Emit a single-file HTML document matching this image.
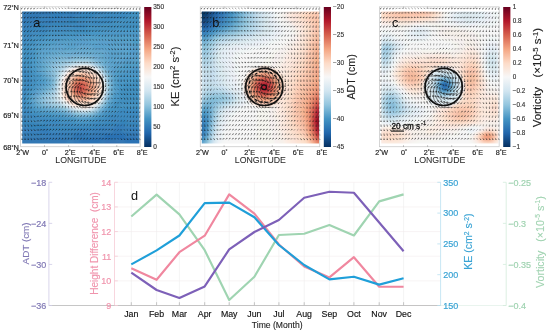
<!DOCTYPE html>
<html><head><meta charset="utf-8"><title>Figure</title>
<style>
html,body{margin:0;padding:0;background:#fff;width:550px;height:333px;overflow:hidden}
svg{display:block;will-change:transform}
text{font-family:"Liberation Sans",sans-serif}
</style></head><body>
<svg width="550" height="333" viewBox="0 0 550 333"><defs><filter id="bl" x="-5%" y="-5%" width="110%" height="110%"><feGaussianBlur stdDeviation="1.0"/></filter><clipPath id="dc"><rect x="1.8" y="4.9" width="117.2" height="132.1"/></clipPath><g id="arr"><path d="M2.4 1.1l-1.6 1.3l0.8 -0.2m-0.8 0.2l0.3 -0.8M5.5 1.1l-1.6 1.4l0.8 -0.2m-0.8 0.2l0.3 -0.8M8.6 1.1l-1.6 1.3l0.8 -0.2m-0.8 0.2l0.3 -0.8M11.7 1.2l-1.6 1.2l0.8 -0.1m-0.8 0.1l0.4 -0.8M14.9 1.3l-1.7 1.0l0.8 -0.0m-0.8 0.0l0.4 -0.7M18.0 1.5l-1.9 0.7M21.2 1.7l-2.0 0.2M24.3 2.0l-1.9 -0.4M27.3 2.2l-1.8 -0.9M30.3 2.4l-1.6 -1.2M33.4 2.4l-1.5 -1.3M36.4 2.5l-1.5 -1.3M39.6 2.4l-1.6 -1.3M42.7 2.3l-1.7 -1.1M45.9 2.2l-1.8 -0.8M49.1 2.0l-2.0 -0.4M52.2 1.7l-2.0 0.1M55.3 1.5l-1.9 0.5l0.8 0.2m-0.8 -0.2l0.6 -0.6M58.3 1.4l-1.9 0.8l0.8 0.1m-0.8 -0.1l0.5 -0.7M61.4 1.3l-1.8 1.0l0.8 -0.0m-0.8 0.0l0.5 -0.7M64.5 1.3l-1.8 1.1l0.8 -0.0m-0.8 0.0l0.4 -0.7M67.6 1.2l-1.7 1.1l0.9 -0.1m-0.9 0.1l0.4 -0.7M70.7 1.2l-1.8 1.1l0.9 -0.1m-0.9 0.1l0.4 -0.7M73.8 1.3l-1.8 1.0l0.9 -0.0m-0.9 0.0l0.4 -0.7M76.9 1.3l-1.9 0.9l0.9 0.0m-0.9 -0.0l0.5 -0.7M80.1 1.4l-1.9 0.8l0.9 0.1m-0.9 -0.1l0.5 -0.7M83.2 1.5l-2.0 0.6l0.8 0.2m-0.8 -0.2l0.6 -0.6M86.3 1.6l-2.1 0.5l0.8 0.2m-0.8 -0.2l0.6 -0.6M89.4 1.6l-2.1 0.3l0.8 0.3m-0.8 -0.3l0.7 -0.5M92.5 1.7l-2.1 0.3l0.8 0.3m-0.8 -0.3l0.7 -0.5M95.6 1.6l-2.1 0.4l0.8 0.3m-0.8 -0.3l0.7 -0.5M98.7 1.5l-2.0 0.6l0.8 0.2m-0.8 -0.2l0.6 -0.6M101.7 1.3l-1.9 1.0l0.9 0.0m-0.9 -0.0l0.5 -0.7M104.7 1.1l-1.6 1.4l0.8 -0.2m-0.8 0.2l0.3 -0.8M107.7 1.0l-1.3 1.7l0.8 -0.3m-0.8 0.3l0.1 -0.9M110.6 0.9l-1.1 1.9l0.7 -0.5m-0.7 0.5l0.0 -0.9M113.7 0.8l-0.9 2.0l0.7 -0.5m-0.7 0.5l-0.1 -0.9M116.7 0.8l-0.8 2.1l0.7 -0.6m-0.7 0.6l-0.1 -0.9M119.7 0.7l-0.7 2.1l0.6 -0.6m-0.6 0.6l-0.2 -0.9M2.5 5.7l-1.8 1.2l0.9 -0.1m-0.9 0.1l0.4 -0.8M5.6 5.7l-1.8 1.2l0.9 -0.1m-0.9 0.1l0.4 -0.8M8.7 5.7l-1.8 1.2l0.9 -0.1m-0.9 0.1l0.4 -0.8M11.8 5.8l-1.8 1.1l0.9 -0.0m-0.9 0.0l0.4 -0.7M14.9 5.8l-1.9 0.9l0.9 0.0m-0.9 -0.0l0.5 -0.7M18.1 5.9l-2.0 0.7l0.8 0.1m-0.8 -0.1l0.6 -0.6M21.2 6.1l-2.0 0.5l0.8 0.2m-0.8 -0.2l0.6 -0.6M24.3 6.2l-2.1 0.2l0.8 0.3m-0.8 -0.3l0.7 -0.5M27.4 6.3l-2.1 -0.1l0.7 0.4m-0.7 -0.4l0.8 -0.4M30.5 6.4l-2.1 -0.3l0.7 0.5m-0.7 -0.5l0.8 -0.3M33.6 6.5l-2.0 -0.4l0.7 0.6m-0.7 -0.6l0.8 -0.3M36.7 6.5l-2.0 -0.5l0.6 0.6m-0.6 -0.6l0.8 -0.2M39.8 6.6l-2.0 -0.5l0.6 0.6m-0.6 -0.6l0.8 -0.2M42.9 6.5l-2.1 -0.5l0.6 0.6m-0.6 -0.6l0.8 -0.2M46.0 6.5l-2.1 -0.4l0.7 0.5m-0.7 -0.5l0.8 -0.3M49.2 6.4l-2.1 -0.2l0.7 0.5m-0.7 -0.5l0.8 -0.3M52.3 6.3l-2.1 -0.0l0.8 0.4m-0.8 -0.4l0.8 -0.4M55.4 6.2l-2.1 0.2l0.8 0.4m-0.8 -0.4l0.7 -0.5M58.5 6.1l-2.1 0.3l0.8 0.3m-0.8 -0.3l0.7 -0.5M61.6 6.1l-2.1 0.5l0.8 0.2m-0.8 -0.2l0.6 -0.6M64.7 6.0l-2.1 0.6l0.9 0.2m-0.9 -0.2l0.6 -0.6M67.7 5.9l-2.1 0.7l0.9 0.2m-0.9 -0.2l0.6 -0.6M70.8 5.9l-2.1 0.8l0.9 0.1m-0.9 -0.1l0.6 -0.7M73.9 5.9l-2.1 0.8l0.9 0.1m-0.9 -0.1l0.6 -0.7M77.1 5.9l-2.1 0.7l0.9 0.1m-0.9 -0.1l0.6 -0.7M80.2 6.0l-2.1 0.7l0.9 0.2m-0.9 -0.2l0.6 -0.6M83.3 6.0l-2.2 0.6l0.9 0.2m-0.9 -0.2l0.6 -0.6M86.4 6.0l-2.2 0.5l0.8 0.2m-0.8 -0.2l0.7 -0.6M89.5 6.1l-2.2 0.5l0.8 0.3m-0.8 -0.3l0.7 -0.6M92.6 6.1l-2.2 0.4l0.8 0.3m-0.8 -0.3l0.7 -0.6M95.7 6.1l-2.2 0.5l0.8 0.2m-0.8 -0.2l0.7 -0.6M98.7 6.0l-2.1 0.6l0.9 0.2m-0.9 -0.2l0.6 -0.6M101.8 5.8l-2.0 0.9l0.9 0.0m-0.9 -0.0l0.5 -0.7M104.8 5.6l-1.7 1.3l0.9 -0.1m-0.9 0.1l0.4 -0.8M107.7 5.5l-1.5 1.6l0.8 -0.3m-0.8 0.3l0.2 -0.8M110.7 5.4l-1.2 1.8l0.8 -0.4m-0.8 0.4l0.1 -0.9M113.7 5.3l-1.0 2.0l0.7 -0.5m-0.7 0.5l-0.0 -0.9M116.7 5.3l-0.9 2.1l0.7 -0.6m-0.7 0.6l-0.1 -0.9M119.8 5.2l-0.7 2.1l0.6 -0.6m-0.6 0.6l-0.2 -0.9M2.6 10.3l-1.9 1.1l0.9 -0.0m-0.9 0.0l0.5 -0.7M5.6 10.2l-1.9 1.2l0.9 -0.0m-0.9 0.0l0.4 -0.8M8.8 10.2l-1.9 1.1l0.9 -0.0m-0.9 0.0l0.4 -0.8M11.9 10.3l-1.9 1.0l0.9 0.0m-0.9 -0.0l0.5 -0.7M15.0 10.3l-2.0 0.9l0.9 0.1m-0.9 -0.1l0.5 -0.7M18.1 10.4l-2.1 0.8l0.9 0.1m-0.9 -0.1l0.6 -0.7M21.3 10.5l-2.1 0.6l0.8 0.2m-0.8 -0.2l0.6 -0.6M24.4 10.6l-2.1 0.4l0.8 0.3m-0.8 -0.3l0.7 -0.5M27.5 10.7l-2.2 0.2l0.8 0.3m-0.8 -0.3l0.7 -0.5M30.6 10.8l-2.2 0.0l0.8 0.4m-0.8 -0.4l0.8 -0.4M33.7 10.9l-2.2 -0.1l0.7 0.5m-0.7 -0.5l0.8 -0.4M36.8 10.9l-2.2 -0.2l0.7 0.5m-0.7 -0.5l0.8 -0.3M39.9 10.9l-2.2 -0.3l0.7 0.5m-0.7 -0.5l0.8 -0.3M43.0 10.9l-2.2 -0.3l0.7 0.5m-0.7 -0.5l0.8 -0.3M46.1 10.9l-2.2 -0.2l0.7 0.5m-0.7 -0.5l0.8 -0.3M49.2 10.9l-2.2 -0.2l0.7 0.5m-0.7 -0.5l0.8 -0.4M52.3 10.8l-2.3 -0.1l0.8 0.4m-0.8 -0.4l0.8 -0.4M55.4 10.8l-2.3 0.1l0.8 0.4m-0.8 -0.4l0.8 -0.4M58.5 10.7l-2.3 0.2l0.8 0.4m-0.8 -0.4l0.7 -0.5M61.6 10.6l-2.3 0.3l0.8 0.3m-0.8 -0.3l0.7 -0.5M64.7 10.6l-2.3 0.4l0.8 0.3m-0.8 -0.3l0.7 -0.6M67.8 10.5l-2.3 0.5l0.9 0.2m-0.9 -0.2l0.7 -0.6M70.9 10.5l-2.2 0.6l0.9 0.2m-0.9 -0.2l0.6 -0.6M74.0 10.5l-2.2 0.6l0.9 0.2m-0.9 -0.2l0.6 -0.6M77.1 10.5l-2.2 0.7l0.9 0.2m-0.9 -0.2l0.6 -0.6M80.2 10.5l-2.2 0.7l0.9 0.2m-0.9 -0.2l0.6 -0.6M83.3 10.5l-2.2 0.6l0.9 0.2m-0.9 -0.2l0.6 -0.6M86.4 10.5l-2.2 0.6l0.9 0.2m-0.9 -0.2l0.7 -0.6M89.5 10.5l-2.2 0.5l0.9 0.2m-0.9 -0.2l0.7 -0.6M92.6 10.5l-2.2 0.5l0.9 0.2m-0.9 -0.2l0.7 -0.6M95.7 10.5l-2.2 0.6l0.9 0.2m-0.9 -0.2l0.6 -0.6M98.8 10.4l-2.1 0.7l0.9 0.1m-0.9 -0.1l0.6 -0.7M101.8 10.3l-2.0 1.0l0.9 0.0m-0.9 -0.0l0.5 -0.7M104.8 10.1l-1.8 1.3l0.9 -0.1m-0.9 0.1l0.4 -0.8M107.7 10.0l-1.5 1.6l0.8 -0.3m-0.8 0.3l0.2 -0.8M110.7 9.9l-1.2 1.8l0.8 -0.4m-0.8 0.4l0.1 -0.9M113.7 9.8l-1.0 2.0l0.7 -0.5m-0.7 0.5l-0.0 -0.9M116.7 9.8l-0.8 2.1l0.7 -0.6m-0.7 0.6l-0.1 -0.9M119.7 9.7l-0.7 2.1l0.6 -0.6m-0.6 0.6l-0.2 -0.9M2.6 14.7l-1.9 1.2l0.9 -0.0m-0.9 0.0l0.4 -0.8M5.6 14.7l-1.9 1.2l0.9 -0.1m-0.9 0.1l0.4 -0.8M8.8 14.7l-1.9 1.2l0.9 -0.1m-0.9 0.1l0.4 -0.8M11.9 14.7l-2.0 1.1l0.9 -0.0m-0.9 0.0l0.5 -0.8M15.0 14.8l-2.0 1.0l0.9 0.0m-0.9 -0.0l0.5 -0.7M18.1 14.9l-2.1 0.8l0.9 0.1m-0.9 -0.1l0.6 -0.7M21.3 15.0l-2.1 0.7l0.9 0.2m-0.9 -0.2l0.6 -0.6M24.4 15.1l-2.2 0.5l0.8 0.2m-0.8 -0.2l0.7 -0.6M27.5 15.1l-2.2 0.3l0.8 0.3m-0.8 -0.3l0.7 -0.5M30.6 15.2l-2.2 0.2l0.8 0.4m-0.8 -0.4l0.7 -0.5M33.7 15.3l-2.3 0.0l0.8 0.4m-0.8 -0.4l0.8 -0.4M36.8 15.3l-2.3 -0.1l0.8 0.5m-0.8 -0.5l0.8 -0.4M39.9 15.4l-2.3 -0.2l0.7 0.5m-0.7 -0.5l0.8 -0.4M43.0 15.4l-2.3 -0.2l0.7 0.5m-0.7 -0.5l0.8 -0.4M46.1 15.4l-2.3 -0.2l0.7 0.5m-0.7 -0.5l0.8 -0.4M49.2 15.4l-2.3 -0.2l0.7 0.5m-0.7 -0.5l0.8 -0.4M52.4 15.4l-2.3 -0.1l0.8 0.5m-0.8 -0.5l0.8 -0.4M55.5 15.3l-2.3 -0.0l0.8 0.4m-0.8 -0.4l0.8 -0.4M58.6 15.3l-2.3 0.1l0.8 0.4m-0.8 -0.4l0.8 -0.5M61.7 15.2l-2.3 0.2l0.8 0.4m-0.8 -0.4l0.8 -0.5M64.8 15.1l-2.3 0.3l0.8 0.3m-0.8 -0.3l0.7 -0.5M67.9 15.1l-2.3 0.4l0.9 0.3m-0.9 -0.3l0.7 -0.6M70.9 15.0l-2.3 0.5l0.9 0.2m-0.9 -0.2l0.7 -0.6M74.0 15.0l-2.3 0.6l0.9 0.2m-0.9 -0.2l0.7 -0.6M77.1 15.0l-2.3 0.6l0.9 0.2m-0.9 -0.2l0.6 -0.6M80.2 15.0l-2.2 0.7l0.9 0.2m-0.9 -0.2l0.6 -0.6M83.3 15.0l-2.2 0.7l0.9 0.2m-0.9 -0.2l0.6 -0.6M86.4 15.0l-2.2 0.7l0.9 0.2m-0.9 -0.2l0.6 -0.6M89.5 15.0l-2.2 0.7l0.9 0.2m-0.9 -0.2l0.6 -0.6M92.6 15.0l-2.2 0.7l0.9 0.2m-0.9 -0.2l0.6 -0.6M95.7 14.9l-2.1 0.7l0.9 0.1m-0.9 -0.1l0.6 -0.7M98.7 14.8l-2.0 0.9l0.9 0.1m-0.9 -0.1l0.5 -0.7M101.7 14.7l-1.9 1.2l0.9 -0.1m-0.9 0.1l0.4 -0.8M104.7 14.6l-1.6 1.5l0.8 -0.2m-0.8 0.2l0.3 -0.8M107.6 14.4l-1.3 1.8l0.8 -0.4m-0.8 0.4l0.1 -0.9M110.6 14.3l-1.0 2.0l0.7 -0.5m-0.7 0.5l-0.0 -0.9M113.6 14.3l-0.8 2.1l0.7 -0.6m-0.7 0.6l-0.1 -0.9M116.6 14.2l-0.6 2.1l0.6 -0.6m-0.6 0.6l-0.2 -0.9M119.6 14.2l-0.5 2.2l0.6 -0.7m-0.6 0.7l-0.2 -0.8M2.5 19.1l-1.8 1.4l0.9 -0.1m-0.9 0.1l0.3 -0.8M5.6 19.1l-1.7 1.5l0.9 -0.2m-0.9 0.2l0.3 -0.8M8.7 19.1l-1.8 1.4l0.9 -0.2m-0.9 0.2l0.3 -0.8M11.8 19.1l-1.8 1.3l0.9 -0.1m-0.9 0.1l0.4 -0.8M15.0 19.2l-1.9 1.1l0.9 -0.0m-0.9 0.0l0.5 -0.8M18.1 19.3l-2.0 0.9l0.9 0.1m-0.9 -0.1l0.5 -0.7M21.2 19.4l-2.1 0.8l0.9 0.1m-0.9 -0.1l0.6 -0.7M24.4 19.5l-2.1 0.6l0.9 0.2m-0.9 -0.2l0.6 -0.6M27.5 19.6l-2.2 0.4l0.8 0.3m-0.8 -0.3l0.7 -0.6M30.6 19.7l-2.2 0.3l0.8 0.3m-0.8 -0.3l0.7 -0.5M33.7 19.7l-2.2 0.1l0.8 0.4m-0.8 -0.4l0.7 -0.5M36.8 19.8l-2.2 -0.0l0.8 0.4m-0.8 -0.4l0.8 -0.4M39.9 19.9l-2.2 -0.1l0.7 0.5m-0.7 -0.5l0.8 -0.4M43.0 19.9l-2.2 -0.2l0.7 0.5m-0.7 -0.5l0.8 -0.3M46.1 19.9l-2.2 -0.3l0.7 0.5m-0.7 -0.5l0.8 -0.3M49.2 19.9l-2.3 -0.3l0.7 0.5m-0.7 -0.5l0.8 -0.3M52.3 19.9l-2.3 -0.2l0.7 0.5m-0.7 -0.5l0.8 -0.3M55.4 19.9l-2.3 -0.2l0.7 0.5m-0.7 -0.5l0.8 -0.4M58.5 19.8l-2.3 -0.1l0.8 0.5m-0.8 -0.5l0.8 -0.4M61.6 19.8l-2.3 0.0l0.8 0.4m-0.8 -0.4l0.8 -0.4M64.7 19.7l-2.3 0.2l0.8 0.4m-0.8 -0.4l0.7 -0.5M67.8 19.6l-2.3 0.3l0.8 0.3m-0.8 -0.3l0.7 -0.5M70.9 19.6l-2.2 0.4l0.8 0.3m-0.8 -0.3l0.7 -0.6M74.0 19.5l-2.2 0.6l0.9 0.2m-0.9 -0.2l0.6 -0.6M77.1 19.5l-2.2 0.7l0.9 0.2m-0.9 -0.2l0.6 -0.6M80.2 19.4l-2.1 0.7l0.9 0.2m-0.9 -0.2l0.6 -0.7M83.3 19.4l-2.1 0.8l0.9 0.1m-0.9 -0.1l0.6 -0.7M86.3 19.4l-2.1 0.8l0.9 0.1m-0.9 -0.1l0.6 -0.7M89.4 19.4l-2.1 0.8l0.9 0.1m-0.9 -0.1l0.6 -0.7M92.5 19.4l-2.0 0.9l0.9 0.1m-0.9 -0.1l0.5 -0.7M95.6 19.3l-1.9 1.0l0.9 0.0m-0.9 -0.0l0.5 -0.7M98.6 19.2l-1.8 1.2l0.9 -0.1m-0.9 0.1l0.4 -0.8M101.6 19.0l-1.5 1.5l0.8 -0.2m-0.8 0.2l0.2 -0.8M104.5 18.9l-1.2 1.8l0.8 -0.4m-0.8 0.4l0.1 -0.9M107.4 18.8l-0.8 2.0l0.7 -0.5m-0.7 0.5l-0.1 -0.9M110.4 18.8l-0.6 2.1l0.6 -0.6m-0.6 0.6l-0.2 -0.8M113.4 18.7l-0.4 2.1l0.5 -0.7m-0.5 0.7l-0.3 -0.8M116.4 18.7l-0.3 2.2l0.5 -0.7m-0.5 0.7l-0.3 -0.8M119.5 18.7l-0.2 2.2l0.5 -0.7m-0.5 0.7l-0.4 -0.8M2.3 23.5l-1.5 1.7l0.8 -0.3m-0.8 0.3l0.2 -0.9M5.4 23.4l-1.5 1.7l0.8 -0.3m-0.8 0.3l0.2 -0.9M8.6 23.5l-1.5 1.7l0.8 -0.3m-0.8 0.3l0.2 -0.9M11.7 23.5l-1.6 1.5l0.8 -0.2m-0.8 0.2l0.3 -0.8M14.9 23.6l-1.7 1.4l0.9 -0.1m-0.9 0.1l0.3 -0.8M18.0 23.7l-1.8 1.1l0.9 -0.0m-0.9 0.0l0.4 -0.8M21.2 23.8l-1.9 0.9l0.9 0.0m-0.9 -0.0l0.5 -0.7M24.3 23.9l-2.0 0.8l0.9 0.1m-0.9 -0.1l0.6 -0.7M27.4 24.0l-2.1 0.6l0.8 0.2m-0.8 -0.2l0.6 -0.6M30.6 24.1l-2.1 0.4l0.8 0.3m-0.8 -0.3l0.7 -0.6M33.7 24.2l-2.1 0.2l0.8 0.3m-0.8 -0.3l0.7 -0.5M36.8 24.3l-2.2 0.0l0.8 0.4m-0.8 -0.4l0.8 -0.4M39.9 24.4l-2.2 -0.1l0.7 0.5m-0.7 -0.5l0.8 -0.4M43.0 24.4l-2.2 -0.3l0.7 0.5m-0.7 -0.5l0.8 -0.3M46.1 24.5l-2.1 -0.4l0.7 0.5m-0.7 -0.5l0.8 -0.3M49.2 24.5l-2.1 -0.4l0.7 0.6m-0.7 -0.6l0.8 -0.3M52.3 24.5l-2.1 -0.4l0.7 0.6m-0.7 -0.6l0.8 -0.3M55.4 24.5l-2.1 -0.4l0.7 0.6m-0.7 -0.6l0.8 -0.3M58.5 24.5l-2.1 -0.3l0.7 0.5m-0.7 -0.5l0.8 -0.3M61.6 24.4l-2.1 -0.2l0.7 0.5m-0.7 -0.5l0.8 -0.3M64.7 24.3l-2.2 -0.0l0.8 0.4m-0.8 -0.4l0.8 -0.4M67.8 24.2l-2.1 0.2l0.8 0.4m-0.8 -0.4l0.7 -0.5M70.9 24.1l-2.1 0.4l0.8 0.3m-0.8 -0.3l0.7 -0.5M73.9 24.0l-2.1 0.6l0.8 0.2m-0.8 -0.2l0.6 -0.6M77.0 23.9l-2.0 0.8l0.9 0.1m-0.9 -0.1l0.6 -0.7M80.1 23.8l-1.9 0.9l0.9 0.0m-0.9 -0.0l0.5 -0.7M83.1 23.8l-1.8 1.0l0.9 -0.0m-0.9 0.0l0.5 -0.7M86.2 23.7l-1.8 1.1l0.9 -0.1m-0.9 0.1l0.4 -0.8M89.2 23.7l-1.7 1.2l0.8 -0.1m-0.8 0.1l0.4 -0.8M92.3 23.6l-1.6 1.4l0.8 -0.2m-0.8 0.2l0.3 -0.8M95.3 23.5l-1.4 1.5l0.8 -0.3m-0.8 0.3l0.2 -0.8M98.3 23.4l-1.1 1.8l0.8 -0.4m-0.8 0.4l0.1 -0.9M101.2 23.3l-0.8 1.9l0.7 -0.5m-0.7 0.5l-0.1 -0.9M104.1 23.3l-0.5 2.1l0.6 -0.6m-0.6 0.6l-0.2 -0.8M107.1 23.2l-0.2 2.1l0.5 -0.7m-0.5 0.7l-0.3 -0.8M110.1 23.2l-0.0 2.2l0.4 -0.8m-0.4 0.8l-0.4 -0.8M113.2 23.2l0.1 2.2l0.4 -0.8m-0.4 0.8l-0.4 -0.8M116.2 23.2l0.1 2.2l0.4 -0.8m-0.4 0.8l-0.5 -0.7M119.3 23.2l0.1 2.2l0.4 -0.8m-0.4 0.8l-0.5 -0.7M2.2 27.9l-1.3 1.8l0.8 -0.4m-0.8 0.4l0.1 -0.9M5.3 27.9l-1.2 1.9l0.8 -0.4m-0.8 0.4l0.1 -0.9M8.4 27.9l-1.3 1.9l0.8 -0.4m-0.8 0.4l0.1 -0.9M11.6 27.9l-1.4 1.7l0.8 -0.3m-0.8 0.3l0.1 -0.9M14.7 28.0l-1.5 1.5l0.8 -0.3m-0.8 0.3l0.2 -0.8M17.9 28.1l-1.6 1.3l0.8 -0.2m-0.8 0.2l0.3 -0.8M21.1 28.2l-1.8 1.2l0.9 -0.1m-0.9 0.1l0.4 -0.8M24.2 28.3l-1.8 1.0l0.9 0.0m-0.9 -0.0l0.5 -0.7M27.4 28.4l-1.9 0.8l0.9 0.1m-0.9 -0.1l0.5 -0.7M30.5 28.5l-2.0 0.6l0.8 0.2m-0.8 -0.2l0.6 -0.6M33.6 28.6l-2.0 0.4l0.8 0.3m-0.8 -0.3l0.7 -0.5M36.7 28.7l-2.1 0.2l0.8 0.4m-0.8 -0.4l0.7 -0.5M39.8 28.9l-2.1 -0.1l0.7 0.4m-0.7 -0.4l0.8 -0.4M42.9 29.0l-2.0 -0.3l0.7 0.5m-0.7 -0.5l0.8 -0.3M46.0 29.1l-2.0 -0.6l0.6 0.6m-0.6 -0.6l0.8 -0.2M49.1 29.2l-2.0 -0.7l0.6 0.6m-0.6 -0.6l0.8 -0.1M52.2 29.2l-1.9 -0.8l0.5 0.7m-0.5 -0.7l0.8 -0.1M55.2 29.2l-1.9 -0.8l0.5 0.7m-0.5 -0.7l0.8 -0.1M58.3 29.2l-1.9 -0.8l0.5 0.7m-0.5 -0.7l0.8 -0.1M61.5 29.2l-1.9 -0.7l0.5 0.6m-0.5 -0.6l0.8 -0.1M64.6 29.1l-2.0 -0.6l0.6 0.6m-0.6 -0.6l0.8 -0.2M67.7 28.9l-2.0 -0.3l0.7 0.5m-0.7 -0.5l0.8 -0.3M70.8 28.7l-2.0 0.1l0.8 0.3m-0.8 -0.3l0.7 -0.5M73.8 28.5l-1.9 0.6M76.8 28.3l-1.7 1.1M79.8 28.1l-1.4 1.4l0.8 -0.2m-0.8 0.2l0.2 -0.8M82.8 28.0l-1.1 1.7l0.7 -0.4m-0.7 0.4l0.1 -0.8M85.7 27.9l-0.9 1.8l0.7 -0.5m-0.7 0.5l-0.0 -0.8M88.7 27.8l-0.7 1.9l0.6 -0.6m-0.6 0.6l-0.1 -0.8M91.7 27.8l-0.5 2.0l0.6 -0.6m-0.6 0.6l-0.2 -0.8M94.7 27.8l-0.2 2.0l0.5 -0.7m-0.5 0.7l-0.3 -0.8M97.7 27.8l-0.1 2.1l0.4 -0.7m-0.4 0.7l-0.4 -0.8M100.8 27.8l0.1 2.1l0.4 -0.8m-0.4 0.8l-0.4 -0.7M103.8 27.7l0.2 2.1l0.3 -0.8m-0.3 0.8l-0.5 -0.7M106.9 27.7l0.3 2.1l0.3 -0.8m-0.3 0.8l-0.5 -0.7M109.9 27.7l0.3 2.1l0.3 -0.8m-0.3 0.8l-0.5 -0.7M113.0 27.7l0.3 2.2l0.3 -0.8m-0.3 0.8l-0.5 -0.7M116.1 27.7l0.3 2.2l0.3 -0.8m-0.3 0.8l-0.5 -0.7M119.3 27.7l0.3 2.2l0.3 -0.8m-0.3 0.8l-0.5 -0.7M2.2 32.4l-1.2 1.9l0.8 -0.4m-0.8 0.4l0.0 -0.9M5.3 32.3l-1.1 2.0l0.8 -0.5m-0.8 0.5l0.0 -0.9M8.4 32.3l-1.2 1.9l0.8 -0.4m-0.8 0.4l0.0 -0.9M11.5 32.4l-1.2 1.8l0.8 -0.4m-0.8 0.4l0.1 -0.9M14.7 32.5l-1.3 1.7l0.8 -0.3m-0.8 0.3l0.2 -0.8M17.8 32.6l-1.5 1.5l0.8 -0.2m-0.8 0.2l0.2 -0.8M21.0 32.6l-1.6 1.3l0.8 -0.2m-0.8 0.2l0.3 -0.8M24.1 32.7l-1.6 1.2l0.8 -0.1m-0.8 0.1l0.4 -0.8M27.3 32.7l-1.7 1.1l0.8 -0.1m-0.8 0.1l0.4 -0.7M30.4 32.8l-1.8 1.0l0.8 -0.0m-0.8 0.0l0.5 -0.7M33.5 32.9l-1.9 0.8l0.8 0.1m-0.8 -0.1l0.5 -0.7M36.7 33.1l-2.0 0.5l0.8 0.2m-0.8 -0.2l0.6 -0.6M39.8 33.3l-2.0 0.1l0.8 0.4m-0.8 -0.4l0.7 -0.4M42.9 33.5l-2.0 -0.4M45.9 33.7l-1.8 -0.8M48.9 33.9l-1.6 -1.2M51.9 34.0l-1.4 -1.4M54.9 34.1l-1.2 -1.6M57.9 34.1l-1.1 -1.7M61.0 34.2l-0.9 -1.8M64.0 34.2l-0.8 -1.8M67.0 34.2l-0.7 -1.8M70.0 34.2l-0.4 -1.9M72.0 32.9l1.7 0.8M75.6 32.4l0.9 1.7M78.7 32.4l0.8 1.8M81.8 32.4l0.7 1.8M84.9 32.4l0.7 1.9M88.1 32.4l0.7 1.9l0.1 -0.8m-0.1 0.8l-0.6 -0.6M91.2 32.3l0.7 1.9l0.1 -0.8m-0.1 0.8l-0.6 -0.6M94.3 32.3l0.6 2.0l0.2 -0.8m-0.2 0.8l-0.6 -0.6M97.4 32.3l0.6 2.0l0.2 -0.8m-0.2 0.8l-0.6 -0.6M100.6 32.3l0.5 2.1l0.2 -0.8m-0.2 0.8l-0.6 -0.6M103.7 32.3l0.4 2.1l0.2 -0.8m-0.2 0.8l-0.6 -0.7M106.8 32.2l0.4 2.1l0.3 -0.8m-0.3 0.8l-0.6 -0.7M109.9 32.2l0.4 2.2l0.3 -0.8m-0.3 0.8l-0.5 -0.7M113.0 32.2l0.3 2.2l0.3 -0.8m-0.3 0.8l-0.5 -0.7M116.2 32.2l0.3 2.2l0.3 -0.8m-0.3 0.8l-0.5 -0.7M119.3 32.2l0.2 2.2l0.3 -0.8m-0.3 0.8l-0.5 -0.7M2.2 36.9l-1.2 1.9l0.8 -0.4m-0.8 0.4l0.1 -0.9M5.3 36.8l-1.1 1.9l0.8 -0.5m-0.8 0.5l0.0 -0.9M8.4 36.8l-1.1 1.9l0.8 -0.4m-0.8 0.4l0.0 -0.9M11.5 36.9l-1.2 1.8l0.8 -0.4m-0.8 0.4l0.1 -0.9M14.6 37.0l-1.3 1.7l0.8 -0.4m-0.8 0.4l0.1 -0.8M17.8 37.0l-1.4 1.6l0.8 -0.3m-0.8 0.3l0.2 -0.8M20.9 37.1l-1.4 1.5l0.8 -0.3m-0.8 0.3l0.2 -0.8M24.0 37.1l-1.4 1.5l0.8 -0.3m-0.8 0.3l0.2 -0.8M27.1 37.1l-1.4 1.5l0.8 -0.3m-0.8 0.3l0.2 -0.8M30.2 37.1l-1.4 1.5l0.8 -0.3m-0.8 0.3l0.2 -0.8M33.3 37.1l-1.4 1.4M36.5 37.2l-1.5 1.2M39.7 37.4l-1.7 0.9M42.9 37.8l-1.9 0.0M45.7 38.5l-1.4 -1.3M48.4 38.7l-0.5 -1.9M51.2 38.8l-0.0 -2.0M54.2 38.8l0.3 -2.0M57.2 38.8l0.5 -1.9M60.2 38.7l0.7 -1.9M63.1 38.7l0.9 -1.7M66.1 38.6l1.2 -1.6M69.0 38.4l1.5 -1.2M72.0 38.1l1.8 -0.7M75.0 37.8l2.0 0.0M78.2 37.4l1.8 0.7M81.4 37.2l1.6 1.2M84.6 37.1l1.4 1.5M87.8 37.0l1.2 1.6l-0.1 -0.8m0.1 0.8l-0.8 -0.4M91.0 36.9l1.0 1.8l0.0 -0.8m-0.0 0.8l-0.7 -0.5M94.2 36.8l0.8 1.9l0.1 -0.8m-0.1 0.8l-0.7 -0.5M97.4 36.8l0.6 2.0l0.2 -0.8m-0.2 0.8l-0.6 -0.6M100.6 36.8l0.5 2.1l0.2 -0.8m-0.2 0.8l-0.6 -0.6M103.7 36.7l0.4 2.1l0.3 -0.8m-0.3 0.8l-0.5 -0.7M106.9 36.7l0.3 2.2l0.3 -0.8m-0.3 0.8l-0.5 -0.7M110.0 36.7l0.2 2.2l0.3 -0.8m-0.3 0.8l-0.5 -0.7M113.1 36.7l0.1 2.2l0.4 -0.8m-0.4 0.8l-0.5 -0.7M116.3 36.7l0.1 2.2l0.4 -0.8m-0.4 0.8l-0.4 -0.8M119.4 36.7l-0.0 2.2l0.4 -0.8m-0.4 0.8l-0.4 -0.8M2.2 41.4l-1.2 1.8l0.8 -0.4m-0.8 0.4l0.1 -0.9M5.3 41.3l-1.1 1.9l0.8 -0.4m-0.8 0.4l0.0 -0.9M8.4 41.3l-1.1 1.9l0.8 -0.5m-0.8 0.5l0.0 -0.9M11.5 41.4l-1.1 1.8l0.8 -0.4m-0.8 0.4l0.0 -0.9M14.6 41.4l-1.2 1.7l0.8 -0.4m-0.8 0.4l0.1 -0.9M17.7 41.5l-1.2 1.6l0.8 -0.4m-0.8 0.4l0.1 -0.8M20.8 41.5l-1.2 1.6l0.8 -0.4m-0.8 0.4l0.1 -0.8M23.8 41.4l-1.0 1.7M26.8 41.4l-0.8 1.8M29.8 41.4l-0.6 1.9M32.8 41.3l-0.4 1.9M35.8 41.3l-0.2 1.9M38.7 41.3l0.2 1.9M41.3 41.5l1.2 1.5M44.0 42.4l1.9 -0.2M47.3 42.8l1.6 -1.1M50.5 43.0l1.4 -1.4M53.6 43.0l1.3 -1.5M56.8 43.1l1.3 -1.5M59.8 43.1l1.3 -1.5l-0.8 0.3m0.8 -0.3l-0.2 0.8M62.9 43.0l1.4 -1.5l-0.8 0.3m0.8 -0.3l-0.2 0.8M66.0 43.0l1.5 -1.4l-0.8 0.2m0.8 -0.2l-0.3 0.8M69.0 42.9l1.6 -1.2M72.0 42.8l1.8 -0.9M75.0 42.6l1.9 -0.5M78.1 42.3l2.0 0.1M81.3 41.9l1.8 0.7M84.5 41.7l1.5 1.3M87.8 41.5l1.2 1.6l-0.1 -0.8m0.1 0.8l-0.8 -0.4M91.1 41.4l0.9 1.8l0.1 -0.8m-0.1 0.8l-0.7 -0.5M94.3 41.3l0.6 2.0l0.2 -0.8m-0.2 0.8l-0.6 -0.6M97.5 41.3l0.4 2.1l0.3 -0.8m-0.3 0.8l-0.5 -0.7M100.7 41.2l0.2 2.1l0.3 -0.8m-0.3 0.8l-0.5 -0.7M103.8 41.2l0.1 2.2l0.4 -0.8m-0.4 0.8l-0.5 -0.7M107.0 41.2l0.0 2.2l0.4 -0.8m-0.4 0.8l-0.4 -0.8M110.1 41.2l-0.0 2.2l0.4 -0.8m-0.4 0.8l-0.4 -0.8M113.3 41.2l-0.1 2.2l0.5 -0.7m-0.5 0.7l-0.4 -0.8M116.4 41.2l-0.2 2.2l0.5 -0.7m-0.5 0.7l-0.4 -0.8M119.5 41.2l-0.3 2.2l0.5 -0.7m-0.5 0.7l-0.3 -0.8M2.2 45.9l-1.2 1.9l0.8 -0.4m-0.8 0.4l0.1 -0.9M5.2 45.8l-1.1 1.9l0.7 -0.5m-0.7 0.5l0.0 -0.9M8.3 45.8l-1.0 1.9l0.7 -0.5m-0.7 0.5l-0.0 -0.9M11.4 45.9l-1.0 1.9l0.7 -0.5m-0.7 0.5l-0.0 -0.9M14.5 45.9l-1.0 1.8l0.7 -0.5m-0.7 0.5l0.0 -0.8M17.5 45.9l-0.9 1.8l0.7 -0.5m-0.7 0.5l-0.0 -0.8M20.5 45.9l-0.6 1.9M23.4 45.8l-0.2 2.0M26.4 45.8l0.1 2.0M29.3 45.8l0.4 1.9M32.3 45.9l0.6 1.9M35.3 45.9l0.9 1.8M38.2 46.0l1.2 1.5M41.1 46.2l1.6 1.2M44.1 46.5l1.9 0.5M47.1 46.9l2.0 -0.1M50.3 47.1l1.9 -0.6M53.4 47.3l1.8 -0.9l-0.8 -0.0m0.8 0.0l-0.5 0.7M56.6 47.3l1.7 -1.1l-0.8 0.1m0.8 -0.1l-0.4 0.7M59.7 47.4l1.7 -1.2l-0.8 0.1m0.8 -0.1l-0.4 0.8M62.8 47.4l1.6 -1.2l-0.8 0.1m0.8 -0.1l-0.4 0.8M65.9 47.4l1.6 -1.2l-0.8 0.1m0.8 -0.1l-0.4 0.8M69.0 47.4l1.7 -1.1l-0.8 0.1m0.8 -0.1l-0.4 0.8M72.1 47.3l1.7 -1.1M75.1 47.2l1.8 -0.9M78.1 47.0l1.9 -0.5M81.2 46.6l1.9 0.3M84.6 46.1l1.5 1.3M88.0 45.9l0.8 1.8M91.3 45.8l0.4 2.0l0.3 -0.8m-0.3 0.8l-0.5 -0.6M94.5 45.8l0.1 2.0l0.4 -0.8m-0.4 0.8l-0.5 -0.7M97.7 45.8l-0.0 2.1l0.4 -0.7m-0.4 0.7l-0.4 -0.8M100.9 45.7l-0.1 2.1l0.5 -0.7m-0.5 0.7l-0.4 -0.8M104.0 45.7l-0.2 2.2l0.5 -0.7m-0.5 0.7l-0.4 -0.8M107.1 45.7l-0.2 2.2l0.5 -0.7m-0.5 0.7l-0.3 -0.8M110.2 45.7l-0.3 2.2l0.5 -0.7m-0.5 0.7l-0.3 -0.8M113.4 45.7l-0.3 2.2l0.5 -0.7m-0.5 0.7l-0.3 -0.8M116.5 45.7l-0.4 2.2l0.6 -0.7m-0.6 0.7l-0.3 -0.8M119.6 45.7l-0.4 2.2l0.6 -0.7m-0.6 0.7l-0.3 -0.8M2.1 50.3l-1.0 1.9l0.7 -0.5m-0.7 0.5l-0.0 -0.9M5.2 50.3l-0.9 2.0l0.7 -0.5m-0.7 0.5l-0.1 -0.9M8.2 50.3l-0.9 2.0l0.7 -0.5m-0.7 0.5l-0.1 -0.9M11.3 50.3l-0.8 2.0l0.7 -0.6m-0.7 0.6l-0.1 -0.8M14.3 50.3l-0.6 1.9l0.6 -0.6m-0.6 0.6l-0.2 -0.8M17.2 50.3l-0.1 2.0M19.9 50.4l0.5 1.9M22.8 50.4l0.9 1.7M25.9 50.5l1.0 1.7M28.9 50.5l1.1 1.7M32.0 50.5l1.2 1.6M35.0 50.5l1.3 1.5l-0.2 -0.8m0.2 0.8l-0.8 -0.3M38.1 50.6l1.5 1.4l-0.3 -0.8m0.3 0.8l-0.8 -0.2M41.1 50.7l1.7 1.1M44.1 51.0l1.9 0.7M47.1 51.2l2.0 0.2l-0.7 -0.5m0.7 0.5l-0.8 0.3M50.2 51.4l2.0 -0.3l-0.8 -0.3m0.8 0.3l-0.7 0.5M53.3 51.5l2.0 -0.5l-0.8 -0.2m0.8 0.2l-0.6 0.6M56.4 51.6l2.0 -0.6l-0.8 -0.2m0.8 0.2l-0.6 0.6M59.5 51.6l2.0 -0.6l-0.8 -0.2m0.8 0.2l-0.6 0.6M62.6 51.6l2.0 -0.5l-0.8 -0.2m0.8 0.2l-0.6 0.6M65.7 51.5l2.0 -0.5l-0.8 -0.2m0.8 0.2l-0.6 0.6M68.8 51.5l2.0 -0.4l-0.8 -0.2m0.8 0.2l-0.6 0.6M71.9 51.5l2.0 -0.4l-0.8 -0.2m0.8 0.2l-0.6 0.6M75.0 51.5l1.9 -0.5M78.2 51.6l1.9 -0.5M81.2 51.3l1.9 -0.0M85.0 50.4l0.6 1.8M88.6 50.3l-0.3 1.9M91.7 50.3l-0.5 1.9M94.8 50.3l-0.5 2.0l0.6 -0.6m-0.6 0.6l-0.2 -0.8M97.9 50.3l-0.5 2.0l0.6 -0.6m-0.6 0.6l-0.2 -0.8M101.0 50.3l-0.4 2.1l0.6 -0.7m-0.6 0.7l-0.2 -0.8M104.1 50.2l-0.4 2.2l0.6 -0.7m-0.6 0.7l-0.3 -0.8M107.2 50.2l-0.4 2.2l0.6 -0.7m-0.6 0.7l-0.3 -0.8M110.3 50.2l-0.4 2.2l0.6 -0.7m-0.6 0.7l-0.3 -0.8M113.4 50.2l-0.5 2.2l0.6 -0.7m-0.6 0.7l-0.3 -0.8M116.5 50.2l-0.5 2.2l0.6 -0.7m-0.6 0.7l-0.2 -0.8M119.7 50.2l-0.5 2.2l0.6 -0.7m-0.6 0.7l-0.2 -0.9M2.0 54.8l-0.8 2.0l0.7 -0.6m-0.7 0.6l-0.1 -0.9M5.0 54.8l-0.7 2.1l0.6 -0.6m-0.6 0.6l-0.2 -0.9M8.1 54.8l-0.6 2.1l0.6 -0.6m-0.6 0.6l-0.2 -0.8M11.1 54.8l-0.4 2.0l0.5 -0.7m-0.5 0.7l-0.3 -0.8M14.0 54.8l0.1 2.0M16.6 55.0l1.0 1.7M19.4 55.2l1.6 1.1M22.5 55.3l1.7 1.1M25.6 55.2l1.6 1.2M28.8 55.1l1.5 1.3M31.9 55.1l1.4 1.4l-0.3 -0.8m0.3 0.8l-0.8 -0.2M35.0 55.1l1.5 1.4l-0.3 -0.8m0.3 0.8l-0.8 -0.2M38.0 55.2l1.6 1.3l-0.3 -0.8m0.3 0.8l-0.8 -0.1M41.0 55.3l1.8 0.9l-0.5 -0.7m0.5 0.7l-0.8 0.0M44.0 55.6l2.0 0.4l-0.7 -0.5m0.7 0.5l-0.8 0.3M47.1 55.9l2.1 -0.1l-0.8 -0.4m0.8 0.4l-0.7 0.4M50.1 56.0l2.1 -0.4l-0.8 -0.3m0.8 0.3l-0.7 0.5M53.2 56.0l2.2 -0.4l-0.8 -0.3m0.8 0.3l-0.7 0.6M56.2 56.0l2.3 -0.3l-0.8 -0.3m0.8 0.3l-0.7 0.5M59.3 55.9l2.4 -0.1l-0.8 -0.4m0.8 0.4l-0.8 0.5M62.4 55.8l2.4 0.1l-0.8 -0.5m0.8 0.5l-0.8 0.4M65.5 55.7l2.3 0.3l-0.7 -0.5m0.7 0.5l-0.8 0.3M68.7 55.6l2.2 0.5l-0.7 -0.6m0.7 0.6l-0.9 0.2M71.9 55.5l2.1 0.7l-0.6 -0.6m0.6 0.6l-0.9 0.2M75.0 55.4l1.9 0.8l-0.5 -0.7m0.5 0.7l-0.9 0.1M78.2 55.3l1.8 0.9l-0.5 -0.7m0.5 0.7l-0.8 0.0M81.5 55.1l1.4 1.4M85.7 54.9l-0.8 1.8M89.1 55.1l-1.3 1.4M92.1 55.0l-1.2 1.6M95.1 54.9l-1.0 1.8l0.7 -0.5m-0.7 0.5l0.0 -0.8M98.1 54.8l-0.8 1.9l0.7 -0.5m-0.7 0.5l-0.1 -0.8M101.1 54.8l-0.7 2.0l0.6 -0.6m-0.6 0.6l-0.2 -0.8M104.2 54.7l-0.6 2.1l0.6 -0.6m-0.6 0.6l-0.2 -0.8M107.3 54.7l-0.5 2.2l0.6 -0.7m-0.6 0.7l-0.2 -0.9M110.3 54.7l-0.5 2.2l0.6 -0.7m-0.6 0.7l-0.2 -0.9M113.4 54.7l-0.5 2.2l0.6 -0.7m-0.6 0.7l-0.3 -0.9M116.5 54.7l-0.5 2.2l0.6 -0.7m-0.6 0.7l-0.3 -0.8M119.6 54.7l-0.5 2.2l0.6 -0.7m-0.6 0.7l-0.3 -0.8M1.8 59.2l-0.5 2.1l0.6 -0.7m-0.6 0.7l-0.2 -0.8M4.9 59.2l-0.4 2.1l0.6 -0.7m-0.6 0.7l-0.3 -0.8M7.9 59.2l-0.3 2.1l0.5 -0.7m-0.5 0.7l-0.3 -0.8M10.9 59.3l0.0 2.1l0.4 -0.7m-0.4 0.7l-0.4 -0.7M13.6 59.4l0.8 1.8M16.2 59.8l1.7 0.9M19.2 60.1l1.9 0.4M22.3 60.1l1.9 0.5M25.5 59.9l1.8 0.8M28.7 59.8l1.7 1.1M31.8 59.7l1.6 1.3l-0.3 -0.8m0.3 0.8l-0.8 -0.1M34.9 59.7l1.6 1.3l-0.3 -0.8m0.3 0.8l-0.8 -0.1M37.9 59.8l1.8 1.0l-0.5 -0.7m0.5 0.7l-0.8 0.0M40.9 60.2l2.0 0.3l-0.7 -0.5m0.7 0.5l-0.8 0.3M44.0 60.5l2.1 -0.4l-0.8 -0.3m0.8 0.3l-0.7 0.5M47.0 60.6l2.2 -0.7l-0.9 -0.2m0.9 0.2l-0.6 0.6M49.9 60.7l2.5 -0.8l-0.9 -0.2m0.9 0.2l-0.7 0.7M75.0 59.5l1.9 1.5l-0.4 -0.8m0.4 0.8l-0.9 -0.2M78.3 59.5l1.5 1.6l-0.2 -0.9m0.2 0.9l-0.8 -0.3M81.7 59.4l1.1 1.8l-0.0 -0.9m0.0 0.9l-0.7 -0.4M85.2 59.3l0.1 2.0M89.0 59.5l-1.2 1.6M92.2 59.6l-1.4 1.4M95.2 59.5l-1.2 1.6l0.8 -0.3m-0.8 0.3l0.1 -0.8M98.2 59.4l-1.0 1.8l0.7 -0.5m-0.7 0.5l-0.0 -0.9M101.2 59.3l-0.7 2.0l0.6 -0.6m-0.6 0.6l-0.1 -0.9M104.2 59.2l-0.6 2.1l0.6 -0.6m-0.6 0.6l-0.2 -0.8M107.2 59.2l-0.5 2.2l0.6 -0.7m-0.6 0.7l-0.2 -0.8M110.3 59.2l-0.4 2.2l0.6 -0.7m-0.6 0.7l-0.3 -0.8M113.4 59.2l-0.4 2.3l0.5 -0.7m-0.5 0.7l-0.3 -0.8M116.5 59.2l-0.3 2.3l0.5 -0.7m-0.5 0.7l-0.3 -0.8M119.5 59.2l-0.3 2.3l0.5 -0.7m-0.5 0.7l-0.3 -0.8M1.7 63.7l-0.2 2.2l0.5 -0.7m-0.5 0.7l-0.3 -0.8M4.8 63.7l-0.2 2.2l0.5 -0.7m-0.5 0.7l-0.3 -0.8M7.8 63.7l-0.1 2.1l0.4 -0.7m-0.4 0.7l-0.4 -0.8M10.8 63.8l0.2 2.0l0.3 -0.8m-0.3 0.8l-0.5 -0.7M13.4 64.0l1.1 1.6M16.1 64.6l1.9 0.4M19.2 64.9l2.0 -0.2M22.3 64.8l2.0 -0.0M25.4 64.6l1.9 0.4M28.6 64.4l1.8 0.9M31.8 64.3l1.6 1.1M34.8 64.4l1.8 0.9M37.8 64.8l2.0 -0.0l-0.7 -0.4m0.7 0.4l-0.7 0.4M40.9 65.2l2.0 -0.8l-0.9 -0.1m0.9 0.1l-0.5 0.7M44.0 65.4l2.0 -1.1l-0.9 0.0m0.9 -0.0l-0.5 0.8M81.7 63.7l1.0 2.1l0.1 -0.9m-0.1 0.9l-0.7 -0.5M85.1 63.7l0.5 2.1l0.2 -0.8m-0.2 0.8l-0.6 -0.7M88.6 63.8l-0.4 2.0l0.5 -0.6m-0.5 0.6l-0.3 -0.8M92.1 64.0l-1.2 1.6l0.8 -0.3m-0.8 0.3l0.1 -0.8M95.2 64.0l-1.2 1.6l0.8 -0.3m-0.8 0.3l0.1 -0.8M98.2 63.9l-0.9 1.8l0.7 -0.5m-0.7 0.5l-0.0 -0.8M101.1 63.8l-0.7 2.0l0.6 -0.6m-0.6 0.6l-0.2 -0.8M104.1 63.7l-0.5 2.1l0.6 -0.7m-0.6 0.7l-0.2 -0.8M107.2 63.7l-0.3 2.2l0.5 -0.7m-0.5 0.7l-0.3 -0.8M110.2 63.7l-0.3 2.3l0.5 -0.7m-0.5 0.7l-0.3 -0.8M113.3 63.7l-0.2 2.3l0.5 -0.7m-0.5 0.7l-0.4 -0.8M116.4 63.7l-0.1 2.3l0.5 -0.8m-0.5 0.8l-0.4 -0.8M119.4 63.7l-0.1 2.3l0.5 -0.8m-0.5 0.8l-0.4 -0.8M1.7 68.2l-0.1 2.2l0.5 -0.7m-0.5 0.7l-0.4 -0.8M4.8 68.2l-0.1 2.2l0.5 -0.7m-0.5 0.7l-0.4 -0.8M7.8 68.2l-0.1 2.1l0.4 -0.7m-0.4 0.7l-0.4 -0.8M10.8 68.3l0.2 2.0l0.3 -0.8m-0.3 0.8l-0.5 -0.7M13.4 68.5l1.1 1.6M16.1 69.4l1.9 -0.1M19.3 69.7l1.8 -0.8M22.4 69.7l1.8 -0.8M25.4 69.5l1.9 -0.4M28.6 69.1l1.9 0.4M31.7 69.0l1.8 0.6M34.7 69.5l1.9 -0.5M38.0 70.0l1.6 -1.3l-0.8 0.2m0.8 -0.2l-0.3 0.8M41.1 70.1l1.6 -1.6l-0.8 0.3m0.8 -0.3l-0.2 0.9M85.1 68.1l0.4 2.3l0.3 -0.9m-0.3 0.9l-0.6 -0.7M88.4 68.2l-0.0 2.1l0.4 -0.8m-0.4 0.8l-0.4 -0.8M91.8 68.3l-0.6 1.9l0.6 -0.6m-0.6 0.6l-0.2 -0.8M95.1 68.4l-0.9 1.8l0.7 -0.5m-0.7 0.5l-0.0 -0.8M98.0 68.3l-0.7 1.9l0.6 -0.6m-0.6 0.6l-0.1 -0.8M101.0 68.3l-0.4 2.0l0.5 -0.7m-0.5 0.7l-0.3 -0.8M104.0 68.2l-0.2 2.1l0.5 -0.7m-0.5 0.7l-0.3 -0.8M107.1 68.2l-0.1 2.2l0.5 -0.7m-0.5 0.7l-0.4 -0.8M110.1 68.2l-0.0 2.3l0.4 -0.8m-0.4 0.8l-0.4 -0.8M113.2 68.2l0.0 2.3l0.4 -0.8m-0.4 0.8l-0.4 -0.8M116.3 68.1l0.1 2.3l0.4 -0.8m-0.4 0.8l-0.5 -0.8M119.3 68.1l0.1 2.3l0.4 -0.8m-0.4 0.8l-0.5 -0.8M1.7 72.7l-0.2 2.2l0.5 -0.7m-0.5 0.7l-0.4 -0.8M4.8 72.7l-0.2 2.2l0.5 -0.7m-0.5 0.7l-0.3 -0.8M7.9 72.7l-0.2 2.1l0.5 -0.7m-0.5 0.7l-0.3 -0.8M10.9 72.8l-0.1 2.0l0.4 -0.7m-0.4 0.7l-0.4 -0.8M13.8 72.9l0.5 1.9M16.3 74.3l1.6 -1.1M19.7 74.7l0.9 -1.7M22.9 74.7l0.7 -1.8M26.1 74.7l0.5 -1.9M29.4 74.8l0.2 -1.9M32.5 74.8l0.3 -1.9M35.4 74.7l0.7 -1.9M38.4 74.8l0.9 -2.0l-0.7 0.5m0.7 -0.5l0.1 0.9M41.4 74.9l1.1 -2.1l-0.7 0.5m0.7 -0.5l0.0 0.9M88.4 72.7l-0.1 2.3l0.4 -0.8m-0.4 0.8l-0.4 -0.8M91.6 72.8l-0.3 2.1l0.5 -0.7m-0.5 0.7l-0.3 -0.8M94.8 72.8l-0.3 2.0M97.8 72.8l-0.1 2.0l0.5 -0.7m-0.5 0.7l-0.3 -0.8M100.8 72.8l0.0 2.1l0.4 -0.8m-0.4 0.8l-0.4 -0.7M103.8 72.7l0.1 2.1l0.4 -0.8m-0.4 0.8l-0.5 -0.7M106.9 72.7l0.2 2.2l0.4 -0.8m-0.4 0.8l-0.5 -0.7M110.0 72.7l0.2 2.2l0.3 -0.8m-0.3 0.8l-0.5 -0.7M113.1 72.7l0.2 2.3l0.3 -0.8m-0.3 0.8l-0.5 -0.7M116.2 72.7l0.3 2.3l0.3 -0.8m-0.3 0.8l-0.5 -0.7M119.2 72.7l0.3 2.3l0.3 -0.8m-0.3 0.8l-0.5 -0.7M1.8 77.2l-0.3 2.2l0.5 -0.7m-0.5 0.7l-0.3 -0.8M4.9 77.2l-0.4 2.2l0.6 -0.7m-0.6 0.7l-0.3 -0.8M8.0 77.3l-0.5 2.1l0.6 -0.7m-0.6 0.7l-0.2 -0.8M11.2 77.3l-0.5 2.0l0.6 -0.6m-0.6 0.6l-0.2 -0.8M14.4 77.4l-0.9 1.7M17.7 79.1l-1.1 -1.6M20.5 79.2l-0.5 -1.9M23.6 79.2l-0.6 -1.9M26.9 79.2l-0.9 -1.7M30.1 79.1l-1.1 -1.6M33.1 79.2l-0.9 -1.8M35.8 79.3l-0.2 -2.0l-0.3 0.8m0.3 -0.8l0.5 0.7M38.7 79.4l0.3 -2.2l-0.5 0.7m0.5 -0.7l0.3 0.8M62.5 78.0l2.1 0.7l-0.6 -0.6m0.6 0.6l-0.9 0.2M66.6 76.9l0.1 2.7l0.4 -0.9m-0.4 0.9l-0.5 -0.8M88.5 77.1l-0.3 2.3l0.5 -0.7m-0.5 0.7l-0.3 -0.8M91.6 77.3l-0.1 2.1l0.5 -0.7m-0.5 0.7l-0.4 -0.8M94.5 77.3l0.3 2.0M97.4 77.4l0.6 1.9M100.5 77.3l0.6 2.0l0.2 -0.8m-0.2 0.8l-0.6 -0.6M103.7 77.3l0.5 2.1l0.2 -0.8m-0.2 0.8l-0.6 -0.6M106.8 77.2l0.4 2.1l0.3 -0.8m-0.3 0.8l-0.6 -0.7M109.9 77.2l0.4 2.2l0.3 -0.8m-0.3 0.8l-0.6 -0.7M113.0 77.2l0.4 2.2l0.3 -0.8m-0.3 0.8l-0.6 -0.7M116.1 77.2l0.4 2.3l0.3 -0.8m-0.3 0.8l-0.6 -0.7M119.2 77.2l0.4 2.3l0.3 -0.9m-0.3 0.9l-0.6 -0.7M1.9 81.7l-0.5 2.2l0.6 -0.7m-0.6 0.7l-0.2 -0.8M5.0 81.7l-0.6 2.1l0.6 -0.6m-0.6 0.6l-0.2 -0.9M8.2 81.8l-0.7 2.0l0.6 -0.6m-0.6 0.6l-0.1 -0.9M11.4 81.9l-0.9 1.9l0.7 -0.5m-0.7 0.5l-0.0 -0.9M14.8 82.2l-1.5 1.3M18.0 83.2l-1.8 -0.9M20.8 83.6l-1.2 -1.6M23.8 83.6l-1.1 -1.7M27.0 83.6l-1.2 -1.6M30.1 83.6l-1.3 -1.5M33.1 83.6l-1.1 -1.7l0.1 0.8m-0.1 -0.8l0.7 0.4M36.0 83.8l-0.6 -2.0l-0.2 0.8m0.2 -0.8l0.6 0.6M38.9 83.9l-0.2 -2.2l-0.4 0.8m0.4 -0.8l0.5 0.7M64.5 83.6l-1.8 -1.6l0.3 0.8m-0.3 -0.8l0.9 0.2M88.7 81.7l-0.5 2.2l0.6 -0.7m-0.6 0.7l-0.2 -0.9M91.5 81.8l-0.1 2.1l0.4 -0.7m-0.4 0.7l-0.4 -0.8M94.1 81.9l1.0 1.7M97.0 82.1l1.4 1.5M100.3 81.9l1.1 1.7l-0.0 -0.8m0.0 0.8l-0.7 -0.4M103.5 81.8l0.8 1.9l0.1 -0.9m-0.1 0.9l-0.7 -0.5M106.7 81.8l0.6 2.1l0.2 -0.9m-0.2 0.9l-0.6 -0.6M109.8 81.7l0.6 2.2l0.2 -0.9m-0.2 0.9l-0.6 -0.6M112.9 81.7l0.5 2.2l0.2 -0.9m-0.2 0.9l-0.6 -0.7M116.1 81.7l0.5 2.3l0.3 -0.9m-0.3 0.9l-0.6 -0.7M119.2 81.7l0.4 2.3l0.3 -0.9m-0.3 0.9l-0.6 -0.7M2.0 86.2l-0.7 2.1l0.6 -0.6m-0.6 0.6l-0.2 -0.9M5.1 86.2l-0.8 2.1l0.7 -0.6m-0.7 0.6l-0.1 -0.9M8.3 86.3l-0.9 2.0l0.7 -0.5m-0.7 0.5l-0.1 -0.9M11.5 86.4l-1.1 1.8l0.8 -0.4m-0.8 0.4l0.1 -0.9M14.8 86.8l-1.7 1.1l0.8 -0.1m-0.8 0.1l0.4 -0.7M18.0 87.6l-1.9 -0.7M20.9 88.0l-1.3 -1.5M23.9 88.1l-1.1 -1.7l0.1 0.8m-0.1 -0.8l0.8 0.4M27.0 88.1l-1.1 -1.7l0.1 0.8m-0.1 -0.8l0.7 0.4M30.0 88.1l-1.1 -1.7l0.1 0.8m-0.1 -0.8l0.7 0.4M33.1 88.2l-1.0 -1.8l0.0 0.8m-0.0 -0.8l0.7 0.5M36.0 88.3l-0.7 -2.0l-0.1 0.8m0.1 -0.8l0.6 0.6M39.0 88.4l-0.5 -2.2l-0.2 0.8m0.2 -0.8l0.6 0.7M42.2 88.7l-0.5 -2.7l-0.3 0.9m0.3 -0.9l0.6 0.8M85.9 86.0l-1.3 2.6l0.8 -0.6m-0.8 0.6l-0.0 -1.0M88.7 86.3l-0.7 2.1l0.6 -0.6m-0.6 0.6l-0.2 -0.9M91.3 86.3l0.3 2.0l0.3 -0.8m-0.3 0.8l-0.5 -0.7M93.7 86.9l1.8 0.8M96.8 86.9l1.8 0.8M100.1 86.6l1.4 1.4l-0.2 -0.8m0.2 0.8l-0.8 -0.2M103.4 86.4l1.0 1.8l0.0 -0.9m-0.0 0.9l-0.7 -0.5M106.6 86.3l0.7 2.0l0.1 -0.9m-0.1 0.9l-0.6 -0.6M109.8 86.2l0.6 2.1l0.2 -0.9m-0.2 0.9l-0.6 -0.6M113.0 86.2l0.5 2.2l0.2 -0.8m-0.2 0.8l-0.6 -0.7M116.1 86.2l0.4 2.2l0.3 -0.8m-0.3 0.8l-0.6 -0.7M119.2 86.2l0.3 2.3l0.3 -0.8m-0.3 0.8l-0.5 -0.7M2.0 90.7l-0.8 2.1l0.7 -0.6m-0.7 0.6l-0.1 -0.9M5.1 90.7l-0.9 2.1l0.7 -0.6m-0.7 0.6l-0.1 -0.9M8.3 90.8l-1.0 2.0l0.7 -0.5m-0.7 0.5l-0.0 -0.9M11.5 90.9l-1.2 1.7l0.8 -0.4m-0.8 0.4l0.1 -0.9M14.8 91.2l-1.7 1.1l0.8 -0.1m-0.8 0.1l0.4 -0.7M18.0 92.1l-1.9 -0.6M20.8 92.6l-1.2 -1.6M23.7 92.7l-0.9 -1.8l-0.0 0.8m0.0 -0.8l0.7 0.5M26.8 92.7l-0.7 -1.9l-0.1 0.8m0.1 -0.8l0.6 0.5M29.8 92.8l-0.6 -1.9l-0.2 0.8m0.2 -0.8l0.6 0.6M32.9 92.8l-0.5 -2.0l-0.2 0.8m0.2 -0.8l0.6 0.6M35.9 92.8l-0.4 -2.0l-0.2 0.8m0.2 -0.8l0.6 0.6M39.0 92.9l-0.4 -2.1l-0.2 0.8m0.2 -0.8l0.6 0.7M42.2 92.9l-0.6 -2.3l-0.2 0.9m0.2 -0.9l0.6 0.7M85.9 90.9l-1.3 1.9l0.8 -0.4m-0.8 0.4l0.1 -0.9M88.7 90.8l-0.6 1.9l0.6 -0.6m-0.6 0.6l-0.2 -0.8M90.6 91.4l1.8 0.8M93.6 91.9l2.0 -0.3M96.7 91.7l2.0 0.2M100.0 91.2l1.6 1.2l-0.4 -0.8m0.4 0.8l-0.8 -0.1M103.4 90.9l1.1 1.8l-0.0 -0.8m0.0 0.8l-0.7 -0.4M106.6 90.8l0.7 2.0l0.1 -0.8m-0.1 0.8l-0.6 -0.6M109.9 90.7l0.5 2.1l0.2 -0.8m-0.2 0.8l-0.6 -0.6M113.0 90.7l0.4 2.2l0.3 -0.8m-0.3 0.8l-0.5 -0.7M116.2 90.7l0.3 2.2l0.3 -0.8m-0.3 0.8l-0.5 -0.7M119.3 90.7l0.2 2.3l0.4 -0.8m-0.4 0.8l-0.5 -0.7M2.0 95.2l-0.9 2.1l0.7 -0.6m-0.7 0.6l-0.1 -0.9M5.1 95.2l-0.9 2.1l0.7 -0.6m-0.7 0.6l-0.1 -0.9M8.3 95.3l-0.9 2.0l0.7 -0.5m-0.7 0.5l-0.1 -0.9M11.4 95.4l-1.1 1.8l0.7 -0.4m-0.7 0.4l0.0 -0.9M14.8 95.6l-1.5 1.3M18.0 96.7l-1.8 -0.9M20.5 97.2l-0.7 -1.9M23.4 97.3l-0.3 -2.0l-0.3 0.8m0.3 -0.8l0.5 0.7M26.4 97.3l-0.0 -2.0l-0.4 0.7m0.4 -0.7l0.4 0.7M29.4 97.3l0.2 -2.0l-0.5 0.7m0.5 -0.7l0.3 0.8M32.5 97.3l0.3 -2.0l-0.5 0.7m0.5 -0.7l0.3 0.8M35.5 97.3l0.3 -2.0l-0.5 0.7m0.5 -0.7l0.3 0.8M38.7 97.3l0.2 -2.1l-0.5 0.7m0.5 -0.7l0.4 0.8M42.0 97.4l-0.2 -2.2l-0.3 0.8m0.3 -0.8l0.5 0.7M45.3 97.4l-0.6 -2.3l-0.2 0.9m0.2 -0.9l0.6 0.6M80.3 95.5l-2.3 1.6l1.0 -0.1m-1.0 0.1l0.4 -0.9M83.0 95.6l-1.7 1.5l0.9 -0.2m-0.9 0.2l0.3 -0.8M85.9 95.5l-1.2 1.6l0.8 -0.4m-0.8 0.4l0.1 -0.8M87.5 96.1l1.9 0.5M90.6 96.8l1.8 -0.9M93.7 96.8l1.8 -0.9l-0.8 -0.0m0.8 0.0l-0.5 0.7M96.7 96.5l1.9 -0.4M99.9 95.9l1.8 0.8M103.4 95.4l1.0 1.7l-0.0 -0.8m0.0 0.8l-0.7 -0.4M106.7 95.3l0.5 2.0l0.2 -0.8m-0.2 0.8l-0.6 -0.6M110.0 95.2l0.3 2.1l0.3 -0.8m-0.3 0.8l-0.5 -0.7M113.1 95.2l0.1 2.2l0.4 -0.8m-0.4 0.8l-0.5 -0.7M116.3 95.2l0.0 2.2l0.4 -0.8m-0.4 0.8l-0.4 -0.8M119.4 95.2l-0.0 2.3l0.4 -0.8m-0.4 0.8l-0.4 -0.8M2.0 99.7l-0.8 2.1l0.7 -0.6m-0.7 0.6l-0.1 -0.9M5.1 99.7l-0.8 2.2l0.7 -0.6m-0.7 0.6l-0.1 -0.9M8.2 99.8l-0.8 2.1l0.7 -0.6m-0.7 0.6l-0.1 -0.9M11.3 99.8l-0.8 1.9l0.7 -0.5m-0.7 0.5l-0.1 -0.9M14.5 99.9l-0.9 1.7M17.3 101.7l-0.3 -1.9M20.0 101.8l0.5 -1.9M23.0 101.8l0.6 -1.9l-0.6 0.6m0.6 -0.6l0.2 0.8M26.0 101.8l0.7 -1.9l-0.7 0.5m0.7 -0.5l0.1 0.8M29.1 101.7l0.9 -1.9l-0.7 0.5m0.7 -0.5l0.1 0.9M32.1 101.7l1.0 -1.8l-0.7 0.5m0.7 -0.5l0.0 0.9M35.2 101.7l1.0 -1.8l-0.7 0.4m0.7 -0.4l-0.0 0.9M38.3 101.7l1.0 -1.8l-0.7 0.5m0.7 -0.5l-0.0 0.9M41.5 101.8l0.8 -2.0l-0.7 0.5m0.7 -0.5l0.1 0.9M44.8 101.9l0.3 -2.1l-0.5 0.7m0.5 -0.7l0.3 0.8M48.3 101.9l-0.3 -2.2l-0.3 0.8m0.3 -0.8l0.5 0.7M51.7 101.9l-0.9 -2.2l-0.1 0.9m0.1 -0.9l0.7 0.6M55.1 101.9l-1.6 -2.1l0.1 0.9m-0.1 -0.9l0.9 0.4M74.1 100.6l-2.4 0.5l0.9 0.3m-0.9 -0.3l0.7 -0.6M77.1 100.4l-2.1 0.7l0.9 0.1m-0.9 -0.1l0.6 -0.7M80.0 100.3l-1.9 0.9l0.9 0.0m-0.9 -0.0l0.5 -0.7M83.0 100.2l-1.6 1.1M84.5 101.3l1.7 -1.0M87.6 101.4l1.6 -1.2l-0.8 0.1m0.8 -0.1l-0.3 0.8M90.7 101.5l1.5 -1.3l-0.8 0.2m0.8 -0.2l-0.3 0.8M93.8 101.4l1.6 -1.3l-0.8 0.2m0.8 -0.2l-0.3 0.8M96.8 101.3l1.7 -1.0M99.8 100.6l1.9 0.4M103.5 99.9l0.8 1.8M106.9 99.8l0.2 2.0l0.3 -0.8m-0.3 0.8l-0.5 -0.7M110.1 99.8l-0.0 2.1l0.4 -0.7m-0.4 0.7l-0.4 -0.8M113.3 99.7l-0.1 2.1l0.5 -0.7m-0.5 0.7l-0.4 -0.8M116.4 99.7l-0.2 2.2l0.5 -0.7m-0.5 0.7l-0.3 -0.8M119.5 99.7l-0.3 2.2l0.5 -0.7m-0.5 0.7l-0.3 -0.8M1.9 104.2l-0.6 2.2l0.6 -0.6m-0.6 0.6l-0.2 -0.9M5.0 104.2l-0.6 2.2l0.6 -0.6m-0.6 0.6l-0.2 -0.9M8.0 104.2l-0.5 2.2l0.6 -0.7m-0.6 0.7l-0.2 -0.8M11.0 104.3l-0.3 2.1l0.5 -0.7m-0.5 0.7l-0.3 -0.8M13.8 104.3l0.5 1.9M16.2 105.7l1.8 -0.8M19.5 106.1l1.4 -1.5l-0.8 0.3m0.8 -0.3l-0.2 0.8M22.7 106.1l1.3 -1.6l-0.8 0.3m0.8 -0.3l-0.1 0.8M25.8 106.1l1.3 -1.7l-0.8 0.4m0.8 -0.4l-0.1 0.8M28.9 106.1l1.3 -1.7l-0.8 0.3m0.8 -0.3l-0.1 0.9M31.9 106.1l1.3 -1.7l-0.8 0.3m0.8 -0.3l-0.2 0.9M35.0 106.1l1.4 -1.7l-0.8 0.3m0.8 -0.3l-0.2 0.9M38.1 106.1l1.4 -1.6l-0.8 0.3m0.8 -0.3l-0.2 0.8M41.2 106.1l1.4 -1.6l-0.8 0.3m0.8 -0.3l-0.2 0.8M44.3 106.2l1.3 -1.7l-0.8 0.3m0.8 -0.3l-0.1 0.9M47.6 106.2l1.1 -1.9l-0.7 0.4m0.7 -0.4l-0.0 0.9M50.9 106.3l0.7 -2.1l-0.6 0.6m0.6 -0.6l0.2 0.9M54.3 106.4l0.1 -2.2l-0.4 0.7m0.4 -0.7l0.4 0.8M57.7 106.3l-0.6 -2.1l-0.2 0.8m0.2 -0.8l0.6 0.6M61.1 106.2l-1.2 -1.8l0.1 0.9m-0.1 -0.9l0.8 0.4M64.4 106.0l-1.6 -1.4l0.3 0.8m-0.3 -0.8l0.8 0.2M67.6 105.8l-1.8 -1.0l0.5 0.7m-0.5 -0.7l0.9 0.0M70.8 105.6l-1.9 -0.7l0.6 0.6m-0.6 -0.6l0.8 -0.1M73.9 105.6l-1.9 -0.5M76.7 106.0l-1.4 -1.3M78.4 105.9l1.5 -1.3M81.4 105.9l1.6 -1.2l-0.8 0.1m0.8 -0.1l-0.4 0.8M84.5 105.9l1.6 -1.3l-0.8 0.2m0.8 -0.2l-0.3 0.8M87.7 106.0l1.5 -1.4l-0.8 0.2m0.8 -0.2l-0.3 0.8M90.8 106.1l1.4 -1.5l-0.8 0.3m0.8 -0.3l-0.2 0.8M94.0 106.1l1.3 -1.6l-0.8 0.3m0.8 -0.3l-0.2 0.8M97.0 106.0l1.3 -1.5M99.9 105.6l1.8 -0.6M103.8 104.3l0.3 1.9M107.1 104.3l-0.2 2.0l0.5 -0.7m-0.5 0.7l-0.3 -0.8M110.3 104.3l-0.4 2.0l0.5 -0.7m-0.5 0.7l-0.3 -0.8M113.4 104.3l-0.4 2.1l0.6 -0.7m-0.6 0.7l-0.3 -0.8M116.5 104.2l-0.4 2.1l0.6 -0.7m-0.6 0.7l-0.3 -0.8M119.6 104.2l-0.4 2.1l0.6 -0.7m-0.6 0.7l-0.3 -0.8M1.8 108.7l-0.4 2.2l0.5 -0.7m-0.5 0.7l-0.3 -0.8M4.8 108.7l-0.3 2.2l0.5 -0.7m-0.5 0.7l-0.3 -0.8M7.8 108.7l-0.1 2.2l0.4 -0.7m-0.4 0.7l-0.4 -0.8M10.7 108.8l0.3 2.1l0.3 -0.8m-0.3 0.8l-0.5 -0.7M13.3 109.1l1.4 1.4l-0.3 -0.8m0.3 0.8l-0.8 -0.2M16.1 110.0l2.0 -0.4l-0.8 -0.2m0.8 0.2l-0.6 0.5M19.3 110.4l1.7 -1.1l-0.8 0.1m0.8 -0.1l-0.4 0.7M22.5 110.5l1.6 -1.4l-0.8 0.2m0.8 -0.2l-0.3 0.8M25.6 110.5l1.6 -1.5l-0.8 0.2m0.8 -0.2l-0.3 0.8M28.7 110.6l1.5 -1.5l-0.8 0.2m0.8 -0.2l-0.2 0.8M31.8 110.6l1.5 -1.6l-0.8 0.3m0.8 -0.3l-0.2 0.8M34.9 110.6l1.5 -1.6l-0.8 0.3m0.8 -0.3l-0.2 0.8M38.0 110.6l1.6 -1.6l-0.8 0.3m0.8 -0.3l-0.2 0.8M41.1 110.6l1.6 -1.6l-0.8 0.2m0.8 -0.2l-0.3 0.8M44.2 110.6l1.6 -1.6l-0.8 0.2m0.8 -0.2l-0.3 0.8M47.3 110.6l1.6 -1.6l-0.8 0.2m0.8 -0.2l-0.3 0.8M50.4 110.6l1.6 -1.6l-0.8 0.2m0.8 -0.2l-0.2 0.8M53.6 110.6l1.5 -1.6l-0.8 0.3m0.8 -0.3l-0.2 0.8M56.7 110.6l1.4 -1.6l-0.8 0.3m0.8 -0.3l-0.2 0.8M59.8 110.6l1.3 -1.6l-0.8 0.3m0.8 -0.3l-0.2 0.8M62.9 110.6l1.3 -1.6l-0.8 0.3m0.8 -0.3l-0.2 0.8M66.0 110.6l1.4 -1.5l-0.8 0.3m0.8 -0.3l-0.2 0.8M69.0 110.5l1.6 -1.3l-0.8 0.2m0.8 -0.2l-0.3 0.8M72.1 110.4l1.7 -1.2l-0.8 0.1m0.8 -0.1l-0.4 0.8M75.1 110.4l1.7 -1.1l-0.8 0.1m0.8 -0.1l-0.4 0.7M78.2 110.4l1.7 -1.1l-0.8 0.1m0.8 -0.1l-0.4 0.8M81.4 110.4l1.6 -1.2l-0.8 0.1m0.8 -0.1l-0.3 0.8M84.5 110.5l1.5 -1.4l-0.8 0.2m0.8 -0.2l-0.3 0.8M87.7 110.6l1.4 -1.5l-0.8 0.3m0.8 -0.3l-0.2 0.8M90.9 110.6l1.2 -1.6l-0.8 0.4m0.8 -0.4l-0.1 0.8M94.1 110.7l1.0 -1.7l-0.7 0.4m0.7 -0.4l-0.0 0.8M97.2 110.7l0.9 -1.8M100.4 110.7l0.9 -1.7M104.2 108.9l-0.6 1.8M107.3 108.9l-0.6 1.9M110.4 108.8l-0.6 2.0l0.6 -0.6m-0.6 0.6l-0.2 -0.8M113.5 108.8l-0.6 2.0l0.6 -0.6m-0.6 0.6l-0.2 -0.8M116.6 108.8l-0.5 2.1l0.6 -0.6m-0.6 0.6l-0.2 -0.8M119.6 108.7l-0.5 2.1l0.6 -0.6m-0.6 0.6l-0.2 -0.8M1.6 113.2l-0.0 2.2l0.4 -0.8m-0.4 0.8l-0.4 -0.8M4.7 113.2l0.0 2.2l0.4 -0.8m-0.4 0.8l-0.4 -0.8M7.7 113.2l0.3 2.2l0.3 -0.8m-0.3 0.8l-0.5 -0.7M10.5 113.3l0.8 1.9l0.1 -0.9m-0.1 0.9l-0.7 -0.5M13.1 113.8l1.7 1.1l-0.4 -0.7m0.4 0.7l-0.8 -0.0M16.1 114.4l2.0 -0.2l-0.8 -0.3m0.8 0.3l-0.7 0.5M19.2 114.7l1.9 -0.9l-0.9 -0.1m0.9 0.1l-0.5 0.7M22.4 114.9l1.8 -1.2l-0.9 0.1m0.9 -0.1l-0.4 0.8M25.5 115.0l1.7 -1.3l-0.9 0.1m0.9 -0.1l-0.3 0.8M28.7 115.0l1.7 -1.5l-0.9 0.2m0.9 -0.2l-0.3 0.8M31.8 115.1l1.6 -1.5l-0.9 0.2m0.9 -0.2l-0.3 0.8M34.9 115.1l1.6 -1.6l-0.8 0.2m0.8 -0.2l-0.3 0.8M38.0 115.1l1.6 -1.6l-0.8 0.3m0.8 -0.3l-0.2 0.9M41.1 115.1l1.6 -1.6l-0.8 0.3m0.8 -0.3l-0.2 0.9M44.2 115.1l1.6 -1.6l-0.8 0.3m0.8 -0.3l-0.2 0.9M47.3 115.1l1.6 -1.6l-0.9 0.2m0.9 -0.2l-0.3 0.8M50.4 115.1l1.6 -1.6l-0.9 0.2m0.9 -0.2l-0.3 0.8M53.5 115.1l1.6 -1.5l-0.9 0.2m0.9 -0.2l-0.3 0.8M56.6 115.0l1.6 -1.5l-0.9 0.2m0.9 -0.2l-0.3 0.8M59.7 115.0l1.7 -1.4l-0.9 0.2m0.9 -0.2l-0.3 0.8M62.8 115.0l1.7 -1.3l-0.9 0.1m0.9 -0.1l-0.3 0.8M65.8 114.9l1.7 -1.3l-0.9 0.1m0.9 -0.1l-0.4 0.8M68.9 114.9l1.7 -1.2l-0.9 0.1m0.9 -0.1l-0.4 0.8M72.0 114.9l1.7 -1.2l-0.9 0.1m0.9 -0.1l-0.4 0.8M75.1 114.9l1.7 -1.2l-0.9 0.1m0.9 -0.1l-0.4 0.8M78.3 114.9l1.7 -1.2l-0.8 0.1m0.8 -0.1l-0.4 0.8M81.4 115.0l1.6 -1.3l-0.8 0.2m0.8 -0.2l-0.3 0.8M84.6 115.0l1.4 -1.5l-0.8 0.3m0.8 -0.3l-0.2 0.8M87.8 115.1l1.3 -1.6l-0.8 0.3m0.8 -0.3l-0.1 0.8M91.0 115.2l1.1 -1.7l-0.7 0.4m0.7 -0.4l-0.1 0.8M94.1 115.2l0.9 -1.8l-0.7 0.5m0.7 -0.5l0.0 0.8M97.3 115.2l0.7 -1.8M100.6 115.2l0.4 -1.9M104.4 113.5l-1.0 1.6M107.4 113.4l-0.7 1.8M110.4 113.3l-0.6 1.9l0.6 -0.6m-0.6 0.6l-0.2 -0.8M113.5 113.3l-0.6 2.0l0.6 -0.6m-0.6 0.6l-0.2 -0.8M116.5 113.3l-0.5 2.0l0.6 -0.6m-0.6 0.6l-0.2 -0.8M119.6 113.3l-0.4 2.1l0.5 -0.7m-0.5 0.7l-0.3 -0.8M1.5 117.7l0.2 2.2l0.3 -0.8m-0.3 0.8l-0.5 -0.7M4.6 117.7l0.3 2.2l0.3 -0.8m-0.3 0.8l-0.5 -0.7M7.5 117.7l0.5 2.1l0.2 -0.8m-0.2 0.8l-0.6 -0.6M10.4 117.9l1.1 1.8l-0.0 -0.9m0.0 0.9l-0.7 -0.4M13.1 118.3l1.8 1.0l-0.5 -0.7m0.5 0.7l-0.9 0.0M16.1 118.8l2.1 -0.1l-0.8 -0.4m0.8 0.4l-0.7 0.4M19.2 119.2l2.0 -0.7l-0.9 -0.1m0.9 0.1l-0.6 0.6M22.4 119.3l1.9 -1.0l-0.9 0.0m0.9 -0.0l-0.5 0.7M25.5 119.4l1.8 -1.2l-0.9 0.1m0.9 -0.1l-0.4 0.8M28.6 119.5l1.7 -1.4l-0.9 0.2m0.9 -0.2l-0.3 0.8M31.8 119.6l1.6 -1.5l-0.9 0.2m0.9 -0.2l-0.3 0.8M34.9 119.6l1.6 -1.6l-0.8 0.2m0.8 -0.2l-0.2 0.8M38.0 119.6l1.5 -1.7l-0.8 0.3m0.8 -0.3l-0.2 0.9M41.1 119.6l1.5 -1.7l-0.8 0.3m0.8 -0.3l-0.2 0.9M44.3 119.7l1.5 -1.7l-0.8 0.3m0.8 -0.3l-0.2 0.9M47.4 119.7l1.5 -1.7l-0.8 0.3m0.8 -0.3l-0.2 0.9M50.5 119.6l1.5 -1.7l-0.8 0.3m0.8 -0.3l-0.2 0.9M53.6 119.6l1.5 -1.7l-0.8 0.3m0.8 -0.3l-0.2 0.9M56.6 119.6l1.5 -1.6l-0.8 0.3m0.8 -0.3l-0.2 0.9M59.7 119.6l1.5 -1.6l-0.8 0.3m0.8 -0.3l-0.2 0.8M62.8 119.6l1.6 -1.5l-0.8 0.2m0.8 -0.2l-0.3 0.8M65.9 119.5l1.6 -1.5l-0.8 0.2m0.8 -0.2l-0.3 0.8M69.0 119.5l1.6 -1.4l-0.8 0.2m0.8 -0.2l-0.3 0.8M72.1 119.5l1.6 -1.4l-0.8 0.2m0.8 -0.2l-0.3 0.8M75.2 119.5l1.6 -1.3l-0.8 0.2m0.8 -0.2l-0.3 0.8M78.3 119.5l1.6 -1.4l-0.8 0.2m0.8 -0.2l-0.3 0.8M81.5 119.5l1.5 -1.4l-0.8 0.2m0.8 -0.2l-0.3 0.8M84.6 119.6l1.4 -1.5l-0.8 0.3m0.8 -0.3l-0.2 0.8M87.8 119.6l1.3 -1.6l-0.8 0.3m0.8 -0.3l-0.1 0.8M90.9 119.6l1.1 -1.7l-0.7 0.4m0.7 -0.4l-0.1 0.8M94.1 119.7l1.0 -1.7l-0.7 0.4m0.7 -0.4l-0.0 0.8M97.2 119.7l0.9 -1.7M100.3 119.6l1.0 -1.6M104.0 117.8l-0.2 1.9M107.2 117.8l-0.4 1.9M110.3 117.8l-0.3 2.0l0.5 -0.7m-0.5 0.7l-0.3 -0.8M113.3 117.8l-0.3 2.0l0.5 -0.7m-0.5 0.7l-0.3 -0.8M116.4 117.8l-0.2 2.1l0.5 -0.7m-0.5 0.7l-0.3 -0.8M119.5 117.7l-0.1 2.1l0.5 -0.7m-0.5 0.7l-0.4 -0.8M1.4 122.2l0.4 2.2l0.3 -0.8m-0.3 0.8l-0.5 -0.7M4.5 122.2l0.4 2.2l0.3 -0.8m-0.3 0.8l-0.6 -0.7M7.5 122.2l0.6 2.1l0.2 -0.9m-0.2 0.9l-0.6 -0.6M10.3 122.4l1.1 1.8l-0.0 -0.9m0.0 0.9l-0.7 -0.4M13.1 122.8l1.8 1.1l-0.4 -0.7m0.4 0.7l-0.9 -0.0M16.1 123.3l2.1 0.1l-0.7 -0.4m0.7 0.4l-0.8 0.4M19.2 123.6l2.0 -0.6l-0.8 -0.2m0.8 0.2l-0.6 0.6M22.3 123.8l1.9 -0.9l-0.9 -0.0m0.9 0.0l-0.5 0.7M25.5 123.9l1.8 -1.2l-0.9 0.1m0.9 -0.1l-0.4 0.8M28.7 124.0l1.7 -1.4l-0.9 0.2m0.9 -0.2l-0.3 0.8M31.8 124.1l1.6 -1.5l-0.8 0.2m0.8 -0.2l-0.3 0.8M34.9 124.1l1.5 -1.6l-0.8 0.3m0.8 -0.3l-0.2 0.8M38.1 124.2l1.4 -1.7l-0.8 0.3m0.8 -0.3l-0.2 0.9M41.2 124.2l1.4 -1.8l-0.8 0.4m0.8 -0.4l-0.1 0.9M44.3 124.2l1.3 -1.8l-0.8 0.4m0.8 -0.4l-0.1 0.9M47.5 124.2l1.3 -1.8l-0.8 0.4m0.8 -0.4l-0.1 0.9M50.6 124.2l1.3 -1.8l-0.8 0.4m0.8 -0.4l-0.1 0.9M53.7 124.2l1.3 -1.8l-0.8 0.4m0.8 -0.4l-0.1 0.9M56.8 124.2l1.3 -1.8l-0.8 0.4m0.8 -0.4l-0.1 0.9M59.9 124.2l1.3 -1.8l-0.8 0.4m0.8 -0.4l-0.1 0.9M62.9 124.2l1.3 -1.7l-0.8 0.3m0.8 -0.3l-0.1 0.9M66.0 124.1l1.4 -1.7l-0.8 0.3m0.8 -0.3l-0.2 0.8M69.1 124.1l1.4 -1.6l-0.8 0.3m0.8 -0.3l-0.2 0.8M72.2 124.1l1.4 -1.5l-0.8 0.3m0.8 -0.3l-0.2 0.8M75.3 124.0l1.5 -1.5l-0.8 0.2m0.8 -0.2l-0.2 0.8M78.4 124.0l1.5 -1.4l-0.8 0.2m0.8 -0.2l-0.2 0.8M81.5 124.0l1.5 -1.4l-0.8 0.2m0.8 -0.2l-0.2 0.8M84.6 124.0l1.4 -1.4l-0.8 0.2m0.8 -0.2l-0.2 0.8M87.7 124.0l1.4 -1.5l-0.8 0.3m0.8 -0.3l-0.2 0.8M90.8 124.0l1.3 -1.5l-0.8 0.3m0.8 -0.3l-0.2 0.8M93.9 124.0l1.3 -1.5M96.9 123.9l1.5 -1.3M99.8 123.3l1.9 -0.0M103.5 122.4l0.9 1.7M106.8 122.3l0.3 2.0M110.0 122.3l0.2 2.0l0.3 -0.8m-0.3 0.8l-0.5 -0.7M113.1 122.3l0.2 2.0l0.3 -0.8m-0.3 0.8l-0.5 -0.7M116.2 122.3l0.2 2.1l0.3 -0.8m-0.3 0.8l-0.5 -0.7M119.3 122.3l0.3 2.1l0.3 -0.8m-0.3 0.8l-0.5 -0.7M1.4 126.7l0.4 2.2l0.3 -0.8m-0.3 0.8l-0.5 -0.7M4.5 126.7l0.4 2.2l0.3 -0.8m-0.3 0.8l-0.5 -0.7M7.5 126.7l0.5 2.1l0.2 -0.8m-0.2 0.8l-0.6 -0.6M10.4 126.8l0.9 1.9l0.0 -0.9m-0.0 0.9l-0.7 -0.5M13.2 127.1l1.6 1.3l-0.3 -0.8m0.3 0.8l-0.8 -0.2M16.1 127.6l2.0 0.4l-0.7 -0.5m0.7 0.5l-0.8 0.3M19.2 128.0l2.0 -0.4l-0.8 -0.3m0.8 0.3l-0.7 0.5M22.3 128.2l1.9 -0.8l-0.8 -0.1m0.8 0.1l-0.5 0.7M25.5 128.4l1.8 -1.1l-0.9 0.1m0.9 -0.1l-0.4 0.7M28.7 128.5l1.6 -1.3l-0.8 0.2m0.8 -0.2l-0.3 0.8M31.9 128.6l1.5 -1.5l-0.8 0.3m0.8 -0.3l-0.2 0.8M35.0 128.6l1.4 -1.7l-0.8 0.3m0.8 -0.3l-0.2 0.9M38.2 128.7l1.2 -1.8l-0.8 0.4m0.8 -0.4l-0.1 0.9M41.3 128.7l1.2 -1.9l-0.8 0.4m0.8 -0.4l-0.0 0.9M44.5 128.8l1.1 -1.9l-0.7 0.5m0.7 -0.5l-0.0 0.9M47.6 128.8l1.0 -1.9l-0.7 0.5m0.7 -0.5l0.0 0.9M50.7 128.8l1.0 -2.0l-0.7 0.5m0.7 -0.5l0.0 0.9M53.8 128.8l1.0 -2.0l-0.7 0.5m0.7 -0.5l0.0 0.9M56.9 128.8l1.0 -1.9l-0.7 0.5m0.7 -0.5l0.0 0.9M60.0 128.8l1.0 -1.9l-0.7 0.5m0.7 -0.5l0.0 0.9M63.1 128.7l1.1 -1.9l-0.7 0.5m0.7 -0.5l-0.0 0.9M66.1 128.7l1.1 -1.8l-0.7 0.4m0.7 -0.4l-0.0 0.9M69.2 128.7l1.2 -1.7l-0.8 0.4m0.8 -0.4l-0.1 0.9M72.3 128.6l1.3 -1.6l-0.8 0.3m0.8 -0.3l-0.1 0.8M75.3 128.6l1.4 -1.5l-0.8 0.3m0.8 -0.3l-0.2 0.8M78.4 128.5l1.5 -1.4l-0.8 0.2m0.8 -0.2l-0.3 0.8M81.4 128.5l1.5 -1.3l-0.8 0.2m0.8 -0.2l-0.3 0.8M84.5 128.4l1.6 -1.2l-0.8 0.1m0.8 -0.1l-0.3 0.8M87.6 128.4l1.6 -1.1l-0.8 0.1m0.8 -0.1l-0.4 0.8M90.6 128.3l1.7 -1.0M93.7 128.2l1.8 -0.8M96.7 127.9l2.0 -0.1M99.9 127.3l1.7 0.9M103.3 127.0l1.2 1.6M106.6 126.9l0.8 1.9l0.1 -0.8m-0.1 0.8l-0.7 -0.5M109.8 126.8l0.7 1.9l0.1 -0.8m-0.1 0.8l-0.6 -0.6M112.9 126.8l0.6 2.0l0.2 -0.8m-0.2 0.8l-0.6 -0.6M116.0 126.8l0.6 2.0l0.2 -0.8m-0.2 0.8l-0.6 -0.6M119.1 126.8l0.6 2.0l0.2 -0.8m-0.2 0.8l-0.6 -0.6M1.5 131.2l0.2 2.2l0.3 -0.8m-0.3 0.8l-0.5 -0.7M4.6 131.2l0.1 2.2l0.4 -0.8m-0.4 0.8l-0.5 -0.7M7.7 131.2l0.2 2.2l0.3 -0.8m-0.3 0.8l-0.5 -0.7M10.6 131.3l0.5 2.0l0.2 -0.8m-0.2 0.8l-0.6 -0.6M13.4 131.4l1.1 1.7l-0.1 -0.8m0.1 0.8l-0.7 -0.4M16.2 131.8l1.8 0.9l-0.5 -0.7m0.5 0.7l-0.8 0.0M19.2 132.3l2.0 0.0l-0.7 -0.4m0.7 0.4l-0.7 0.4M22.3 132.6l1.9 -0.6l-0.8 -0.2m0.8 0.2l-0.6 0.6M25.5 132.8l1.7 -1.1l-0.8 0.0m0.8 -0.0l-0.4 0.7M28.7 133.0l1.5 -1.4l-0.8 0.2m0.8 -0.2l-0.3 0.8M32.0 133.1l1.3 -1.6l-0.8 0.3m0.8 -0.3l-0.2 0.8M35.1 133.2l1.1 -1.8l-0.7 0.4m0.7 -0.4l-0.1 0.9M38.3 133.2l1.0 -1.9l-0.7 0.5m0.7 -0.5l0.0 0.9M41.5 133.3l0.9 -1.9l-0.7 0.5m0.7 -0.5l0.1 0.9M44.6 133.3l0.8 -2.0l-0.7 0.6m0.7 -0.6l0.1 0.9M47.7 133.3l0.7 -2.0l-0.7 0.6m0.7 -0.6l0.1 0.9M50.8 133.3l0.7 -2.0l-0.6 0.6m0.6 -0.6l0.1 0.9M53.9 133.3l0.7 -2.0l-0.6 0.6m0.6 -0.6l0.1 0.9M57.0 133.3l0.7 -2.0l-0.6 0.6m0.6 -0.6l0.1 0.9M60.1 133.3l0.8 -2.0l-0.7 0.6m0.7 -0.6l0.1 0.9M63.2 133.3l0.8 -1.9l-0.7 0.5m0.7 -0.5l0.1 0.9M66.2 133.2l0.9 -1.9l-0.7 0.5m0.7 -0.5l0.0 0.9M69.3 133.2l1.1 -1.8l-0.7 0.4m0.7 -0.4l-0.0 0.9M72.3 133.1l1.2 -1.7l-0.8 0.4m0.8 -0.4l-0.1 0.8M75.3 133.0l1.4 -1.5l-0.8 0.3m0.8 -0.3l-0.2 0.8M78.3 132.9l1.6 -1.3l-0.8 0.2m0.8 -0.2l-0.3 0.8M81.3 132.8l1.7 -1.0l-0.8 0.0m0.8 -0.0l-0.4 0.7M84.4 132.7l1.8 -0.8l-0.8 -0.1m0.8 0.1l-0.5 0.7M87.4 132.6l1.9 -0.6l-0.8 -0.2m0.8 0.2l-0.6 0.6M90.5 132.4l2.0 -0.3M93.6 132.2l2.0 0.1M96.8 131.9l1.9 0.7M100.0 131.7l1.5 1.3l-0.3 -0.8m0.3 0.8l-0.8 -0.2M103.3 131.5l1.2 1.6l-0.1 -0.8m0.1 0.8l-0.8 -0.4M106.5 131.4l1.0 1.8l0.0 -0.9m-0.0 0.9l-0.7 -0.5M109.7 131.4l0.9 1.9l0.1 -0.9m-0.1 0.9l-0.7 -0.5M112.8 131.3l0.8 1.9l0.1 -0.9m-0.1 0.9l-0.7 -0.5M115.9 131.3l0.8 1.9l0.1 -0.9m-0.1 0.9l-0.7 -0.5M119.0 131.3l0.8 2.0l0.1 -0.9m-0.1 0.9l-0.7 -0.5" fill="none" stroke="#111" stroke-width="0.55" stroke-opacity="0.7" stroke-linecap="butt" stroke-linejoin="round"/><path d="M52.6 60.7l3.3 -0.8l-1.0 -0.3m1.0 0.3l-0.8 0.7M55.4 60.6l4.0 -0.6l-1.1 -0.4m1.1 0.4l-1.0 0.7M58.3 60.4l4.4 -0.1l-1.1 -0.6m1.1 0.6l-1.1 0.6M61.4 60.1l4.4 0.5l-1.0 -0.7m1.0 0.7l-1.2 0.5M64.6 59.8l4.1 1.1l-0.9 -0.8m0.9 0.8l-1.2 0.3M68.0 59.6l3.6 1.5l-0.7 -0.9m0.7 0.9l-1.2 0.1M71.5 59.5l2.8 1.7l-0.5 -0.9m0.5 0.9l-1.1 -0.0M46.7 65.6l2.7 -1.5l-1.0 0.0m1.0 -0.0l-0.5 0.9M49.3 65.7l3.8 -1.9l-1.2 -0.1m1.2 0.1l-0.7 1.0M51.9 65.7l4.7 -1.7l-1.3 -0.2m1.3 0.2l-0.9 1.0M54.4 64.4l6.1 0.8l-1.2 -0.9m1.2 0.9l-1.4 0.6M57.6 63.9l5.9 1.8l-1.1 -1.1m1.1 1.1l-1.5 0.3M60.9 63.4l5.4 2.8l-0.8 -1.3m0.8 1.3l-1.5 0.0M64.4 62.9l4.6 3.8l-0.6 -1.4m0.6 1.4l-1.5 -0.3M67.9 62.5l3.7 4.5l-0.3 -1.5m0.3 1.5l-1.4 -0.6M71.0 63.3l3.7 3.1l-0.5 -1.2m0.5 1.2l-1.3 -0.2M74.6 63.2l2.8 3.2l-0.3 -1.2m0.3 1.2l-1.1 -0.4M78.2 63.4l1.8 2.7l-0.1 -1.1m0.1 1.1l-0.9 -0.5M43.9 70.4l2.1 -2.2l-1.0 0.3m1.0 -0.3l-0.3 1.0M46.5 70.8l3.2 -2.9l-1.2 0.3m1.2 -0.3l-0.4 1.2M49.2 70.8l4.0 -3.1l-1.3 0.2m1.3 -0.2l-0.6 1.2M51.3 69.8l6.0 -1.0l-1.4 -0.5m1.4 0.5l-1.2 0.9M54.4 69.3l6.0 0.0l-1.3 -0.7m1.3 0.7l-1.3 0.7M57.6 68.6l5.9 1.4l-1.1 -1.0m1.1 1.0l-1.5 0.4M61.0 67.9l5.3 2.8l-0.8 -1.3m0.8 1.3l-1.5 0.0M64.6 67.2l4.2 4.2l-0.4 -1.4m0.4 1.4l-1.5 -0.4M68.3 66.8l3.0 5.1l-0.1 -1.5m0.1 1.5l-1.3 -0.8M72.0 66.5l1.9 5.6l0.3 -1.5m-0.3 1.5l-1.1 -1.0M75.5 66.4l0.9 5.8l0.5 -1.4m-0.5 1.4l-0.9 -1.2M78.2 67.2l1.8 4.2l0.1 -1.3m-0.1 1.3l-1.0 -0.8M81.7 67.6l1.0 3.4l0.2 -1.1m-0.2 1.1l-0.8 -0.8M44.0 75.5l1.9 -3.4l-1.0 0.6m1.0 -0.6l-0.0 1.2M46.8 75.9l2.6 -4.1l-1.2 0.6m1.2 -0.6l-0.1 1.3M48.7 75.3l5.0 -3.0l-1.5 0.1m1.5 -0.1l-0.7 1.3M51.6 75.0l5.3 -2.5l-1.5 -0.1m1.5 0.1l-0.9 1.2M54.5 74.5l5.7 -1.5l-1.5 -0.4m1.5 0.4l-1.1 1.0M57.5 73.7l5.9 0.2l-1.3 -0.8m1.3 0.8l-1.3 0.7M61.1 72.5l5.0 2.5l-0.8 -1.2m0.8 1.2l-1.4 0.0M64.9 71.4l3.5 4.8l-0.2 -1.5m0.2 1.5l-1.4 -0.6M69.0 70.9l1.7 5.8l0.3 -1.5m-0.3 1.5l-1.1 -1.1M72.7 70.8l0.3 6.0l0.7 -1.4m-0.7 1.4l-0.8 -1.3M76.3 70.8l-0.5 6.0l0.8 -1.3m-0.8 1.3l-0.6 -1.4M79.6 70.9l-1.1 5.9l1.0 -1.2m-1.0 1.2l-0.5 -1.4M82.0 71.6l0.5 4.5l0.5 -1.2m-0.5 1.2l-0.7 -1.0M85.2 72.2l0.1 3.1l0.5 -0.9m-0.5 0.9l-0.5 -0.9M41.6 79.7l0.6 -2.9l-0.6 0.8m0.6 -0.8l0.3 1.0M44.5 80.4l1.1 -4.2l-0.8 0.9m0.8 -0.9l0.3 1.2M46.3 80.6l3.5 -4.6l-1.4 0.6m1.4 -0.6l-0.2 1.5M49.4 80.5l3.7 -4.5l-1.4 0.6m1.4 -0.6l-0.3 1.5M52.4 80.5l3.9 -4.3l-1.4 0.5m1.4 -0.5l-0.3 1.4M55.3 80.3l4.3 -4.0l-1.4 0.4m1.4 -0.4l-0.5 1.4M59.0 79.2l2.9 -1.8l-1.1 0.0m1.1 -0.0l-0.5 0.9M70.4 75.8l-1.3 5.1l0.9 -1.0m-0.9 1.0l-0.4 -1.3M74.0 75.4l-2.2 5.8l1.2 -1.0m-1.2 1.0l-0.2 -1.5M77.2 75.5l-2.5 5.6l1.2 -0.9m-1.2 0.9l-0.1 -1.5M80.4 75.6l-2.6 5.4l1.2 -0.9m-1.2 0.9l-0.1 -1.5M82.5 75.9l-0.5 4.8l0.8 -1.1m-0.8 1.1l-0.5 -1.2M85.5 76.5l-0.4 3.6l0.6 -0.9m-0.6 0.9l-0.4 -1.0M41.9 84.3l-0.0 -3.1l-0.5 0.9m0.5 -0.9l0.5 0.9M45.0 85.1l0.0 -4.5l-0.6 1.1m0.6 -1.1l0.6 1.1M47.1 85.6l2.1 -5.6l-1.1 1.0m1.1 -1.0l0.2 1.5M50.3 85.6l1.9 -5.6l-1.1 1.0m1.1 -1.0l0.3 1.5M53.5 85.7l1.6 -5.7l-1.0 1.1m1.0 -1.1l0.3 1.5M56.9 85.7l1.0 -5.9l-0.9 1.2m0.9 -1.2l0.5 1.4M60.7 84.7l-0.4 -3.8l-0.5 1.1m0.5 -1.1l0.6 1.0M68.3 82.4l-3.1 0.8l1.0 0.3m-1.0 -0.3l0.8 -0.7M72.1 81.3l-4.5 3.1l1.4 -0.1m-1.4 0.1l0.7 -1.3M75.2 80.7l-4.6 4.1l1.5 -0.4m-1.5 0.4l0.5 -1.5M78.1 80.6l-4.2 4.4l1.5 -0.5m-1.5 0.5l0.4 -1.5M81.1 80.6l-4.0 4.5l1.4 -0.5m-1.4 0.5l0.3 -1.5M83.0 80.5l-1.6 4.6l1.0 -0.9m-1.0 0.9l-0.2 -1.3M85.8 81.1l-1.0 3.4l0.8 -0.8m-0.8 0.8l-0.2 -1.1M45.4 89.4l-0.8 -4.1l-0.4 1.2m0.4 -1.2l0.8 0.9M48.7 89.8l-1.3 -5.0l-0.4 1.3m0.4 -1.3l0.9 1.0M51.1 90.3l0.2 -6.1l-0.8 1.3m0.8 -1.3l0.7 1.4M54.6 90.3l-0.5 -6.0l-0.6 1.4m0.6 -1.4l0.8 1.3M58.2 90.2l-1.6 -5.9l-0.4 1.5m0.4 -1.5l1.1 1.1M62.1 89.9l-3.2 -5.2l0.1 1.5m-0.1 -1.5l1.3 0.8M66.1 89.1l-5.0 -3.6l0.7 1.4m-0.7 -1.4l1.5 0.2M69.7 87.9l-6.0 -1.2l1.2 1.0m-1.2 -1.0l1.5 -0.5M72.8 86.9l-6.1 0.8l1.4 0.6m-1.4 -0.6l1.2 -0.9M75.7 86.3l-5.7 2.1l1.5 0.2m-1.5 -0.2l1.0 -1.1M78.6 85.9l-5.3 2.8l1.5 0.0m-1.5 -0.0l0.8 -1.3M81.5 85.7l-4.9 3.2l1.5 -0.1m-1.5 0.1l0.7 -1.3M83.3 85.4l-2.2 3.7l1.1 -0.6m-1.1 0.6l0.0 -1.2M45.5 93.4l-1.0 -3.2l-0.2 1.0m0.2 -1.0l0.8 0.7M49.0 93.9l-1.7 -4.2l-0.1 1.3m0.1 -1.3l1.0 0.8M52.5 94.1l-2.5 -4.6l0.0 1.4m-0.0 -1.4l1.2 0.7M55.2 94.7l-1.7 -5.9l-0.3 1.5m0.3 -1.5l1.1 1.1M58.7 94.5l-2.7 -5.4l-0.1 1.5m0.1 -1.5l1.3 0.9M62.4 94.1l-3.8 -4.6l0.3 1.5m-0.3 -1.5l1.4 0.6M66.0 93.5l-4.8 -3.4l0.7 1.4m-0.7 -1.4l1.5 0.2M69.5 92.8l-5.5 -2.0l1.0 1.1m-1.0 -1.1l1.5 -0.2M72.7 92.1l-5.8 -0.6l1.2 0.8m-1.2 -0.8l1.4 -0.6M75.8 91.5l-5.8 0.6l1.4 0.6m-1.4 -0.6l1.2 -0.8M78.8 91.1l-5.5 1.4l1.4 0.4m-1.4 -0.4l1.1 -1.0M80.7 90.3l-3.2 3.0l1.2 -0.3m-1.2 0.3l0.4 -1.2M83.2 90.6l-2.1 2.4l1.0 -0.4m-1.0 0.4l0.2 -1.0M48.7 97.7l-1.3 -2.8l-0.1 1.0m0.1 -1.0l0.8 0.6M52.3 98.0l-2.2 -3.4l0.1 1.2m-0.1 -1.2l1.0 0.6M55.8 98.0l-3.1 -3.5l0.3 1.3m-0.3 -1.3l1.2 0.4M59.3 97.8l-3.8 -3.1l0.5 1.2m-0.5 -1.2l1.3 0.2M62.4 98.5l-3.9 -4.4l0.3 1.5m-0.3 -1.5l1.4 0.5M65.9 98.0l-4.6 -3.4l0.6 1.3m-0.6 -1.3l1.5 0.2M69.3 97.5l-5.1 -2.4l0.9 1.2m-0.9 -1.2l1.5 -0.1M72.5 97.0l-5.4 -1.3l1.1 1.0m-1.1 -1.0l1.4 -0.4M75.0 95.6l-4.2 1.4l1.2 0.2m-1.2 -0.2l0.9 -0.9M77.7 95.4l-3.4 1.7l1.1 0.0m-1.1 -0.0l0.7 -0.9M58.6 101.8l-2.3 -2.1l0.3 1.0m-0.3 -1.0l1.0 0.2M61.9 101.6l-2.9 -1.7l0.6 0.9m-0.6 -0.9l1.1 0.0M65.2 101.4l-3.2 -1.1l0.7 0.8m-0.7 -0.8l1.1 -0.2M68.3 101.0l-3.3 -0.5l0.8 0.6m-0.8 -0.6l1.0 -0.4M71.3 100.7l-3.0 0.1l0.9 0.5m-0.9 -0.5l0.9 -0.5" fill="none" stroke="#111" stroke-width="0.65" stroke-opacity="0.8" stroke-linecap="butt" stroke-linejoin="round"/></g><linearGradient id="cb" x1="0" y1="1" x2="0" y2="0"><stop offset="0" stop-color="#053061"/><stop offset="0.1" stop-color="#2166ac"/><stop offset="0.2" stop-color="#4393c3"/><stop offset="0.3" stop-color="#92c5de"/><stop offset="0.4" stop-color="#d1e5f0"/><stop offset="0.5" stop-color="#f7f7f7"/><stop offset="0.6" stop-color="#fddbc7"/><stop offset="0.7" stop-color="#f4a582"/><stop offset="0.8" stop-color="#d6604d"/><stop offset="0.9" stop-color="#b2182b"/><stop offset="1" stop-color="#67001f"/></linearGradient></defs><g transform="translate(20.4,6.6)"><rect x="0" y="0" width="120" height="140.4" fill="#fff"/><g clip-path="url(#dc)"><g filter="url(#bl)"><path fill="#3078b4" d="M-0.7 2.4h2.8v2.8h-2.8zM1.8 2.4h2.8v2.8h-2.8zM4.3 2.4h2.8v2.8h-2.8zM6.8 2.4h2.8v2.8h-2.8zM9.3 2.4h2.8v2.8h-2.8zM11.8 2.4h2.8v2.8h-2.8zM14.3 2.4h2.8v2.8h-2.8zM16.8 2.4h2.8v2.8h-2.8zM19.3 2.4h2.8v2.8h-2.8zM21.8 2.4h2.8v2.8h-2.8zM24.3 2.4h2.8v2.8h-2.8zM26.8 2.4h2.8v2.8h-2.8zM29.3 2.4h2.8v2.8h-2.8zM31.8 2.4h2.8v2.8h-2.8zM-0.7 4.9h2.8v2.8h-2.8zM1.8 4.9h2.8v2.8h-2.8zM4.3 4.9h2.8v2.8h-2.8zM6.8 4.9h2.8v2.8h-2.8zM9.3 4.9h2.8v2.8h-2.8zM11.8 4.9h2.8v2.8h-2.8zM14.3 4.9h2.8v2.8h-2.8zM16.8 4.9h2.8v2.8h-2.8zM19.3 4.9h2.8v2.8h-2.8zM21.8 4.9h2.8v2.8h-2.8zM24.3 4.9h2.8v2.8h-2.8zM26.8 4.9h2.8v2.8h-2.8zM29.3 4.9h2.8v2.8h-2.8zM31.8 4.9h2.8v2.8h-2.8zM-0.7 7.4h2.8v2.8h-2.8zM1.8 7.4h2.8v2.8h-2.8zM4.3 7.4h2.8v2.8h-2.8zM6.8 7.4h2.8v2.8h-2.8zM9.3 7.4h2.8v2.8h-2.8zM11.8 7.4h2.8v2.8h-2.8zM14.3 7.4h2.8v2.8h-2.8zM16.8 7.4h2.8v2.8h-2.8zM19.3 7.4h2.8v2.8h-2.8zM21.8 7.4h2.8v2.8h-2.8zM24.3 7.4h2.8v2.8h-2.8zM26.8 7.4h2.8v2.8h-2.8zM-0.7 9.9h2.8v2.8h-2.8zM1.8 9.9h2.8v2.8h-2.8zM4.3 9.9h2.8v2.8h-2.8zM6.8 9.9h2.8v2.8h-2.8zM9.3 9.9h2.8v2.8h-2.8zM11.8 9.9h2.8v2.8h-2.8zM14.3 9.9h2.8v2.8h-2.8zM16.8 9.9h2.8v2.8h-2.8zM-0.7 12.4h2.8v2.8h-2.8zM1.8 12.4h2.8v2.8h-2.8zM4.3 12.4h2.8v2.8h-2.8zM6.8 12.4h2.8v2.8h-2.8zM9.3 12.4h2.8v2.8h-2.8zM11.8 12.4h2.8v2.8h-2.8zM-0.7 14.9h2.8v2.8h-2.8zM1.8 14.9h2.8v2.8h-2.8zM4.3 14.9h2.8v2.8h-2.8zM91.8 122.4h2.8v2.8h-2.8zM94.3 122.4h2.8v2.8h-2.8zM96.8 122.4h2.8v2.8h-2.8zM99.3 122.4h2.8v2.8h-2.8zM71.8 124.9h2.8v2.8h-2.8zM74.3 124.9h2.8v2.8h-2.8zM76.8 124.9h2.8v2.8h-2.8zM79.3 124.9h2.8v2.8h-2.8zM81.8 124.9h2.8v2.8h-2.8zM84.3 124.9h2.8v2.8h-2.8zM86.8 124.9h2.8v2.8h-2.8zM89.3 124.9h2.8v2.8h-2.8zM91.8 124.9h2.8v2.8h-2.8zM94.3 124.9h2.8v2.8h-2.8zM96.8 124.9h2.8v2.8h-2.8zM99.3 124.9h2.8v2.8h-2.8zM101.8 124.9h2.8v2.8h-2.8zM104.3 124.9h2.8v2.8h-2.8zM106.8 124.9h2.8v2.8h-2.8zM109.3 124.9h2.8v2.8h-2.8zM111.8 124.9h2.8v2.8h-2.8zM114.3 124.9h2.8v2.8h-2.8zM116.8 124.9h2.8v2.8h-2.8zM51.8 127.4h2.8v2.8h-2.8zM54.3 127.4h2.8v2.8h-2.8zM56.8 127.4h2.8v2.8h-2.8zM59.3 127.4h2.8v2.8h-2.8zM61.8 127.4h2.8v2.8h-2.8zM64.3 127.4h2.8v2.8h-2.8zM66.8 127.4h2.8v2.8h-2.8zM69.3 127.4h2.8v2.8h-2.8zM71.8 127.4h2.8v2.8h-2.8zM74.3 127.4h2.8v2.8h-2.8zM76.8 127.4h2.8v2.8h-2.8zM109.3 127.4h2.8v2.8h-2.8zM111.8 127.4h2.8v2.8h-2.8zM114.3 127.4h2.8v2.8h-2.8zM116.8 127.4h2.8v2.8h-2.8zM119.3 127.4h2.8v2.8h-2.8zM-0.7 129.9h2.8v2.8h-2.8zM1.8 129.9h2.8v2.8h-2.8zM4.3 129.9h2.8v2.8h-2.8zM6.8 129.9h2.8v2.8h-2.8zM9.3 129.9h2.8v2.8h-2.8zM11.8 129.9h2.8v2.8h-2.8zM14.3 129.9h2.8v2.8h-2.8zM16.8 129.9h2.8v2.8h-2.8zM19.3 129.9h2.8v2.8h-2.8zM21.8 129.9h2.8v2.8h-2.8zM24.3 129.9h2.8v2.8h-2.8zM26.8 129.9h2.8v2.8h-2.8zM29.3 129.9h2.8v2.8h-2.8zM31.8 129.9h2.8v2.8h-2.8zM34.3 129.9h2.8v2.8h-2.8zM36.8 129.9h2.8v2.8h-2.8zM39.3 129.9h2.8v2.8h-2.8zM41.8 129.9h2.8v2.8h-2.8zM44.3 129.9h2.8v2.8h-2.8zM46.8 129.9h2.8v2.8h-2.8zM49.3 129.9h2.8v2.8h-2.8zM51.8 129.9h2.8v2.8h-2.8zM54.3 129.9h2.8v2.8h-2.8zM56.8 129.9h2.8v2.8h-2.8zM59.3 129.9h2.8v2.8h-2.8zM61.8 129.9h2.8v2.8h-2.8zM119.3 129.9h2.8v2.8h-2.8zM-0.7 132.4h2.8v2.8h-2.8zM1.8 132.4h2.8v2.8h-2.8zM4.3 132.4h2.8v2.8h-2.8zM6.8 132.4h2.8v2.8h-2.8zM9.3 132.4h2.8v2.8h-2.8zM11.8 132.4h2.8v2.8h-2.8zM14.3 132.4h2.8v2.8h-2.8zM16.8 132.4h2.8v2.8h-2.8zM19.3 132.4h2.8v2.8h-2.8zM21.8 132.4h2.8v2.8h-2.8zM24.3 132.4h2.8v2.8h-2.8zM26.8 132.4h2.8v2.8h-2.8zM29.3 132.4h2.8v2.8h-2.8zM31.8 132.4h2.8v2.8h-2.8zM34.3 132.4h2.8v2.8h-2.8zM36.8 132.4h2.8v2.8h-2.8zM39.3 132.4h2.8v2.8h-2.8zM41.8 132.4h2.8v2.8h-2.8zM44.3 132.4h2.8v2.8h-2.8zM46.8 132.4h2.8v2.8h-2.8zM49.3 132.4h2.8v2.8h-2.8zM51.8 132.4h2.8v2.8h-2.8zM-0.7 134.9h2.8v2.8h-2.8zM1.8 134.9h2.8v2.8h-2.8zM4.3 134.9h2.8v2.8h-2.8zM6.8 134.9h2.8v2.8h-2.8zM9.3 134.9h2.8v2.8h-2.8zM11.8 134.9h2.8v2.8h-2.8zM14.3 134.9h2.8v2.8h-2.8zM16.8 134.9h2.8v2.8h-2.8zM19.3 134.9h2.8v2.8h-2.8zM21.8 134.9h2.8v2.8h-2.8zM24.3 134.9h2.8v2.8h-2.8zM26.8 134.9h2.8v2.8h-2.8zM29.3 134.9h2.8v2.8h-2.8zM31.8 134.9h2.8v2.8h-2.8zM34.3 134.9h2.8v2.8h-2.8zM36.8 134.9h2.8v2.8h-2.8zM39.3 134.9h2.8v2.8h-2.8zM41.8 134.9h2.8v2.8h-2.8zM44.3 134.9h2.8v2.8h-2.8zM-0.7 137.4h2.8v2.8h-2.8zM1.8 137.4h2.8v2.8h-2.8zM4.3 137.4h2.8v2.8h-2.8zM6.8 137.4h2.8v2.8h-2.8zM9.3 137.4h2.8v2.8h-2.8zM11.8 137.4h2.8v2.8h-2.8zM14.3 137.4h2.8v2.8h-2.8zM16.8 137.4h2.8v2.8h-2.8zM19.3 137.4h2.8v2.8h-2.8zM21.8 137.4h2.8v2.8h-2.8zM24.3 137.4h2.8v2.8h-2.8zM26.8 137.4h2.8v2.8h-2.8zM29.3 137.4h2.8v2.8h-2.8zM31.8 137.4h2.8v2.8h-2.8zM34.3 137.4h2.8v2.8h-2.8zM36.8 137.4h2.8v2.8h-2.8zM39.3 137.4h2.8v2.8h-2.8zM41.8 137.4h2.8v2.8h-2.8zM44.3 137.4h2.8v2.8h-2.8z"/><path fill="#307eb4" d="M34.3 2.4h2.8v2.8h-2.8zM34.3 4.9h2.8v2.8h-2.8zM29.3 7.4h2.8v2.8h-2.8zM19.3 9.9h2.8v2.8h-2.8zM6.8 14.9h2.8v2.8h-2.8zM86.8 122.4h2.8v2.8h-2.8zM89.3 122.4h2.8v2.8h-2.8zM101.8 122.4h2.8v2.8h-2.8zM104.3 122.4h2.8v2.8h-2.8zM69.3 124.9h2.8v2.8h-2.8zM119.3 124.9h2.8v2.8h-2.8zM4.3 127.4h2.8v2.8h-2.8zM6.8 127.4h2.8v2.8h-2.8zM9.3 127.4h2.8v2.8h-2.8zM11.8 127.4h2.8v2.8h-2.8zM14.3 127.4h2.8v2.8h-2.8zM16.8 127.4h2.8v2.8h-2.8zM19.3 127.4h2.8v2.8h-2.8zM44.3 127.4h2.8v2.8h-2.8zM46.8 127.4h2.8v2.8h-2.8zM49.3 127.4h2.8v2.8h-2.8z"/><path fill="#307eba" d="M36.8 2.4h2.8v2.8h-2.8zM39.3 2.4h2.8v2.8h-2.8zM41.8 2.4h2.8v2.8h-2.8zM44.3 2.4h2.8v2.8h-2.8zM46.8 2.4h2.8v2.8h-2.8zM36.8 4.9h2.8v2.8h-2.8zM39.3 4.9h2.8v2.8h-2.8zM41.8 4.9h2.8v2.8h-2.8zM44.3 4.9h2.8v2.8h-2.8zM46.8 4.9h2.8v2.8h-2.8zM31.8 7.4h2.8v2.8h-2.8zM34.3 7.4h2.8v2.8h-2.8zM36.8 7.4h2.8v2.8h-2.8zM39.3 7.4h2.8v2.8h-2.8zM41.8 7.4h2.8v2.8h-2.8zM44.3 7.4h2.8v2.8h-2.8zM21.8 9.9h2.8v2.8h-2.8zM24.3 9.9h2.8v2.8h-2.8zM26.8 9.9h2.8v2.8h-2.8zM29.3 9.9h2.8v2.8h-2.8zM31.8 9.9h2.8v2.8h-2.8zM34.3 9.9h2.8v2.8h-2.8zM36.8 9.9h2.8v2.8h-2.8zM14.3 12.4h2.8v2.8h-2.8zM16.8 12.4h2.8v2.8h-2.8zM19.3 12.4h2.8v2.8h-2.8zM21.8 12.4h2.8v2.8h-2.8zM24.3 12.4h2.8v2.8h-2.8zM9.3 14.9h2.8v2.8h-2.8zM11.8 14.9h2.8v2.8h-2.8zM-0.7 17.4h2.8v2.8h-2.8zM1.8 17.4h2.8v2.8h-2.8zM4.3 17.4h2.8v2.8h-2.8zM6.8 17.4h2.8v2.8h-2.8zM74.3 122.4h2.8v2.8h-2.8zM76.8 122.4h2.8v2.8h-2.8zM79.3 122.4h2.8v2.8h-2.8zM81.8 122.4h2.8v2.8h-2.8zM84.3 122.4h2.8v2.8h-2.8zM106.8 122.4h2.8v2.8h-2.8zM109.3 122.4h2.8v2.8h-2.8zM111.8 122.4h2.8v2.8h-2.8zM114.3 122.4h2.8v2.8h-2.8zM116.8 122.4h2.8v2.8h-2.8zM-0.7 124.9h2.8v2.8h-2.8zM1.8 124.9h2.8v2.8h-2.8zM4.3 124.9h2.8v2.8h-2.8zM6.8 124.9h2.8v2.8h-2.8zM9.3 124.9h2.8v2.8h-2.8zM11.8 124.9h2.8v2.8h-2.8zM14.3 124.9h2.8v2.8h-2.8zM16.8 124.9h2.8v2.8h-2.8zM54.3 124.9h2.8v2.8h-2.8zM56.8 124.9h2.8v2.8h-2.8zM59.3 124.9h2.8v2.8h-2.8zM61.8 124.9h2.8v2.8h-2.8zM64.3 124.9h2.8v2.8h-2.8zM66.8 124.9h2.8v2.8h-2.8zM-0.7 127.4h2.8v2.8h-2.8zM1.8 127.4h2.8v2.8h-2.8zM21.8 127.4h2.8v2.8h-2.8zM24.3 127.4h2.8v2.8h-2.8zM26.8 127.4h2.8v2.8h-2.8zM29.3 127.4h2.8v2.8h-2.8zM31.8 127.4h2.8v2.8h-2.8zM34.3 127.4h2.8v2.8h-2.8zM36.8 127.4h2.8v2.8h-2.8zM39.3 127.4h2.8v2.8h-2.8zM41.8 127.4h2.8v2.8h-2.8z"/><path fill="#367eba" d="M49.3 2.4h2.8v2.8h-2.8zM51.8 2.4h2.8v2.8h-2.8zM54.3 2.4h2.8v2.8h-2.8zM56.8 2.4h2.8v2.8h-2.8zM59.3 2.4h2.8v2.8h-2.8zM49.3 4.9h2.8v2.8h-2.8zM51.8 4.9h2.8v2.8h-2.8zM54.3 4.9h2.8v2.8h-2.8zM56.8 4.9h2.8v2.8h-2.8zM59.3 4.9h2.8v2.8h-2.8zM46.8 7.4h2.8v2.8h-2.8zM49.3 7.4h2.8v2.8h-2.8zM51.8 7.4h2.8v2.8h-2.8zM54.3 7.4h2.8v2.8h-2.8zM56.8 7.4h2.8v2.8h-2.8zM39.3 9.9h2.8v2.8h-2.8zM41.8 9.9h2.8v2.8h-2.8zM44.3 9.9h2.8v2.8h-2.8zM46.8 9.9h2.8v2.8h-2.8zM49.3 9.9h2.8v2.8h-2.8zM51.8 9.9h2.8v2.8h-2.8zM26.8 12.4h2.8v2.8h-2.8zM29.3 12.4h2.8v2.8h-2.8zM31.8 12.4h2.8v2.8h-2.8zM34.3 12.4h2.8v2.8h-2.8zM36.8 12.4h2.8v2.8h-2.8zM39.3 12.4h2.8v2.8h-2.8zM41.8 12.4h2.8v2.8h-2.8zM44.3 12.4h2.8v2.8h-2.8zM14.3 14.9h2.8v2.8h-2.8zM16.8 14.9h2.8v2.8h-2.8zM19.3 14.9h2.8v2.8h-2.8zM21.8 14.9h2.8v2.8h-2.8zM24.3 14.9h2.8v2.8h-2.8zM26.8 14.9h2.8v2.8h-2.8zM29.3 14.9h2.8v2.8h-2.8zM9.3 17.4h2.8v2.8h-2.8zM11.8 17.4h2.8v2.8h-2.8zM14.3 17.4h2.8v2.8h-2.8zM-0.7 19.9h2.8v2.8h-2.8zM1.8 19.9h2.8v2.8h-2.8zM4.3 19.9h2.8v2.8h-2.8zM6.8 19.9h2.8v2.8h-2.8zM-0.7 22.4h2.8v2.8h-2.8zM1.8 22.4h2.8v2.8h-2.8zM94.3 117.4h2.8v2.8h-2.8zM96.8 117.4h2.8v2.8h-2.8zM99.3 117.4h2.8v2.8h-2.8zM101.8 117.4h2.8v2.8h-2.8zM1.8 119.9h2.8v2.8h-2.8zM4.3 119.9h2.8v2.8h-2.8zM76.8 119.9h2.8v2.8h-2.8zM79.3 119.9h2.8v2.8h-2.8zM81.8 119.9h2.8v2.8h-2.8zM84.3 119.9h2.8v2.8h-2.8zM86.8 119.9h2.8v2.8h-2.8zM89.3 119.9h2.8v2.8h-2.8zM91.8 119.9h2.8v2.8h-2.8zM94.3 119.9h2.8v2.8h-2.8zM96.8 119.9h2.8v2.8h-2.8zM99.3 119.9h2.8v2.8h-2.8zM101.8 119.9h2.8v2.8h-2.8zM104.3 119.9h2.8v2.8h-2.8zM106.8 119.9h2.8v2.8h-2.8zM109.3 119.9h2.8v2.8h-2.8zM111.8 119.9h2.8v2.8h-2.8zM114.3 119.9h2.8v2.8h-2.8zM116.8 119.9h2.8v2.8h-2.8zM119.3 119.9h2.8v2.8h-2.8zM-0.7 122.4h2.8v2.8h-2.8zM1.8 122.4h2.8v2.8h-2.8zM4.3 122.4h2.8v2.8h-2.8zM6.8 122.4h2.8v2.8h-2.8zM9.3 122.4h2.8v2.8h-2.8zM11.8 122.4h2.8v2.8h-2.8zM14.3 122.4h2.8v2.8h-2.8zM16.8 122.4h2.8v2.8h-2.8zM19.3 122.4h2.8v2.8h-2.8zM21.8 122.4h2.8v2.8h-2.8zM24.3 122.4h2.8v2.8h-2.8zM26.8 122.4h2.8v2.8h-2.8zM56.8 122.4h2.8v2.8h-2.8zM59.3 122.4h2.8v2.8h-2.8zM61.8 122.4h2.8v2.8h-2.8zM64.3 122.4h2.8v2.8h-2.8zM66.8 122.4h2.8v2.8h-2.8zM69.3 122.4h2.8v2.8h-2.8zM71.8 122.4h2.8v2.8h-2.8zM119.3 122.4h2.8v2.8h-2.8zM19.3 124.9h2.8v2.8h-2.8zM21.8 124.9h2.8v2.8h-2.8zM24.3 124.9h2.8v2.8h-2.8zM26.8 124.9h2.8v2.8h-2.8zM29.3 124.9h2.8v2.8h-2.8zM31.8 124.9h2.8v2.8h-2.8zM34.3 124.9h2.8v2.8h-2.8zM36.8 124.9h2.8v2.8h-2.8zM39.3 124.9h2.8v2.8h-2.8zM41.8 124.9h2.8v2.8h-2.8zM44.3 124.9h2.8v2.8h-2.8zM46.8 124.9h2.8v2.8h-2.8zM49.3 124.9h2.8v2.8h-2.8zM51.8 124.9h2.8v2.8h-2.8z"/><path fill="#3684ba" d="M61.8 2.4h2.8v2.8h-2.8zM64.3 2.4h2.8v2.8h-2.8zM66.8 2.4h2.8v2.8h-2.8zM69.3 2.4h2.8v2.8h-2.8zM71.8 2.4h2.8v2.8h-2.8zM74.3 2.4h2.8v2.8h-2.8zM76.8 2.4h2.8v2.8h-2.8zM61.8 4.9h2.8v2.8h-2.8zM64.3 4.9h2.8v2.8h-2.8zM66.8 4.9h2.8v2.8h-2.8zM69.3 4.9h2.8v2.8h-2.8zM71.8 4.9h2.8v2.8h-2.8zM74.3 4.9h2.8v2.8h-2.8zM76.8 4.9h2.8v2.8h-2.8zM59.3 7.4h2.8v2.8h-2.8zM61.8 7.4h2.8v2.8h-2.8zM64.3 7.4h2.8v2.8h-2.8zM66.8 7.4h2.8v2.8h-2.8zM69.3 7.4h2.8v2.8h-2.8zM71.8 7.4h2.8v2.8h-2.8zM74.3 7.4h2.8v2.8h-2.8zM54.3 9.9h2.8v2.8h-2.8zM56.8 9.9h2.8v2.8h-2.8zM59.3 9.9h2.8v2.8h-2.8zM61.8 9.9h2.8v2.8h-2.8zM64.3 9.9h2.8v2.8h-2.8zM66.8 9.9h2.8v2.8h-2.8zM69.3 9.9h2.8v2.8h-2.8zM46.8 12.4h2.8v2.8h-2.8zM49.3 12.4h2.8v2.8h-2.8zM51.8 12.4h2.8v2.8h-2.8zM54.3 12.4h2.8v2.8h-2.8zM56.8 12.4h2.8v2.8h-2.8zM59.3 12.4h2.8v2.8h-2.8zM61.8 12.4h2.8v2.8h-2.8zM64.3 12.4h2.8v2.8h-2.8zM31.8 14.9h2.8v2.8h-2.8zM34.3 14.9h2.8v2.8h-2.8zM36.8 14.9h2.8v2.8h-2.8zM39.3 14.9h2.8v2.8h-2.8zM41.8 14.9h2.8v2.8h-2.8zM44.3 14.9h2.8v2.8h-2.8zM46.8 14.9h2.8v2.8h-2.8zM49.3 14.9h2.8v2.8h-2.8zM51.8 14.9h2.8v2.8h-2.8zM54.3 14.9h2.8v2.8h-2.8zM16.8 17.4h2.8v2.8h-2.8zM19.3 17.4h2.8v2.8h-2.8zM21.8 17.4h2.8v2.8h-2.8zM24.3 17.4h2.8v2.8h-2.8zM26.8 17.4h2.8v2.8h-2.8zM29.3 17.4h2.8v2.8h-2.8zM31.8 17.4h2.8v2.8h-2.8zM34.3 17.4h2.8v2.8h-2.8zM36.8 17.4h2.8v2.8h-2.8zM39.3 17.4h2.8v2.8h-2.8zM41.8 17.4h2.8v2.8h-2.8zM9.3 19.9h2.8v2.8h-2.8zM11.8 19.9h2.8v2.8h-2.8zM14.3 19.9h2.8v2.8h-2.8zM16.8 19.9h2.8v2.8h-2.8zM19.3 19.9h2.8v2.8h-2.8zM21.8 19.9h2.8v2.8h-2.8zM4.3 22.4h2.8v2.8h-2.8zM6.8 22.4h2.8v2.8h-2.8zM9.3 22.4h2.8v2.8h-2.8zM11.8 22.4h2.8v2.8h-2.8zM-0.7 24.9h2.8v2.8h-2.8zM1.8 24.9h2.8v2.8h-2.8zM4.3 24.9h2.8v2.8h-2.8zM6.8 24.9h2.8v2.8h-2.8zM-0.7 27.4h2.8v2.8h-2.8zM1.8 27.4h2.8v2.8h-2.8zM-0.7 112.4h2.8v2.8h-2.8zM1.8 112.4h2.8v2.8h-2.8zM4.3 112.4h2.8v2.8h-2.8zM99.3 112.4h2.8v2.8h-2.8zM101.8 112.4h2.8v2.8h-2.8zM104.3 112.4h2.8v2.8h-2.8zM-0.7 114.9h2.8v2.8h-2.8zM1.8 114.9h2.8v2.8h-2.8zM4.3 114.9h2.8v2.8h-2.8zM6.8 114.9h2.8v2.8h-2.8zM9.3 114.9h2.8v2.8h-2.8zM11.8 114.9h2.8v2.8h-2.8zM84.3 114.9h2.8v2.8h-2.8zM86.8 114.9h2.8v2.8h-2.8zM89.3 114.9h2.8v2.8h-2.8zM91.8 114.9h2.8v2.8h-2.8zM94.3 114.9h2.8v2.8h-2.8zM96.8 114.9h2.8v2.8h-2.8zM99.3 114.9h2.8v2.8h-2.8zM101.8 114.9h2.8v2.8h-2.8zM104.3 114.9h2.8v2.8h-2.8zM106.8 114.9h2.8v2.8h-2.8zM109.3 114.9h2.8v2.8h-2.8zM111.8 114.9h2.8v2.8h-2.8zM114.3 114.9h2.8v2.8h-2.8zM116.8 114.9h2.8v2.8h-2.8zM119.3 114.9h2.8v2.8h-2.8zM-0.7 117.4h2.8v2.8h-2.8zM1.8 117.4h2.8v2.8h-2.8zM4.3 117.4h2.8v2.8h-2.8zM6.8 117.4h2.8v2.8h-2.8zM9.3 117.4h2.8v2.8h-2.8zM11.8 117.4h2.8v2.8h-2.8zM14.3 117.4h2.8v2.8h-2.8zM16.8 117.4h2.8v2.8h-2.8zM19.3 117.4h2.8v2.8h-2.8zM21.8 117.4h2.8v2.8h-2.8zM24.3 117.4h2.8v2.8h-2.8zM74.3 117.4h2.8v2.8h-2.8zM76.8 117.4h2.8v2.8h-2.8zM79.3 117.4h2.8v2.8h-2.8zM81.8 117.4h2.8v2.8h-2.8zM84.3 117.4h2.8v2.8h-2.8zM86.8 117.4h2.8v2.8h-2.8zM89.3 117.4h2.8v2.8h-2.8zM91.8 117.4h2.8v2.8h-2.8zM104.3 117.4h2.8v2.8h-2.8zM106.8 117.4h2.8v2.8h-2.8zM109.3 117.4h2.8v2.8h-2.8zM111.8 117.4h2.8v2.8h-2.8zM114.3 117.4h2.8v2.8h-2.8zM116.8 117.4h2.8v2.8h-2.8zM119.3 117.4h2.8v2.8h-2.8zM-0.7 119.9h2.8v2.8h-2.8zM6.8 119.9h2.8v2.8h-2.8zM9.3 119.9h2.8v2.8h-2.8zM11.8 119.9h2.8v2.8h-2.8zM14.3 119.9h2.8v2.8h-2.8zM16.8 119.9h2.8v2.8h-2.8zM19.3 119.9h2.8v2.8h-2.8zM21.8 119.9h2.8v2.8h-2.8zM24.3 119.9h2.8v2.8h-2.8zM26.8 119.9h2.8v2.8h-2.8zM29.3 119.9h2.8v2.8h-2.8zM31.8 119.9h2.8v2.8h-2.8zM34.3 119.9h2.8v2.8h-2.8zM36.8 119.9h2.8v2.8h-2.8zM39.3 119.9h2.8v2.8h-2.8zM41.8 119.9h2.8v2.8h-2.8zM44.3 119.9h2.8v2.8h-2.8zM46.8 119.9h2.8v2.8h-2.8zM49.3 119.9h2.8v2.8h-2.8zM51.8 119.9h2.8v2.8h-2.8zM54.3 119.9h2.8v2.8h-2.8zM56.8 119.9h2.8v2.8h-2.8zM59.3 119.9h2.8v2.8h-2.8zM61.8 119.9h2.8v2.8h-2.8zM64.3 119.9h2.8v2.8h-2.8zM66.8 119.9h2.8v2.8h-2.8zM69.3 119.9h2.8v2.8h-2.8zM71.8 119.9h2.8v2.8h-2.8zM74.3 119.9h2.8v2.8h-2.8zM29.3 122.4h2.8v2.8h-2.8zM31.8 122.4h2.8v2.8h-2.8zM34.3 122.4h2.8v2.8h-2.8zM36.8 122.4h2.8v2.8h-2.8zM39.3 122.4h2.8v2.8h-2.8zM41.8 122.4h2.8v2.8h-2.8zM44.3 122.4h2.8v2.8h-2.8zM46.8 122.4h2.8v2.8h-2.8zM49.3 122.4h2.8v2.8h-2.8zM51.8 122.4h2.8v2.8h-2.8zM54.3 122.4h2.8v2.8h-2.8z"/><path fill="#3c84ba" d="M79.3 2.4h2.8v2.8h-2.8zM81.8 2.4h2.8v2.8h-2.8zM79.3 4.9h2.8v2.8h-2.8zM81.8 4.9h2.8v2.8h-2.8zM76.8 7.4h2.8v2.8h-2.8zM79.3 7.4h2.8v2.8h-2.8zM71.8 9.9h2.8v2.8h-2.8zM74.3 9.9h2.8v2.8h-2.8zM66.8 12.4h2.8v2.8h-2.8zM69.3 12.4h2.8v2.8h-2.8zM56.8 14.9h2.8v2.8h-2.8zM59.3 14.9h2.8v2.8h-2.8zM61.8 14.9h2.8v2.8h-2.8zM44.3 17.4h2.8v2.8h-2.8zM46.8 17.4h2.8v2.8h-2.8zM49.3 17.4h2.8v2.8h-2.8zM24.3 19.9h2.8v2.8h-2.8zM26.8 19.9h2.8v2.8h-2.8zM29.3 19.9h2.8v2.8h-2.8zM14.3 22.4h2.8v2.8h-2.8zM9.3 24.9h2.8v2.8h-2.8zM4.3 27.4h2.8v2.8h-2.8zM-0.7 69.9h2.8v2.8h-2.8zM-0.7 72.4h2.8v2.8h-2.8zM-0.7 74.9h2.8v2.8h-2.8zM-0.7 77.4h2.8v2.8h-2.8zM-0.7 79.9h2.8v2.8h-2.8zM-0.7 107.4h2.8v2.8h-2.8zM1.8 107.4h2.8v2.8h-2.8zM-0.7 109.9h2.8v2.8h-2.8zM1.8 109.9h2.8v2.8h-2.8zM4.3 109.9h2.8v2.8h-2.8zM6.8 112.4h2.8v2.8h-2.8zM9.3 112.4h2.8v2.8h-2.8zM89.3 112.4h2.8v2.8h-2.8zM91.8 112.4h2.8v2.8h-2.8zM94.3 112.4h2.8v2.8h-2.8zM96.8 112.4h2.8v2.8h-2.8zM106.8 112.4h2.8v2.8h-2.8zM109.3 112.4h2.8v2.8h-2.8zM111.8 112.4h2.8v2.8h-2.8zM114.3 112.4h2.8v2.8h-2.8zM116.8 112.4h2.8v2.8h-2.8zM119.3 112.4h2.8v2.8h-2.8zM14.3 114.9h2.8v2.8h-2.8zM16.8 114.9h2.8v2.8h-2.8zM81.8 114.9h2.8v2.8h-2.8zM26.8 117.4h2.8v2.8h-2.8zM29.3 117.4h2.8v2.8h-2.8zM31.8 117.4h2.8v2.8h-2.8zM34.3 117.4h2.8v2.8h-2.8zM36.8 117.4h2.8v2.8h-2.8zM71.8 117.4h2.8v2.8h-2.8z"/><path fill="#3c8ac0" d="M84.3 2.4h2.8v2.8h-2.8zM86.8 2.4h2.8v2.8h-2.8zM89.3 2.4h2.8v2.8h-2.8zM91.8 2.4h2.8v2.8h-2.8zM94.3 2.4h2.8v2.8h-2.8zM96.8 2.4h2.8v2.8h-2.8zM99.3 2.4h2.8v2.8h-2.8zM101.8 2.4h2.8v2.8h-2.8zM104.3 2.4h2.8v2.8h-2.8zM106.8 2.4h2.8v2.8h-2.8zM109.3 2.4h2.8v2.8h-2.8zM111.8 2.4h2.8v2.8h-2.8zM84.3 4.9h2.8v2.8h-2.8zM86.8 4.9h2.8v2.8h-2.8zM89.3 4.9h2.8v2.8h-2.8zM91.8 4.9h2.8v2.8h-2.8zM94.3 4.9h2.8v2.8h-2.8zM96.8 4.9h2.8v2.8h-2.8zM99.3 4.9h2.8v2.8h-2.8zM101.8 4.9h2.8v2.8h-2.8zM104.3 4.9h2.8v2.8h-2.8zM106.8 4.9h2.8v2.8h-2.8zM109.3 4.9h2.8v2.8h-2.8zM81.8 7.4h2.8v2.8h-2.8zM84.3 7.4h2.8v2.8h-2.8zM86.8 7.4h2.8v2.8h-2.8zM89.3 7.4h2.8v2.8h-2.8zM91.8 7.4h2.8v2.8h-2.8zM94.3 7.4h2.8v2.8h-2.8zM96.8 7.4h2.8v2.8h-2.8zM99.3 7.4h2.8v2.8h-2.8zM101.8 7.4h2.8v2.8h-2.8zM104.3 7.4h2.8v2.8h-2.8zM106.8 7.4h2.8v2.8h-2.8zM79.3 9.9h2.8v2.8h-2.8zM81.8 9.9h2.8v2.8h-2.8zM84.3 9.9h2.8v2.8h-2.8zM86.8 9.9h2.8v2.8h-2.8zM89.3 9.9h2.8v2.8h-2.8zM91.8 9.9h2.8v2.8h-2.8zM94.3 9.9h2.8v2.8h-2.8zM96.8 9.9h2.8v2.8h-2.8zM99.3 9.9h2.8v2.8h-2.8zM101.8 9.9h2.8v2.8h-2.8zM104.3 9.9h2.8v2.8h-2.8zM71.8 12.4h2.8v2.8h-2.8zM74.3 12.4h2.8v2.8h-2.8zM76.8 12.4h2.8v2.8h-2.8zM79.3 12.4h2.8v2.8h-2.8zM81.8 12.4h2.8v2.8h-2.8zM84.3 12.4h2.8v2.8h-2.8zM86.8 12.4h2.8v2.8h-2.8zM89.3 12.4h2.8v2.8h-2.8zM91.8 12.4h2.8v2.8h-2.8zM94.3 12.4h2.8v2.8h-2.8zM96.8 12.4h2.8v2.8h-2.8zM64.3 14.9h2.8v2.8h-2.8zM66.8 14.9h2.8v2.8h-2.8zM69.3 14.9h2.8v2.8h-2.8zM71.8 14.9h2.8v2.8h-2.8zM74.3 14.9h2.8v2.8h-2.8zM76.8 14.9h2.8v2.8h-2.8zM79.3 14.9h2.8v2.8h-2.8zM81.8 14.9h2.8v2.8h-2.8zM84.3 14.9h2.8v2.8h-2.8zM86.8 14.9h2.8v2.8h-2.8zM89.3 14.9h2.8v2.8h-2.8zM51.8 17.4h2.8v2.8h-2.8zM54.3 17.4h2.8v2.8h-2.8zM56.8 17.4h2.8v2.8h-2.8zM59.3 17.4h2.8v2.8h-2.8zM61.8 17.4h2.8v2.8h-2.8zM64.3 17.4h2.8v2.8h-2.8zM66.8 17.4h2.8v2.8h-2.8zM69.3 17.4h2.8v2.8h-2.8zM71.8 17.4h2.8v2.8h-2.8zM74.3 17.4h2.8v2.8h-2.8zM76.8 17.4h2.8v2.8h-2.8zM79.3 17.4h2.8v2.8h-2.8zM34.3 19.9h2.8v2.8h-2.8zM36.8 19.9h2.8v2.8h-2.8zM39.3 19.9h2.8v2.8h-2.8zM41.8 19.9h2.8v2.8h-2.8zM44.3 19.9h2.8v2.8h-2.8zM46.8 19.9h2.8v2.8h-2.8zM49.3 19.9h2.8v2.8h-2.8zM51.8 19.9h2.8v2.8h-2.8zM54.3 19.9h2.8v2.8h-2.8zM56.8 19.9h2.8v2.8h-2.8zM59.3 19.9h2.8v2.8h-2.8zM61.8 19.9h2.8v2.8h-2.8zM64.3 19.9h2.8v2.8h-2.8zM16.8 22.4h2.8v2.8h-2.8zM19.3 22.4h2.8v2.8h-2.8zM21.8 22.4h2.8v2.8h-2.8zM24.3 22.4h2.8v2.8h-2.8zM26.8 22.4h2.8v2.8h-2.8zM29.3 22.4h2.8v2.8h-2.8zM31.8 22.4h2.8v2.8h-2.8zM34.3 22.4h2.8v2.8h-2.8zM36.8 22.4h2.8v2.8h-2.8zM39.3 22.4h2.8v2.8h-2.8zM41.8 22.4h2.8v2.8h-2.8zM44.3 22.4h2.8v2.8h-2.8zM46.8 22.4h2.8v2.8h-2.8zM11.8 24.9h2.8v2.8h-2.8zM14.3 24.9h2.8v2.8h-2.8zM16.8 24.9h2.8v2.8h-2.8zM19.3 24.9h2.8v2.8h-2.8zM21.8 24.9h2.8v2.8h-2.8zM24.3 24.9h2.8v2.8h-2.8zM6.8 27.4h2.8v2.8h-2.8zM9.3 27.4h2.8v2.8h-2.8zM11.8 27.4h2.8v2.8h-2.8zM14.3 27.4h2.8v2.8h-2.8zM1.8 29.9h2.8v2.8h-2.8zM4.3 29.9h2.8v2.8h-2.8zM6.8 29.9h2.8v2.8h-2.8zM9.3 29.9h2.8v2.8h-2.8zM-0.7 32.4h2.8v2.8h-2.8zM1.8 32.4h2.8v2.8h-2.8zM4.3 32.4h2.8v2.8h-2.8zM6.8 32.4h2.8v2.8h-2.8zM-0.7 34.9h2.8v2.8h-2.8zM1.8 34.9h2.8v2.8h-2.8zM4.3 34.9h2.8v2.8h-2.8zM-0.7 37.4h2.8v2.8h-2.8zM1.8 37.4h2.8v2.8h-2.8zM-0.7 39.9h2.8v2.8h-2.8zM-0.7 49.9h2.8v2.8h-2.8zM-0.7 52.4h2.8v2.8h-2.8zM-0.7 54.9h2.8v2.8h-2.8zM1.8 54.9h2.8v2.8h-2.8zM-0.7 57.4h2.8v2.8h-2.8zM1.8 57.4h2.8v2.8h-2.8zM-0.7 59.9h2.8v2.8h-2.8zM1.8 59.9h2.8v2.8h-2.8zM4.3 59.9h2.8v2.8h-2.8zM-0.7 62.4h2.8v2.8h-2.8zM1.8 62.4h2.8v2.8h-2.8zM4.3 62.4h2.8v2.8h-2.8zM-0.7 64.9h2.8v2.8h-2.8zM1.8 64.9h2.8v2.8h-2.8zM4.3 64.9h2.8v2.8h-2.8zM6.8 64.9h2.8v2.8h-2.8zM-0.7 67.4h2.8v2.8h-2.8zM1.8 67.4h2.8v2.8h-2.8zM4.3 67.4h2.8v2.8h-2.8zM6.8 67.4h2.8v2.8h-2.8zM1.8 69.9h2.8v2.8h-2.8zM4.3 69.9h2.8v2.8h-2.8zM6.8 69.9h2.8v2.8h-2.8zM4.3 72.4h2.8v2.8h-2.8zM6.8 72.4h2.8v2.8h-2.8zM9.3 72.4h2.8v2.8h-2.8zM4.3 74.9h2.8v2.8h-2.8zM6.8 74.9h2.8v2.8h-2.8zM9.3 74.9h2.8v2.8h-2.8zM4.3 77.4h2.8v2.8h-2.8zM6.8 77.4h2.8v2.8h-2.8zM1.8 79.9h2.8v2.8h-2.8zM4.3 79.9h2.8v2.8h-2.8zM6.8 79.9h2.8v2.8h-2.8zM-0.7 82.4h2.8v2.8h-2.8zM1.8 82.4h2.8v2.8h-2.8zM4.3 82.4h2.8v2.8h-2.8zM-0.7 84.9h2.8v2.8h-2.8zM1.8 84.9h2.8v2.8h-2.8zM4.3 84.9h2.8v2.8h-2.8zM-0.7 87.4h2.8v2.8h-2.8zM1.8 87.4h2.8v2.8h-2.8zM-0.7 89.9h2.8v2.8h-2.8zM1.8 89.9h2.8v2.8h-2.8zM-0.7 92.4h2.8v2.8h-2.8zM1.8 92.4h2.8v2.8h-2.8zM-0.7 94.9h2.8v2.8h-2.8zM1.8 94.9h2.8v2.8h-2.8zM-0.7 97.4h2.8v2.8h-2.8zM1.8 97.4h2.8v2.8h-2.8zM-0.7 99.9h2.8v2.8h-2.8zM1.8 99.9h2.8v2.8h-2.8zM4.3 99.9h2.8v2.8h-2.8zM-0.7 102.4h2.8v2.8h-2.8zM1.8 102.4h2.8v2.8h-2.8zM4.3 102.4h2.8v2.8h-2.8zM6.8 102.4h2.8v2.8h-2.8zM96.8 102.4h2.8v2.8h-2.8zM99.3 102.4h2.8v2.8h-2.8zM101.8 102.4h2.8v2.8h-2.8zM104.3 102.4h2.8v2.8h-2.8zM106.8 102.4h2.8v2.8h-2.8zM109.3 102.4h2.8v2.8h-2.8zM111.8 102.4h2.8v2.8h-2.8zM114.3 102.4h2.8v2.8h-2.8zM116.8 102.4h2.8v2.8h-2.8zM119.3 102.4h2.8v2.8h-2.8zM-0.7 104.9h2.8v2.8h-2.8zM1.8 104.9h2.8v2.8h-2.8zM4.3 104.9h2.8v2.8h-2.8zM6.8 104.9h2.8v2.8h-2.8zM9.3 104.9h2.8v2.8h-2.8zM91.8 104.9h2.8v2.8h-2.8zM94.3 104.9h2.8v2.8h-2.8zM96.8 104.9h2.8v2.8h-2.8zM99.3 104.9h2.8v2.8h-2.8zM101.8 104.9h2.8v2.8h-2.8zM104.3 104.9h2.8v2.8h-2.8zM106.8 104.9h2.8v2.8h-2.8zM109.3 104.9h2.8v2.8h-2.8zM111.8 104.9h2.8v2.8h-2.8zM114.3 104.9h2.8v2.8h-2.8zM116.8 104.9h2.8v2.8h-2.8zM119.3 104.9h2.8v2.8h-2.8zM4.3 107.4h2.8v2.8h-2.8zM6.8 107.4h2.8v2.8h-2.8zM9.3 107.4h2.8v2.8h-2.8zM11.8 107.4h2.8v2.8h-2.8zM14.3 107.4h2.8v2.8h-2.8zM86.8 107.4h2.8v2.8h-2.8zM89.3 107.4h2.8v2.8h-2.8zM91.8 107.4h2.8v2.8h-2.8zM94.3 107.4h2.8v2.8h-2.8zM96.8 107.4h2.8v2.8h-2.8zM99.3 107.4h2.8v2.8h-2.8zM101.8 107.4h2.8v2.8h-2.8zM104.3 107.4h2.8v2.8h-2.8zM106.8 107.4h2.8v2.8h-2.8zM109.3 107.4h2.8v2.8h-2.8zM111.8 107.4h2.8v2.8h-2.8zM114.3 107.4h2.8v2.8h-2.8zM116.8 107.4h2.8v2.8h-2.8zM119.3 107.4h2.8v2.8h-2.8zM9.3 109.9h2.8v2.8h-2.8zM11.8 109.9h2.8v2.8h-2.8zM14.3 109.9h2.8v2.8h-2.8zM16.8 109.9h2.8v2.8h-2.8zM19.3 109.9h2.8v2.8h-2.8zM21.8 109.9h2.8v2.8h-2.8zM24.3 109.9h2.8v2.8h-2.8zM84.3 109.9h2.8v2.8h-2.8zM86.8 109.9h2.8v2.8h-2.8zM89.3 109.9h2.8v2.8h-2.8zM91.8 109.9h2.8v2.8h-2.8zM94.3 109.9h2.8v2.8h-2.8zM96.8 109.9h2.8v2.8h-2.8zM99.3 109.9h2.8v2.8h-2.8zM101.8 109.9h2.8v2.8h-2.8zM104.3 109.9h2.8v2.8h-2.8zM106.8 109.9h2.8v2.8h-2.8zM109.3 109.9h2.8v2.8h-2.8zM111.8 109.9h2.8v2.8h-2.8zM114.3 109.9h2.8v2.8h-2.8zM116.8 109.9h2.8v2.8h-2.8zM119.3 109.9h2.8v2.8h-2.8zM14.3 112.4h2.8v2.8h-2.8zM16.8 112.4h2.8v2.8h-2.8zM19.3 112.4h2.8v2.8h-2.8zM21.8 112.4h2.8v2.8h-2.8zM24.3 112.4h2.8v2.8h-2.8zM26.8 112.4h2.8v2.8h-2.8zM29.3 112.4h2.8v2.8h-2.8zM31.8 112.4h2.8v2.8h-2.8zM34.3 112.4h2.8v2.8h-2.8zM36.8 112.4h2.8v2.8h-2.8zM76.8 112.4h2.8v2.8h-2.8zM79.3 112.4h2.8v2.8h-2.8zM81.8 112.4h2.8v2.8h-2.8zM84.3 112.4h2.8v2.8h-2.8zM86.8 112.4h2.8v2.8h-2.8zM21.8 114.9h2.8v2.8h-2.8zM24.3 114.9h2.8v2.8h-2.8zM26.8 114.9h2.8v2.8h-2.8zM29.3 114.9h2.8v2.8h-2.8zM31.8 114.9h2.8v2.8h-2.8zM34.3 114.9h2.8v2.8h-2.8zM36.8 114.9h2.8v2.8h-2.8zM39.3 114.9h2.8v2.8h-2.8zM41.8 114.9h2.8v2.8h-2.8zM44.3 114.9h2.8v2.8h-2.8zM46.8 114.9h2.8v2.8h-2.8zM49.3 114.9h2.8v2.8h-2.8zM69.3 114.9h2.8v2.8h-2.8zM71.8 114.9h2.8v2.8h-2.8zM74.3 114.9h2.8v2.8h-2.8zM76.8 114.9h2.8v2.8h-2.8zM41.8 117.4h2.8v2.8h-2.8zM44.3 117.4h2.8v2.8h-2.8zM46.8 117.4h2.8v2.8h-2.8zM49.3 117.4h2.8v2.8h-2.8zM51.8 117.4h2.8v2.8h-2.8zM54.3 117.4h2.8v2.8h-2.8zM56.8 117.4h2.8v2.8h-2.8zM59.3 117.4h2.8v2.8h-2.8zM61.8 117.4h2.8v2.8h-2.8zM64.3 117.4h2.8v2.8h-2.8zM66.8 117.4h2.8v2.8h-2.8z"/><path fill="#3c90c0" d="M114.3 2.4h2.8v2.8h-2.8zM116.8 2.4h2.8v2.8h-2.8zM111.8 4.9h2.8v2.8h-2.8zM114.3 4.9h2.8v2.8h-2.8zM116.8 4.9h2.8v2.8h-2.8zM109.3 7.4h2.8v2.8h-2.8zM111.8 7.4h2.8v2.8h-2.8zM106.8 9.9h2.8v2.8h-2.8zM109.3 9.9h2.8v2.8h-2.8zM99.3 12.4h2.8v2.8h-2.8zM101.8 12.4h2.8v2.8h-2.8zM91.8 14.9h2.8v2.8h-2.8zM94.3 14.9h2.8v2.8h-2.8zM81.8 17.4h2.8v2.8h-2.8zM84.3 17.4h2.8v2.8h-2.8zM66.8 19.9h2.8v2.8h-2.8zM69.3 19.9h2.8v2.8h-2.8zM49.3 22.4h2.8v2.8h-2.8zM51.8 22.4h2.8v2.8h-2.8zM26.8 24.9h2.8v2.8h-2.8zM-0.7 42.4h2.8v2.8h-2.8zM-0.7 44.9h2.8v2.8h-2.8zM-0.7 47.4h2.8v2.8h-2.8zM1.8 52.4h2.8v2.8h-2.8zM4.3 57.4h2.8v2.8h-2.8zM9.3 69.9h2.8v2.8h-2.8zM9.3 77.4h2.8v2.8h-2.8zM6.8 82.4h2.8v2.8h-2.8zM4.3 97.4h2.8v2.8h-2.8zM99.3 99.9h2.8v2.8h-2.8zM101.8 99.9h2.8v2.8h-2.8zM104.3 99.9h2.8v2.8h-2.8zM106.8 99.9h2.8v2.8h-2.8zM109.3 99.9h2.8v2.8h-2.8zM111.8 99.9h2.8v2.8h-2.8zM114.3 99.9h2.8v2.8h-2.8zM116.8 99.9h2.8v2.8h-2.8zM119.3 99.9h2.8v2.8h-2.8zM94.3 102.4h2.8v2.8h-2.8zM11.8 104.9h2.8v2.8h-2.8zM16.8 107.4h2.8v2.8h-2.8zM26.8 109.9h2.8v2.8h-2.8zM81.8 109.9h2.8v2.8h-2.8zM39.3 112.4h2.8v2.8h-2.8zM51.8 114.9h2.8v2.8h-2.8zM54.3 114.9h2.8v2.8h-2.8zM66.8 114.9h2.8v2.8h-2.8z"/><path fill="#4290c0" d="M119.3 2.4h2.8v2.8h-2.8zM119.3 4.9h2.8v2.8h-2.8zM114.3 7.4h2.8v2.8h-2.8zM116.8 7.4h2.8v2.8h-2.8zM119.3 7.4h2.8v2.8h-2.8zM111.8 9.9h2.8v2.8h-2.8zM114.3 9.9h2.8v2.8h-2.8zM116.8 9.9h2.8v2.8h-2.8zM119.3 9.9h2.8v2.8h-2.8zM104.3 12.4h2.8v2.8h-2.8zM106.8 12.4h2.8v2.8h-2.8zM109.3 12.4h2.8v2.8h-2.8zM111.8 12.4h2.8v2.8h-2.8zM114.3 12.4h2.8v2.8h-2.8zM116.8 12.4h2.8v2.8h-2.8zM119.3 12.4h2.8v2.8h-2.8zM96.8 14.9h2.8v2.8h-2.8zM99.3 14.9h2.8v2.8h-2.8zM101.8 14.9h2.8v2.8h-2.8zM104.3 14.9h2.8v2.8h-2.8zM106.8 14.9h2.8v2.8h-2.8zM109.3 14.9h2.8v2.8h-2.8zM111.8 14.9h2.8v2.8h-2.8zM114.3 14.9h2.8v2.8h-2.8zM116.8 14.9h2.8v2.8h-2.8zM119.3 14.9h2.8v2.8h-2.8zM86.8 17.4h2.8v2.8h-2.8zM89.3 17.4h2.8v2.8h-2.8zM91.8 17.4h2.8v2.8h-2.8zM94.3 17.4h2.8v2.8h-2.8zM96.8 17.4h2.8v2.8h-2.8zM99.3 17.4h2.8v2.8h-2.8zM101.8 17.4h2.8v2.8h-2.8zM104.3 17.4h2.8v2.8h-2.8zM106.8 17.4h2.8v2.8h-2.8zM109.3 17.4h2.8v2.8h-2.8zM111.8 17.4h2.8v2.8h-2.8zM114.3 17.4h2.8v2.8h-2.8zM116.8 17.4h2.8v2.8h-2.8zM119.3 17.4h2.8v2.8h-2.8zM71.8 19.9h2.8v2.8h-2.8zM74.3 19.9h2.8v2.8h-2.8zM76.8 19.9h2.8v2.8h-2.8zM79.3 19.9h2.8v2.8h-2.8zM81.8 19.9h2.8v2.8h-2.8zM84.3 19.9h2.8v2.8h-2.8zM86.8 19.9h2.8v2.8h-2.8zM89.3 19.9h2.8v2.8h-2.8zM91.8 19.9h2.8v2.8h-2.8zM94.3 19.9h2.8v2.8h-2.8zM96.8 19.9h2.8v2.8h-2.8zM99.3 19.9h2.8v2.8h-2.8zM101.8 19.9h2.8v2.8h-2.8zM104.3 19.9h2.8v2.8h-2.8zM106.8 19.9h2.8v2.8h-2.8zM109.3 19.9h2.8v2.8h-2.8zM111.8 19.9h2.8v2.8h-2.8zM114.3 19.9h2.8v2.8h-2.8zM116.8 19.9h2.8v2.8h-2.8zM119.3 19.9h2.8v2.8h-2.8zM54.3 22.4h2.8v2.8h-2.8zM56.8 22.4h2.8v2.8h-2.8zM59.3 22.4h2.8v2.8h-2.8zM61.8 22.4h2.8v2.8h-2.8zM64.3 22.4h2.8v2.8h-2.8zM66.8 22.4h2.8v2.8h-2.8zM69.3 22.4h2.8v2.8h-2.8zM71.8 22.4h2.8v2.8h-2.8zM74.3 22.4h2.8v2.8h-2.8zM76.8 22.4h2.8v2.8h-2.8zM79.3 22.4h2.8v2.8h-2.8zM81.8 22.4h2.8v2.8h-2.8zM84.3 22.4h2.8v2.8h-2.8zM86.8 22.4h2.8v2.8h-2.8zM89.3 22.4h2.8v2.8h-2.8zM91.8 22.4h2.8v2.8h-2.8zM94.3 22.4h2.8v2.8h-2.8zM29.3 24.9h2.8v2.8h-2.8zM31.8 24.9h2.8v2.8h-2.8zM34.3 24.9h2.8v2.8h-2.8zM36.8 24.9h2.8v2.8h-2.8zM39.3 24.9h2.8v2.8h-2.8zM41.8 24.9h2.8v2.8h-2.8zM44.3 24.9h2.8v2.8h-2.8zM46.8 24.9h2.8v2.8h-2.8zM49.3 24.9h2.8v2.8h-2.8zM51.8 24.9h2.8v2.8h-2.8zM54.3 24.9h2.8v2.8h-2.8zM56.8 24.9h2.8v2.8h-2.8zM59.3 24.9h2.8v2.8h-2.8zM61.8 24.9h2.8v2.8h-2.8zM64.3 24.9h2.8v2.8h-2.8zM66.8 24.9h2.8v2.8h-2.8zM16.8 27.4h2.8v2.8h-2.8zM19.3 27.4h2.8v2.8h-2.8zM21.8 27.4h2.8v2.8h-2.8zM24.3 27.4h2.8v2.8h-2.8zM26.8 27.4h2.8v2.8h-2.8zM29.3 27.4h2.8v2.8h-2.8zM31.8 27.4h2.8v2.8h-2.8zM34.3 27.4h2.8v2.8h-2.8zM36.8 27.4h2.8v2.8h-2.8zM39.3 27.4h2.8v2.8h-2.8zM41.8 27.4h2.8v2.8h-2.8zM11.8 29.9h2.8v2.8h-2.8zM14.3 29.9h2.8v2.8h-2.8zM16.8 29.9h2.8v2.8h-2.8zM19.3 29.9h2.8v2.8h-2.8zM21.8 29.9h2.8v2.8h-2.8zM9.3 32.4h2.8v2.8h-2.8zM11.8 32.4h2.8v2.8h-2.8zM14.3 32.4h2.8v2.8h-2.8zM6.8 34.9h2.8v2.8h-2.8zM9.3 34.9h2.8v2.8h-2.8zM11.8 34.9h2.8v2.8h-2.8zM4.3 37.4h2.8v2.8h-2.8zM6.8 37.4h2.8v2.8h-2.8zM9.3 37.4h2.8v2.8h-2.8zM1.8 39.9h2.8v2.8h-2.8zM4.3 39.9h2.8v2.8h-2.8zM6.8 39.9h2.8v2.8h-2.8zM1.8 42.4h2.8v2.8h-2.8zM4.3 42.4h2.8v2.8h-2.8zM6.8 42.4h2.8v2.8h-2.8zM1.8 44.9h2.8v2.8h-2.8zM4.3 44.9h2.8v2.8h-2.8zM6.8 44.9h2.8v2.8h-2.8zM1.8 47.4h2.8v2.8h-2.8zM4.3 47.4h2.8v2.8h-2.8zM6.8 47.4h2.8v2.8h-2.8zM1.8 49.9h2.8v2.8h-2.8zM4.3 49.9h2.8v2.8h-2.8zM6.8 49.9h2.8v2.8h-2.8zM4.3 52.4h2.8v2.8h-2.8zM6.8 52.4h2.8v2.8h-2.8zM4.3 54.9h2.8v2.8h-2.8zM6.8 54.9h2.8v2.8h-2.8zM6.8 57.4h2.8v2.8h-2.8zM9.3 57.4h2.8v2.8h-2.8zM6.8 59.9h2.8v2.8h-2.8zM9.3 59.9h2.8v2.8h-2.8zM6.8 62.4h2.8v2.8h-2.8zM9.3 62.4h2.8v2.8h-2.8zM9.3 64.9h2.8v2.8h-2.8zM11.8 64.9h2.8v2.8h-2.8zM9.3 67.4h2.8v2.8h-2.8zM11.8 67.4h2.8v2.8h-2.8zM11.8 69.9h2.8v2.8h-2.8zM14.3 69.9h2.8v2.8h-2.8zM11.8 72.4h2.8v2.8h-2.8zM14.3 72.4h2.8v2.8h-2.8zM114.3 72.4h2.8v2.8h-2.8zM116.8 72.4h2.8v2.8h-2.8zM119.3 72.4h2.8v2.8h-2.8zM11.8 74.9h2.8v2.8h-2.8zM14.3 74.9h2.8v2.8h-2.8zM104.3 74.9h2.8v2.8h-2.8zM106.8 74.9h2.8v2.8h-2.8zM109.3 74.9h2.8v2.8h-2.8zM111.8 74.9h2.8v2.8h-2.8zM114.3 74.9h2.8v2.8h-2.8zM116.8 74.9h2.8v2.8h-2.8zM119.3 74.9h2.8v2.8h-2.8zM11.8 77.4h2.8v2.8h-2.8zM14.3 77.4h2.8v2.8h-2.8zM101.8 77.4h2.8v2.8h-2.8zM104.3 77.4h2.8v2.8h-2.8zM106.8 77.4h2.8v2.8h-2.8zM109.3 77.4h2.8v2.8h-2.8zM111.8 77.4h2.8v2.8h-2.8zM114.3 77.4h2.8v2.8h-2.8zM116.8 77.4h2.8v2.8h-2.8zM119.3 77.4h2.8v2.8h-2.8zM9.3 79.9h2.8v2.8h-2.8zM11.8 79.9h2.8v2.8h-2.8zM101.8 79.9h2.8v2.8h-2.8zM104.3 79.9h2.8v2.8h-2.8zM106.8 79.9h2.8v2.8h-2.8zM109.3 79.9h2.8v2.8h-2.8zM111.8 79.9h2.8v2.8h-2.8zM114.3 79.9h2.8v2.8h-2.8zM116.8 79.9h2.8v2.8h-2.8zM119.3 79.9h2.8v2.8h-2.8zM9.3 82.4h2.8v2.8h-2.8zM99.3 82.4h2.8v2.8h-2.8zM101.8 82.4h2.8v2.8h-2.8zM104.3 82.4h2.8v2.8h-2.8zM106.8 82.4h2.8v2.8h-2.8zM109.3 82.4h2.8v2.8h-2.8zM111.8 82.4h2.8v2.8h-2.8zM114.3 82.4h2.8v2.8h-2.8zM116.8 82.4h2.8v2.8h-2.8zM119.3 82.4h2.8v2.8h-2.8zM6.8 84.9h2.8v2.8h-2.8zM99.3 84.9h2.8v2.8h-2.8zM101.8 84.9h2.8v2.8h-2.8zM104.3 84.9h2.8v2.8h-2.8zM106.8 84.9h2.8v2.8h-2.8zM109.3 84.9h2.8v2.8h-2.8zM111.8 84.9h2.8v2.8h-2.8zM114.3 84.9h2.8v2.8h-2.8zM116.8 84.9h2.8v2.8h-2.8zM119.3 84.9h2.8v2.8h-2.8zM4.3 87.4h2.8v2.8h-2.8zM6.8 87.4h2.8v2.8h-2.8zM99.3 87.4h2.8v2.8h-2.8zM101.8 87.4h2.8v2.8h-2.8zM104.3 87.4h2.8v2.8h-2.8zM106.8 87.4h2.8v2.8h-2.8zM109.3 87.4h2.8v2.8h-2.8zM111.8 87.4h2.8v2.8h-2.8zM114.3 87.4h2.8v2.8h-2.8zM116.8 87.4h2.8v2.8h-2.8zM119.3 87.4h2.8v2.8h-2.8zM4.3 89.9h2.8v2.8h-2.8zM96.8 89.9h2.8v2.8h-2.8zM99.3 89.9h2.8v2.8h-2.8zM101.8 89.9h2.8v2.8h-2.8zM104.3 89.9h2.8v2.8h-2.8zM106.8 89.9h2.8v2.8h-2.8zM109.3 89.9h2.8v2.8h-2.8zM111.8 89.9h2.8v2.8h-2.8zM114.3 89.9h2.8v2.8h-2.8zM116.8 89.9h2.8v2.8h-2.8zM119.3 89.9h2.8v2.8h-2.8zM4.3 92.4h2.8v2.8h-2.8zM96.8 92.4h2.8v2.8h-2.8zM99.3 92.4h2.8v2.8h-2.8zM101.8 92.4h2.8v2.8h-2.8zM104.3 92.4h2.8v2.8h-2.8zM106.8 92.4h2.8v2.8h-2.8zM109.3 92.4h2.8v2.8h-2.8zM111.8 92.4h2.8v2.8h-2.8zM114.3 92.4h2.8v2.8h-2.8zM116.8 92.4h2.8v2.8h-2.8zM119.3 92.4h2.8v2.8h-2.8zM4.3 94.9h2.8v2.8h-2.8zM6.8 94.9h2.8v2.8h-2.8zM94.3 94.9h2.8v2.8h-2.8zM96.8 94.9h2.8v2.8h-2.8zM99.3 94.9h2.8v2.8h-2.8zM101.8 94.9h2.8v2.8h-2.8zM104.3 94.9h2.8v2.8h-2.8zM106.8 94.9h2.8v2.8h-2.8zM109.3 94.9h2.8v2.8h-2.8zM111.8 94.9h2.8v2.8h-2.8zM114.3 94.9h2.8v2.8h-2.8zM116.8 94.9h2.8v2.8h-2.8zM119.3 94.9h2.8v2.8h-2.8zM6.8 97.4h2.8v2.8h-2.8zM91.8 97.4h2.8v2.8h-2.8zM94.3 97.4h2.8v2.8h-2.8zM96.8 97.4h2.8v2.8h-2.8zM99.3 97.4h2.8v2.8h-2.8zM101.8 97.4h2.8v2.8h-2.8zM104.3 97.4h2.8v2.8h-2.8zM106.8 97.4h2.8v2.8h-2.8zM109.3 97.4h2.8v2.8h-2.8zM111.8 97.4h2.8v2.8h-2.8zM114.3 97.4h2.8v2.8h-2.8zM116.8 97.4h2.8v2.8h-2.8zM119.3 97.4h2.8v2.8h-2.8zM6.8 99.9h2.8v2.8h-2.8zM9.3 99.9h2.8v2.8h-2.8zM91.8 99.9h2.8v2.8h-2.8zM94.3 99.9h2.8v2.8h-2.8zM96.8 99.9h2.8v2.8h-2.8zM9.3 102.4h2.8v2.8h-2.8zM11.8 102.4h2.8v2.8h-2.8zM89.3 102.4h2.8v2.8h-2.8zM91.8 102.4h2.8v2.8h-2.8zM14.3 104.9h2.8v2.8h-2.8zM16.8 104.9h2.8v2.8h-2.8zM19.3 104.9h2.8v2.8h-2.8zM84.3 104.9h2.8v2.8h-2.8zM86.8 104.9h2.8v2.8h-2.8zM89.3 104.9h2.8v2.8h-2.8zM19.3 107.4h2.8v2.8h-2.8zM21.8 107.4h2.8v2.8h-2.8zM24.3 107.4h2.8v2.8h-2.8zM26.8 107.4h2.8v2.8h-2.8zM29.3 107.4h2.8v2.8h-2.8zM81.8 107.4h2.8v2.8h-2.8zM84.3 107.4h2.8v2.8h-2.8zM29.3 109.9h2.8v2.8h-2.8zM31.8 109.9h2.8v2.8h-2.8zM34.3 109.9h2.8v2.8h-2.8zM36.8 109.9h2.8v2.8h-2.8zM39.3 109.9h2.8v2.8h-2.8zM41.8 109.9h2.8v2.8h-2.8zM76.8 109.9h2.8v2.8h-2.8zM79.3 109.9h2.8v2.8h-2.8zM41.8 112.4h2.8v2.8h-2.8zM44.3 112.4h2.8v2.8h-2.8zM46.8 112.4h2.8v2.8h-2.8zM49.3 112.4h2.8v2.8h-2.8zM51.8 112.4h2.8v2.8h-2.8zM69.3 112.4h2.8v2.8h-2.8zM71.8 112.4h2.8v2.8h-2.8zM74.3 112.4h2.8v2.8h-2.8zM56.8 114.9h2.8v2.8h-2.8zM59.3 114.9h2.8v2.8h-2.8zM61.8 114.9h2.8v2.8h-2.8zM64.3 114.9h2.8v2.8h-2.8z"/><path fill="#3c8aba" d="M76.8 9.9h2.8v2.8h-2.8zM31.8 19.9h2.8v2.8h-2.8zM-0.7 29.9h2.8v2.8h-2.8zM1.8 72.4h2.8v2.8h-2.8zM1.8 74.9h2.8v2.8h-2.8zM1.8 77.4h2.8v2.8h-2.8zM6.8 109.9h2.8v2.8h-2.8zM11.8 112.4h2.8v2.8h-2.8zM19.3 114.9h2.8v2.8h-2.8zM79.3 114.9h2.8v2.8h-2.8zM39.3 117.4h2.8v2.8h-2.8zM69.3 117.4h2.8v2.8h-2.8z"/><path fill="#4296c6" d="M96.8 22.4h2.8v2.8h-2.8zM99.3 22.4h2.8v2.8h-2.8zM101.8 22.4h2.8v2.8h-2.8zM104.3 22.4h2.8v2.8h-2.8zM106.8 22.4h2.8v2.8h-2.8zM109.3 22.4h2.8v2.8h-2.8zM111.8 22.4h2.8v2.8h-2.8zM114.3 22.4h2.8v2.8h-2.8zM116.8 22.4h2.8v2.8h-2.8zM119.3 22.4h2.8v2.8h-2.8zM69.3 24.9h2.8v2.8h-2.8zM71.8 24.9h2.8v2.8h-2.8zM74.3 24.9h2.8v2.8h-2.8zM76.8 24.9h2.8v2.8h-2.8zM79.3 24.9h2.8v2.8h-2.8zM44.3 27.4h2.8v2.8h-2.8zM46.8 27.4h2.8v2.8h-2.8zM49.3 27.4h2.8v2.8h-2.8zM51.8 27.4h2.8v2.8h-2.8zM24.3 29.9h2.8v2.8h-2.8zM26.8 29.9h2.8v2.8h-2.8zM16.8 32.4h2.8v2.8h-2.8zM9.3 39.9h2.8v2.8h-2.8zM9.3 52.4h2.8v2.8h-2.8zM9.3 54.9h2.8v2.8h-2.8zM11.8 62.4h2.8v2.8h-2.8zM109.3 69.9h2.8v2.8h-2.8zM111.8 69.9h2.8v2.8h-2.8zM114.3 69.9h2.8v2.8h-2.8zM116.8 69.9h2.8v2.8h-2.8zM119.3 69.9h2.8v2.8h-2.8zM104.3 72.4h2.8v2.8h-2.8zM106.8 72.4h2.8v2.8h-2.8zM109.3 72.4h2.8v2.8h-2.8zM111.8 72.4h2.8v2.8h-2.8zM16.8 74.9h2.8v2.8h-2.8zM101.8 74.9h2.8v2.8h-2.8zM99.3 77.4h2.8v2.8h-2.8zM99.3 79.9h2.8v2.8h-2.8zM9.3 84.9h2.8v2.8h-2.8zM96.8 84.9h2.8v2.8h-2.8zM96.8 87.4h2.8v2.8h-2.8zM6.8 89.9h2.8v2.8h-2.8zM6.8 92.4h2.8v2.8h-2.8zM94.3 92.4h2.8v2.8h-2.8zM89.3 99.9h2.8v2.8h-2.8zM14.3 102.4h2.8v2.8h-2.8zM86.8 102.4h2.8v2.8h-2.8zM31.8 107.4h2.8v2.8h-2.8zM54.3 112.4h2.8v2.8h-2.8z"/><path fill="#4896c6" d="M81.8 24.9h2.8v2.8h-2.8zM84.3 24.9h2.8v2.8h-2.8zM86.8 24.9h2.8v2.8h-2.8zM89.3 24.9h2.8v2.8h-2.8zM91.8 24.9h2.8v2.8h-2.8zM94.3 24.9h2.8v2.8h-2.8zM96.8 24.9h2.8v2.8h-2.8zM99.3 24.9h2.8v2.8h-2.8zM101.8 24.9h2.8v2.8h-2.8zM104.3 24.9h2.8v2.8h-2.8zM106.8 24.9h2.8v2.8h-2.8zM109.3 24.9h2.8v2.8h-2.8zM111.8 24.9h2.8v2.8h-2.8zM114.3 24.9h2.8v2.8h-2.8zM116.8 24.9h2.8v2.8h-2.8zM119.3 24.9h2.8v2.8h-2.8zM54.3 27.4h2.8v2.8h-2.8zM56.8 27.4h2.8v2.8h-2.8zM59.3 27.4h2.8v2.8h-2.8zM61.8 27.4h2.8v2.8h-2.8zM64.3 27.4h2.8v2.8h-2.8zM66.8 27.4h2.8v2.8h-2.8zM69.3 27.4h2.8v2.8h-2.8zM71.8 27.4h2.8v2.8h-2.8zM74.3 27.4h2.8v2.8h-2.8zM76.8 27.4h2.8v2.8h-2.8zM79.3 27.4h2.8v2.8h-2.8zM81.8 27.4h2.8v2.8h-2.8zM84.3 27.4h2.8v2.8h-2.8zM86.8 27.4h2.8v2.8h-2.8zM89.3 27.4h2.8v2.8h-2.8zM91.8 27.4h2.8v2.8h-2.8zM94.3 27.4h2.8v2.8h-2.8zM96.8 27.4h2.8v2.8h-2.8zM99.3 27.4h2.8v2.8h-2.8zM101.8 27.4h2.8v2.8h-2.8zM104.3 27.4h2.8v2.8h-2.8zM106.8 27.4h2.8v2.8h-2.8zM109.3 27.4h2.8v2.8h-2.8zM111.8 27.4h2.8v2.8h-2.8zM114.3 27.4h2.8v2.8h-2.8zM116.8 27.4h2.8v2.8h-2.8zM119.3 27.4h2.8v2.8h-2.8zM29.3 29.9h2.8v2.8h-2.8zM31.8 29.9h2.8v2.8h-2.8zM34.3 29.9h2.8v2.8h-2.8zM36.8 29.9h2.8v2.8h-2.8zM39.3 29.9h2.8v2.8h-2.8zM41.8 29.9h2.8v2.8h-2.8zM44.3 29.9h2.8v2.8h-2.8zM46.8 29.9h2.8v2.8h-2.8zM49.3 29.9h2.8v2.8h-2.8zM51.8 29.9h2.8v2.8h-2.8zM54.3 29.9h2.8v2.8h-2.8zM19.3 32.4h2.8v2.8h-2.8zM21.8 32.4h2.8v2.8h-2.8zM24.3 32.4h2.8v2.8h-2.8zM26.8 32.4h2.8v2.8h-2.8zM29.3 32.4h2.8v2.8h-2.8zM14.3 34.9h2.8v2.8h-2.8zM16.8 34.9h2.8v2.8h-2.8zM19.3 34.9h2.8v2.8h-2.8zM11.8 37.4h2.8v2.8h-2.8zM14.3 37.4h2.8v2.8h-2.8zM11.8 39.9h2.8v2.8h-2.8zM14.3 39.9h2.8v2.8h-2.8zM9.3 42.4h2.8v2.8h-2.8zM11.8 42.4h2.8v2.8h-2.8zM9.3 44.9h2.8v2.8h-2.8zM11.8 44.9h2.8v2.8h-2.8zM9.3 47.4h2.8v2.8h-2.8zM11.8 47.4h2.8v2.8h-2.8zM9.3 49.9h2.8v2.8h-2.8zM11.8 49.9h2.8v2.8h-2.8zM11.8 52.4h2.8v2.8h-2.8zM11.8 54.9h2.8v2.8h-2.8zM11.8 57.4h2.8v2.8h-2.8zM11.8 59.9h2.8v2.8h-2.8zM119.3 59.9h2.8v2.8h-2.8zM14.3 62.4h2.8v2.8h-2.8zM109.3 62.4h2.8v2.8h-2.8zM111.8 62.4h2.8v2.8h-2.8zM114.3 62.4h2.8v2.8h-2.8zM116.8 62.4h2.8v2.8h-2.8zM119.3 62.4h2.8v2.8h-2.8zM14.3 64.9h2.8v2.8h-2.8zM101.8 64.9h2.8v2.8h-2.8zM104.3 64.9h2.8v2.8h-2.8zM106.8 64.9h2.8v2.8h-2.8zM109.3 64.9h2.8v2.8h-2.8zM111.8 64.9h2.8v2.8h-2.8zM114.3 64.9h2.8v2.8h-2.8zM116.8 64.9h2.8v2.8h-2.8zM119.3 64.9h2.8v2.8h-2.8zM14.3 67.4h2.8v2.8h-2.8zM16.8 67.4h2.8v2.8h-2.8zM99.3 67.4h2.8v2.8h-2.8zM101.8 67.4h2.8v2.8h-2.8zM104.3 67.4h2.8v2.8h-2.8zM106.8 67.4h2.8v2.8h-2.8zM109.3 67.4h2.8v2.8h-2.8zM111.8 67.4h2.8v2.8h-2.8zM114.3 67.4h2.8v2.8h-2.8zM116.8 67.4h2.8v2.8h-2.8zM119.3 67.4h2.8v2.8h-2.8zM16.8 69.9h2.8v2.8h-2.8zM96.8 69.9h2.8v2.8h-2.8zM99.3 69.9h2.8v2.8h-2.8zM101.8 69.9h2.8v2.8h-2.8zM104.3 69.9h2.8v2.8h-2.8zM106.8 69.9h2.8v2.8h-2.8zM16.8 72.4h2.8v2.8h-2.8zM19.3 72.4h2.8v2.8h-2.8zM96.8 72.4h2.8v2.8h-2.8zM99.3 72.4h2.8v2.8h-2.8zM101.8 72.4h2.8v2.8h-2.8zM19.3 74.9h2.8v2.8h-2.8zM96.8 74.9h2.8v2.8h-2.8zM99.3 74.9h2.8v2.8h-2.8zM16.8 77.4h2.8v2.8h-2.8zM96.8 77.4h2.8v2.8h-2.8zM14.3 79.9h2.8v2.8h-2.8zM96.8 79.9h2.8v2.8h-2.8zM11.8 82.4h2.8v2.8h-2.8zM96.8 82.4h2.8v2.8h-2.8zM94.3 84.9h2.8v2.8h-2.8zM9.3 87.4h2.8v2.8h-2.8zM94.3 87.4h2.8v2.8h-2.8zM94.3 89.9h2.8v2.8h-2.8zM91.8 92.4h2.8v2.8h-2.8zM91.8 94.9h2.8v2.8h-2.8zM9.3 97.4h2.8v2.8h-2.8zM89.3 97.4h2.8v2.8h-2.8zM11.8 99.9h2.8v2.8h-2.8zM86.8 99.9h2.8v2.8h-2.8zM16.8 102.4h2.8v2.8h-2.8zM21.8 104.9h2.8v2.8h-2.8zM24.3 104.9h2.8v2.8h-2.8zM26.8 104.9h2.8v2.8h-2.8zM81.8 104.9h2.8v2.8h-2.8zM34.3 107.4h2.8v2.8h-2.8zM36.8 107.4h2.8v2.8h-2.8zM39.3 107.4h2.8v2.8h-2.8zM79.3 107.4h2.8v2.8h-2.8zM44.3 109.9h2.8v2.8h-2.8zM46.8 109.9h2.8v2.8h-2.8zM74.3 109.9h2.8v2.8h-2.8zM56.8 112.4h2.8v2.8h-2.8zM59.3 112.4h2.8v2.8h-2.8zM61.8 112.4h2.8v2.8h-2.8zM64.3 112.4h2.8v2.8h-2.8zM66.8 112.4h2.8v2.8h-2.8z"/><path fill="#4e96c6" d="M56.8 29.9h2.8v2.8h-2.8zM59.3 29.9h2.8v2.8h-2.8zM61.8 29.9h2.8v2.8h-2.8zM111.8 29.9h2.8v2.8h-2.8zM114.3 29.9h2.8v2.8h-2.8zM116.8 29.9h2.8v2.8h-2.8zM119.3 29.9h2.8v2.8h-2.8zM31.8 32.4h2.8v2.8h-2.8zM34.3 32.4h2.8v2.8h-2.8zM36.8 32.4h2.8v2.8h-2.8zM21.8 34.9h2.8v2.8h-2.8zM16.8 37.4h2.8v2.8h-2.8zM111.8 59.9h2.8v2.8h-2.8zM114.3 59.9h2.8v2.8h-2.8zM116.8 59.9h2.8v2.8h-2.8zM101.8 62.4h2.8v2.8h-2.8zM104.3 62.4h2.8v2.8h-2.8zM106.8 62.4h2.8v2.8h-2.8zM99.3 64.9h2.8v2.8h-2.8zM96.8 67.4h2.8v2.8h-2.8zM19.3 77.4h2.8v2.8h-2.8zM16.8 79.9h2.8v2.8h-2.8zM94.3 82.4h2.8v2.8h-2.8zM11.8 84.9h2.8v2.8h-2.8zM9.3 94.9h2.8v2.8h-2.8zM84.3 102.4h2.8v2.8h-2.8z"/><path fill="#4e9cc6" d="M64.3 29.9h2.8v2.8h-2.8zM66.8 29.9h2.8v2.8h-2.8zM69.3 29.9h2.8v2.8h-2.8zM71.8 29.9h2.8v2.8h-2.8zM74.3 29.9h2.8v2.8h-2.8zM76.8 29.9h2.8v2.8h-2.8zM79.3 29.9h2.8v2.8h-2.8zM81.8 29.9h2.8v2.8h-2.8zM84.3 29.9h2.8v2.8h-2.8zM86.8 29.9h2.8v2.8h-2.8zM89.3 29.9h2.8v2.8h-2.8zM91.8 29.9h2.8v2.8h-2.8zM94.3 29.9h2.8v2.8h-2.8zM96.8 29.9h2.8v2.8h-2.8zM99.3 29.9h2.8v2.8h-2.8zM101.8 29.9h2.8v2.8h-2.8zM104.3 29.9h2.8v2.8h-2.8zM106.8 29.9h2.8v2.8h-2.8zM109.3 29.9h2.8v2.8h-2.8zM39.3 32.4h2.8v2.8h-2.8zM41.8 32.4h2.8v2.8h-2.8zM44.3 32.4h2.8v2.8h-2.8zM46.8 32.4h2.8v2.8h-2.8zM49.3 32.4h2.8v2.8h-2.8zM51.8 32.4h2.8v2.8h-2.8zM54.3 32.4h2.8v2.8h-2.8zM56.8 32.4h2.8v2.8h-2.8zM59.3 32.4h2.8v2.8h-2.8zM96.8 32.4h2.8v2.8h-2.8zM99.3 32.4h2.8v2.8h-2.8zM101.8 32.4h2.8v2.8h-2.8zM104.3 32.4h2.8v2.8h-2.8zM106.8 32.4h2.8v2.8h-2.8zM109.3 32.4h2.8v2.8h-2.8zM111.8 32.4h2.8v2.8h-2.8zM114.3 32.4h2.8v2.8h-2.8zM116.8 32.4h2.8v2.8h-2.8zM119.3 32.4h2.8v2.8h-2.8zM24.3 34.9h2.8v2.8h-2.8zM26.8 34.9h2.8v2.8h-2.8zM29.3 34.9h2.8v2.8h-2.8zM31.8 34.9h2.8v2.8h-2.8zM34.3 34.9h2.8v2.8h-2.8zM111.8 34.9h2.8v2.8h-2.8zM114.3 34.9h2.8v2.8h-2.8zM116.8 34.9h2.8v2.8h-2.8zM119.3 34.9h2.8v2.8h-2.8zM19.3 37.4h2.8v2.8h-2.8zM21.8 37.4h2.8v2.8h-2.8zM24.3 37.4h2.8v2.8h-2.8zM119.3 37.4h2.8v2.8h-2.8zM16.8 39.9h2.8v2.8h-2.8zM19.3 39.9h2.8v2.8h-2.8zM14.3 42.4h2.8v2.8h-2.8zM16.8 42.4h2.8v2.8h-2.8zM14.3 44.9h2.8v2.8h-2.8zM14.3 47.4h2.8v2.8h-2.8zM14.3 49.9h2.8v2.8h-2.8zM14.3 52.4h2.8v2.8h-2.8zM116.8 52.4h2.8v2.8h-2.8zM119.3 52.4h2.8v2.8h-2.8zM14.3 54.9h2.8v2.8h-2.8zM111.8 54.9h2.8v2.8h-2.8zM114.3 54.9h2.8v2.8h-2.8zM116.8 54.9h2.8v2.8h-2.8zM119.3 54.9h2.8v2.8h-2.8zM14.3 57.4h2.8v2.8h-2.8zM101.8 57.4h2.8v2.8h-2.8zM104.3 57.4h2.8v2.8h-2.8zM106.8 57.4h2.8v2.8h-2.8zM109.3 57.4h2.8v2.8h-2.8zM111.8 57.4h2.8v2.8h-2.8zM114.3 57.4h2.8v2.8h-2.8zM116.8 57.4h2.8v2.8h-2.8zM119.3 57.4h2.8v2.8h-2.8zM14.3 59.9h2.8v2.8h-2.8zM96.8 59.9h2.8v2.8h-2.8zM99.3 59.9h2.8v2.8h-2.8zM101.8 59.9h2.8v2.8h-2.8zM104.3 59.9h2.8v2.8h-2.8zM106.8 59.9h2.8v2.8h-2.8zM109.3 59.9h2.8v2.8h-2.8zM96.8 62.4h2.8v2.8h-2.8zM99.3 62.4h2.8v2.8h-2.8zM16.8 64.9h2.8v2.8h-2.8zM94.3 64.9h2.8v2.8h-2.8zM96.8 64.9h2.8v2.8h-2.8zM19.3 67.4h2.8v2.8h-2.8zM94.3 67.4h2.8v2.8h-2.8zM19.3 69.9h2.8v2.8h-2.8zM94.3 69.9h2.8v2.8h-2.8zM21.8 72.4h2.8v2.8h-2.8zM94.3 72.4h2.8v2.8h-2.8zM21.8 74.9h2.8v2.8h-2.8zM94.3 74.9h2.8v2.8h-2.8zM94.3 77.4h2.8v2.8h-2.8zM94.3 79.9h2.8v2.8h-2.8zM14.3 82.4h2.8v2.8h-2.8zM91.8 87.4h2.8v2.8h-2.8zM9.3 89.9h2.8v2.8h-2.8zM91.8 89.9h2.8v2.8h-2.8zM9.3 92.4h2.8v2.8h-2.8zM89.3 94.9h2.8v2.8h-2.8zM11.8 97.4h2.8v2.8h-2.8zM14.3 99.9h2.8v2.8h-2.8zM19.3 102.4h2.8v2.8h-2.8zM29.3 104.9h2.8v2.8h-2.8zM31.8 104.9h2.8v2.8h-2.8zM41.8 107.4h2.8v2.8h-2.8zM76.8 107.4h2.8v2.8h-2.8zM49.3 109.9h2.8v2.8h-2.8zM51.8 109.9h2.8v2.8h-2.8zM71.8 109.9h2.8v2.8h-2.8z"/><path fill="#549cc6" d="M61.8 32.4h2.8v2.8h-2.8zM64.3 32.4h2.8v2.8h-2.8zM66.8 32.4h2.8v2.8h-2.8zM69.3 32.4h2.8v2.8h-2.8zM71.8 32.4h2.8v2.8h-2.8zM74.3 32.4h2.8v2.8h-2.8zM76.8 32.4h2.8v2.8h-2.8zM79.3 32.4h2.8v2.8h-2.8zM81.8 32.4h2.8v2.8h-2.8zM84.3 32.4h2.8v2.8h-2.8zM86.8 32.4h2.8v2.8h-2.8zM89.3 32.4h2.8v2.8h-2.8zM91.8 32.4h2.8v2.8h-2.8zM94.3 32.4h2.8v2.8h-2.8zM36.8 34.9h2.8v2.8h-2.8zM39.3 34.9h2.8v2.8h-2.8zM41.8 34.9h2.8v2.8h-2.8zM44.3 34.9h2.8v2.8h-2.8zM46.8 34.9h2.8v2.8h-2.8zM49.3 34.9h2.8v2.8h-2.8zM51.8 34.9h2.8v2.8h-2.8zM91.8 34.9h2.8v2.8h-2.8zM94.3 34.9h2.8v2.8h-2.8zM96.8 34.9h2.8v2.8h-2.8zM99.3 34.9h2.8v2.8h-2.8zM101.8 34.9h2.8v2.8h-2.8zM104.3 34.9h2.8v2.8h-2.8zM106.8 34.9h2.8v2.8h-2.8zM109.3 34.9h2.8v2.8h-2.8zM26.8 37.4h2.8v2.8h-2.8zM29.3 37.4h2.8v2.8h-2.8zM31.8 37.4h2.8v2.8h-2.8zM34.3 37.4h2.8v2.8h-2.8zM106.8 37.4h2.8v2.8h-2.8zM109.3 37.4h2.8v2.8h-2.8zM111.8 37.4h2.8v2.8h-2.8zM114.3 37.4h2.8v2.8h-2.8zM116.8 37.4h2.8v2.8h-2.8zM21.8 39.9h2.8v2.8h-2.8zM24.3 39.9h2.8v2.8h-2.8zM111.8 39.9h2.8v2.8h-2.8zM114.3 39.9h2.8v2.8h-2.8zM116.8 39.9h2.8v2.8h-2.8zM119.3 39.9h2.8v2.8h-2.8zM19.3 42.4h2.8v2.8h-2.8zM114.3 42.4h2.8v2.8h-2.8zM116.8 42.4h2.8v2.8h-2.8zM119.3 42.4h2.8v2.8h-2.8zM16.8 44.9h2.8v2.8h-2.8zM19.3 44.9h2.8v2.8h-2.8zM114.3 44.9h2.8v2.8h-2.8zM116.8 44.9h2.8v2.8h-2.8zM119.3 44.9h2.8v2.8h-2.8zM16.8 47.4h2.8v2.8h-2.8zM114.3 47.4h2.8v2.8h-2.8zM116.8 47.4h2.8v2.8h-2.8zM119.3 47.4h2.8v2.8h-2.8zM16.8 49.9h2.8v2.8h-2.8zM109.3 49.9h2.8v2.8h-2.8zM111.8 49.9h2.8v2.8h-2.8zM114.3 49.9h2.8v2.8h-2.8zM116.8 49.9h2.8v2.8h-2.8zM119.3 49.9h2.8v2.8h-2.8zM16.8 52.4h2.8v2.8h-2.8zM104.3 52.4h2.8v2.8h-2.8zM106.8 52.4h2.8v2.8h-2.8zM109.3 52.4h2.8v2.8h-2.8zM111.8 52.4h2.8v2.8h-2.8zM114.3 52.4h2.8v2.8h-2.8zM16.8 54.9h2.8v2.8h-2.8zM99.3 54.9h2.8v2.8h-2.8zM101.8 54.9h2.8v2.8h-2.8zM104.3 54.9h2.8v2.8h-2.8zM106.8 54.9h2.8v2.8h-2.8zM109.3 54.9h2.8v2.8h-2.8zM16.8 57.4h2.8v2.8h-2.8zM94.3 57.4h2.8v2.8h-2.8zM96.8 57.4h2.8v2.8h-2.8zM99.3 57.4h2.8v2.8h-2.8zM16.8 59.9h2.8v2.8h-2.8zM94.3 59.9h2.8v2.8h-2.8zM16.8 62.4h2.8v2.8h-2.8zM94.3 62.4h2.8v2.8h-2.8zM21.8 69.9h2.8v2.8h-2.8zM21.8 77.4h2.8v2.8h-2.8zM19.3 79.9h2.8v2.8h-2.8zM16.8 82.4h2.8v2.8h-2.8zM91.8 84.9h2.8v2.8h-2.8zM11.8 87.4h2.8v2.8h-2.8zM89.3 92.4h2.8v2.8h-2.8zM86.8 97.4h2.8v2.8h-2.8zM16.8 99.9h2.8v2.8h-2.8zM21.8 102.4h2.8v2.8h-2.8zM34.3 104.9h2.8v2.8h-2.8zM44.3 107.4h2.8v2.8h-2.8zM54.3 109.9h2.8v2.8h-2.8zM69.3 109.9h2.8v2.8h-2.8z"/><path fill="#549ccc" d="M54.3 34.9h2.8v2.8h-2.8zM56.8 34.9h2.8v2.8h-2.8zM59.3 34.9h2.8v2.8h-2.8zM61.8 34.9h2.8v2.8h-2.8zM64.3 34.9h2.8v2.8h-2.8zM66.8 34.9h2.8v2.8h-2.8zM76.8 34.9h2.8v2.8h-2.8zM79.3 34.9h2.8v2.8h-2.8zM81.8 34.9h2.8v2.8h-2.8zM84.3 34.9h2.8v2.8h-2.8zM86.8 34.9h2.8v2.8h-2.8zM89.3 34.9h2.8v2.8h-2.8zM36.8 37.4h2.8v2.8h-2.8zM39.3 37.4h2.8v2.8h-2.8zM99.3 37.4h2.8v2.8h-2.8zM101.8 37.4h2.8v2.8h-2.8zM104.3 37.4h2.8v2.8h-2.8zM26.8 39.9h2.8v2.8h-2.8zM106.8 39.9h2.8v2.8h-2.8zM109.3 39.9h2.8v2.8h-2.8zM21.8 42.4h2.8v2.8h-2.8zM109.3 42.4h2.8v2.8h-2.8zM111.8 42.4h2.8v2.8h-2.8zM109.3 44.9h2.8v2.8h-2.8zM111.8 44.9h2.8v2.8h-2.8zM109.3 47.4h2.8v2.8h-2.8zM111.8 47.4h2.8v2.8h-2.8zM104.3 49.9h2.8v2.8h-2.8zM106.8 49.9h2.8v2.8h-2.8zM99.3 52.4h2.8v2.8h-2.8zM101.8 52.4h2.8v2.8h-2.8zM94.3 54.9h2.8v2.8h-2.8zM96.8 54.9h2.8v2.8h-2.8zM91.8 59.9h2.8v2.8h-2.8zM91.8 62.4h2.8v2.8h-2.8zM19.3 64.9h2.8v2.8h-2.8zM91.8 64.9h2.8v2.8h-2.8zM91.8 67.4h2.8v2.8h-2.8zM24.3 74.9h2.8v2.8h-2.8zM14.3 84.9h2.8v2.8h-2.8zM11.8 94.9h2.8v2.8h-2.8zM79.3 104.9h2.8v2.8h-2.8z"/><path fill="#54a2cc" d="M69.3 34.9h2.8v2.8h-2.8zM71.8 34.9h2.8v2.8h-2.8zM74.3 34.9h2.8v2.8h-2.8zM41.8 37.4h2.8v2.8h-2.8zM94.3 37.4h2.8v2.8h-2.8zM96.8 37.4h2.8v2.8h-2.8zM29.3 39.9h2.8v2.8h-2.8zM101.8 39.9h2.8v2.8h-2.8zM104.3 39.9h2.8v2.8h-2.8zM24.3 42.4h2.8v2.8h-2.8zM104.3 42.4h2.8v2.8h-2.8zM106.8 42.4h2.8v2.8h-2.8zM106.8 44.9h2.8v2.8h-2.8zM19.3 47.4h2.8v2.8h-2.8zM104.3 47.4h2.8v2.8h-2.8zM106.8 47.4h2.8v2.8h-2.8zM101.8 49.9h2.8v2.8h-2.8zM96.8 52.4h2.8v2.8h-2.8zM91.8 57.4h2.8v2.8h-2.8zM91.8 69.9h2.8v2.8h-2.8zM24.3 72.4h2.8v2.8h-2.8zM91.8 82.4h2.8v2.8h-2.8zM84.3 99.9h2.8v2.8h-2.8zM24.3 102.4h2.8v2.8h-2.8zM36.8 104.9h2.8v2.8h-2.8z"/><path fill="#5aa2cc" d="M44.3 37.4h2.8v2.8h-2.8zM46.8 37.4h2.8v2.8h-2.8zM49.3 37.4h2.8v2.8h-2.8zM51.8 37.4h2.8v2.8h-2.8zM54.3 37.4h2.8v2.8h-2.8zM56.8 37.4h2.8v2.8h-2.8zM59.3 37.4h2.8v2.8h-2.8zM61.8 37.4h2.8v2.8h-2.8zM64.3 37.4h2.8v2.8h-2.8zM66.8 37.4h2.8v2.8h-2.8zM69.3 37.4h2.8v2.8h-2.8zM71.8 37.4h2.8v2.8h-2.8zM74.3 37.4h2.8v2.8h-2.8zM76.8 37.4h2.8v2.8h-2.8zM79.3 37.4h2.8v2.8h-2.8zM81.8 37.4h2.8v2.8h-2.8zM84.3 37.4h2.8v2.8h-2.8zM86.8 37.4h2.8v2.8h-2.8zM89.3 37.4h2.8v2.8h-2.8zM91.8 37.4h2.8v2.8h-2.8zM31.8 39.9h2.8v2.8h-2.8zM34.3 39.9h2.8v2.8h-2.8zM36.8 39.9h2.8v2.8h-2.8zM39.3 39.9h2.8v2.8h-2.8zM41.8 39.9h2.8v2.8h-2.8zM44.3 39.9h2.8v2.8h-2.8zM46.8 39.9h2.8v2.8h-2.8zM49.3 39.9h2.8v2.8h-2.8zM51.8 39.9h2.8v2.8h-2.8zM54.3 39.9h2.8v2.8h-2.8zM71.8 39.9h2.8v2.8h-2.8zM74.3 39.9h2.8v2.8h-2.8zM76.8 39.9h2.8v2.8h-2.8zM79.3 39.9h2.8v2.8h-2.8zM81.8 39.9h2.8v2.8h-2.8zM84.3 39.9h2.8v2.8h-2.8zM86.8 39.9h2.8v2.8h-2.8zM89.3 39.9h2.8v2.8h-2.8zM91.8 39.9h2.8v2.8h-2.8zM94.3 39.9h2.8v2.8h-2.8zM96.8 39.9h2.8v2.8h-2.8zM99.3 39.9h2.8v2.8h-2.8zM26.8 42.4h2.8v2.8h-2.8zM29.3 42.4h2.8v2.8h-2.8zM31.8 42.4h2.8v2.8h-2.8zM34.3 42.4h2.8v2.8h-2.8zM81.8 42.4h2.8v2.8h-2.8zM84.3 42.4h2.8v2.8h-2.8zM86.8 42.4h2.8v2.8h-2.8zM89.3 42.4h2.8v2.8h-2.8zM91.8 42.4h2.8v2.8h-2.8zM94.3 42.4h2.8v2.8h-2.8zM96.8 42.4h2.8v2.8h-2.8zM99.3 42.4h2.8v2.8h-2.8zM101.8 42.4h2.8v2.8h-2.8zM21.8 44.9h2.8v2.8h-2.8zM24.3 44.9h2.8v2.8h-2.8zM26.8 44.9h2.8v2.8h-2.8zM86.8 44.9h2.8v2.8h-2.8zM89.3 44.9h2.8v2.8h-2.8zM91.8 44.9h2.8v2.8h-2.8zM94.3 44.9h2.8v2.8h-2.8zM96.8 44.9h2.8v2.8h-2.8zM99.3 44.9h2.8v2.8h-2.8zM101.8 44.9h2.8v2.8h-2.8zM104.3 44.9h2.8v2.8h-2.8zM21.8 47.4h2.8v2.8h-2.8zM24.3 47.4h2.8v2.8h-2.8zM86.8 47.4h2.8v2.8h-2.8zM89.3 47.4h2.8v2.8h-2.8zM91.8 47.4h2.8v2.8h-2.8zM94.3 47.4h2.8v2.8h-2.8zM96.8 47.4h2.8v2.8h-2.8zM99.3 47.4h2.8v2.8h-2.8zM101.8 47.4h2.8v2.8h-2.8zM19.3 49.9h2.8v2.8h-2.8zM21.8 49.9h2.8v2.8h-2.8zM86.8 49.9h2.8v2.8h-2.8zM89.3 49.9h2.8v2.8h-2.8zM91.8 49.9h2.8v2.8h-2.8zM94.3 49.9h2.8v2.8h-2.8zM96.8 49.9h2.8v2.8h-2.8zM99.3 49.9h2.8v2.8h-2.8zM19.3 52.4h2.8v2.8h-2.8zM86.8 52.4h2.8v2.8h-2.8zM89.3 52.4h2.8v2.8h-2.8zM91.8 52.4h2.8v2.8h-2.8zM94.3 52.4h2.8v2.8h-2.8zM19.3 54.9h2.8v2.8h-2.8zM89.3 54.9h2.8v2.8h-2.8zM91.8 54.9h2.8v2.8h-2.8zM19.3 57.4h2.8v2.8h-2.8zM89.3 57.4h2.8v2.8h-2.8zM19.3 59.9h2.8v2.8h-2.8zM89.3 59.9h2.8v2.8h-2.8zM19.3 62.4h2.8v2.8h-2.8zM89.3 62.4h2.8v2.8h-2.8zM21.8 64.9h2.8v2.8h-2.8zM21.8 67.4h2.8v2.8h-2.8zM24.3 69.9h2.8v2.8h-2.8zM91.8 72.4h2.8v2.8h-2.8zM91.8 74.9h2.8v2.8h-2.8zM24.3 77.4h2.8v2.8h-2.8zM91.8 77.4h2.8v2.8h-2.8zM21.8 79.9h2.8v2.8h-2.8zM91.8 79.9h2.8v2.8h-2.8zM19.3 82.4h2.8v2.8h-2.8zM11.8 89.9h2.8v2.8h-2.8zM89.3 89.9h2.8v2.8h-2.8zM11.8 92.4h2.8v2.8h-2.8zM86.8 94.9h2.8v2.8h-2.8zM14.3 97.4h2.8v2.8h-2.8zM19.3 99.9h2.8v2.8h-2.8zM26.8 102.4h2.8v2.8h-2.8zM81.8 102.4h2.8v2.8h-2.8zM39.3 104.9h2.8v2.8h-2.8zM46.8 107.4h2.8v2.8h-2.8zM74.3 107.4h2.8v2.8h-2.8zM56.8 109.9h2.8v2.8h-2.8zM59.3 109.9h2.8v2.8h-2.8zM61.8 109.9h2.8v2.8h-2.8zM64.3 109.9h2.8v2.8h-2.8zM66.8 109.9h2.8v2.8h-2.8z"/><path fill="#60a2cc" d="M56.8 39.9h2.8v2.8h-2.8zM59.3 39.9h2.8v2.8h-2.8zM61.8 39.9h2.8v2.8h-2.8zM64.3 39.9h2.8v2.8h-2.8zM66.8 39.9h2.8v2.8h-2.8zM69.3 39.9h2.8v2.8h-2.8zM36.8 42.4h2.8v2.8h-2.8zM39.3 42.4h2.8v2.8h-2.8zM41.8 42.4h2.8v2.8h-2.8zM74.3 42.4h2.8v2.8h-2.8zM76.8 42.4h2.8v2.8h-2.8zM79.3 42.4h2.8v2.8h-2.8zM29.3 44.9h2.8v2.8h-2.8zM81.8 44.9h2.8v2.8h-2.8zM84.3 44.9h2.8v2.8h-2.8zM84.3 47.4h2.8v2.8h-2.8zM84.3 49.9h2.8v2.8h-2.8zM21.8 52.4h2.8v2.8h-2.8zM86.8 54.9h2.8v2.8h-2.8zM86.8 57.4h2.8v2.8h-2.8zM89.3 64.9h2.8v2.8h-2.8zM26.8 74.9h2.8v2.8h-2.8zM16.8 84.9h2.8v2.8h-2.8zM14.3 87.4h2.8v2.8h-2.8zM29.3 102.4h2.8v2.8h-2.8zM49.3 107.4h2.8v2.8h-2.8z"/><path fill="#60a8cc" d="M44.3 42.4h2.8v2.8h-2.8zM46.8 42.4h2.8v2.8h-2.8zM49.3 42.4h2.8v2.8h-2.8zM51.8 42.4h2.8v2.8h-2.8zM54.3 42.4h2.8v2.8h-2.8zM56.8 42.4h2.8v2.8h-2.8zM59.3 42.4h2.8v2.8h-2.8zM61.8 42.4h2.8v2.8h-2.8zM64.3 42.4h2.8v2.8h-2.8zM66.8 42.4h2.8v2.8h-2.8zM69.3 42.4h2.8v2.8h-2.8zM71.8 42.4h2.8v2.8h-2.8zM31.8 44.9h2.8v2.8h-2.8zM34.3 44.9h2.8v2.8h-2.8zM36.8 44.9h2.8v2.8h-2.8zM74.3 44.9h2.8v2.8h-2.8zM76.8 44.9h2.8v2.8h-2.8zM79.3 44.9h2.8v2.8h-2.8zM26.8 47.4h2.8v2.8h-2.8zM29.3 47.4h2.8v2.8h-2.8zM79.3 47.4h2.8v2.8h-2.8zM81.8 47.4h2.8v2.8h-2.8zM24.3 49.9h2.8v2.8h-2.8zM81.8 49.9h2.8v2.8h-2.8zM84.3 52.4h2.8v2.8h-2.8zM21.8 54.9h2.8v2.8h-2.8zM84.3 54.9h2.8v2.8h-2.8zM21.8 57.4h2.8v2.8h-2.8zM21.8 59.9h2.8v2.8h-2.8zM86.8 59.9h2.8v2.8h-2.8zM21.8 62.4h2.8v2.8h-2.8zM24.3 67.4h2.8v2.8h-2.8zM89.3 67.4h2.8v2.8h-2.8zM26.8 72.4h2.8v2.8h-2.8zM26.8 77.4h2.8v2.8h-2.8zM24.3 79.9h2.8v2.8h-2.8zM89.3 87.4h2.8v2.8h-2.8zM14.3 94.9h2.8v2.8h-2.8zM16.8 97.4h2.8v2.8h-2.8zM21.8 99.9h2.8v2.8h-2.8zM31.8 102.4h2.8v2.8h-2.8zM41.8 104.9h2.8v2.8h-2.8zM76.8 104.9h2.8v2.8h-2.8zM71.8 107.4h2.8v2.8h-2.8z"/><path fill="#66a8cc" d="M39.3 44.9h2.8v2.8h-2.8zM41.8 44.9h2.8v2.8h-2.8zM44.3 44.9h2.8v2.8h-2.8zM66.8 44.9h2.8v2.8h-2.8zM69.3 44.9h2.8v2.8h-2.8zM71.8 44.9h2.8v2.8h-2.8zM31.8 47.4h2.8v2.8h-2.8zM76.8 47.4h2.8v2.8h-2.8zM26.8 49.9h2.8v2.8h-2.8zM79.3 49.9h2.8v2.8h-2.8zM24.3 52.4h2.8v2.8h-2.8zM81.8 52.4h2.8v2.8h-2.8zM24.3 64.9h2.8v2.8h-2.8zM26.8 69.9h2.8v2.8h-2.8zM89.3 69.9h2.8v2.8h-2.8zM21.8 82.4h2.8v2.8h-2.8zM89.3 84.9h2.8v2.8h-2.8zM14.3 89.9h2.8v2.8h-2.8zM14.3 92.4h2.8v2.8h-2.8zM84.3 97.4h2.8v2.8h-2.8z"/><path fill="#66a8d2" d="M46.8 44.9h2.8v2.8h-2.8zM49.3 44.9h2.8v2.8h-2.8zM51.8 44.9h2.8v2.8h-2.8zM54.3 44.9h2.8v2.8h-2.8zM56.8 44.9h2.8v2.8h-2.8zM59.3 44.9h2.8v2.8h-2.8zM61.8 44.9h2.8v2.8h-2.8zM64.3 44.9h2.8v2.8h-2.8zM34.3 47.4h2.8v2.8h-2.8zM71.8 47.4h2.8v2.8h-2.8zM74.3 47.4h2.8v2.8h-2.8zM29.3 49.9h2.8v2.8h-2.8zM76.8 49.9h2.8v2.8h-2.8zM24.3 54.9h2.8v2.8h-2.8zM84.3 57.4h2.8v2.8h-2.8zM86.8 62.4h2.8v2.8h-2.8zM89.3 72.4h2.8v2.8h-2.8zM19.3 84.9h2.8v2.8h-2.8zM16.8 87.4h2.8v2.8h-2.8zM86.8 92.4h2.8v2.8h-2.8zM24.3 99.9h2.8v2.8h-2.8zM81.8 99.9h2.8v2.8h-2.8zM34.3 102.4h2.8v2.8h-2.8zM79.3 102.4h2.8v2.8h-2.8zM44.3 104.9h2.8v2.8h-2.8zM51.8 107.4h2.8v2.8h-2.8z"/><path fill="#6caed2" d="M36.8 47.4h2.8v2.8h-2.8zM39.3 47.4h2.8v2.8h-2.8zM41.8 47.4h2.8v2.8h-2.8zM44.3 47.4h2.8v2.8h-2.8zM46.8 47.4h2.8v2.8h-2.8zM49.3 47.4h2.8v2.8h-2.8zM64.3 47.4h2.8v2.8h-2.8zM66.8 47.4h2.8v2.8h-2.8zM69.3 47.4h2.8v2.8h-2.8zM31.8 49.9h2.8v2.8h-2.8zM74.3 49.9h2.8v2.8h-2.8zM26.8 52.4h2.8v2.8h-2.8zM79.3 52.4h2.8v2.8h-2.8zM26.8 54.9h2.8v2.8h-2.8zM24.3 57.4h2.8v2.8h-2.8zM24.3 59.9h2.8v2.8h-2.8zM84.3 59.9h2.8v2.8h-2.8zM24.3 62.4h2.8v2.8h-2.8zM86.8 64.9h2.8v2.8h-2.8zM26.8 67.4h2.8v2.8h-2.8zM29.3 72.4h2.8v2.8h-2.8zM29.3 74.9h2.8v2.8h-2.8zM89.3 74.9h2.8v2.8h-2.8zM29.3 77.4h2.8v2.8h-2.8zM89.3 77.4h2.8v2.8h-2.8zM26.8 79.9h2.8v2.8h-2.8zM89.3 79.9h2.8v2.8h-2.8zM24.3 82.4h2.8v2.8h-2.8zM89.3 82.4h2.8v2.8h-2.8zM16.8 94.9h2.8v2.8h-2.8zM19.3 97.4h2.8v2.8h-2.8zM26.8 99.9h2.8v2.8h-2.8zM36.8 102.4h2.8v2.8h-2.8zM54.3 107.4h2.8v2.8h-2.8zM69.3 107.4h2.8v2.8h-2.8z"/><path fill="#72aed2" d="M51.8 47.4h2.8v2.8h-2.8zM54.3 47.4h2.8v2.8h-2.8zM56.8 47.4h2.8v2.8h-2.8zM59.3 47.4h2.8v2.8h-2.8zM61.8 47.4h2.8v2.8h-2.8zM34.3 49.9h2.8v2.8h-2.8zM71.8 49.9h2.8v2.8h-2.8zM29.3 52.4h2.8v2.8h-2.8zM76.8 52.4h2.8v2.8h-2.8zM79.3 54.9h2.8v2.8h-2.8zM81.8 57.4h2.8v2.8h-2.8zM26.8 64.9h2.8v2.8h-2.8zM29.3 69.9h2.8v2.8h-2.8zM21.8 84.9h2.8v2.8h-2.8zM16.8 89.9h2.8v2.8h-2.8zM86.8 89.9h2.8v2.8h-2.8zM16.8 92.4h2.8v2.8h-2.8zM39.3 102.4h2.8v2.8h-2.8zM46.8 104.9h2.8v2.8h-2.8zM74.3 104.9h2.8v2.8h-2.8z"/><path fill="#72b4d2" d="M36.8 49.9h2.8v2.8h-2.8zM31.8 52.4h2.8v2.8h-2.8zM26.8 57.4h2.8v2.8h-2.8zM26.8 59.9h2.8v2.8h-2.8zM26.8 62.4h2.8v2.8h-2.8zM86.8 67.4h2.8v2.8h-2.8zM19.3 87.4h2.8v2.8h-2.8zM84.3 94.9h2.8v2.8h-2.8zM21.8 97.4h2.8v2.8h-2.8zM29.3 99.9h2.8v2.8h-2.8zM56.8 107.4h2.8v2.8h-2.8zM66.8 107.4h2.8v2.8h-2.8z"/><path fill="#78b4d2" d="M39.3 49.9h2.8v2.8h-2.8zM41.8 49.9h2.8v2.8h-2.8zM69.3 49.9h2.8v2.8h-2.8zM29.3 54.9h2.8v2.8h-2.8zM84.3 62.4h2.8v2.8h-2.8zM29.3 67.4h2.8v2.8h-2.8zM29.3 79.9h2.8v2.8h-2.8zM26.8 82.4h2.8v2.8h-2.8zM19.3 94.9h2.8v2.8h-2.8zM59.3 107.4h2.8v2.8h-2.8z"/><path fill="#78b4d8" d="M44.3 49.9h2.8v2.8h-2.8zM46.8 49.9h2.8v2.8h-2.8zM66.8 49.9h2.8v2.8h-2.8zM34.3 52.4h2.8v2.8h-2.8zM74.3 52.4h2.8v2.8h-2.8zM31.8 99.9h2.8v2.8h-2.8zM41.8 102.4h2.8v2.8h-2.8zM61.8 107.4h2.8v2.8h-2.8zM64.3 107.4h2.8v2.8h-2.8z"/><path fill="#7eb4d8" d="M49.3 49.9h2.8v2.8h-2.8zM29.3 57.4h2.8v2.8h-2.8zM29.3 64.9h2.8v2.8h-2.8zM86.8 87.4h2.8v2.8h-2.8zM49.3 104.9h2.8v2.8h-2.8z"/><path fill="#7ebad8" d="M51.8 49.9h2.8v2.8h-2.8zM54.3 49.9h2.8v2.8h-2.8zM56.8 49.9h2.8v2.8h-2.8zM59.3 49.9h2.8v2.8h-2.8zM61.8 49.9h2.8v2.8h-2.8zM64.3 49.9h2.8v2.8h-2.8zM36.8 52.4h2.8v2.8h-2.8zM71.8 52.4h2.8v2.8h-2.8zM31.8 54.9h2.8v2.8h-2.8zM76.8 54.9h2.8v2.8h-2.8zM79.3 57.4h2.8v2.8h-2.8zM29.3 59.9h2.8v2.8h-2.8zM81.8 59.9h2.8v2.8h-2.8zM29.3 62.4h2.8v2.8h-2.8zM86.8 69.9h2.8v2.8h-2.8zM31.8 72.4h2.8v2.8h-2.8zM31.8 74.9h2.8v2.8h-2.8zM24.3 84.9h2.8v2.8h-2.8zM21.8 87.4h2.8v2.8h-2.8zM19.3 89.9h2.8v2.8h-2.8zM19.3 92.4h2.8v2.8h-2.8zM24.3 97.4h2.8v2.8h-2.8zM81.8 97.4h2.8v2.8h-2.8zM34.3 99.9h2.8v2.8h-2.8zM79.3 99.9h2.8v2.8h-2.8zM76.8 102.4h2.8v2.8h-2.8z"/><path fill="#84bad8" d="M39.3 52.4h2.8v2.8h-2.8zM41.8 52.4h2.8v2.8h-2.8zM34.3 54.9h2.8v2.8h-2.8zM31.8 57.4h2.8v2.8h-2.8zM84.3 64.9h2.8v2.8h-2.8zM31.8 67.4h2.8v2.8h-2.8zM31.8 69.9h2.8v2.8h-2.8zM31.8 77.4h2.8v2.8h-2.8zM29.3 82.4h2.8v2.8h-2.8zM86.8 84.9h2.8v2.8h-2.8zM84.3 92.4h2.8v2.8h-2.8zM21.8 94.9h2.8v2.8h-2.8zM26.8 97.4h2.8v2.8h-2.8zM71.8 104.9h2.8v2.8h-2.8z"/><path fill="#8ac0d8" d="M44.3 52.4h2.8v2.8h-2.8zM69.3 52.4h2.8v2.8h-2.8zM31.8 64.9h2.8v2.8h-2.8zM26.8 84.9h2.8v2.8h-2.8zM36.8 99.9h2.8v2.8h-2.8zM51.8 104.9h2.8v2.8h-2.8z"/><path fill="#8ac0de" d="M46.8 52.4h2.8v2.8h-2.8zM36.8 54.9h2.8v2.8h-2.8zM74.3 54.9h2.8v2.8h-2.8zM31.8 59.9h2.8v2.8h-2.8zM31.8 62.4h2.8v2.8h-2.8zM86.8 74.9h2.8v2.8h-2.8zM31.8 79.9h2.8v2.8h-2.8zM86.8 82.4h2.8v2.8h-2.8zM24.3 87.4h2.8v2.8h-2.8zM21.8 89.9h2.8v2.8h-2.8zM21.8 92.4h2.8v2.8h-2.8z"/><path fill="#90c0de" d="M49.3 52.4h2.8v2.8h-2.8zM34.3 57.4h2.8v2.8h-2.8zM24.3 94.9h2.8v2.8h-2.8zM29.3 97.4h2.8v2.8h-2.8z"/><path fill="#90c6de" d="M51.8 52.4h2.8v2.8h-2.8zM54.3 52.4h2.8v2.8h-2.8zM66.8 52.4h2.8v2.8h-2.8zM39.3 54.9h2.8v2.8h-2.8zM76.8 57.4h2.8v2.8h-2.8zM81.8 62.4h2.8v2.8h-2.8zM86.8 77.4h2.8v2.8h-2.8zM86.8 79.9h2.8v2.8h-2.8zM39.3 99.9h2.8v2.8h-2.8zM54.3 104.9h2.8v2.8h-2.8zM69.3 104.9h2.8v2.8h-2.8z"/><path fill="#96c6de" d="M56.8 52.4h2.8v2.8h-2.8zM59.3 52.4h2.8v2.8h-2.8zM61.8 52.4h2.8v2.8h-2.8zM64.3 52.4h2.8v2.8h-2.8zM41.8 54.9h2.8v2.8h-2.8zM71.8 54.9h2.8v2.8h-2.8zM36.8 57.4h2.8v2.8h-2.8zM34.3 59.9h2.8v2.8h-2.8zM79.3 59.9h2.8v2.8h-2.8zM34.3 62.4h2.8v2.8h-2.8zM34.3 64.9h2.8v2.8h-2.8zM34.3 67.4h2.8v2.8h-2.8zM84.3 67.4h2.8v2.8h-2.8zM34.3 69.9h2.8v2.8h-2.8zM34.3 72.4h2.8v2.8h-2.8zM31.8 82.4h2.8v2.8h-2.8zM29.3 84.9h2.8v2.8h-2.8zM26.8 87.4h2.8v2.8h-2.8zM24.3 89.9h2.8v2.8h-2.8zM84.3 89.9h2.8v2.8h-2.8zM24.3 92.4h2.8v2.8h-2.8zM26.8 94.9h2.8v2.8h-2.8zM81.8 94.9h2.8v2.8h-2.8zM31.8 97.4h2.8v2.8h-2.8zM46.8 102.4h2.8v2.8h-2.8zM74.3 102.4h2.8v2.8h-2.8z"/><path fill="#9cc6de" d="M44.3 54.9h2.8v2.8h-2.8z"/><path fill="#9ccce4" d="M46.8 54.9h2.8v2.8h-2.8zM39.3 57.4h2.8v2.8h-2.8zM36.8 59.9h2.8v2.8h-2.8zM79.3 97.4h2.8v2.8h-2.8zM76.8 99.9h2.8v2.8h-2.8z"/><path fill="#a2cce4" d="M49.3 54.9h2.8v2.8h-2.8zM69.3 54.9h2.8v2.8h-2.8zM41.8 57.4h2.8v2.8h-2.8zM36.8 62.4h2.8v2.8h-2.8zM81.8 64.9h2.8v2.8h-2.8zM84.3 69.9h2.8v2.8h-2.8zM34.3 77.4h2.8v2.8h-2.8zM31.8 84.9h2.8v2.8h-2.8zM29.3 87.4h2.8v2.8h-2.8zM26.8 89.9h2.8v2.8h-2.8zM26.8 92.4h2.8v2.8h-2.8zM29.3 94.9h2.8v2.8h-2.8zM36.8 97.4h2.8v2.8h-2.8zM49.3 102.4h2.8v2.8h-2.8zM59.3 104.9h2.8v2.8h-2.8zM61.8 104.9h2.8v2.8h-2.8zM64.3 104.9h2.8v2.8h-2.8z"/><path fill="#a8d2e4" d="M51.8 54.9h2.8v2.8h-2.8zM39.3 59.9h2.8v2.8h-2.8zM36.8 64.9h2.8v2.8h-2.8zM34.3 79.9h2.8v2.8h-2.8zM29.3 89.9h2.8v2.8h-2.8zM29.3 92.4h2.8v2.8h-2.8zM31.8 94.9h2.8v2.8h-2.8zM44.3 99.9h2.8v2.8h-2.8zM71.8 102.4h2.8v2.8h-2.8z"/><path fill="#aed2e4" d="M54.3 54.9h2.8v2.8h-2.8zM66.8 54.9h2.8v2.8h-2.8zM44.3 57.4h2.8v2.8h-2.8zM76.8 59.9h2.8v2.8h-2.8zM79.3 62.4h2.8v2.8h-2.8zM36.8 67.4h2.8v2.8h-2.8zM84.3 72.4h2.8v2.8h-2.8zM34.3 82.4h2.8v2.8h-2.8zM31.8 87.4h2.8v2.8h-2.8zM81.8 92.4h2.8v2.8h-2.8zM39.3 97.4h2.8v2.8h-2.8zM51.8 102.4h2.8v2.8h-2.8z"/><path fill="#b4d2e4" d="M56.8 54.9h2.8v2.8h-2.8zM34.3 94.9h2.8v2.8h-2.8z"/><path fill="#b4d8ea" d="M59.3 54.9h2.8v2.8h-2.8zM61.8 54.9h2.8v2.8h-2.8zM64.3 54.9h2.8v2.8h-2.8zM46.8 57.4h2.8v2.8h-2.8zM41.8 59.9h2.8v2.8h-2.8zM39.3 62.4h2.8v2.8h-2.8zM36.8 69.9h2.8v2.8h-2.8zM84.3 84.9h2.8v2.8h-2.8zM31.8 89.9h2.8v2.8h-2.8zM31.8 92.4h2.8v2.8h-2.8z"/><path fill="#66aed2" d="M81.8 54.9h2.8v2.8h-2.8z"/><path fill="#c0deea" d="M49.3 57.4h2.8v2.8h-2.8zM39.3 64.9h2.8v2.8h-2.8zM36.8 74.9h2.8v2.8h-2.8zM84.3 77.4h2.8v2.8h-2.8zM84.3 79.9h2.8v2.8h-2.8zM34.3 92.4h2.8v2.8h-2.8zM79.3 94.9h2.8v2.8h-2.8zM41.8 97.4h2.8v2.8h-2.8zM54.3 102.4h2.8v2.8h-2.8zM69.3 102.4h2.8v2.8h-2.8z"/><path fill="#cce4f0" d="M51.8 57.4h2.8v2.8h-2.8zM69.3 57.4h2.8v2.8h-2.8zM74.3 59.9h2.8v2.8h-2.8zM79.3 64.9h2.8v2.8h-2.8zM39.3 67.4h2.8v2.8h-2.8zM36.8 79.9h2.8v2.8h-2.8zM39.3 94.9h2.8v2.8h-2.8zM56.8 102.4h2.8v2.8h-2.8z"/><path fill="#d2e4f0" d="M54.3 57.4h2.8v2.8h-2.8zM46.8 59.9h2.8v2.8h-2.8zM76.8 62.4h2.8v2.8h-2.8zM81.8 69.9h2.8v2.8h-2.8zM36.8 82.4h2.8v2.8h-2.8zM36.8 92.4h2.8v2.8h-2.8zM44.3 97.4h2.8v2.8h-2.8zM49.3 99.9h2.8v2.8h-2.8zM59.3 102.4h2.8v2.8h-2.8zM66.8 102.4h2.8v2.8h-2.8z"/><path fill="#d8eaf0" d="M56.8 57.4h2.8v2.8h-2.8zM66.8 57.4h2.8v2.8h-2.8zM44.3 62.4h2.8v2.8h-2.8zM41.8 64.9h2.8v2.8h-2.8zM39.3 69.9h2.8v2.8h-2.8zM36.8 84.9h2.8v2.8h-2.8zM36.8 87.4h2.8v2.8h-2.8zM81.8 87.4h2.8v2.8h-2.8zM36.8 89.9h2.8v2.8h-2.8zM71.8 99.9h2.8v2.8h-2.8zM61.8 102.4h2.8v2.8h-2.8zM64.3 102.4h2.8v2.8h-2.8z"/><path fill="#deeaf0" d="M59.3 57.4h2.8v2.8h-2.8zM61.8 57.4h2.8v2.8h-2.8zM64.3 57.4h2.8v2.8h-2.8zM49.3 59.9h2.8v2.8h-2.8zM39.3 72.4h2.8v2.8h-2.8zM39.3 92.4h2.8v2.8h-2.8zM79.3 92.4h2.8v2.8h-2.8zM41.8 94.9h2.8v2.8h-2.8zM51.8 99.9h2.8v2.8h-2.8z"/><path fill="#bad8ea" d="M71.8 57.4h2.8v2.8h-2.8zM81.8 67.4h2.8v2.8h-2.8zM36.8 72.4h2.8v2.8h-2.8zM84.3 74.9h2.8v2.8h-2.8zM84.3 82.4h2.8v2.8h-2.8zM34.3 84.9h2.8v2.8h-2.8zM36.8 94.9h2.8v2.8h-2.8zM46.8 99.9h2.8v2.8h-2.8z"/><path fill="#a8cce4" d="M74.3 57.4h2.8v2.8h-2.8zM84.3 87.4h2.8v2.8h-2.8z"/><path fill="#c6deea" d="M44.3 59.9h2.8v2.8h-2.8zM36.8 77.4h2.8v2.8h-2.8zM34.3 87.4h2.8v2.8h-2.8zM34.3 89.9h2.8v2.8h-2.8zM76.8 97.4h2.8v2.8h-2.8z"/><path fill="#eaf0f6" d="M51.8 59.9h2.8v2.8h-2.8zM46.8 62.4h2.8v2.8h-2.8zM79.3 67.4h2.8v2.8h-2.8zM39.3 77.4h2.8v2.8h-2.8zM81.8 84.9h2.8v2.8h-2.8zM39.3 89.9h2.8v2.8h-2.8zM76.8 94.9h2.8v2.8h-2.8z"/><path fill="#f6f6f6" d="M54.3 59.9h2.8v2.8h-2.8zM69.3 59.9h2.8v2.8h-2.8zM41.8 69.9h2.8v2.8h-2.8zM81.8 77.4h2.8v2.8h-2.8zM81.8 79.9h2.8v2.8h-2.8zM39.3 84.9h2.8v2.8h-2.8zM79.3 89.9h2.8v2.8h-2.8zM49.3 97.4h2.8v2.8h-2.8z"/><path fill="#fcf0e4" d="M56.8 59.9h2.8v2.8h-2.8zM41.8 89.9h2.8v2.8h-2.8zM76.8 92.4h2.8v2.8h-2.8zM74.3 94.9h2.8v2.8h-2.8zM69.3 97.4h2.8v2.8h-2.8z"/><path fill="#fceade" d="M59.3 59.9h2.8v2.8h-2.8zM46.8 64.9h2.8v2.8h-2.8zM44.3 92.4h2.8v2.8h-2.8zM51.8 97.4h2.8v2.8h-2.8zM56.8 97.4h2.8v2.8h-2.8zM59.3 97.4h2.8v2.8h-2.8z"/><path fill="#fce4d8" d="M61.8 59.9h2.8v2.8h-2.8zM64.3 59.9h2.8v2.8h-2.8zM69.3 62.4h2.8v2.8h-2.8zM74.3 64.9h2.8v2.8h-2.8zM76.8 67.4h2.8v2.8h-2.8zM44.3 72.4h2.8v2.8h-2.8zM79.3 72.4h2.8v2.8h-2.8zM41.8 74.9h2.8v2.8h-2.8zM44.3 74.9h2.8v2.8h-2.8zM41.8 77.4h2.8v2.8h-2.8zM44.3 77.4h2.8v2.8h-2.8zM41.8 79.9h2.8v2.8h-2.8zM44.3 79.9h2.8v2.8h-2.8zM79.3 87.4h2.8v2.8h-2.8zM76.8 89.9h2.8v2.8h-2.8zM71.8 94.9h2.8v2.8h-2.8zM54.3 97.4h2.8v2.8h-2.8z"/><path fill="#fceae4" d="M66.8 59.9h2.8v2.8h-2.8zM44.3 67.4h2.8v2.8h-2.8zM41.8 72.4h2.8v2.8h-2.8zM46.8 94.9h2.8v2.8h-2.8zM66.8 97.4h2.8v2.8h-2.8zM61.8 99.9h2.8v2.8h-2.8zM64.3 99.9h2.8v2.8h-2.8z"/><path fill="#e4f0f6" d="M71.8 59.9h2.8v2.8h-2.8zM41.8 67.4h2.8v2.8h-2.8zM81.8 72.4h2.8v2.8h-2.8zM39.3 74.9h2.8v2.8h-2.8zM46.8 97.4h2.8v2.8h-2.8zM74.3 97.4h2.8v2.8h-2.8z"/><path fill="#c6def0" d="M41.8 62.4h2.8v2.8h-2.8zM81.8 89.9h2.8v2.8h-2.8z"/><path fill="#f6f0ea" d="M49.3 62.4h2.8v2.8h-2.8zM79.3 69.9h2.8v2.8h-2.8zM71.8 97.4h2.8v2.8h-2.8zM59.3 99.9h2.8v2.8h-2.8z"/><path fill="#fcded2" d="M51.8 62.4h2.8v2.8h-2.8zM59.3 62.4h2.8v2.8h-2.8zM61.8 62.4h2.8v2.8h-2.8zM64.3 62.4h2.8v2.8h-2.8zM51.8 64.9h2.8v2.8h-2.8zM74.3 67.4h2.8v2.8h-2.8zM44.3 69.9h2.8v2.8h-2.8zM79.3 79.9h2.8v2.8h-2.8zM41.8 82.4h2.8v2.8h-2.8zM76.8 87.4h2.8v2.8h-2.8zM51.8 94.9h2.8v2.8h-2.8zM69.3 94.9h2.8v2.8h-2.8z"/><path fill="#fcdecc" d="M54.3 62.4h2.8v2.8h-2.8zM49.3 64.9h2.8v2.8h-2.8zM54.3 64.9h2.8v2.8h-2.8zM69.3 64.9h2.8v2.8h-2.8zM46.8 67.4h2.8v2.8h-2.8zM49.3 67.4h2.8v2.8h-2.8zM76.8 72.4h2.8v2.8h-2.8zM41.8 84.9h2.8v2.8h-2.8zM44.3 84.9h2.8v2.8h-2.8zM76.8 84.9h2.8v2.8h-2.8zM74.3 89.9h2.8v2.8h-2.8zM71.8 92.4h2.8v2.8h-2.8zM49.3 94.9h2.8v2.8h-2.8zM54.3 94.9h2.8v2.8h-2.8zM66.8 94.9h2.8v2.8h-2.8z"/><path fill="#fce4d2" d="M56.8 62.4h2.8v2.8h-2.8zM66.8 62.4h2.8v2.8h-2.8zM71.8 64.9h2.8v2.8h-2.8zM46.8 69.9h2.8v2.8h-2.8zM76.8 69.9h2.8v2.8h-2.8zM79.3 74.9h2.8v2.8h-2.8zM79.3 77.4h2.8v2.8h-2.8zM44.3 82.4h2.8v2.8h-2.8zM79.3 82.4h2.8v2.8h-2.8zM79.3 84.9h2.8v2.8h-2.8zM41.8 87.4h2.8v2.8h-2.8zM74.3 92.4h2.8v2.8h-2.8zM61.8 97.4h2.8v2.8h-2.8zM64.3 97.4h2.8v2.8h-2.8z"/><path fill="#fce4de" d="M71.8 62.4h2.8v2.8h-2.8z"/><path fill="#f0f6f6" d="M74.3 62.4h2.8v2.8h-2.8zM76.8 64.9h2.8v2.8h-2.8zM81.8 74.9h2.8v2.8h-2.8zM39.3 79.9h2.8v2.8h-2.8zM39.3 82.4h2.8v2.8h-2.8zM81.8 82.4h2.8v2.8h-2.8zM39.3 87.4h2.8v2.8h-2.8zM41.8 92.4h2.8v2.8h-2.8zM44.3 94.9h2.8v2.8h-2.8z"/><path fill="#f0f0f6" d="M44.3 64.9h2.8v2.8h-2.8zM54.3 99.9h2.8v2.8h-2.8zM69.3 99.9h2.8v2.8h-2.8z"/><path fill="#fcd8c0" d="M56.8 64.9h2.8v2.8h-2.8zM51.8 67.4h2.8v2.8h-2.8zM76.8 77.4h2.8v2.8h-2.8zM76.8 79.9h2.8v2.8h-2.8zM74.3 87.4h2.8v2.8h-2.8zM49.3 89.9h2.8v2.8h-2.8zM69.3 92.4h2.8v2.8h-2.8z"/><path fill="#fcd2ba" d="M59.3 64.9h2.8v2.8h-2.8zM61.8 64.9h2.8v2.8h-2.8zM69.3 67.4h2.8v2.8h-2.8zM74.3 72.4h2.8v2.8h-2.8zM46.8 74.9h2.8v2.8h-2.8zM46.8 84.9h2.8v2.8h-2.8zM54.3 92.4h2.8v2.8h-2.8z"/><path fill="#fcd2c0" d="M64.3 64.9h2.8v2.8h-2.8zM49.3 69.9h2.8v2.8h-2.8zM44.3 87.4h2.8v2.8h-2.8zM46.8 89.9h2.8v2.8h-2.8zM71.8 89.9h2.8v2.8h-2.8zM46.8 92.4h2.8v2.8h-2.8z"/><path fill="#fcd8c6" d="M66.8 64.9h2.8v2.8h-2.8zM71.8 67.4h2.8v2.8h-2.8zM46.8 72.4h2.8v2.8h-2.8zM76.8 74.9h2.8v2.8h-2.8zM76.8 82.4h2.8v2.8h-2.8zM46.8 87.4h2.8v2.8h-2.8zM51.8 92.4h2.8v2.8h-2.8zM59.3 94.9h2.8v2.8h-2.8zM61.8 94.9h2.8v2.8h-2.8z"/><path fill="#fcccb4" d="M54.3 67.4h2.8v2.8h-2.8zM71.8 69.9h2.8v2.8h-2.8zM46.8 77.4h2.8v2.8h-2.8zM46.8 82.4h2.8v2.8h-2.8zM74.3 84.9h2.8v2.8h-2.8zM66.8 92.4h2.8v2.8h-2.8z"/><path fill="#f6c0a2" d="M56.8 67.4h2.8v2.8h-2.8zM71.8 72.4h2.8v2.8h-2.8z"/><path fill="#f6ba9c" d="M59.3 67.4h2.8v2.8h-2.8zM61.8 67.4h2.8v2.8h-2.8zM49.3 74.9h2.8v2.8h-2.8zM49.3 84.9h2.8v2.8h-2.8zM71.8 84.9h2.8v2.8h-2.8zM54.3 89.9h2.8v2.8h-2.8z"/><path fill="#f6baa2" d="M64.3 67.4h2.8v2.8h-2.8zM69.3 69.9h2.8v2.8h-2.8z"/><path fill="#fcc6a8" d="M66.8 67.4h2.8v2.8h-2.8zM74.3 82.4h2.8v2.8h-2.8zM71.8 87.4h2.8v2.8h-2.8zM69.3 89.9h2.8v2.8h-2.8z"/><path fill="#f6c0a8" d="M51.8 69.9h2.8v2.8h-2.8zM74.3 77.4h2.8v2.8h-2.8zM74.3 79.9h2.8v2.8h-2.8zM59.3 92.4h2.8v2.8h-2.8zM61.8 92.4h2.8v2.8h-2.8z"/><path fill="#f6ae90" d="M54.3 69.9h2.8v2.8h-2.8zM66.8 69.9h2.8v2.8h-2.8zM71.8 77.4h2.8v2.8h-2.8zM49.3 82.4h2.8v2.8h-2.8zM71.8 82.4h2.8v2.8h-2.8z"/><path fill="#f6a27e" d="M56.8 69.9h2.8v2.8h-2.8zM59.3 89.9h2.8v2.8h-2.8z"/><path fill="#f09c78" d="M59.3 69.9h2.8v2.8h-2.8zM69.3 82.4h2.8v2.8h-2.8zM51.8 84.9h2.8v2.8h-2.8zM54.3 87.4h2.8v2.8h-2.8z"/><path fill="#f09c7e" d="M61.8 69.9h2.8v2.8h-2.8zM66.8 72.4h2.8v2.8h-2.8z"/><path fill="#f6a884" d="M64.3 69.9h2.8v2.8h-2.8z"/><path fill="#fcdec6" d="M74.3 69.9h2.8v2.8h-2.8zM49.3 92.4h2.8v2.8h-2.8zM56.8 94.9h2.8v2.8h-2.8zM64.3 94.9h2.8v2.8h-2.8z"/><path fill="#fcc6ae" d="M49.3 72.4h2.8v2.8h-2.8zM74.3 74.9h2.8v2.8h-2.8zM46.8 79.9h2.8v2.8h-2.8zM49.3 87.4h2.8v2.8h-2.8zM51.8 89.9h2.8v2.8h-2.8zM56.8 92.4h2.8v2.8h-2.8zM64.3 92.4h2.8v2.8h-2.8z"/><path fill="#f6ae8a" d="M51.8 72.4h2.8v2.8h-2.8zM69.3 72.4h2.8v2.8h-2.8zM49.3 77.4h2.8v2.8h-2.8zM71.8 79.9h2.8v2.8h-2.8zM64.3 89.9h2.8v2.8h-2.8z"/><path fill="#ea9672" d="M54.3 72.4h2.8v2.8h-2.8z"/><path fill="#e48466" d="M56.8 72.4h2.8v2.8h-2.8zM66.8 77.4h2.8v2.8h-2.8zM66.8 82.4h2.8v2.8h-2.8zM61.8 87.4h2.8v2.8h-2.8z"/><path fill="#e47e60" d="M59.3 72.4h2.8v2.8h-2.8z"/><path fill="#e47e66" d="M61.8 72.4h2.8v2.8h-2.8zM51.8 79.9h2.8v2.8h-2.8zM66.8 79.9h2.8v2.8h-2.8zM59.3 87.4h2.8v2.8h-2.8z"/><path fill="#ea8a6c" d="M64.3 72.4h2.8v2.8h-2.8zM66.8 74.9h2.8v2.8h-2.8zM51.8 82.4h2.8v2.8h-2.8z"/><path fill="#84c0d8" d="M86.8 72.4h2.8v2.8h-2.8zM44.3 102.4h2.8v2.8h-2.8z"/><path fill="#9cccde" d="M34.3 74.9h2.8v2.8h-2.8zM34.3 97.4h2.8v2.8h-2.8zM41.8 99.9h2.8v2.8h-2.8zM56.8 104.9h2.8v2.8h-2.8zM66.8 104.9h2.8v2.8h-2.8z"/><path fill="#f09678" d="M51.8 74.9h2.8v2.8h-2.8zM69.3 77.4h2.8v2.8h-2.8zM69.3 79.9h2.8v2.8h-2.8z"/><path fill="#de7860" d="M54.3 74.9h2.8v2.8h-2.8zM64.3 74.9h2.8v2.8h-2.8zM64.3 84.9h2.8v2.8h-2.8z"/><path fill="#d8664e" d="M56.8 74.9h2.8v2.8h-2.8zM54.3 77.4h2.8v2.8h-2.8z"/><path fill="#d8604e" d="M59.3 74.9h2.8v2.8h-2.8zM54.3 79.9h2.8v2.8h-2.8zM59.3 84.9h2.8v2.8h-2.8z"/><path fill="#d86654" d="M61.8 74.9h2.8v2.8h-2.8zM64.3 79.9h2.8v2.8h-2.8zM54.3 82.4h2.8v2.8h-2.8zM56.8 84.9h2.8v2.8h-2.8zM61.8 84.9h2.8v2.8h-2.8z"/><path fill="#f0a27e" d="M69.3 74.9h2.8v2.8h-2.8zM66.8 87.4h2.8v2.8h-2.8z"/><path fill="#f6b496" d="M71.8 74.9h2.8v2.8h-2.8zM66.8 89.9h2.8v2.8h-2.8z"/><path fill="#e4846c" d="M51.8 77.4h2.8v2.8h-2.8zM56.8 87.4h2.8v2.8h-2.8z"/><path fill="#cc5448" d="M56.8 77.4h2.8v2.8h-2.8zM56.8 82.4h2.8v2.8h-2.8z"/><path fill="#cc4e42" d="M59.3 77.4h2.8v2.8h-2.8zM59.3 82.4h2.8v2.8h-2.8z"/><path fill="#d25a48" d="M61.8 77.4h2.8v2.8h-2.8zM61.8 82.4h2.8v2.8h-2.8z"/><path fill="#de6c54" d="M64.3 77.4h2.8v2.8h-2.8z"/><path fill="#f6a88a" d="M49.3 79.9h2.8v2.8h-2.8zM56.8 89.9h2.8v2.8h-2.8z"/><path fill="#cc4842" d="M56.8 79.9h2.8v2.8h-2.8zM59.3 79.9h2.8v2.8h-2.8z"/><path fill="#d25448" d="M61.8 79.9h2.8v2.8h-2.8z"/><path fill="#d86c54" d="M64.3 82.4h2.8v2.8h-2.8z"/><path fill="#e47860" d="M54.3 84.9h2.8v2.8h-2.8z"/><path fill="#ea9072" d="M66.8 84.9h2.8v2.8h-2.8zM64.3 87.4h2.8v2.8h-2.8z"/><path fill="#f6a284" d="M69.3 84.9h2.8v2.8h-2.8zM61.8 89.9h2.8v2.8h-2.8z"/><path fill="#f6b490" d="M51.8 87.4h2.8v2.8h-2.8zM69.3 87.4h2.8v2.8h-2.8z"/><path fill="#fcccba" d="M44.3 89.9h2.8v2.8h-2.8z"/><path fill="#f6f6f0" d="M56.8 99.9h2.8v2.8h-2.8z"/><path fill="#f6f0f0" d="M66.8 99.9h2.8v2.8h-2.8z"/><path fill="#c0d8ea" d="M74.3 99.9h2.8v2.8h-2.8z"/><path fill="#2a78b4" d="M79.3 127.4h2.8v2.8h-2.8zM81.8 127.4h2.8v2.8h-2.8zM104.3 127.4h2.8v2.8h-2.8zM106.8 127.4h2.8v2.8h-2.8zM64.3 129.9h2.8v2.8h-2.8zM66.8 129.9h2.8v2.8h-2.8zM116.8 129.9h2.8v2.8h-2.8zM54.3 132.4h2.8v2.8h-2.8zM56.8 132.4h2.8v2.8h-2.8zM46.8 134.9h2.8v2.8h-2.8zM49.3 134.9h2.8v2.8h-2.8zM46.8 137.4h2.8v2.8h-2.8zM49.3 137.4h2.8v2.8h-2.8zM51.8 137.4h2.8v2.8h-2.8z"/><path fill="#2a72b4" d="M84.3 127.4h2.8v2.8h-2.8zM86.8 127.4h2.8v2.8h-2.8zM89.3 127.4h2.8v2.8h-2.8zM91.8 127.4h2.8v2.8h-2.8zM94.3 127.4h2.8v2.8h-2.8zM96.8 127.4h2.8v2.8h-2.8zM99.3 127.4h2.8v2.8h-2.8zM101.8 127.4h2.8v2.8h-2.8zM69.3 129.9h2.8v2.8h-2.8zM71.8 129.9h2.8v2.8h-2.8zM74.3 129.9h2.8v2.8h-2.8zM76.8 129.9h2.8v2.8h-2.8zM79.3 129.9h2.8v2.8h-2.8zM81.8 129.9h2.8v2.8h-2.8zM84.3 129.9h2.8v2.8h-2.8zM86.8 129.9h2.8v2.8h-2.8zM89.3 129.9h2.8v2.8h-2.8zM91.8 129.9h2.8v2.8h-2.8zM94.3 129.9h2.8v2.8h-2.8zM96.8 129.9h2.8v2.8h-2.8zM99.3 129.9h2.8v2.8h-2.8zM101.8 129.9h2.8v2.8h-2.8zM104.3 129.9h2.8v2.8h-2.8zM106.8 129.9h2.8v2.8h-2.8zM109.3 129.9h2.8v2.8h-2.8zM111.8 129.9h2.8v2.8h-2.8zM114.3 129.9h2.8v2.8h-2.8zM59.3 132.4h2.8v2.8h-2.8zM61.8 132.4h2.8v2.8h-2.8zM64.3 132.4h2.8v2.8h-2.8zM66.8 132.4h2.8v2.8h-2.8zM69.3 132.4h2.8v2.8h-2.8zM71.8 132.4h2.8v2.8h-2.8zM74.3 132.4h2.8v2.8h-2.8zM76.8 132.4h2.8v2.8h-2.8zM79.3 132.4h2.8v2.8h-2.8zM81.8 132.4h2.8v2.8h-2.8zM84.3 132.4h2.8v2.8h-2.8zM86.8 132.4h2.8v2.8h-2.8zM96.8 132.4h2.8v2.8h-2.8zM99.3 132.4h2.8v2.8h-2.8zM101.8 132.4h2.8v2.8h-2.8zM104.3 132.4h2.8v2.8h-2.8zM106.8 132.4h2.8v2.8h-2.8zM109.3 132.4h2.8v2.8h-2.8zM111.8 132.4h2.8v2.8h-2.8zM114.3 132.4h2.8v2.8h-2.8zM116.8 132.4h2.8v2.8h-2.8zM119.3 132.4h2.8v2.8h-2.8zM51.8 134.9h2.8v2.8h-2.8zM54.3 134.9h2.8v2.8h-2.8zM56.8 134.9h2.8v2.8h-2.8zM59.3 134.9h2.8v2.8h-2.8zM61.8 134.9h2.8v2.8h-2.8zM64.3 134.9h2.8v2.8h-2.8zM66.8 134.9h2.8v2.8h-2.8zM69.3 134.9h2.8v2.8h-2.8zM71.8 134.9h2.8v2.8h-2.8zM74.3 134.9h2.8v2.8h-2.8zM76.8 134.9h2.8v2.8h-2.8zM104.3 134.9h2.8v2.8h-2.8zM106.8 134.9h2.8v2.8h-2.8zM109.3 134.9h2.8v2.8h-2.8zM111.8 134.9h2.8v2.8h-2.8zM114.3 134.9h2.8v2.8h-2.8zM116.8 134.9h2.8v2.8h-2.8zM119.3 134.9h2.8v2.8h-2.8zM54.3 137.4h2.8v2.8h-2.8zM56.8 137.4h2.8v2.8h-2.8zM59.3 137.4h2.8v2.8h-2.8zM61.8 137.4h2.8v2.8h-2.8zM64.3 137.4h2.8v2.8h-2.8zM66.8 137.4h2.8v2.8h-2.8zM69.3 137.4h2.8v2.8h-2.8zM71.8 137.4h2.8v2.8h-2.8zM74.3 137.4h2.8v2.8h-2.8zM76.8 137.4h2.8v2.8h-2.8zM104.3 137.4h2.8v2.8h-2.8zM106.8 137.4h2.8v2.8h-2.8zM109.3 137.4h2.8v2.8h-2.8zM111.8 137.4h2.8v2.8h-2.8zM114.3 137.4h2.8v2.8h-2.8zM116.8 137.4h2.8v2.8h-2.8zM119.3 137.4h2.8v2.8h-2.8z"/><path fill="#2a72ae" d="M89.3 132.4h2.8v2.8h-2.8zM91.8 132.4h2.8v2.8h-2.8zM94.3 132.4h2.8v2.8h-2.8zM79.3 134.9h2.8v2.8h-2.8zM81.8 134.9h2.8v2.8h-2.8zM99.3 134.9h2.8v2.8h-2.8zM101.8 134.9h2.8v2.8h-2.8zM79.3 137.4h2.8v2.8h-2.8zM81.8 137.4h2.8v2.8h-2.8zM84.3 137.4h2.8v2.8h-2.8zM96.8 137.4h2.8v2.8h-2.8zM99.3 137.4h2.8v2.8h-2.8zM101.8 137.4h2.8v2.8h-2.8z"/><path fill="#2a6cae" d="M84.3 134.9h2.8v2.8h-2.8zM86.8 134.9h2.8v2.8h-2.8zM89.3 134.9h2.8v2.8h-2.8zM91.8 134.9h2.8v2.8h-2.8zM94.3 134.9h2.8v2.8h-2.8zM96.8 134.9h2.8v2.8h-2.8zM86.8 137.4h2.8v2.8h-2.8zM89.3 137.4h2.8v2.8h-2.8zM91.8 137.4h2.8v2.8h-2.8zM94.3 137.4h2.8v2.8h-2.8z"/></g></g><use href="#arr"/><circle cx="64.3" cy="80.3" r="18.6" fill="none" stroke="#111" stroke-width="1.7"/><rect x="0.25" y="0.25" width="119.5" height="139.9" fill="none" stroke="#c4c4c4" stroke-width="0.7"/><path d="M24.1 0v1.8M24.1 140.4v-1.8M48.2 0v1.8M48.2 140.4v-1.8M72.3 0v1.8M72.3 140.4v-1.8M96.4 0v1.8M96.4 140.4v-1.8M0 38.3h1.8M120.0 38.3h-1.8M0 73.7h1.8M120.0 73.7h-1.8M0 108.5h1.8M120.0 108.5h-1.8" stroke="#999" stroke-width="0.6" fill="none"/></g><rect x="144.2" y="7" width="7.2" height="140" fill="url(#cb)"/><g transform="translate(200,6.6)"><rect x="0" y="0" width="120" height="140.4" fill="#fff"/><g clip-path="url(#dc)"><g filter="url(#bl)"><path fill="#063060" d="M-0.7 2.4h2.8v2.8h-2.8zM-0.7 4.9h2.8v2.8h-2.8zM1.8 4.9h2.8v2.8h-2.8zM-0.7 7.4h2.8v2.8h-2.8zM1.8 7.4h2.8v2.8h-2.8z"/><path fill="#063066" d="M1.8 2.4h2.8v2.8h-2.8z"/><path fill="#06366c" d="M4.3 2.4h2.8v2.8h-2.8zM4.3 7.4h2.8v2.8h-2.8z"/><path fill="#0c3c72" d="M6.8 2.4h2.8v2.8h-2.8zM6.8 4.9h2.8v2.8h-2.8zM6.8 7.4h2.8v2.8h-2.8zM4.3 9.9h2.8v2.8h-2.8zM1.8 12.4h2.8v2.8h-2.8z"/><path fill="#12487e" d="M9.3 2.4h2.8v2.8h-2.8zM9.3 4.9h2.8v2.8h-2.8z"/><path fill="#184e90" d="M11.8 2.4h2.8v2.8h-2.8zM11.8 4.9h2.8v2.8h-2.8zM1.8 17.4h2.8v2.8h-2.8z"/><path fill="#185a9c" d="M14.3 2.4h2.8v2.8h-2.8zM14.3 4.9h2.8v2.8h-2.8z"/><path fill="#1e66a8" d="M16.8 2.4h2.8v2.8h-2.8zM16.8 4.9h2.8v2.8h-2.8z"/><path fill="#246cae" d="M19.3 2.4h2.8v2.8h-2.8zM19.3 4.9h2.8v2.8h-2.8zM16.8 9.9h2.8v2.8h-2.8zM-0.7 22.4h2.8v2.8h-2.8zM1.8 22.4h2.8v2.8h-2.8z"/><path fill="#2a72b4" d="M21.8 2.4h2.8v2.8h-2.8zM21.8 4.9h2.8v2.8h-2.8zM19.3 9.9h2.8v2.8h-2.8zM16.8 12.4h2.8v2.8h-2.8zM9.3 19.9h2.8v2.8h-2.8zM6.8 22.4h2.8v2.8h-2.8zM-0.7 117.4h2.8v2.8h-2.8zM1.8 119.9h2.8v2.8h-2.8zM-0.7 124.9h2.8v2.8h-2.8z"/><path fill="#307eba" d="M24.3 2.4h2.8v2.8h-2.8zM24.3 4.9h2.8v2.8h-2.8zM9.3 22.4h2.8v2.8h-2.8zM4.3 24.9h2.8v2.8h-2.8zM1.8 112.4h2.8v2.8h-2.8z"/><path fill="#3684ba" d="M26.8 2.4h2.8v2.8h-2.8zM26.8 4.9h2.8v2.8h-2.8zM24.3 9.9h2.8v2.8h-2.8zM21.8 14.9h2.8v2.8h-2.8zM14.3 19.9h2.8v2.8h-2.8zM11.8 22.4h2.8v2.8h-2.8zM6.8 24.9h2.8v2.8h-2.8zM1.8 109.9h2.8v2.8h-2.8zM4.3 114.9h2.8v2.8h-2.8zM4.3 117.4h2.8v2.8h-2.8zM4.3 119.9h2.8v2.8h-2.8zM-0.7 129.9h2.8v2.8h-2.8z"/><path fill="#3c8ac0" d="M29.3 2.4h2.8v2.8h-2.8zM29.3 4.9h2.8v2.8h-2.8zM26.8 9.9h2.8v2.8h-2.8zM24.3 14.9h2.8v2.8h-2.8zM21.8 17.4h2.8v2.8h-2.8zM16.8 19.9h2.8v2.8h-2.8zM9.3 24.9h2.8v2.8h-2.8zM-0.7 27.4h2.8v2.8h-2.8zM1.8 27.4h2.8v2.8h-2.8zM4.3 27.4h2.8v2.8h-2.8zM1.8 107.4h2.8v2.8h-2.8zM4.3 109.9h2.8v2.8h-2.8zM4.3 124.9h2.8v2.8h-2.8zM1.8 129.9h2.8v2.8h-2.8z"/><path fill="#4296c6" d="M31.8 2.4h2.8v2.8h-2.8zM31.8 4.9h2.8v2.8h-2.8zM29.3 12.4h2.8v2.8h-2.8zM1.8 104.9h2.8v2.8h-2.8z"/><path fill="#549cc6" d="M34.3 2.4h2.8v2.8h-2.8zM34.3 4.9h2.8v2.8h-2.8zM19.3 22.4h2.8v2.8h-2.8zM14.3 24.9h2.8v2.8h-2.8zM1.8 102.4h2.8v2.8h-2.8zM4.3 102.4h2.8v2.8h-2.8zM-0.7 134.9h2.8v2.8h-2.8z"/><path fill="#60a8cc" d="M36.8 2.4h2.8v2.8h-2.8zM36.8 4.9h2.8v2.8h-2.8zM36.8 7.4h2.8v2.8h-2.8zM34.3 14.9h2.8v2.8h-2.8zM31.8 17.4h2.8v2.8h-2.8zM29.3 19.9h2.8v2.8h-2.8zM1.8 32.4h2.8v2.8h-2.8zM4.3 99.9h2.8v2.8h-2.8zM-0.7 102.4h2.8v2.8h-2.8zM4.3 132.4h2.8v2.8h-2.8z"/><path fill="#6caed2" d="M39.3 2.4h2.8v2.8h-2.8zM39.3 4.9h2.8v2.8h-2.8zM36.8 12.4h2.8v2.8h-2.8zM36.8 14.9h2.8v2.8h-2.8zM34.3 17.4h2.8v2.8h-2.8zM31.8 19.9h2.8v2.8h-2.8zM26.8 22.4h2.8v2.8h-2.8zM19.3 24.9h2.8v2.8h-2.8zM14.3 27.4h2.8v2.8h-2.8zM6.8 32.4h2.8v2.8h-2.8zM4.3 97.4h2.8v2.8h-2.8zM6.8 97.4h2.8v2.8h-2.8zM9.3 102.4h2.8v2.8h-2.8zM9.3 104.9h2.8v2.8h-2.8zM9.3 107.4h2.8v2.8h-2.8zM9.3 109.9h2.8v2.8h-2.8zM9.3 112.4h2.8v2.8h-2.8zM6.8 127.4h2.8v2.8h-2.8zM-0.7 137.4h2.8v2.8h-2.8z"/><path fill="#7ebad8" d="M41.8 2.4h2.8v2.8h-2.8zM41.8 4.9h2.8v2.8h-2.8zM41.8 7.4h2.8v2.8h-2.8zM41.8 9.9h2.8v2.8h-2.8zM39.3 17.4h2.8v2.8h-2.8zM36.8 19.9h2.8v2.8h-2.8zM9.3 32.4h2.8v2.8h-2.8zM9.3 92.4h2.8v2.8h-2.8zM11.8 92.4h2.8v2.8h-2.8zM11.8 94.9h2.8v2.8h-2.8zM11.8 97.4h2.8v2.8h-2.8zM9.3 119.9h2.8v2.8h-2.8z"/><path fill="#8ac0de" d="M44.3 2.4h2.8v2.8h-2.8zM44.3 4.9h2.8v2.8h-2.8zM44.3 7.4h2.8v2.8h-2.8zM41.8 17.4h2.8v2.8h-2.8zM36.8 22.4h2.8v2.8h-2.8zM21.8 27.4h2.8v2.8h-2.8zM-0.7 37.4h2.8v2.8h-2.8zM9.3 89.9h2.8v2.8h-2.8zM19.3 89.9h2.8v2.8h-2.8zM19.3 92.4h2.8v2.8h-2.8zM11.8 107.4h2.8v2.8h-2.8zM9.3 124.9h2.8v2.8h-2.8z"/><path fill="#96c6de" d="M46.8 2.4h2.8v2.8h-2.8zM46.8 4.9h2.8v2.8h-2.8zM46.8 7.4h2.8v2.8h-2.8zM44.3 17.4h2.8v2.8h-2.8zM39.3 22.4h2.8v2.8h-2.8zM34.3 24.9h2.8v2.8h-2.8zM24.3 27.4h2.8v2.8h-2.8zM26.8 27.4h2.8v2.8h-2.8zM-0.7 39.9h2.8v2.8h-2.8zM6.8 39.9h2.8v2.8h-2.8zM1.8 42.4h2.8v2.8h-2.8zM4.3 42.4h2.8v2.8h-2.8zM9.3 87.4h2.8v2.8h-2.8zM11.8 87.4h2.8v2.8h-2.8zM14.3 87.4h2.8v2.8h-2.8zM16.8 87.4h2.8v2.8h-2.8zM19.3 87.4h2.8v2.8h-2.8zM4.3 89.9h2.8v2.8h-2.8zM24.3 89.9h2.8v2.8h-2.8zM1.8 92.4h2.8v2.8h-2.8zM21.8 92.4h2.8v2.8h-2.8zM-0.7 94.9h2.8v2.8h-2.8zM19.3 94.9h2.8v2.8h-2.8zM14.3 99.9h2.8v2.8h-2.8zM11.8 112.4h2.8v2.8h-2.8zM11.8 114.9h2.8v2.8h-2.8zM9.3 127.4h2.8v2.8h-2.8zM6.8 134.9h2.8v2.8h-2.8z"/><path fill="#a2cce4" d="M49.3 2.4h2.8v2.8h-2.8zM49.3 4.9h2.8v2.8h-2.8zM49.3 7.4h2.8v2.8h-2.8zM49.3 9.9h2.8v2.8h-2.8zM49.3 12.4h2.8v2.8h-2.8zM46.8 19.9h2.8v2.8h-2.8zM44.3 22.4h2.8v2.8h-2.8zM39.3 24.9h2.8v2.8h-2.8zM31.8 27.4h2.8v2.8h-2.8zM21.8 29.9h2.8v2.8h-2.8zM9.3 39.9h2.8v2.8h-2.8zM-0.7 42.4h2.8v2.8h-2.8zM6.8 44.9h2.8v2.8h-2.8zM1.8 47.4h2.8v2.8h-2.8zM4.3 47.4h2.8v2.8h-2.8zM11.8 84.9h2.8v2.8h-2.8zM14.3 84.9h2.8v2.8h-2.8zM4.3 87.4h2.8v2.8h-2.8zM24.3 87.4h2.8v2.8h-2.8zM1.8 89.9h2.8v2.8h-2.8zM26.8 89.9h2.8v2.8h-2.8zM-0.7 92.4h2.8v2.8h-2.8zM26.8 92.4h2.8v2.8h-2.8zM21.8 94.9h2.8v2.8h-2.8zM14.3 104.9h2.8v2.8h-2.8zM11.8 119.9h2.8v2.8h-2.8zM9.3 129.9h2.8v2.8h-2.8z"/><path fill="#aed2e4" d="M51.8 2.4h2.8v2.8h-2.8zM51.8 4.9h2.8v2.8h-2.8zM51.8 7.4h2.8v2.8h-2.8zM51.8 9.9h2.8v2.8h-2.8zM51.8 12.4h2.8v2.8h-2.8zM51.8 14.9h2.8v2.8h-2.8zM51.8 17.4h2.8v2.8h-2.8zM49.3 19.9h2.8v2.8h-2.8zM44.3 24.9h2.8v2.8h-2.8zM36.8 27.4h2.8v2.8h-2.8zM26.8 29.9h2.8v2.8h-2.8zM19.3 32.4h2.8v2.8h-2.8zM14.3 34.9h2.8v2.8h-2.8zM9.3 44.9h2.8v2.8h-2.8zM-0.7 47.4h2.8v2.8h-2.8zM6.8 49.9h2.8v2.8h-2.8zM1.8 52.4h2.8v2.8h-2.8zM4.3 52.4h2.8v2.8h-2.8zM6.8 52.4h2.8v2.8h-2.8zM11.8 82.4h2.8v2.8h-2.8zM4.3 84.9h2.8v2.8h-2.8zM21.8 84.9h2.8v2.8h-2.8zM1.8 87.4h2.8v2.8h-2.8zM26.8 87.4h2.8v2.8h-2.8zM-0.7 89.9h2.8v2.8h-2.8zM29.3 89.9h2.8v2.8h-2.8zM29.3 92.4h2.8v2.8h-2.8zM16.8 102.4h2.8v2.8h-2.8zM14.3 112.4h2.8v2.8h-2.8z"/><path fill="#bad8ea" d="M54.3 2.4h2.8v2.8h-2.8zM54.3 4.9h2.8v2.8h-2.8zM54.3 7.4h2.8v2.8h-2.8zM54.3 9.9h2.8v2.8h-2.8zM54.3 12.4h2.8v2.8h-2.8zM54.3 14.9h2.8v2.8h-2.8zM54.3 17.4h2.8v2.8h-2.8zM54.3 19.9h2.8v2.8h-2.8zM51.8 22.4h2.8v2.8h-2.8zM49.3 24.9h2.8v2.8h-2.8zM41.8 27.4h2.8v2.8h-2.8zM34.3 29.9h2.8v2.8h-2.8zM21.8 32.4h2.8v2.8h-2.8zM24.3 32.4h2.8v2.8h-2.8zM16.8 34.9h2.8v2.8h-2.8zM14.3 37.4h2.8v2.8h-2.8zM11.8 42.4h2.8v2.8h-2.8zM-0.7 52.4h2.8v2.8h-2.8zM9.3 52.4h2.8v2.8h-2.8zM9.3 54.9h2.8v2.8h-2.8zM1.8 57.4h2.8v2.8h-2.8zM4.3 57.4h2.8v2.8h-2.8zM6.8 57.4h2.8v2.8h-2.8zM6.8 79.9h2.8v2.8h-2.8zM9.3 79.9h2.8v2.8h-2.8zM11.8 79.9h2.8v2.8h-2.8zM4.3 82.4h2.8v2.8h-2.8zM19.3 82.4h2.8v2.8h-2.8zM1.8 84.9h2.8v2.8h-2.8zM-0.7 87.4h2.8v2.8h-2.8zM31.8 89.9h2.8v2.8h-2.8zM19.3 99.9h2.8v2.8h-2.8zM16.8 104.9h2.8v2.8h-2.8zM11.8 127.4h2.8v2.8h-2.8z"/><path fill="#c0deea" d="M56.8 2.4h2.8v2.8h-2.8zM56.8 12.4h2.8v2.8h-2.8zM56.8 14.9h2.8v2.8h-2.8zM56.8 17.4h2.8v2.8h-2.8zM54.3 22.4h2.8v2.8h-2.8zM51.8 24.9h2.8v2.8h-2.8zM46.8 27.4h2.8v2.8h-2.8zM36.8 29.9h2.8v2.8h-2.8zM26.8 32.4h2.8v2.8h-2.8zM19.3 34.9h2.8v2.8h-2.8zM14.3 39.9h2.8v2.8h-2.8zM11.8 47.4h2.8v2.8h-2.8zM11.8 49.9h2.8v2.8h-2.8zM-0.7 54.9h2.8v2.8h-2.8zM9.3 57.4h2.8v2.8h-2.8zM1.8 59.9h2.8v2.8h-2.8zM6.8 59.9h2.8v2.8h-2.8zM9.3 59.9h2.8v2.8h-2.8zM4.3 62.4h2.8v2.8h-2.8zM6.8 62.4h2.8v2.8h-2.8zM6.8 77.4h2.8v2.8h-2.8zM9.3 77.4h2.8v2.8h-2.8zM11.8 77.4h2.8v2.8h-2.8zM4.3 79.9h2.8v2.8h-2.8zM14.3 79.9h2.8v2.8h-2.8zM16.8 79.9h2.8v2.8h-2.8zM1.8 82.4h2.8v2.8h-2.8zM21.8 82.4h2.8v2.8h-2.8zM-0.7 84.9h2.8v2.8h-2.8zM31.8 92.4h2.8v2.8h-2.8zM29.3 94.9h2.8v2.8h-2.8zM24.3 97.4h2.8v2.8h-2.8zM16.8 107.4h2.8v2.8h-2.8zM11.8 129.9h2.8v2.8h-2.8zM9.3 137.4h2.8v2.8h-2.8z"/><path fill="#cce4f0" d="M59.3 2.4h2.8v2.8h-2.8zM59.3 4.9h2.8v2.8h-2.8zM59.3 7.4h2.8v2.8h-2.8zM59.3 9.9h2.8v2.8h-2.8zM59.3 12.4h2.8v2.8h-2.8zM59.3 14.9h2.8v2.8h-2.8zM59.3 17.4h2.8v2.8h-2.8zM59.3 19.9h2.8v2.8h-2.8zM54.3 24.9h2.8v2.8h-2.8zM51.8 27.4h2.8v2.8h-2.8zM44.3 29.9h2.8v2.8h-2.8zM31.8 32.4h2.8v2.8h-2.8zM34.3 32.4h2.8v2.8h-2.8zM24.3 34.9h2.8v2.8h-2.8zM16.8 39.9h2.8v2.8h-2.8zM14.3 44.9h2.8v2.8h-2.8zM14.3 47.4h2.8v2.8h-2.8zM14.3 49.9h2.8v2.8h-2.8zM-0.7 62.4h2.8v2.8h-2.8zM14.3 62.4h2.8v2.8h-2.8zM1.8 64.9h2.8v2.8h-2.8zM14.3 64.9h2.8v2.8h-2.8zM1.8 67.4h2.8v2.8h-2.8zM14.3 67.4h2.8v2.8h-2.8zM1.8 69.9h2.8v2.8h-2.8zM14.3 69.9h2.8v2.8h-2.8zM1.8 72.4h2.8v2.8h-2.8zM14.3 72.4h2.8v2.8h-2.8zM1.8 74.9h2.8v2.8h-2.8zM16.8 74.9h2.8v2.8h-2.8zM1.8 77.4h2.8v2.8h-2.8zM16.8 77.4h2.8v2.8h-2.8zM-0.7 79.9h2.8v2.8h-2.8zM21.8 79.9h2.8v2.8h-2.8zM34.3 89.9h2.8v2.8h-2.8zM34.3 92.4h2.8v2.8h-2.8zM31.8 94.9h2.8v2.8h-2.8zM26.8 97.4h2.8v2.8h-2.8zM19.3 104.9h2.8v2.8h-2.8zM16.8 112.4h2.8v2.8h-2.8zM14.3 122.4h2.8v2.8h-2.8z"/><path fill="#d2e4f0" d="M61.8 2.4h2.8v2.8h-2.8zM61.8 4.9h2.8v2.8h-2.8zM61.8 9.9h2.8v2.8h-2.8zM61.8 12.4h2.8v2.8h-2.8zM61.8 14.9h2.8v2.8h-2.8zM61.8 17.4h2.8v2.8h-2.8zM61.8 19.9h2.8v2.8h-2.8zM59.3 22.4h2.8v2.8h-2.8zM61.8 22.4h2.8v2.8h-2.8zM56.8 24.9h2.8v2.8h-2.8zM59.3 24.9h2.8v2.8h-2.8zM54.3 27.4h2.8v2.8h-2.8zM46.8 29.9h2.8v2.8h-2.8zM49.3 29.9h2.8v2.8h-2.8zM36.8 32.4h2.8v2.8h-2.8zM39.3 32.4h2.8v2.8h-2.8zM26.8 34.9h2.8v2.8h-2.8zM29.3 34.9h2.8v2.8h-2.8zM19.3 37.4h2.8v2.8h-2.8zM21.8 37.4h2.8v2.8h-2.8zM16.8 42.4h2.8v2.8h-2.8zM14.3 52.4h2.8v2.8h-2.8zM14.3 54.9h2.8v2.8h-2.8zM14.3 57.4h2.8v2.8h-2.8zM14.3 59.9h2.8v2.8h-2.8zM16.8 59.9h2.8v2.8h-2.8zM16.8 62.4h2.8v2.8h-2.8zM-0.7 64.9h2.8v2.8h-2.8zM16.8 64.9h2.8v2.8h-2.8zM-0.7 67.4h2.8v2.8h-2.8zM16.8 67.4h2.8v2.8h-2.8zM-0.7 69.9h2.8v2.8h-2.8zM16.8 69.9h2.8v2.8h-2.8zM-0.7 72.4h2.8v2.8h-2.8zM16.8 72.4h2.8v2.8h-2.8zM19.3 72.4h2.8v2.8h-2.8zM-0.7 74.9h2.8v2.8h-2.8zM19.3 74.9h2.8v2.8h-2.8zM-0.7 77.4h2.8v2.8h-2.8zM19.3 77.4h2.8v2.8h-2.8zM21.8 77.4h2.8v2.8h-2.8zM24.3 79.9h2.8v2.8h-2.8zM26.8 82.4h2.8v2.8h-2.8zM31.8 84.9h2.8v2.8h-2.8zM34.3 87.4h2.8v2.8h-2.8zM29.3 97.4h2.8v2.8h-2.8zM24.3 99.9h2.8v2.8h-2.8zM21.8 102.4h2.8v2.8h-2.8zM19.3 107.4h2.8v2.8h-2.8zM16.8 114.9h2.8v2.8h-2.8zM16.8 117.4h2.8v2.8h-2.8zM14.3 124.9h2.8v2.8h-2.8zM14.3 127.4h2.8v2.8h-2.8zM11.8 134.9h2.8v2.8h-2.8z"/><path fill="#d8eaf0" d="M64.3 2.4h2.8v2.8h-2.8zM64.3 4.9h2.8v2.8h-2.8zM64.3 7.4h2.8v2.8h-2.8zM64.3 9.9h2.8v2.8h-2.8zM64.3 12.4h2.8v2.8h-2.8zM64.3 14.9h2.8v2.8h-2.8zM64.3 17.4h2.8v2.8h-2.8zM64.3 19.9h2.8v2.8h-2.8zM64.3 22.4h2.8v2.8h-2.8zM61.8 24.9h2.8v2.8h-2.8zM56.8 27.4h2.8v2.8h-2.8zM59.3 27.4h2.8v2.8h-2.8zM51.8 29.9h2.8v2.8h-2.8zM54.3 29.9h2.8v2.8h-2.8zM41.8 32.4h2.8v2.8h-2.8zM44.3 32.4h2.8v2.8h-2.8zM46.8 32.4h2.8v2.8h-2.8zM31.8 34.9h2.8v2.8h-2.8zM34.3 34.9h2.8v2.8h-2.8zM36.8 34.9h2.8v2.8h-2.8zM24.3 37.4h2.8v2.8h-2.8zM26.8 37.4h2.8v2.8h-2.8zM19.3 39.9h2.8v2.8h-2.8zM21.8 39.9h2.8v2.8h-2.8zM19.3 42.4h2.8v2.8h-2.8zM16.8 44.9h2.8v2.8h-2.8zM16.8 47.4h2.8v2.8h-2.8zM16.8 49.9h2.8v2.8h-2.8zM16.8 52.4h2.8v2.8h-2.8zM16.8 54.9h2.8v2.8h-2.8zM16.8 57.4h2.8v2.8h-2.8zM19.3 57.4h2.8v2.8h-2.8zM19.3 59.9h2.8v2.8h-2.8zM19.3 62.4h2.8v2.8h-2.8zM19.3 64.9h2.8v2.8h-2.8zM19.3 67.4h2.8v2.8h-2.8zM21.8 67.4h2.8v2.8h-2.8zM21.8 69.9h2.8v2.8h-2.8zM21.8 72.4h2.8v2.8h-2.8zM21.8 74.9h2.8v2.8h-2.8zM24.3 77.4h2.8v2.8h-2.8zM26.8 79.9h2.8v2.8h-2.8zM29.3 82.4h2.8v2.8h-2.8zM34.3 84.9h2.8v2.8h-2.8zM36.8 87.4h2.8v2.8h-2.8zM36.8 89.9h2.8v2.8h-2.8zM36.8 92.4h2.8v2.8h-2.8zM34.3 94.9h2.8v2.8h-2.8zM31.8 97.4h2.8v2.8h-2.8zM26.8 99.9h2.8v2.8h-2.8zM21.8 104.9h2.8v2.8h-2.8zM19.3 109.9h2.8v2.8h-2.8zM19.3 112.4h2.8v2.8h-2.8zM16.8 119.9h2.8v2.8h-2.8zM14.3 129.9h2.8v2.8h-2.8zM14.3 132.4h2.8v2.8h-2.8zM11.8 137.4h2.8v2.8h-2.8z"/><path fill="#deeaf0" d="M66.8 2.4h2.8v2.8h-2.8zM66.8 4.9h2.8v2.8h-2.8zM66.8 7.4h2.8v2.8h-2.8zM66.8 9.9h2.8v2.8h-2.8zM66.8 12.4h2.8v2.8h-2.8zM66.8 14.9h2.8v2.8h-2.8zM66.8 17.4h2.8v2.8h-2.8zM69.3 17.4h2.8v2.8h-2.8zM66.8 19.9h2.8v2.8h-2.8zM69.3 19.9h2.8v2.8h-2.8zM66.8 22.4h2.8v2.8h-2.8zM69.3 22.4h2.8v2.8h-2.8zM64.3 24.9h2.8v2.8h-2.8zM66.8 24.9h2.8v2.8h-2.8zM61.8 27.4h2.8v2.8h-2.8zM64.3 27.4h2.8v2.8h-2.8zM56.8 29.9h2.8v2.8h-2.8zM59.3 29.9h2.8v2.8h-2.8zM49.3 32.4h2.8v2.8h-2.8zM51.8 32.4h2.8v2.8h-2.8zM54.3 32.4h2.8v2.8h-2.8zM39.3 34.9h2.8v2.8h-2.8zM41.8 34.9h2.8v2.8h-2.8zM44.3 34.9h2.8v2.8h-2.8zM29.3 37.4h2.8v2.8h-2.8zM31.8 37.4h2.8v2.8h-2.8zM24.3 39.9h2.8v2.8h-2.8zM21.8 42.4h2.8v2.8h-2.8zM19.3 44.9h2.8v2.8h-2.8zM19.3 47.4h2.8v2.8h-2.8zM19.3 49.9h2.8v2.8h-2.8zM19.3 52.4h2.8v2.8h-2.8zM19.3 54.9h2.8v2.8h-2.8zM21.8 54.9h2.8v2.8h-2.8zM21.8 57.4h2.8v2.8h-2.8zM21.8 59.9h2.8v2.8h-2.8zM21.8 62.4h2.8v2.8h-2.8zM21.8 64.9h2.8v2.8h-2.8zM24.3 64.9h2.8v2.8h-2.8zM24.3 67.4h2.8v2.8h-2.8zM24.3 69.9h2.8v2.8h-2.8zM24.3 72.4h2.8v2.8h-2.8zM24.3 74.9h2.8v2.8h-2.8zM26.8 74.9h2.8v2.8h-2.8zM26.8 77.4h2.8v2.8h-2.8zM29.3 79.9h2.8v2.8h-2.8zM31.8 82.4h2.8v2.8h-2.8zM36.8 84.9h2.8v2.8h-2.8zM39.3 89.9h2.8v2.8h-2.8zM39.3 92.4h2.8v2.8h-2.8zM36.8 94.9h2.8v2.8h-2.8zM34.3 97.4h2.8v2.8h-2.8zM29.3 99.9h2.8v2.8h-2.8zM24.3 102.4h2.8v2.8h-2.8zM21.8 107.4h2.8v2.8h-2.8zM21.8 109.9h2.8v2.8h-2.8zM19.3 114.9h2.8v2.8h-2.8zM19.3 117.4h2.8v2.8h-2.8zM16.8 122.4h2.8v2.8h-2.8zM16.8 124.9h2.8v2.8h-2.8zM14.3 134.9h2.8v2.8h-2.8z"/><path fill="#e4f0f6" d="M69.3 2.4h2.8v2.8h-2.8zM69.3 4.9h2.8v2.8h-2.8zM69.3 7.4h2.8v2.8h-2.8zM69.3 9.9h2.8v2.8h-2.8zM69.3 12.4h2.8v2.8h-2.8zM71.8 14.9h2.8v2.8h-2.8zM71.8 17.4h2.8v2.8h-2.8zM71.8 19.9h2.8v2.8h-2.8zM71.8 22.4h2.8v2.8h-2.8zM69.3 24.9h2.8v2.8h-2.8zM71.8 24.9h2.8v2.8h-2.8zM66.8 27.4h2.8v2.8h-2.8zM69.3 27.4h2.8v2.8h-2.8zM64.3 29.9h2.8v2.8h-2.8zM66.8 29.9h2.8v2.8h-2.8zM56.8 32.4h2.8v2.8h-2.8zM59.3 32.4h2.8v2.8h-2.8zM46.8 34.9h2.8v2.8h-2.8zM49.3 34.9h2.8v2.8h-2.8zM51.8 34.9h2.8v2.8h-2.8zM36.8 37.4h2.8v2.8h-2.8zM39.3 37.4h2.8v2.8h-2.8zM41.8 37.4h2.8v2.8h-2.8zM29.3 39.9h2.8v2.8h-2.8zM31.8 39.9h2.8v2.8h-2.8zM24.3 42.4h2.8v2.8h-2.8zM26.8 42.4h2.8v2.8h-2.8zM24.3 44.9h2.8v2.8h-2.8zM21.8 47.4h2.8v2.8h-2.8zM24.3 47.4h2.8v2.8h-2.8zM21.8 49.9h2.8v2.8h-2.8zM24.3 49.9h2.8v2.8h-2.8zM24.3 52.4h2.8v2.8h-2.8zM24.3 54.9h2.8v2.8h-2.8zM24.3 57.4h2.8v2.8h-2.8zM24.3 59.9h2.8v2.8h-2.8zM26.8 59.9h2.8v2.8h-2.8zM26.8 62.4h2.8v2.8h-2.8zM26.8 64.9h2.8v2.8h-2.8zM26.8 67.4h2.8v2.8h-2.8zM26.8 69.9h2.8v2.8h-2.8zM29.3 69.9h2.8v2.8h-2.8zM29.3 72.4h2.8v2.8h-2.8zM29.3 74.9h2.8v2.8h-2.8zM29.3 77.4h2.8v2.8h-2.8zM31.8 77.4h2.8v2.8h-2.8zM31.8 79.9h2.8v2.8h-2.8zM36.8 82.4h2.8v2.8h-2.8zM39.3 84.9h2.8v2.8h-2.8zM41.8 89.9h2.8v2.8h-2.8zM41.8 92.4h2.8v2.8h-2.8zM39.3 94.9h2.8v2.8h-2.8zM36.8 97.4h2.8v2.8h-2.8zM31.8 99.9h2.8v2.8h-2.8zM24.3 107.4h2.8v2.8h-2.8zM21.8 112.4h2.8v2.8h-2.8zM21.8 114.9h2.8v2.8h-2.8zM19.3 119.9h2.8v2.8h-2.8zM19.3 122.4h2.8v2.8h-2.8zM16.8 129.9h2.8v2.8h-2.8zM16.8 132.4h2.8v2.8h-2.8zM14.3 137.4h2.8v2.8h-2.8z"/><path fill="#eaf0f6" d="M71.8 2.4h2.8v2.8h-2.8zM71.8 4.9h2.8v2.8h-2.8zM71.8 7.4h2.8v2.8h-2.8zM71.8 9.9h2.8v2.8h-2.8zM71.8 12.4h2.8v2.8h-2.8zM74.3 14.9h2.8v2.8h-2.8zM74.3 17.4h2.8v2.8h-2.8zM76.8 17.4h2.8v2.8h-2.8zM74.3 19.9h2.8v2.8h-2.8zM76.8 19.9h2.8v2.8h-2.8zM74.3 22.4h2.8v2.8h-2.8zM76.8 22.4h2.8v2.8h-2.8zM74.3 24.9h2.8v2.8h-2.8zM76.8 24.9h2.8v2.8h-2.8zM71.8 27.4h2.8v2.8h-2.8zM74.3 27.4h2.8v2.8h-2.8zM69.3 29.9h2.8v2.8h-2.8zM71.8 29.9h2.8v2.8h-2.8zM61.8 32.4h2.8v2.8h-2.8zM64.3 32.4h2.8v2.8h-2.8zM66.8 32.4h2.8v2.8h-2.8zM69.3 32.4h2.8v2.8h-2.8zM54.3 34.9h2.8v2.8h-2.8zM56.8 34.9h2.8v2.8h-2.8zM59.3 34.9h2.8v2.8h-2.8zM61.8 34.9h2.8v2.8h-2.8zM44.3 37.4h2.8v2.8h-2.8zM46.8 37.4h2.8v2.8h-2.8zM49.3 37.4h2.8v2.8h-2.8zM51.8 37.4h2.8v2.8h-2.8zM54.3 37.4h2.8v2.8h-2.8zM34.3 39.9h2.8v2.8h-2.8zM36.8 39.9h2.8v2.8h-2.8zM39.3 39.9h2.8v2.8h-2.8zM41.8 39.9h2.8v2.8h-2.8zM44.3 39.9h2.8v2.8h-2.8zM29.3 42.4h2.8v2.8h-2.8zM31.8 42.4h2.8v2.8h-2.8zM34.3 42.4h2.8v2.8h-2.8zM26.8 44.9h2.8v2.8h-2.8zM29.3 44.9h2.8v2.8h-2.8zM31.8 44.9h2.8v2.8h-2.8zM26.8 47.4h2.8v2.8h-2.8zM29.3 47.4h2.8v2.8h-2.8zM26.8 49.9h2.8v2.8h-2.8zM29.3 49.9h2.8v2.8h-2.8zM26.8 52.4h2.8v2.8h-2.8zM29.3 52.4h2.8v2.8h-2.8zM26.8 54.9h2.8v2.8h-2.8zM29.3 54.9h2.8v2.8h-2.8zM26.8 57.4h2.8v2.8h-2.8zM29.3 57.4h2.8v2.8h-2.8zM29.3 59.9h2.8v2.8h-2.8zM29.3 62.4h2.8v2.8h-2.8zM31.8 62.4h2.8v2.8h-2.8zM29.3 64.9h2.8v2.8h-2.8zM31.8 64.9h2.8v2.8h-2.8zM29.3 67.4h2.8v2.8h-2.8zM31.8 67.4h2.8v2.8h-2.8zM31.8 69.9h2.8v2.8h-2.8zM31.8 72.4h2.8v2.8h-2.8zM31.8 74.9h2.8v2.8h-2.8zM34.3 74.9h2.8v2.8h-2.8zM34.3 77.4h2.8v2.8h-2.8zM34.3 79.9h2.8v2.8h-2.8zM36.8 79.9h2.8v2.8h-2.8zM39.3 82.4h2.8v2.8h-2.8zM41.8 84.9h2.8v2.8h-2.8zM41.8 87.4h2.8v2.8h-2.8zM44.3 89.9h2.8v2.8h-2.8zM44.3 92.4h2.8v2.8h-2.8zM41.8 94.9h2.8v2.8h-2.8zM39.3 97.4h2.8v2.8h-2.8zM34.3 99.9h2.8v2.8h-2.8zM36.8 99.9h2.8v2.8h-2.8zM29.3 102.4h2.8v2.8h-2.8zM31.8 102.4h2.8v2.8h-2.8zM26.8 104.9h2.8v2.8h-2.8zM29.3 104.9h2.8v2.8h-2.8zM26.8 107.4h2.8v2.8h-2.8zM24.3 109.9h2.8v2.8h-2.8zM24.3 112.4h2.8v2.8h-2.8zM24.3 114.9h2.8v2.8h-2.8zM21.8 117.4h2.8v2.8h-2.8zM21.8 119.9h2.8v2.8h-2.8zM19.3 124.9h2.8v2.8h-2.8zM19.3 127.4h2.8v2.8h-2.8zM19.3 129.9h2.8v2.8h-2.8zM16.8 134.9h2.8v2.8h-2.8zM16.8 137.4h2.8v2.8h-2.8z"/><path fill="#f0f6f6" d="M74.3 2.4h2.8v2.8h-2.8zM74.3 4.9h2.8v2.8h-2.8zM74.3 7.4h2.8v2.8h-2.8zM74.3 9.9h2.8v2.8h-2.8zM76.8 12.4h2.8v2.8h-2.8zM76.8 14.9h2.8v2.8h-2.8zM79.3 17.4h2.8v2.8h-2.8zM81.8 19.9h2.8v2.8h-2.8zM81.8 22.4h2.8v2.8h-2.8zM81.8 24.9h2.8v2.8h-2.8zM79.3 27.4h2.8v2.8h-2.8zM81.8 27.4h2.8v2.8h-2.8zM76.8 29.9h2.8v2.8h-2.8zM79.3 29.9h2.8v2.8h-2.8zM71.8 32.4h2.8v2.8h-2.8zM74.3 32.4h2.8v2.8h-2.8zM76.8 32.4h2.8v2.8h-2.8zM66.8 34.9h2.8v2.8h-2.8zM69.3 34.9h2.8v2.8h-2.8zM71.8 34.9h2.8v2.8h-2.8zM59.3 37.4h2.8v2.8h-2.8zM61.8 37.4h2.8v2.8h-2.8zM64.3 37.4h2.8v2.8h-2.8zM66.8 37.4h2.8v2.8h-2.8zM49.3 39.9h2.8v2.8h-2.8zM51.8 39.9h2.8v2.8h-2.8zM54.3 39.9h2.8v2.8h-2.8zM56.8 39.9h2.8v2.8h-2.8zM59.3 39.9h2.8v2.8h-2.8zM39.3 42.4h2.8v2.8h-2.8zM41.8 42.4h2.8v2.8h-2.8zM44.3 42.4h2.8v2.8h-2.8zM46.8 42.4h2.8v2.8h-2.8zM49.3 42.4h2.8v2.8h-2.8zM34.3 44.9h2.8v2.8h-2.8zM36.8 44.9h2.8v2.8h-2.8zM39.3 44.9h2.8v2.8h-2.8zM41.8 44.9h2.8v2.8h-2.8zM34.3 47.4h2.8v2.8h-2.8zM36.8 47.4h2.8v2.8h-2.8zM31.8 49.9h2.8v2.8h-2.8zM34.3 49.9h2.8v2.8h-2.8zM36.8 49.9h2.8v2.8h-2.8zM31.8 52.4h2.8v2.8h-2.8zM34.3 52.4h2.8v2.8h-2.8zM34.3 54.9h2.8v2.8h-2.8zM34.3 57.4h2.8v2.8h-2.8zM36.8 57.4h2.8v2.8h-2.8zM34.3 59.9h2.8v2.8h-2.8zM36.8 59.9h2.8v2.8h-2.8zM34.3 62.4h2.8v2.8h-2.8zM36.8 62.4h2.8v2.8h-2.8zM34.3 64.9h2.8v2.8h-2.8zM36.8 64.9h2.8v2.8h-2.8zM36.8 67.4h2.8v2.8h-2.8zM36.8 69.9h2.8v2.8h-2.8zM36.8 72.4h2.8v2.8h-2.8zM36.8 74.9h2.8v2.8h-2.8zM39.3 74.9h2.8v2.8h-2.8zM36.8 77.4h2.8v2.8h-2.8zM39.3 77.4h2.8v2.8h-2.8zM39.3 79.9h2.8v2.8h-2.8zM41.8 79.9h2.8v2.8h-2.8zM41.8 82.4h2.8v2.8h-2.8zM46.8 92.4h2.8v2.8h-2.8zM44.3 94.9h2.8v2.8h-2.8zM46.8 94.9h2.8v2.8h-2.8zM44.3 97.4h2.8v2.8h-2.8zM39.3 99.9h2.8v2.8h-2.8zM41.8 99.9h2.8v2.8h-2.8zM34.3 102.4h2.8v2.8h-2.8zM36.8 102.4h2.8v2.8h-2.8zM31.8 104.9h2.8v2.8h-2.8zM34.3 104.9h2.8v2.8h-2.8zM29.3 107.4h2.8v2.8h-2.8zM31.8 107.4h2.8v2.8h-2.8zM29.3 109.9h2.8v2.8h-2.8zM26.8 112.4h2.8v2.8h-2.8zM29.3 112.4h2.8v2.8h-2.8zM26.8 114.9h2.8v2.8h-2.8zM26.8 117.4h2.8v2.8h-2.8zM24.3 119.9h2.8v2.8h-2.8zM24.3 122.4h2.8v2.8h-2.8zM21.8 124.9h2.8v2.8h-2.8zM21.8 127.4h2.8v2.8h-2.8zM21.8 129.9h2.8v2.8h-2.8zM21.8 132.4h2.8v2.8h-2.8zM19.3 134.9h2.8v2.8h-2.8zM19.3 137.4h2.8v2.8h-2.8z"/><path fill="#f6f6f6" d="M76.8 2.4h2.8v2.8h-2.8zM79.3 2.4h2.8v2.8h-2.8zM76.8 4.9h2.8v2.8h-2.8zM79.3 4.9h2.8v2.8h-2.8zM76.8 7.4h2.8v2.8h-2.8zM76.8 9.9h2.8v2.8h-2.8zM79.3 9.9h2.8v2.8h-2.8zM79.3 12.4h2.8v2.8h-2.8zM79.3 14.9h2.8v2.8h-2.8zM81.8 14.9h2.8v2.8h-2.8zM81.8 17.4h2.8v2.8h-2.8zM84.3 17.4h2.8v2.8h-2.8zM84.3 19.9h2.8v2.8h-2.8zM86.8 19.9h2.8v2.8h-2.8zM84.3 22.4h2.8v2.8h-2.8zM86.8 22.4h2.8v2.8h-2.8zM89.3 22.4h2.8v2.8h-2.8zM84.3 24.9h2.8v2.8h-2.8zM86.8 24.9h2.8v2.8h-2.8zM89.3 24.9h2.8v2.8h-2.8zM84.3 27.4h2.8v2.8h-2.8zM86.8 27.4h2.8v2.8h-2.8zM89.3 27.4h2.8v2.8h-2.8zM81.8 29.9h2.8v2.8h-2.8zM84.3 29.9h2.8v2.8h-2.8zM86.8 29.9h2.8v2.8h-2.8zM79.3 32.4h2.8v2.8h-2.8zM81.8 32.4h2.8v2.8h-2.8zM84.3 32.4h2.8v2.8h-2.8zM74.3 34.9h2.8v2.8h-2.8zM76.8 34.9h2.8v2.8h-2.8zM79.3 34.9h2.8v2.8h-2.8zM81.8 34.9h2.8v2.8h-2.8zM69.3 37.4h2.8v2.8h-2.8zM71.8 37.4h2.8v2.8h-2.8zM74.3 37.4h2.8v2.8h-2.8zM76.8 37.4h2.8v2.8h-2.8zM79.3 37.4h2.8v2.8h-2.8zM61.8 39.9h2.8v2.8h-2.8zM64.3 39.9h2.8v2.8h-2.8zM66.8 39.9h2.8v2.8h-2.8zM69.3 39.9h2.8v2.8h-2.8zM71.8 39.9h2.8v2.8h-2.8zM74.3 39.9h2.8v2.8h-2.8zM76.8 39.9h2.8v2.8h-2.8zM51.8 42.4h2.8v2.8h-2.8zM54.3 42.4h2.8v2.8h-2.8zM56.8 42.4h2.8v2.8h-2.8zM59.3 42.4h2.8v2.8h-2.8zM61.8 42.4h2.8v2.8h-2.8zM64.3 42.4h2.8v2.8h-2.8zM66.8 42.4h2.8v2.8h-2.8zM69.3 42.4h2.8v2.8h-2.8zM71.8 42.4h2.8v2.8h-2.8zM44.3 44.9h2.8v2.8h-2.8zM46.8 44.9h2.8v2.8h-2.8zM49.3 44.9h2.8v2.8h-2.8zM51.8 44.9h2.8v2.8h-2.8zM54.3 44.9h2.8v2.8h-2.8zM56.8 44.9h2.8v2.8h-2.8zM59.3 44.9h2.8v2.8h-2.8zM61.8 44.9h2.8v2.8h-2.8zM64.3 44.9h2.8v2.8h-2.8zM66.8 44.9h2.8v2.8h-2.8zM69.3 44.9h2.8v2.8h-2.8zM39.3 47.4h2.8v2.8h-2.8zM41.8 47.4h2.8v2.8h-2.8zM44.3 47.4h2.8v2.8h-2.8zM46.8 47.4h2.8v2.8h-2.8zM49.3 47.4h2.8v2.8h-2.8zM51.8 47.4h2.8v2.8h-2.8zM54.3 47.4h2.8v2.8h-2.8zM56.8 47.4h2.8v2.8h-2.8zM59.3 47.4h2.8v2.8h-2.8zM61.8 47.4h2.8v2.8h-2.8zM64.3 47.4h2.8v2.8h-2.8zM66.8 47.4h2.8v2.8h-2.8zM39.3 49.9h2.8v2.8h-2.8zM41.8 49.9h2.8v2.8h-2.8zM44.3 49.9h2.8v2.8h-2.8zM46.8 49.9h2.8v2.8h-2.8zM49.3 49.9h2.8v2.8h-2.8zM51.8 49.9h2.8v2.8h-2.8zM54.3 49.9h2.8v2.8h-2.8zM56.8 49.9h2.8v2.8h-2.8zM59.3 49.9h2.8v2.8h-2.8zM61.8 49.9h2.8v2.8h-2.8zM64.3 49.9h2.8v2.8h-2.8zM36.8 52.4h2.8v2.8h-2.8zM39.3 52.4h2.8v2.8h-2.8zM41.8 52.4h2.8v2.8h-2.8zM44.3 52.4h2.8v2.8h-2.8zM46.8 52.4h2.8v2.8h-2.8zM49.3 52.4h2.8v2.8h-2.8zM51.8 52.4h2.8v2.8h-2.8zM54.3 52.4h2.8v2.8h-2.8zM56.8 52.4h2.8v2.8h-2.8zM59.3 52.4h2.8v2.8h-2.8zM61.8 52.4h2.8v2.8h-2.8zM36.8 54.9h2.8v2.8h-2.8zM39.3 54.9h2.8v2.8h-2.8zM41.8 54.9h2.8v2.8h-2.8zM44.3 54.9h2.8v2.8h-2.8zM46.8 54.9h2.8v2.8h-2.8zM49.3 54.9h2.8v2.8h-2.8zM51.8 54.9h2.8v2.8h-2.8zM54.3 54.9h2.8v2.8h-2.8zM56.8 54.9h2.8v2.8h-2.8zM59.3 54.9h2.8v2.8h-2.8zM61.8 54.9h2.8v2.8h-2.8zM39.3 57.4h2.8v2.8h-2.8zM41.8 57.4h2.8v2.8h-2.8zM44.3 57.4h2.8v2.8h-2.8zM46.8 57.4h2.8v2.8h-2.8zM49.3 57.4h2.8v2.8h-2.8zM51.8 57.4h2.8v2.8h-2.8zM54.3 57.4h2.8v2.8h-2.8zM56.8 57.4h2.8v2.8h-2.8zM59.3 57.4h2.8v2.8h-2.8zM39.3 59.9h2.8v2.8h-2.8zM41.8 59.9h2.8v2.8h-2.8zM44.3 59.9h2.8v2.8h-2.8zM46.8 59.9h2.8v2.8h-2.8zM49.3 59.9h2.8v2.8h-2.8zM51.8 59.9h2.8v2.8h-2.8zM54.3 59.9h2.8v2.8h-2.8zM56.8 59.9h2.8v2.8h-2.8zM39.3 62.4h2.8v2.8h-2.8zM41.8 62.4h2.8v2.8h-2.8zM44.3 62.4h2.8v2.8h-2.8zM46.8 62.4h2.8v2.8h-2.8zM49.3 62.4h2.8v2.8h-2.8zM39.3 64.9h2.8v2.8h-2.8zM41.8 64.9h2.8v2.8h-2.8zM44.3 64.9h2.8v2.8h-2.8zM46.8 64.9h2.8v2.8h-2.8zM39.3 67.4h2.8v2.8h-2.8zM41.8 67.4h2.8v2.8h-2.8zM44.3 67.4h2.8v2.8h-2.8zM39.3 69.9h2.8v2.8h-2.8zM41.8 69.9h2.8v2.8h-2.8zM44.3 69.9h2.8v2.8h-2.8zM39.3 72.4h2.8v2.8h-2.8zM41.8 72.4h2.8v2.8h-2.8zM41.8 74.9h2.8v2.8h-2.8zM41.8 77.4h2.8v2.8h-2.8zM49.3 94.9h2.8v2.8h-2.8zM46.8 97.4h2.8v2.8h-2.8zM49.3 97.4h2.8v2.8h-2.8zM51.8 97.4h2.8v2.8h-2.8zM54.3 97.4h2.8v2.8h-2.8zM44.3 99.9h2.8v2.8h-2.8zM46.8 99.9h2.8v2.8h-2.8zM49.3 99.9h2.8v2.8h-2.8zM51.8 99.9h2.8v2.8h-2.8zM54.3 99.9h2.8v2.8h-2.8zM56.8 99.9h2.8v2.8h-2.8zM39.3 102.4h2.8v2.8h-2.8zM41.8 102.4h2.8v2.8h-2.8zM44.3 102.4h2.8v2.8h-2.8zM46.8 102.4h2.8v2.8h-2.8zM49.3 102.4h2.8v2.8h-2.8zM51.8 102.4h2.8v2.8h-2.8zM54.3 102.4h2.8v2.8h-2.8zM56.8 102.4h2.8v2.8h-2.8zM36.8 104.9h2.8v2.8h-2.8zM39.3 104.9h2.8v2.8h-2.8zM41.8 104.9h2.8v2.8h-2.8zM44.3 104.9h2.8v2.8h-2.8zM46.8 104.9h2.8v2.8h-2.8zM49.3 104.9h2.8v2.8h-2.8zM51.8 104.9h2.8v2.8h-2.8zM54.3 104.9h2.8v2.8h-2.8zM34.3 107.4h2.8v2.8h-2.8zM36.8 107.4h2.8v2.8h-2.8zM39.3 107.4h2.8v2.8h-2.8zM41.8 107.4h2.8v2.8h-2.8zM44.3 107.4h2.8v2.8h-2.8zM46.8 107.4h2.8v2.8h-2.8zM49.3 107.4h2.8v2.8h-2.8zM51.8 107.4h2.8v2.8h-2.8zM54.3 107.4h2.8v2.8h-2.8zM31.8 109.9h2.8v2.8h-2.8zM34.3 109.9h2.8v2.8h-2.8zM36.8 109.9h2.8v2.8h-2.8zM39.3 109.9h2.8v2.8h-2.8zM41.8 109.9h2.8v2.8h-2.8zM44.3 109.9h2.8v2.8h-2.8zM46.8 109.9h2.8v2.8h-2.8zM49.3 109.9h2.8v2.8h-2.8zM51.8 109.9h2.8v2.8h-2.8zM54.3 109.9h2.8v2.8h-2.8zM31.8 112.4h2.8v2.8h-2.8zM34.3 112.4h2.8v2.8h-2.8zM36.8 112.4h2.8v2.8h-2.8zM39.3 112.4h2.8v2.8h-2.8zM41.8 112.4h2.8v2.8h-2.8zM44.3 112.4h2.8v2.8h-2.8zM46.8 112.4h2.8v2.8h-2.8zM49.3 112.4h2.8v2.8h-2.8zM51.8 112.4h2.8v2.8h-2.8zM54.3 112.4h2.8v2.8h-2.8zM29.3 114.9h2.8v2.8h-2.8zM31.8 114.9h2.8v2.8h-2.8zM34.3 114.9h2.8v2.8h-2.8zM36.8 114.9h2.8v2.8h-2.8zM39.3 114.9h2.8v2.8h-2.8zM41.8 114.9h2.8v2.8h-2.8zM44.3 114.9h2.8v2.8h-2.8zM46.8 114.9h2.8v2.8h-2.8zM49.3 114.9h2.8v2.8h-2.8zM51.8 114.9h2.8v2.8h-2.8zM54.3 114.9h2.8v2.8h-2.8zM29.3 117.4h2.8v2.8h-2.8zM31.8 117.4h2.8v2.8h-2.8zM34.3 117.4h2.8v2.8h-2.8zM36.8 117.4h2.8v2.8h-2.8zM39.3 117.4h2.8v2.8h-2.8zM41.8 117.4h2.8v2.8h-2.8zM44.3 117.4h2.8v2.8h-2.8zM46.8 117.4h2.8v2.8h-2.8zM49.3 117.4h2.8v2.8h-2.8zM51.8 117.4h2.8v2.8h-2.8zM54.3 117.4h2.8v2.8h-2.8zM26.8 119.9h2.8v2.8h-2.8zM29.3 119.9h2.8v2.8h-2.8zM31.8 119.9h2.8v2.8h-2.8zM34.3 119.9h2.8v2.8h-2.8zM36.8 119.9h2.8v2.8h-2.8zM39.3 119.9h2.8v2.8h-2.8zM41.8 119.9h2.8v2.8h-2.8zM44.3 119.9h2.8v2.8h-2.8zM46.8 119.9h2.8v2.8h-2.8zM49.3 119.9h2.8v2.8h-2.8zM51.8 119.9h2.8v2.8h-2.8zM54.3 119.9h2.8v2.8h-2.8zM26.8 122.4h2.8v2.8h-2.8zM29.3 122.4h2.8v2.8h-2.8zM31.8 122.4h2.8v2.8h-2.8zM34.3 122.4h2.8v2.8h-2.8zM36.8 122.4h2.8v2.8h-2.8zM39.3 122.4h2.8v2.8h-2.8zM41.8 122.4h2.8v2.8h-2.8zM44.3 122.4h2.8v2.8h-2.8zM46.8 122.4h2.8v2.8h-2.8zM49.3 122.4h2.8v2.8h-2.8zM51.8 122.4h2.8v2.8h-2.8zM54.3 122.4h2.8v2.8h-2.8zM24.3 124.9h2.8v2.8h-2.8zM26.8 124.9h2.8v2.8h-2.8zM29.3 124.9h2.8v2.8h-2.8zM31.8 124.9h2.8v2.8h-2.8zM34.3 124.9h2.8v2.8h-2.8zM36.8 124.9h2.8v2.8h-2.8zM39.3 124.9h2.8v2.8h-2.8zM41.8 124.9h2.8v2.8h-2.8zM44.3 124.9h2.8v2.8h-2.8zM46.8 124.9h2.8v2.8h-2.8zM49.3 124.9h2.8v2.8h-2.8zM51.8 124.9h2.8v2.8h-2.8zM54.3 124.9h2.8v2.8h-2.8zM24.3 127.4h2.8v2.8h-2.8zM26.8 127.4h2.8v2.8h-2.8zM29.3 127.4h2.8v2.8h-2.8zM31.8 127.4h2.8v2.8h-2.8zM34.3 127.4h2.8v2.8h-2.8zM36.8 127.4h2.8v2.8h-2.8zM39.3 127.4h2.8v2.8h-2.8zM41.8 127.4h2.8v2.8h-2.8zM44.3 127.4h2.8v2.8h-2.8zM46.8 127.4h2.8v2.8h-2.8zM49.3 127.4h2.8v2.8h-2.8zM51.8 127.4h2.8v2.8h-2.8zM54.3 127.4h2.8v2.8h-2.8zM24.3 129.9h2.8v2.8h-2.8zM26.8 129.9h2.8v2.8h-2.8zM29.3 129.9h2.8v2.8h-2.8zM31.8 129.9h2.8v2.8h-2.8zM34.3 129.9h2.8v2.8h-2.8zM36.8 129.9h2.8v2.8h-2.8zM39.3 129.9h2.8v2.8h-2.8zM41.8 129.9h2.8v2.8h-2.8zM44.3 129.9h2.8v2.8h-2.8zM46.8 129.9h2.8v2.8h-2.8zM49.3 129.9h2.8v2.8h-2.8zM51.8 129.9h2.8v2.8h-2.8zM54.3 129.9h2.8v2.8h-2.8zM24.3 132.4h2.8v2.8h-2.8zM26.8 132.4h2.8v2.8h-2.8zM29.3 132.4h2.8v2.8h-2.8zM31.8 132.4h2.8v2.8h-2.8zM34.3 132.4h2.8v2.8h-2.8zM36.8 132.4h2.8v2.8h-2.8zM39.3 132.4h2.8v2.8h-2.8zM41.8 132.4h2.8v2.8h-2.8zM44.3 132.4h2.8v2.8h-2.8zM46.8 132.4h2.8v2.8h-2.8zM49.3 132.4h2.8v2.8h-2.8zM51.8 132.4h2.8v2.8h-2.8zM54.3 132.4h2.8v2.8h-2.8zM56.8 132.4h2.8v2.8h-2.8zM21.8 134.9h2.8v2.8h-2.8zM24.3 134.9h2.8v2.8h-2.8zM26.8 134.9h2.8v2.8h-2.8zM29.3 134.9h2.8v2.8h-2.8zM31.8 134.9h2.8v2.8h-2.8zM34.3 134.9h2.8v2.8h-2.8zM36.8 134.9h2.8v2.8h-2.8zM39.3 134.9h2.8v2.8h-2.8zM41.8 134.9h2.8v2.8h-2.8zM44.3 134.9h2.8v2.8h-2.8zM46.8 134.9h2.8v2.8h-2.8zM49.3 134.9h2.8v2.8h-2.8zM51.8 134.9h2.8v2.8h-2.8zM54.3 134.9h2.8v2.8h-2.8zM56.8 134.9h2.8v2.8h-2.8zM21.8 137.4h2.8v2.8h-2.8zM24.3 137.4h2.8v2.8h-2.8zM26.8 137.4h2.8v2.8h-2.8zM29.3 137.4h2.8v2.8h-2.8zM31.8 137.4h2.8v2.8h-2.8zM34.3 137.4h2.8v2.8h-2.8zM36.8 137.4h2.8v2.8h-2.8zM39.3 137.4h2.8v2.8h-2.8zM41.8 137.4h2.8v2.8h-2.8zM44.3 137.4h2.8v2.8h-2.8zM46.8 137.4h2.8v2.8h-2.8zM49.3 137.4h2.8v2.8h-2.8zM51.8 137.4h2.8v2.8h-2.8zM54.3 137.4h2.8v2.8h-2.8zM56.8 137.4h2.8v2.8h-2.8z"/><path fill="#f6f6f0" d="M81.8 2.4h2.8v2.8h-2.8zM79.3 7.4h2.8v2.8h-2.8zM81.8 12.4h2.8v2.8h-2.8zM84.3 14.9h2.8v2.8h-2.8zM86.8 17.4h2.8v2.8h-2.8zM89.3 19.9h2.8v2.8h-2.8zM91.8 22.4h2.8v2.8h-2.8zM91.8 24.9h2.8v2.8h-2.8zM89.3 29.9h2.8v2.8h-2.8zM86.8 32.4h2.8v2.8h-2.8zM84.3 34.9h2.8v2.8h-2.8zM81.8 37.4h2.8v2.8h-2.8zM79.3 39.9h2.8v2.8h-2.8zM74.3 42.4h2.8v2.8h-2.8zM76.8 42.4h2.8v2.8h-2.8zM71.8 44.9h2.8v2.8h-2.8zM74.3 44.9h2.8v2.8h-2.8zM69.3 47.4h2.8v2.8h-2.8zM71.8 47.4h2.8v2.8h-2.8zM66.8 49.9h2.8v2.8h-2.8zM69.3 49.9h2.8v2.8h-2.8zM71.8 49.9h2.8v2.8h-2.8zM64.3 52.4h2.8v2.8h-2.8zM66.8 52.4h2.8v2.8h-2.8zM69.3 52.4h2.8v2.8h-2.8zM64.3 54.9h2.8v2.8h-2.8zM66.8 54.9h2.8v2.8h-2.8zM69.3 54.9h2.8v2.8h-2.8zM61.8 57.4h2.8v2.8h-2.8zM64.3 57.4h2.8v2.8h-2.8zM66.8 57.4h2.8v2.8h-2.8zM69.3 57.4h2.8v2.8h-2.8zM59.3 99.9h2.8v2.8h-2.8zM61.8 99.9h2.8v2.8h-2.8zM64.3 99.9h2.8v2.8h-2.8zM66.8 99.9h2.8v2.8h-2.8zM59.3 102.4h2.8v2.8h-2.8zM61.8 102.4h2.8v2.8h-2.8zM64.3 102.4h2.8v2.8h-2.8zM66.8 102.4h2.8v2.8h-2.8zM56.8 104.9h2.8v2.8h-2.8zM59.3 104.9h2.8v2.8h-2.8zM61.8 104.9h2.8v2.8h-2.8zM64.3 104.9h2.8v2.8h-2.8zM66.8 104.9h2.8v2.8h-2.8zM56.8 107.4h2.8v2.8h-2.8zM59.3 107.4h2.8v2.8h-2.8zM61.8 107.4h2.8v2.8h-2.8zM64.3 107.4h2.8v2.8h-2.8zM66.8 107.4h2.8v2.8h-2.8zM56.8 109.9h2.8v2.8h-2.8zM59.3 109.9h2.8v2.8h-2.8zM61.8 109.9h2.8v2.8h-2.8zM64.3 109.9h2.8v2.8h-2.8zM66.8 109.9h2.8v2.8h-2.8zM56.8 112.4h2.8v2.8h-2.8zM59.3 112.4h2.8v2.8h-2.8zM61.8 112.4h2.8v2.8h-2.8zM64.3 112.4h2.8v2.8h-2.8zM66.8 112.4h2.8v2.8h-2.8zM56.8 114.9h2.8v2.8h-2.8zM59.3 114.9h2.8v2.8h-2.8zM61.8 114.9h2.8v2.8h-2.8zM64.3 114.9h2.8v2.8h-2.8zM66.8 114.9h2.8v2.8h-2.8zM56.8 117.4h2.8v2.8h-2.8zM59.3 117.4h2.8v2.8h-2.8zM61.8 117.4h2.8v2.8h-2.8zM64.3 117.4h2.8v2.8h-2.8zM66.8 117.4h2.8v2.8h-2.8zM56.8 119.9h2.8v2.8h-2.8zM59.3 119.9h2.8v2.8h-2.8zM61.8 119.9h2.8v2.8h-2.8zM64.3 119.9h2.8v2.8h-2.8zM66.8 119.9h2.8v2.8h-2.8zM56.8 122.4h2.8v2.8h-2.8zM59.3 122.4h2.8v2.8h-2.8zM61.8 122.4h2.8v2.8h-2.8zM64.3 122.4h2.8v2.8h-2.8zM66.8 122.4h2.8v2.8h-2.8zM69.3 122.4h2.8v2.8h-2.8zM56.8 124.9h2.8v2.8h-2.8zM59.3 124.9h2.8v2.8h-2.8zM61.8 124.9h2.8v2.8h-2.8zM64.3 124.9h2.8v2.8h-2.8zM66.8 124.9h2.8v2.8h-2.8zM69.3 124.9h2.8v2.8h-2.8zM56.8 127.4h2.8v2.8h-2.8zM59.3 127.4h2.8v2.8h-2.8zM61.8 127.4h2.8v2.8h-2.8zM64.3 127.4h2.8v2.8h-2.8zM66.8 127.4h2.8v2.8h-2.8zM69.3 127.4h2.8v2.8h-2.8zM56.8 129.9h2.8v2.8h-2.8zM59.3 129.9h2.8v2.8h-2.8zM61.8 129.9h2.8v2.8h-2.8zM64.3 129.9h2.8v2.8h-2.8zM66.8 129.9h2.8v2.8h-2.8zM69.3 129.9h2.8v2.8h-2.8zM59.3 132.4h2.8v2.8h-2.8zM61.8 132.4h2.8v2.8h-2.8zM64.3 132.4h2.8v2.8h-2.8zM66.8 132.4h2.8v2.8h-2.8zM69.3 132.4h2.8v2.8h-2.8zM71.8 132.4h2.8v2.8h-2.8zM59.3 134.9h2.8v2.8h-2.8zM61.8 134.9h2.8v2.8h-2.8zM64.3 134.9h2.8v2.8h-2.8zM66.8 134.9h2.8v2.8h-2.8zM69.3 134.9h2.8v2.8h-2.8zM71.8 134.9h2.8v2.8h-2.8zM59.3 137.4h2.8v2.8h-2.8zM61.8 137.4h2.8v2.8h-2.8zM64.3 137.4h2.8v2.8h-2.8zM66.8 137.4h2.8v2.8h-2.8zM69.3 137.4h2.8v2.8h-2.8zM71.8 137.4h2.8v2.8h-2.8z"/><path fill="#f6f0ea" d="M84.3 2.4h2.8v2.8h-2.8zM86.8 2.4h2.8v2.8h-2.8zM84.3 4.9h2.8v2.8h-2.8zM81.8 7.4h2.8v2.8h-2.8zM84.3 7.4h2.8v2.8h-2.8zM84.3 9.9h2.8v2.8h-2.8zM86.8 12.4h2.8v2.8h-2.8zM89.3 14.9h2.8v2.8h-2.8zM91.8 17.4h2.8v2.8h-2.8zM94.3 19.9h2.8v2.8h-2.8zM94.3 22.4h2.8v2.8h-2.8zM94.3 24.9h2.8v2.8h-2.8zM96.8 24.9h2.8v2.8h-2.8zM94.3 27.4h2.8v2.8h-2.8zM94.3 29.9h2.8v2.8h-2.8zM91.8 32.4h2.8v2.8h-2.8zM94.3 32.4h2.8v2.8h-2.8zM89.3 34.9h2.8v2.8h-2.8zM91.8 34.9h2.8v2.8h-2.8zM86.8 37.4h2.8v2.8h-2.8zM89.3 37.4h2.8v2.8h-2.8zM84.3 39.9h2.8v2.8h-2.8zM86.8 39.9h2.8v2.8h-2.8zM89.3 39.9h2.8v2.8h-2.8zM84.3 42.4h2.8v2.8h-2.8zM86.8 42.4h2.8v2.8h-2.8zM81.8 44.9h2.8v2.8h-2.8zM84.3 44.9h2.8v2.8h-2.8zM79.3 47.4h2.8v2.8h-2.8zM81.8 47.4h2.8v2.8h-2.8zM84.3 47.4h2.8v2.8h-2.8zM79.3 49.9h2.8v2.8h-2.8zM81.8 49.9h2.8v2.8h-2.8zM76.8 52.4h2.8v2.8h-2.8zM79.3 52.4h2.8v2.8h-2.8zM81.8 52.4h2.8v2.8h-2.8zM76.8 54.9h2.8v2.8h-2.8zM79.3 54.9h2.8v2.8h-2.8zM74.3 57.4h2.8v2.8h-2.8zM76.8 57.4h2.8v2.8h-2.8zM79.3 57.4h2.8v2.8h-2.8zM74.3 59.9h2.8v2.8h-2.8zM76.8 59.9h2.8v2.8h-2.8zM76.8 62.4h2.8v2.8h-2.8zM71.8 97.4h2.8v2.8h-2.8zM74.3 97.4h2.8v2.8h-2.8zM71.8 99.9h2.8v2.8h-2.8zM74.3 99.9h2.8v2.8h-2.8zM71.8 102.4h2.8v2.8h-2.8zM74.3 102.4h2.8v2.8h-2.8zM71.8 104.9h2.8v2.8h-2.8zM74.3 104.9h2.8v2.8h-2.8zM71.8 107.4h2.8v2.8h-2.8zM74.3 107.4h2.8v2.8h-2.8zM71.8 109.9h2.8v2.8h-2.8zM74.3 109.9h2.8v2.8h-2.8zM74.3 112.4h2.8v2.8h-2.8zM76.8 112.4h2.8v2.8h-2.8zM74.3 114.9h2.8v2.8h-2.8zM76.8 114.9h2.8v2.8h-2.8zM74.3 117.4h2.8v2.8h-2.8zM76.8 117.4h2.8v2.8h-2.8zM74.3 119.9h2.8v2.8h-2.8zM76.8 119.9h2.8v2.8h-2.8zM74.3 122.4h2.8v2.8h-2.8zM76.8 122.4h2.8v2.8h-2.8zM76.8 124.9h2.8v2.8h-2.8zM79.3 124.9h2.8v2.8h-2.8zM76.8 127.4h2.8v2.8h-2.8zM79.3 127.4h2.8v2.8h-2.8zM76.8 129.9h2.8v2.8h-2.8zM79.3 129.9h2.8v2.8h-2.8zM76.8 132.4h2.8v2.8h-2.8zM79.3 132.4h2.8v2.8h-2.8zM81.8 132.4h2.8v2.8h-2.8zM79.3 134.9h2.8v2.8h-2.8zM81.8 134.9h2.8v2.8h-2.8zM79.3 137.4h2.8v2.8h-2.8zM81.8 137.4h2.8v2.8h-2.8zM84.3 137.4h2.8v2.8h-2.8z"/><path fill="#fceae4" d="M89.3 2.4h2.8v2.8h-2.8zM86.8 4.9h2.8v2.8h-2.8zM86.8 7.4h2.8v2.8h-2.8zM86.8 9.9h2.8v2.8h-2.8zM89.3 12.4h2.8v2.8h-2.8zM91.8 14.9h2.8v2.8h-2.8zM94.3 17.4h2.8v2.8h-2.8zM96.8 19.9h2.8v2.8h-2.8zM99.3 22.4h2.8v2.8h-2.8zM99.3 24.9h2.8v2.8h-2.8zM96.8 29.9h2.8v2.8h-2.8zM96.8 32.4h2.8v2.8h-2.8zM94.3 34.9h2.8v2.8h-2.8zM94.3 37.4h2.8v2.8h-2.8zM91.8 39.9h2.8v2.8h-2.8zM89.3 42.4h2.8v2.8h-2.8zM91.8 42.4h2.8v2.8h-2.8zM89.3 44.9h2.8v2.8h-2.8zM86.8 47.4h2.8v2.8h-2.8zM84.3 49.9h2.8v2.8h-2.8zM86.8 49.9h2.8v2.8h-2.8zM84.3 52.4h2.8v2.8h-2.8zM84.3 54.9h2.8v2.8h-2.8zM81.8 57.4h2.8v2.8h-2.8zM84.3 57.4h2.8v2.8h-2.8zM81.8 59.9h2.8v2.8h-2.8zM81.8 62.4h2.8v2.8h-2.8zM79.3 64.9h2.8v2.8h-2.8zM81.8 64.9h2.8v2.8h-2.8zM76.8 94.9h2.8v2.8h-2.8zM76.8 97.4h2.8v2.8h-2.8zM76.8 99.9h2.8v2.8h-2.8zM76.8 102.4h2.8v2.8h-2.8zM76.8 104.9h2.8v2.8h-2.8zM79.3 107.4h2.8v2.8h-2.8zM79.3 109.9h2.8v2.8h-2.8zM79.3 112.4h2.8v2.8h-2.8zM79.3 114.9h2.8v2.8h-2.8zM79.3 117.4h2.8v2.8h-2.8zM79.3 119.9h2.8v2.8h-2.8zM81.8 122.4h2.8v2.8h-2.8zM81.8 124.9h2.8v2.8h-2.8zM81.8 127.4h2.8v2.8h-2.8zM84.3 129.9h2.8v2.8h-2.8zM84.3 132.4h2.8v2.8h-2.8zM86.8 134.9h2.8v2.8h-2.8zM86.8 137.4h2.8v2.8h-2.8zM89.3 137.4h2.8v2.8h-2.8z"/><path fill="#fceade" d="M91.8 2.4h2.8v2.8h-2.8zM89.3 4.9h2.8v2.8h-2.8zM89.3 7.4h2.8v2.8h-2.8zM89.3 9.9h2.8v2.8h-2.8zM91.8 12.4h2.8v2.8h-2.8zM94.3 14.9h2.8v2.8h-2.8zM96.8 14.9h2.8v2.8h-2.8zM96.8 17.4h2.8v2.8h-2.8zM99.3 19.9h2.8v2.8h-2.8zM99.3 27.4h2.8v2.8h-2.8zM99.3 29.9h2.8v2.8h-2.8zM99.3 32.4h2.8v2.8h-2.8zM96.8 34.9h2.8v2.8h-2.8zM96.8 37.4h2.8v2.8h-2.8zM94.3 39.9h2.8v2.8h-2.8zM96.8 39.9h2.8v2.8h-2.8zM94.3 42.4h2.8v2.8h-2.8zM91.8 44.9h2.8v2.8h-2.8zM94.3 44.9h2.8v2.8h-2.8zM89.3 47.4h2.8v2.8h-2.8zM91.8 47.4h2.8v2.8h-2.8zM89.3 49.9h2.8v2.8h-2.8zM86.8 52.4h2.8v2.8h-2.8zM89.3 52.4h2.8v2.8h-2.8zM86.8 54.9h2.8v2.8h-2.8zM86.8 57.4h2.8v2.8h-2.8zM84.3 59.9h2.8v2.8h-2.8zM86.8 59.9h2.8v2.8h-2.8zM84.3 62.4h2.8v2.8h-2.8zM84.3 64.9h2.8v2.8h-2.8zM81.8 67.4h2.8v2.8h-2.8zM84.3 67.4h2.8v2.8h-2.8zM81.8 69.9h2.8v2.8h-2.8zM79.3 92.4h2.8v2.8h-2.8zM79.3 94.9h2.8v2.8h-2.8zM79.3 97.4h2.8v2.8h-2.8zM79.3 99.9h2.8v2.8h-2.8zM79.3 102.4h2.8v2.8h-2.8zM79.3 104.9h2.8v2.8h-2.8zM81.8 107.4h2.8v2.8h-2.8zM81.8 109.9h2.8v2.8h-2.8zM81.8 112.4h2.8v2.8h-2.8zM81.8 114.9h2.8v2.8h-2.8zM81.8 117.4h2.8v2.8h-2.8zM81.8 119.9h2.8v2.8h-2.8zM84.3 122.4h2.8v2.8h-2.8zM84.3 124.9h2.8v2.8h-2.8zM84.3 127.4h2.8v2.8h-2.8zM86.8 127.4h2.8v2.8h-2.8zM86.8 129.9h2.8v2.8h-2.8zM86.8 132.4h2.8v2.8h-2.8zM89.3 132.4h2.8v2.8h-2.8zM89.3 134.9h2.8v2.8h-2.8zM91.8 137.4h2.8v2.8h-2.8z"/><path fill="#fce4d8" d="M94.3 2.4h2.8v2.8h-2.8zM96.8 2.4h2.8v2.8h-2.8zM91.8 4.9h2.8v2.8h-2.8zM94.3 4.9h2.8v2.8h-2.8zM91.8 7.4h2.8v2.8h-2.8zM94.3 7.4h2.8v2.8h-2.8zM94.3 9.9h2.8v2.8h-2.8zM96.8 12.4h2.8v2.8h-2.8zM99.3 14.9h2.8v2.8h-2.8zM101.8 17.4h2.8v2.8h-2.8zM101.8 19.9h2.8v2.8h-2.8zM101.8 22.4h2.8v2.8h-2.8zM101.8 24.9h2.8v2.8h-2.8zM101.8 27.4h2.8v2.8h-2.8zM101.8 29.9h2.8v2.8h-2.8zM101.8 32.4h2.8v2.8h-2.8zM99.3 34.9h2.8v2.8h-2.8zM99.3 37.4h2.8v2.8h-2.8zM99.3 39.9h2.8v2.8h-2.8zM96.8 42.4h2.8v2.8h-2.8zM96.8 44.9h2.8v2.8h-2.8zM94.3 47.4h2.8v2.8h-2.8zM94.3 49.9h2.8v2.8h-2.8zM91.8 52.4h2.8v2.8h-2.8zM94.3 52.4h2.8v2.8h-2.8zM91.8 54.9h2.8v2.8h-2.8zM89.3 57.4h2.8v2.8h-2.8zM91.8 57.4h2.8v2.8h-2.8zM89.3 59.9h2.8v2.8h-2.8zM86.8 62.4h2.8v2.8h-2.8zM89.3 62.4h2.8v2.8h-2.8zM86.8 64.9h2.8v2.8h-2.8zM86.8 67.4h2.8v2.8h-2.8zM84.3 69.9h2.8v2.8h-2.8zM86.8 69.9h2.8v2.8h-2.8zM84.3 72.4h2.8v2.8h-2.8zM84.3 74.9h2.8v2.8h-2.8zM84.3 77.4h2.8v2.8h-2.8zM84.3 79.9h2.8v2.8h-2.8zM84.3 82.4h2.8v2.8h-2.8zM84.3 84.9h2.8v2.8h-2.8zM81.8 89.9h2.8v2.8h-2.8zM81.8 92.4h2.8v2.8h-2.8zM81.8 94.9h2.8v2.8h-2.8zM81.8 97.4h2.8v2.8h-2.8zM81.8 99.9h2.8v2.8h-2.8zM81.8 102.4h2.8v2.8h-2.8zM84.3 107.4h2.8v2.8h-2.8zM84.3 109.9h2.8v2.8h-2.8zM84.3 112.4h2.8v2.8h-2.8zM84.3 114.9h2.8v2.8h-2.8zM84.3 117.4h2.8v2.8h-2.8zM86.8 119.9h2.8v2.8h-2.8zM86.8 122.4h2.8v2.8h-2.8zM86.8 124.9h2.8v2.8h-2.8zM89.3 127.4h2.8v2.8h-2.8zM89.3 129.9h2.8v2.8h-2.8zM91.8 129.9h2.8v2.8h-2.8zM91.8 132.4h2.8v2.8h-2.8zM94.3 134.9h2.8v2.8h-2.8zM96.8 137.4h2.8v2.8h-2.8zM99.3 137.4h2.8v2.8h-2.8z"/><path fill="#fce4d2" d="M99.3 2.4h2.8v2.8h-2.8zM96.8 4.9h2.8v2.8h-2.8zM96.8 9.9h2.8v2.8h-2.8zM99.3 12.4h2.8v2.8h-2.8zM104.3 19.9h2.8v2.8h-2.8zM104.3 22.4h2.8v2.8h-2.8zM104.3 24.9h2.8v2.8h-2.8zM104.3 27.4h2.8v2.8h-2.8zM101.8 34.9h2.8v2.8h-2.8zM101.8 37.4h2.8v2.8h-2.8zM99.3 42.4h2.8v2.8h-2.8zM99.3 44.9h2.8v2.8h-2.8zM96.8 47.4h2.8v2.8h-2.8zM96.8 49.9h2.8v2.8h-2.8zM94.3 54.9h2.8v2.8h-2.8zM91.8 59.9h2.8v2.8h-2.8zM51.8 62.4h2.8v2.8h-2.8zM74.3 62.4h2.8v2.8h-2.8zM89.3 64.9h2.8v2.8h-2.8zM46.8 67.4h2.8v2.8h-2.8zM79.3 67.4h2.8v2.8h-2.8zM89.3 67.4h2.8v2.8h-2.8zM44.3 72.4h2.8v2.8h-2.8zM81.8 72.4h2.8v2.8h-2.8zM86.8 72.4h2.8v2.8h-2.8zM86.8 74.9h2.8v2.8h-2.8zM86.8 77.4h2.8v2.8h-2.8zM84.3 87.4h2.8v2.8h-2.8zM84.3 89.9h2.8v2.8h-2.8zM84.3 92.4h2.8v2.8h-2.8zM84.3 94.9h2.8v2.8h-2.8zM84.3 97.4h2.8v2.8h-2.8zM84.3 99.9h2.8v2.8h-2.8zM84.3 102.4h2.8v2.8h-2.8zM84.3 104.9h2.8v2.8h-2.8zM86.8 114.9h2.8v2.8h-2.8zM86.8 117.4h2.8v2.8h-2.8zM89.3 122.4h2.8v2.8h-2.8zM89.3 124.9h2.8v2.8h-2.8zM91.8 127.4h2.8v2.8h-2.8zM94.3 132.4h2.8v2.8h-2.8zM96.8 134.9h2.8v2.8h-2.8zM99.3 134.9h2.8v2.8h-2.8zM101.8 137.4h2.8v2.8h-2.8z"/><path fill="#fcded2" d="M101.8 2.4h2.8v2.8h-2.8zM96.8 7.4h2.8v2.8h-2.8zM101.8 14.9h2.8v2.8h-2.8zM104.3 29.9h2.8v2.8h-2.8zM101.8 39.9h2.8v2.8h-2.8zM99.3 47.4h2.8v2.8h-2.8zM96.8 52.4h2.8v2.8h-2.8zM94.3 57.4h2.8v2.8h-2.8zM91.8 62.4h2.8v2.8h-2.8zM49.3 64.9h2.8v2.8h-2.8zM76.8 64.9h2.8v2.8h-2.8zM91.8 64.9h2.8v2.8h-2.8zM89.3 69.9h2.8v2.8h-2.8zM86.8 79.9h2.8v2.8h-2.8zM86.8 82.4h2.8v2.8h-2.8zM44.3 84.9h2.8v2.8h-2.8zM81.8 84.9h2.8v2.8h-2.8zM86.8 84.9h2.8v2.8h-2.8zM46.8 89.9h2.8v2.8h-2.8zM79.3 89.9h2.8v2.8h-2.8zM86.8 112.4h2.8v2.8h-2.8zM94.3 129.9h2.8v2.8h-2.8zM96.8 132.4h2.8v2.8h-2.8z"/><path fill="#fcdecc" d="M104.3 2.4h2.8v2.8h-2.8zM99.3 4.9h2.8v2.8h-2.8zM101.8 4.9h2.8v2.8h-2.8zM99.3 7.4h2.8v2.8h-2.8zM99.3 9.9h2.8v2.8h-2.8zM101.8 12.4h2.8v2.8h-2.8zM104.3 14.9h2.8v2.8h-2.8zM104.3 17.4h2.8v2.8h-2.8zM106.8 19.9h2.8v2.8h-2.8zM106.8 22.4h2.8v2.8h-2.8zM106.8 24.9h2.8v2.8h-2.8zM106.8 27.4h2.8v2.8h-2.8zM104.3 32.4h2.8v2.8h-2.8zM104.3 34.9h2.8v2.8h-2.8zM104.3 37.4h2.8v2.8h-2.8zM101.8 42.4h2.8v2.8h-2.8zM101.8 44.9h2.8v2.8h-2.8zM101.8 47.4h2.8v2.8h-2.8zM99.3 49.9h2.8v2.8h-2.8zM99.3 52.4h2.8v2.8h-2.8zM96.8 54.9h2.8v2.8h-2.8zM99.3 54.9h2.8v2.8h-2.8zM96.8 57.4h2.8v2.8h-2.8zM59.3 59.9h2.8v2.8h-2.8zM61.8 59.9h2.8v2.8h-2.8zM64.3 59.9h2.8v2.8h-2.8zM66.8 59.9h2.8v2.8h-2.8zM94.3 59.9h2.8v2.8h-2.8zM96.8 59.9h2.8v2.8h-2.8zM54.3 62.4h2.8v2.8h-2.8zM71.8 62.4h2.8v2.8h-2.8zM94.3 62.4h2.8v2.8h-2.8zM94.3 64.9h2.8v2.8h-2.8zM91.8 67.4h2.8v2.8h-2.8zM91.8 69.9h2.8v2.8h-2.8zM89.3 72.4h2.8v2.8h-2.8zM91.8 72.4h2.8v2.8h-2.8zM44.3 74.9h2.8v2.8h-2.8zM81.8 74.9h2.8v2.8h-2.8zM89.3 74.9h2.8v2.8h-2.8zM44.3 77.4h2.8v2.8h-2.8zM81.8 77.4h2.8v2.8h-2.8zM89.3 77.4h2.8v2.8h-2.8zM44.3 79.9h2.8v2.8h-2.8zM81.8 79.9h2.8v2.8h-2.8zM89.3 79.9h2.8v2.8h-2.8zM44.3 82.4h2.8v2.8h-2.8zM81.8 82.4h2.8v2.8h-2.8zM89.3 82.4h2.8v2.8h-2.8zM86.8 87.4h2.8v2.8h-2.8zM86.8 89.9h2.8v2.8h-2.8zM49.3 92.4h2.8v2.8h-2.8zM76.8 92.4h2.8v2.8h-2.8zM86.8 92.4h2.8v2.8h-2.8zM51.8 94.9h2.8v2.8h-2.8zM74.3 94.9h2.8v2.8h-2.8zM86.8 94.9h2.8v2.8h-2.8zM56.8 97.4h2.8v2.8h-2.8zM59.3 97.4h2.8v2.8h-2.8zM66.8 97.4h2.8v2.8h-2.8zM69.3 97.4h2.8v2.8h-2.8zM86.8 97.4h2.8v2.8h-2.8zM86.8 99.9h2.8v2.8h-2.8zM86.8 102.4h2.8v2.8h-2.8zM86.8 104.9h2.8v2.8h-2.8zM86.8 107.4h2.8v2.8h-2.8zM86.8 109.9h2.8v2.8h-2.8zM89.3 114.9h2.8v2.8h-2.8zM89.3 117.4h2.8v2.8h-2.8zM89.3 119.9h2.8v2.8h-2.8zM91.8 122.4h2.8v2.8h-2.8zM91.8 124.9h2.8v2.8h-2.8zM94.3 124.9h2.8v2.8h-2.8zM94.3 127.4h2.8v2.8h-2.8zM96.8 129.9h2.8v2.8h-2.8zM99.3 132.4h2.8v2.8h-2.8zM101.8 134.9h2.8v2.8h-2.8zM104.3 137.4h2.8v2.8h-2.8z"/><path fill="#fcdec6" d="M106.8 2.4h2.8v2.8h-2.8zM101.8 7.4h2.8v2.8h-2.8zM101.8 9.9h2.8v2.8h-2.8zM106.8 17.4h2.8v2.8h-2.8zM106.8 29.9h2.8v2.8h-2.8zM104.3 39.9h2.8v2.8h-2.8zM101.8 49.9h2.8v2.8h-2.8zM99.3 57.4h2.8v2.8h-2.8zM96.8 62.4h2.8v2.8h-2.8zM94.3 67.4h2.8v2.8h-2.8zM46.8 69.9h2.8v2.8h-2.8zM79.3 69.9h2.8v2.8h-2.8zM91.8 74.9h2.8v2.8h-2.8zM89.3 84.9h2.8v2.8h-2.8zM89.3 87.4h2.8v2.8h-2.8zM89.3 109.9h2.8v2.8h-2.8zM89.3 112.4h2.8v2.8h-2.8zM91.8 119.9h2.8v2.8h-2.8zM96.8 127.4h2.8v2.8h-2.8zM99.3 129.9h2.8v2.8h-2.8zM101.8 132.4h2.8v2.8h-2.8zM104.3 134.9h2.8v2.8h-2.8z"/><path fill="#fcd8c6" d="M109.3 2.4h2.8v2.8h-2.8zM104.3 4.9h2.8v2.8h-2.8zM104.3 12.4h2.8v2.8h-2.8zM106.8 14.9h2.8v2.8h-2.8zM106.8 32.4h2.8v2.8h-2.8zM104.3 42.4h2.8v2.8h-2.8zM104.3 44.9h2.8v2.8h-2.8zM101.8 52.4h2.8v2.8h-2.8zM99.3 59.9h2.8v2.8h-2.8zM96.8 64.9h2.8v2.8h-2.8zM94.3 69.9h2.8v2.8h-2.8zM94.3 72.4h2.8v2.8h-2.8zM91.8 77.4h2.8v2.8h-2.8zM91.8 79.9h2.8v2.8h-2.8zM46.8 87.4h2.8v2.8h-2.8zM79.3 87.4h2.8v2.8h-2.8zM89.3 89.9h2.8v2.8h-2.8zM89.3 92.4h2.8v2.8h-2.8zM89.3 94.9h2.8v2.8h-2.8zM61.8 97.4h2.8v2.8h-2.8zM64.3 97.4h2.8v2.8h-2.8zM89.3 97.4h2.8v2.8h-2.8zM89.3 99.9h2.8v2.8h-2.8zM89.3 102.4h2.8v2.8h-2.8zM89.3 104.9h2.8v2.8h-2.8zM89.3 107.4h2.8v2.8h-2.8zM91.8 117.4h2.8v2.8h-2.8zM94.3 122.4h2.8v2.8h-2.8zM106.8 137.4h2.8v2.8h-2.8z"/><path fill="#fcd8c0" d="M111.8 2.4h2.8v2.8h-2.8zM106.8 4.9h2.8v2.8h-2.8zM104.3 7.4h2.8v2.8h-2.8zM104.3 9.9h2.8v2.8h-2.8zM109.3 19.9h2.8v2.8h-2.8zM109.3 22.4h2.8v2.8h-2.8zM109.3 24.9h2.8v2.8h-2.8zM106.8 34.9h2.8v2.8h-2.8zM106.8 37.4h2.8v2.8h-2.8zM104.3 47.4h2.8v2.8h-2.8zM101.8 54.9h2.8v2.8h-2.8zM101.8 57.4h2.8v2.8h-2.8zM99.3 62.4h2.8v2.8h-2.8zM51.8 64.9h2.8v2.8h-2.8zM74.3 64.9h2.8v2.8h-2.8zM49.3 67.4h2.8v2.8h-2.8zM76.8 67.4h2.8v2.8h-2.8zM96.8 67.4h2.8v2.8h-2.8zM96.8 69.9h2.8v2.8h-2.8zM94.3 74.9h2.8v2.8h-2.8zM91.8 82.4h2.8v2.8h-2.8zM91.8 84.9h2.8v2.8h-2.8zM54.3 94.9h2.8v2.8h-2.8zM71.8 94.9h2.8v2.8h-2.8zM91.8 114.9h2.8v2.8h-2.8zM94.3 119.9h2.8v2.8h-2.8zM96.8 124.9h2.8v2.8h-2.8zM99.3 127.4h2.8v2.8h-2.8zM101.8 129.9h2.8v2.8h-2.8zM104.3 132.4h2.8v2.8h-2.8z"/><path fill="#fcd2c0" d="M114.3 2.4h2.8v2.8h-2.8zM119.3 2.4h2.8v2.8h-2.8zM106.8 12.4h2.8v2.8h-2.8zM109.3 17.4h2.8v2.8h-2.8zM109.3 27.4h2.8v2.8h-2.8zM106.8 39.9h2.8v2.8h-2.8zM104.3 49.9h2.8v2.8h-2.8zM101.8 59.9h2.8v2.8h-2.8zM56.8 62.4h2.8v2.8h-2.8zM69.3 62.4h2.8v2.8h-2.8zM99.3 64.9h2.8v2.8h-2.8zM94.3 77.4h2.8v2.8h-2.8zM91.8 87.4h2.8v2.8h-2.8zM91.8 112.4h2.8v2.8h-2.8zM96.8 122.4h2.8v2.8h-2.8z"/><path fill="#fcd2ba" d="M116.8 2.4h2.8v2.8h-2.8zM109.3 4.9h2.8v2.8h-2.8zM106.8 7.4h2.8v2.8h-2.8zM106.8 9.9h2.8v2.8h-2.8zM109.3 14.9h2.8v2.8h-2.8zM109.3 29.9h2.8v2.8h-2.8zM109.3 32.4h2.8v2.8h-2.8zM106.8 42.4h2.8v2.8h-2.8zM106.8 44.9h2.8v2.8h-2.8zM104.3 52.4h2.8v2.8h-2.8zM104.3 54.9h2.8v2.8h-2.8zM104.3 57.4h2.8v2.8h-2.8zM101.8 62.4h2.8v2.8h-2.8zM101.8 64.9h2.8v2.8h-2.8zM99.3 67.4h2.8v2.8h-2.8zM99.3 69.9h2.8v2.8h-2.8zM46.8 72.4h2.8v2.8h-2.8zM79.3 72.4h2.8v2.8h-2.8zM96.8 72.4h2.8v2.8h-2.8zM96.8 74.9h2.8v2.8h-2.8zM94.3 79.9h2.8v2.8h-2.8zM94.3 82.4h2.8v2.8h-2.8zM46.8 84.9h2.8v2.8h-2.8zM79.3 84.9h2.8v2.8h-2.8zM49.3 89.9h2.8v2.8h-2.8zM76.8 89.9h2.8v2.8h-2.8zM91.8 89.9h2.8v2.8h-2.8zM51.8 92.4h2.8v2.8h-2.8zM74.3 92.4h2.8v2.8h-2.8zM91.8 92.4h2.8v2.8h-2.8zM91.8 94.9h2.8v2.8h-2.8zM91.8 97.4h2.8v2.8h-2.8zM91.8 99.9h2.8v2.8h-2.8zM91.8 102.4h2.8v2.8h-2.8zM91.8 104.9h2.8v2.8h-2.8zM91.8 107.4h2.8v2.8h-2.8zM91.8 109.9h2.8v2.8h-2.8zM94.3 114.9h2.8v2.8h-2.8zM94.3 117.4h2.8v2.8h-2.8zM96.8 119.9h2.8v2.8h-2.8zM99.3 124.9h2.8v2.8h-2.8zM101.8 127.4h2.8v2.8h-2.8zM106.8 134.9h2.8v2.8h-2.8z"/><path fill="#063666" d="M4.3 4.9h2.8v2.8h-2.8zM-0.7 9.9h2.8v2.8h-2.8zM1.8 9.9h2.8v2.8h-2.8z"/><path fill="#c6deea" d="M56.8 4.9h2.8v2.8h-2.8zM56.8 7.4h2.8v2.8h-2.8zM56.8 9.9h2.8v2.8h-2.8zM56.8 19.9h2.8v2.8h-2.8zM39.3 29.9h2.8v2.8h-2.8zM29.3 32.4h2.8v2.8h-2.8zM16.8 37.4h2.8v2.8h-2.8zM11.8 52.4h2.8v2.8h-2.8zM11.8 54.9h2.8v2.8h-2.8zM-0.7 57.4h2.8v2.8h-2.8zM11.8 57.4h2.8v2.8h-2.8zM1.8 62.4h2.8v2.8h-2.8zM9.3 62.4h2.8v2.8h-2.8zM4.3 64.9h2.8v2.8h-2.8zM6.8 64.9h2.8v2.8h-2.8zM9.3 64.9h2.8v2.8h-2.8zM6.8 67.4h2.8v2.8h-2.8zM9.3 67.4h2.8v2.8h-2.8zM6.8 69.9h2.8v2.8h-2.8zM9.3 69.9h2.8v2.8h-2.8zM6.8 72.4h2.8v2.8h-2.8zM9.3 72.4h2.8v2.8h-2.8zM6.8 74.9h2.8v2.8h-2.8zM9.3 74.9h2.8v2.8h-2.8zM11.8 74.9h2.8v2.8h-2.8zM4.3 77.4h2.8v2.8h-2.8zM14.3 77.4h2.8v2.8h-2.8zM1.8 79.9h2.8v2.8h-2.8zM31.8 87.4h2.8v2.8h-2.8zM21.8 99.9h2.8v2.8h-2.8zM19.3 102.4h2.8v2.8h-2.8zM16.8 109.9h2.8v2.8h-2.8zM14.3 119.9h2.8v2.8h-2.8z"/><path fill="#f6f0f0" d="M81.8 4.9h2.8v2.8h-2.8zM81.8 9.9h2.8v2.8h-2.8zM84.3 12.4h2.8v2.8h-2.8zM86.8 14.9h2.8v2.8h-2.8zM89.3 17.4h2.8v2.8h-2.8zM91.8 19.9h2.8v2.8h-2.8zM91.8 27.4h2.8v2.8h-2.8zM91.8 29.9h2.8v2.8h-2.8zM89.3 32.4h2.8v2.8h-2.8zM86.8 34.9h2.8v2.8h-2.8zM84.3 37.4h2.8v2.8h-2.8zM81.8 39.9h2.8v2.8h-2.8zM79.3 42.4h2.8v2.8h-2.8zM81.8 42.4h2.8v2.8h-2.8zM76.8 44.9h2.8v2.8h-2.8zM79.3 44.9h2.8v2.8h-2.8zM74.3 47.4h2.8v2.8h-2.8zM76.8 47.4h2.8v2.8h-2.8zM74.3 49.9h2.8v2.8h-2.8zM76.8 49.9h2.8v2.8h-2.8zM71.8 52.4h2.8v2.8h-2.8zM74.3 52.4h2.8v2.8h-2.8zM71.8 54.9h2.8v2.8h-2.8zM74.3 54.9h2.8v2.8h-2.8zM71.8 57.4h2.8v2.8h-2.8zM69.3 59.9h2.8v2.8h-2.8zM71.8 59.9h2.8v2.8h-2.8zM69.3 99.9h2.8v2.8h-2.8zM69.3 102.4h2.8v2.8h-2.8zM69.3 104.9h2.8v2.8h-2.8zM69.3 107.4h2.8v2.8h-2.8zM69.3 109.9h2.8v2.8h-2.8zM69.3 112.4h2.8v2.8h-2.8zM71.8 112.4h2.8v2.8h-2.8zM69.3 114.9h2.8v2.8h-2.8zM71.8 114.9h2.8v2.8h-2.8zM69.3 117.4h2.8v2.8h-2.8zM71.8 117.4h2.8v2.8h-2.8zM69.3 119.9h2.8v2.8h-2.8zM71.8 119.9h2.8v2.8h-2.8zM71.8 122.4h2.8v2.8h-2.8zM71.8 124.9h2.8v2.8h-2.8zM74.3 124.9h2.8v2.8h-2.8zM71.8 127.4h2.8v2.8h-2.8zM74.3 127.4h2.8v2.8h-2.8zM71.8 129.9h2.8v2.8h-2.8zM74.3 129.9h2.8v2.8h-2.8zM74.3 132.4h2.8v2.8h-2.8zM74.3 134.9h2.8v2.8h-2.8zM76.8 134.9h2.8v2.8h-2.8zM74.3 137.4h2.8v2.8h-2.8zM76.8 137.4h2.8v2.8h-2.8z"/><path fill="#fcccb4" d="M111.8 4.9h2.8v2.8h-2.8zM114.3 4.9h2.8v2.8h-2.8zM116.8 4.9h2.8v2.8h-2.8zM119.3 4.9h2.8v2.8h-2.8zM109.3 7.4h2.8v2.8h-2.8zM109.3 9.9h2.8v2.8h-2.8zM109.3 12.4h2.8v2.8h-2.8zM111.8 14.9h2.8v2.8h-2.8zM111.8 17.4h2.8v2.8h-2.8zM111.8 24.9h2.8v2.8h-2.8zM111.8 27.4h2.8v2.8h-2.8zM109.3 34.9h2.8v2.8h-2.8zM109.3 37.4h2.8v2.8h-2.8zM106.8 47.4h2.8v2.8h-2.8zM106.8 49.9h2.8v2.8h-2.8zM106.8 52.4h2.8v2.8h-2.8zM104.3 59.9h2.8v2.8h-2.8zM59.3 62.4h2.8v2.8h-2.8zM61.8 62.4h2.8v2.8h-2.8zM64.3 62.4h2.8v2.8h-2.8zM66.8 62.4h2.8v2.8h-2.8zM104.3 62.4h2.8v2.8h-2.8zM101.8 67.4h2.8v2.8h-2.8zM101.8 69.9h2.8v2.8h-2.8zM99.3 72.4h2.8v2.8h-2.8zM46.8 74.9h2.8v2.8h-2.8zM79.3 74.9h2.8v2.8h-2.8zM99.3 74.9h2.8v2.8h-2.8zM96.8 77.4h2.8v2.8h-2.8zM96.8 79.9h2.8v2.8h-2.8zM96.8 82.4h2.8v2.8h-2.8zM94.3 84.9h2.8v2.8h-2.8zM94.3 87.4h2.8v2.8h-2.8zM94.3 89.9h2.8v2.8h-2.8zM94.3 92.4h2.8v2.8h-2.8zM56.8 94.9h2.8v2.8h-2.8zM69.3 94.9h2.8v2.8h-2.8zM94.3 109.9h2.8v2.8h-2.8zM94.3 112.4h2.8v2.8h-2.8zM96.8 117.4h2.8v2.8h-2.8zM99.3 122.4h2.8v2.8h-2.8zM101.8 124.9h2.8v2.8h-2.8zM104.3 129.9h2.8v2.8h-2.8zM109.3 137.4h2.8v2.8h-2.8z"/><path fill="#124884" d="M9.3 7.4h2.8v2.8h-2.8zM6.8 12.4h2.8v2.8h-2.8zM4.3 14.9h2.8v2.8h-2.8z"/><path fill="#185490" d="M11.8 7.4h2.8v2.8h-2.8zM9.3 12.4h2.8v2.8h-2.8zM6.8 14.9h2.8v2.8h-2.8z"/><path fill="#1e60a2" d="M14.3 7.4h2.8v2.8h-2.8zM11.8 12.4h2.8v2.8h-2.8zM-0.7 19.9h2.8v2.8h-2.8zM1.8 19.9h2.8v2.8h-2.8z"/><path fill="#2466ae" d="M16.8 7.4h2.8v2.8h-2.8zM14.3 12.4h2.8v2.8h-2.8zM11.8 14.9h2.8v2.8h-2.8zM6.8 19.9h2.8v2.8h-2.8z"/><path fill="#2a72ae" d="M19.3 7.4h2.8v2.8h-2.8zM4.3 22.4h2.8v2.8h-2.8zM-0.7 119.9h2.8v2.8h-2.8zM-0.7 122.4h2.8v2.8h-2.8z"/><path fill="#3078b4" d="M21.8 7.4h2.8v2.8h-2.8zM21.8 9.9h2.8v2.8h-2.8zM19.3 12.4h2.8v2.8h-2.8zM16.8 14.9h2.8v2.8h-2.8zM14.3 17.4h2.8v2.8h-2.8zM11.8 19.9h2.8v2.8h-2.8zM1.8 24.9h2.8v2.8h-2.8zM-0.7 114.9h2.8v2.8h-2.8zM1.8 114.9h2.8v2.8h-2.8zM1.8 124.9h2.8v2.8h-2.8zM-0.7 127.4h2.8v2.8h-2.8z"/><path fill="#367eba" d="M24.3 7.4h2.8v2.8h-2.8zM21.8 12.4h2.8v2.8h-2.8zM19.3 14.9h2.8v2.8h-2.8zM16.8 17.4h2.8v2.8h-2.8zM-0.7 112.4h2.8v2.8h-2.8zM1.8 127.4h2.8v2.8h-2.8z"/><path fill="#3c84ba" d="M26.8 7.4h2.8v2.8h-2.8zM24.3 12.4h2.8v2.8h-2.8zM19.3 17.4h2.8v2.8h-2.8zM-0.7 109.9h2.8v2.8h-2.8zM4.3 112.4h2.8v2.8h-2.8zM4.3 122.4h2.8v2.8h-2.8z"/><path fill="#4290c0" d="M29.3 7.4h2.8v2.8h-2.8zM29.3 9.9h2.8v2.8h-2.8zM26.8 14.9h2.8v2.8h-2.8zM24.3 17.4h2.8v2.8h-2.8zM19.3 19.9h2.8v2.8h-2.8zM11.8 24.9h2.8v2.8h-2.8zM6.8 27.4h2.8v2.8h-2.8zM-0.7 107.4h2.8v2.8h-2.8zM4.3 107.4h2.8v2.8h-2.8zM4.3 127.4h2.8v2.8h-2.8z"/><path fill="#4896c6" d="M31.8 7.4h2.8v2.8h-2.8zM21.8 19.9h2.8v2.8h-2.8zM16.8 22.4h2.8v2.8h-2.8zM4.3 104.9h2.8v2.8h-2.8zM6.8 112.4h2.8v2.8h-2.8zM6.8 114.9h2.8v2.8h-2.8zM1.8 132.4h2.8v2.8h-2.8z"/><path fill="#549ccc" d="M34.3 7.4h2.8v2.8h-2.8zM29.3 17.4h2.8v2.8h-2.8zM6.8 104.9h2.8v2.8h-2.8zM6.8 122.4h2.8v2.8h-2.8z"/><path fill="#72aed2" d="M39.3 7.4h2.8v2.8h-2.8zM21.8 24.9h2.8v2.8h-2.8zM-0.7 99.9h2.8v2.8h-2.8zM9.3 99.9h2.8v2.8h-2.8zM9.3 114.9h2.8v2.8h-2.8z"/><path fill="#d8e4f0" d="M61.8 7.4h2.8v2.8h-2.8zM19.3 69.9h2.8v2.8h-2.8z"/><path fill="#fcccae" d="M111.8 7.4h2.8v2.8h-2.8zM111.8 12.4h2.8v2.8h-2.8zM111.8 29.9h2.8v2.8h-2.8zM109.3 39.9h2.8v2.8h-2.8zM106.8 54.9h2.8v2.8h-2.8zM54.3 64.9h2.8v2.8h-2.8zM71.8 64.9h2.8v2.8h-2.8zM104.3 64.9h2.8v2.8h-2.8zM99.3 77.4h2.8v2.8h-2.8zM46.8 82.4h2.8v2.8h-2.8zM79.3 82.4h2.8v2.8h-2.8zM94.3 107.4h2.8v2.8h-2.8zM106.8 132.4h2.8v2.8h-2.8z"/><path fill="#fcc6ae" d="M114.3 7.4h2.8v2.8h-2.8zM116.8 7.4h2.8v2.8h-2.8zM119.3 7.4h2.8v2.8h-2.8zM111.8 9.9h2.8v2.8h-2.8zM114.3 9.9h2.8v2.8h-2.8zM114.3 12.4h2.8v2.8h-2.8zM114.3 14.9h2.8v2.8h-2.8zM114.3 17.4h2.8v2.8h-2.8zM114.3 19.9h2.8v2.8h-2.8zM114.3 22.4h2.8v2.8h-2.8zM114.3 24.9h2.8v2.8h-2.8zM111.8 32.4h2.8v2.8h-2.8zM109.3 42.4h2.8v2.8h-2.8zM109.3 44.9h2.8v2.8h-2.8zM106.8 57.4h2.8v2.8h-2.8zM106.8 59.9h2.8v2.8h-2.8zM51.8 67.4h2.8v2.8h-2.8zM74.3 67.4h2.8v2.8h-2.8zM104.3 67.4h2.8v2.8h-2.8zM49.3 69.9h2.8v2.8h-2.8zM76.8 69.9h2.8v2.8h-2.8zM104.3 69.9h2.8v2.8h-2.8zM101.8 72.4h2.8v2.8h-2.8zM101.8 74.9h2.8v2.8h-2.8zM46.8 77.4h2.8v2.8h-2.8zM79.3 77.4h2.8v2.8h-2.8zM46.8 79.9h2.8v2.8h-2.8zM79.3 79.9h2.8v2.8h-2.8zM99.3 79.9h2.8v2.8h-2.8zM96.8 84.9h2.8v2.8h-2.8zM96.8 87.4h2.8v2.8h-2.8zM59.3 94.9h2.8v2.8h-2.8zM66.8 94.9h2.8v2.8h-2.8zM94.3 94.9h2.8v2.8h-2.8zM94.3 97.4h2.8v2.8h-2.8zM94.3 99.9h2.8v2.8h-2.8zM94.3 102.4h2.8v2.8h-2.8zM94.3 104.9h2.8v2.8h-2.8zM96.8 112.4h2.8v2.8h-2.8zM96.8 114.9h2.8v2.8h-2.8zM99.3 119.9h2.8v2.8h-2.8zM101.8 122.4h2.8v2.8h-2.8zM104.3 127.4h2.8v2.8h-2.8z"/><path fill="#0c4278" d="M6.8 9.9h2.8v2.8h-2.8zM4.3 12.4h2.8v2.8h-2.8z"/><path fill="#124e8a" d="M9.3 9.9h2.8v2.8h-2.8z"/><path fill="#185a96" d="M11.8 9.9h2.8v2.8h-2.8z"/><path fill="#1e60a8" d="M14.3 9.9h2.8v2.8h-2.8zM4.3 19.9h2.8v2.8h-2.8z"/><path fill="#4e96c6" d="M31.8 9.9h2.8v2.8h-2.8zM29.3 14.9h2.8v2.8h-2.8zM26.8 17.4h2.8v2.8h-2.8zM1.8 29.9h2.8v2.8h-2.8zM6.8 109.9h2.8v2.8h-2.8zM6.8 117.4h2.8v2.8h-2.8z"/><path fill="#5aa2cc" d="M34.3 9.9h2.8v2.8h-2.8zM34.3 12.4h2.8v2.8h-2.8zM31.8 14.9h2.8v2.8h-2.8zM26.8 19.9h2.8v2.8h-2.8zM21.8 22.4h2.8v2.8h-2.8zM11.8 27.4h2.8v2.8h-2.8zM6.8 29.9h2.8v2.8h-2.8zM6.8 102.4h2.8v2.8h-2.8z"/><path fill="#66a8cc" d="M36.8 9.9h2.8v2.8h-2.8zM24.3 22.4h2.8v2.8h-2.8zM4.3 32.4h2.8v2.8h-2.8zM1.8 99.9h2.8v2.8h-2.8zM6.8 99.9h2.8v2.8h-2.8z"/><path fill="#72b4d2" d="M39.3 9.9h2.8v2.8h-2.8zM36.8 17.4h2.8v2.8h-2.8zM34.3 19.9h2.8v2.8h-2.8zM29.3 22.4h2.8v2.8h-2.8zM1.8 97.4h2.8v2.8h-2.8zM9.3 97.4h2.8v2.8h-2.8z"/><path fill="#90c0de" d="M44.3 9.9h2.8v2.8h-2.8zM11.8 32.4h2.8v2.8h-2.8zM16.8 94.9h2.8v2.8h-2.8zM14.3 97.4h2.8v2.8h-2.8zM11.8 109.9h2.8v2.8h-2.8zM4.3 137.4h2.8v2.8h-2.8z"/><path fill="#9cc6de" d="M46.8 9.9h2.8v2.8h-2.8z"/><path fill="#fce4de" d="M91.8 9.9h2.8v2.8h-2.8zM94.3 12.4h2.8v2.8h-2.8zM99.3 17.4h2.8v2.8h-2.8zM91.8 49.9h2.8v2.8h-2.8zM89.3 54.9h2.8v2.8h-2.8zM81.8 87.4h2.8v2.8h-2.8zM81.8 104.9h2.8v2.8h-2.8zM84.3 119.9h2.8v2.8h-2.8zM91.8 134.9h2.8v2.8h-2.8zM94.3 137.4h2.8v2.8h-2.8z"/><path fill="#fcc6a8" d="M116.8 9.9h2.8v2.8h-2.8zM119.3 9.9h2.8v2.8h-2.8zM116.8 12.4h2.8v2.8h-2.8zM119.3 12.4h2.8v2.8h-2.8zM116.8 14.9h2.8v2.8h-2.8zM119.3 14.9h2.8v2.8h-2.8zM116.8 17.4h2.8v2.8h-2.8zM119.3 17.4h2.8v2.8h-2.8zM116.8 19.9h2.8v2.8h-2.8zM116.8 22.4h2.8v2.8h-2.8zM114.3 27.4h2.8v2.8h-2.8zM111.8 34.9h2.8v2.8h-2.8zM109.3 47.4h2.8v2.8h-2.8zM109.3 49.9h2.8v2.8h-2.8zM106.8 62.4h2.8v2.8h-2.8zM106.8 64.9h2.8v2.8h-2.8zM104.3 72.4h2.8v2.8h-2.8zM101.8 77.4h2.8v2.8h-2.8zM99.3 82.4h2.8v2.8h-2.8zM49.3 87.4h2.8v2.8h-2.8zM76.8 87.4h2.8v2.8h-2.8zM96.8 89.9h2.8v2.8h-2.8zM96.8 109.9h2.8v2.8h-2.8zM99.3 117.4h2.8v2.8h-2.8z"/><path fill="#0c3c6c" d="M-0.7 12.4h2.8v2.8h-2.8z"/><path fill="#3c90c0" d="M26.8 12.4h2.8v2.8h-2.8zM14.3 22.4h2.8v2.8h-2.8zM-0.7 132.4h2.8v2.8h-2.8z"/><path fill="#4e9cc6" d="M31.8 12.4h2.8v2.8h-2.8zM24.3 19.9h2.8v2.8h-2.8zM9.3 27.4h2.8v2.8h-2.8zM-0.7 29.9h2.8v2.8h-2.8zM4.3 29.9h2.8v2.8h-2.8zM-0.7 104.9h2.8v2.8h-2.8zM6.8 107.4h2.8v2.8h-2.8zM6.8 119.9h2.8v2.8h-2.8zM4.3 129.9h2.8v2.8h-2.8z"/><path fill="#78b4d2" d="M39.3 12.4h2.8v2.8h-2.8zM11.8 29.9h2.8v2.8h-2.8zM1.8 34.9h2.8v2.8h-2.8zM6.8 94.9h2.8v2.8h-2.8zM9.3 94.9h2.8v2.8h-2.8zM9.3 117.4h2.8v2.8h-2.8zM6.8 129.9h2.8v2.8h-2.8zM4.3 134.9h2.8v2.8h-2.8z"/><path fill="#84bad8" d="M41.8 12.4h2.8v2.8h-2.8zM34.3 22.4h2.8v2.8h-2.8zM26.8 24.9h2.8v2.8h-2.8zM19.3 27.4h2.8v2.8h-2.8zM6.8 34.9h2.8v2.8h-2.8zM6.8 92.4h2.8v2.8h-2.8zM14.3 92.4h2.8v2.8h-2.8zM1.8 94.9h2.8v2.8h-2.8zM14.3 94.9h2.8v2.8h-2.8zM-0.7 97.4h2.8v2.8h-2.8zM11.8 99.9h2.8v2.8h-2.8zM11.8 102.4h2.8v2.8h-2.8zM9.3 122.4h2.8v2.8h-2.8z"/><path fill="#90c6de" d="M44.3 12.4h2.8v2.8h-2.8zM44.3 14.9h2.8v2.8h-2.8zM41.8 19.9h2.8v2.8h-2.8zM31.8 24.9h2.8v2.8h-2.8zM16.8 29.9h2.8v2.8h-2.8zM9.3 34.9h2.8v2.8h-2.8zM6.8 37.4h2.8v2.8h-2.8zM1.8 39.9h2.8v2.8h-2.8zM4.3 39.9h2.8v2.8h-2.8zM6.8 89.9h2.8v2.8h-2.8zM21.8 89.9h2.8v2.8h-2.8z"/><path fill="#9cccde" d="M46.8 12.4h2.8v2.8h-2.8zM46.8 14.9h2.8v2.8h-2.8zM44.3 19.9h2.8v2.8h-2.8zM41.8 22.4h2.8v2.8h-2.8zM36.8 24.9h2.8v2.8h-2.8zM19.3 29.9h2.8v2.8h-2.8zM14.3 32.4h2.8v2.8h-2.8zM9.3 37.4h2.8v2.8h-2.8zM6.8 87.4h2.8v2.8h-2.8zM21.8 87.4h2.8v2.8h-2.8zM24.3 92.4h2.8v2.8h-2.8zM16.8 97.4h2.8v2.8h-2.8zM14.3 102.4h2.8v2.8h-2.8z"/><path fill="#f0f0f6" d="M74.3 12.4h2.8v2.8h-2.8zM79.3 19.9h2.8v2.8h-2.8zM79.3 22.4h2.8v2.8h-2.8zM79.3 24.9h2.8v2.8h-2.8zM76.8 27.4h2.8v2.8h-2.8zM74.3 29.9h2.8v2.8h-2.8zM64.3 34.9h2.8v2.8h-2.8zM56.8 37.4h2.8v2.8h-2.8zM46.8 39.9h2.8v2.8h-2.8zM36.8 42.4h2.8v2.8h-2.8zM31.8 47.4h2.8v2.8h-2.8zM31.8 54.9h2.8v2.8h-2.8zM31.8 57.4h2.8v2.8h-2.8zM31.8 59.9h2.8v2.8h-2.8zM34.3 67.4h2.8v2.8h-2.8zM34.3 69.9h2.8v2.8h-2.8zM34.3 72.4h2.8v2.8h-2.8zM44.3 87.4h2.8v2.8h-2.8zM41.8 97.4h2.8v2.8h-2.8zM26.8 109.9h2.8v2.8h-2.8zM24.3 117.4h2.8v2.8h-2.8zM21.8 122.4h2.8v2.8h-2.8zM19.3 132.4h2.8v2.8h-2.8z"/><path fill="#12427e" d="M-0.7 14.9h2.8v2.8h-2.8zM1.8 14.9h2.8v2.8h-2.8z"/><path fill="#1e5a9c" d="M9.3 14.9h2.8v2.8h-2.8zM6.8 17.4h2.8v2.8h-2.8z"/><path fill="#2a6cae" d="M14.3 14.9h2.8v2.8h-2.8zM11.8 17.4h2.8v2.8h-2.8z"/><path fill="#78b4d8" d="M39.3 14.9h2.8v2.8h-2.8zM24.3 24.9h2.8v2.8h-2.8zM16.8 27.4h2.8v2.8h-2.8zM4.3 34.9h2.8v2.8h-2.8zM4.3 94.9h2.8v2.8h-2.8zM1.8 137.4h2.8v2.8h-2.8z"/><path fill="#84c0d8" d="M41.8 14.9h2.8v2.8h-2.8zM14.3 29.9h2.8v2.8h-2.8zM1.8 37.4h2.8v2.8h-2.8zM4.3 37.4h2.8v2.8h-2.8zM11.8 89.9h2.8v2.8h-2.8zM14.3 89.9h2.8v2.8h-2.8zM16.8 92.4h2.8v2.8h-2.8z"/><path fill="#a8cce4" d="M49.3 14.9h2.8v2.8h-2.8zM9.3 84.9h2.8v2.8h-2.8zM16.8 84.9h2.8v2.8h-2.8z"/><path fill="#e4eaf6" d="M69.3 14.9h2.8v2.8h-2.8zM61.8 29.9h2.8v2.8h-2.8zM26.8 39.9h2.8v2.8h-2.8zM21.8 44.9h2.8v2.8h-2.8zM21.8 52.4h2.8v2.8h-2.8zM26.8 72.4h2.8v2.8h-2.8zM26.8 102.4h2.8v2.8h-2.8z"/><path fill="#184e8a" d="M-0.7 17.4h2.8v2.8h-2.8z"/><path fill="#185496" d="M4.3 17.4h2.8v2.8h-2.8z"/><path fill="#1e66ae" d="M9.3 17.4h2.8v2.8h-2.8z"/><path fill="#9ccce4" d="M46.8 17.4h2.8v2.8h-2.8zM29.3 27.4h2.8v2.8h-2.8zM11.8 34.9h2.8v2.8h-2.8zM6.8 42.4h2.8v2.8h-2.8zM1.8 44.9h2.8v2.8h-2.8zM4.3 44.9h2.8v2.8h-2.8zM11.8 117.4h2.8v2.8h-2.8z"/><path fill="#a8d2e4" d="M49.3 17.4h2.8v2.8h-2.8zM46.8 22.4h2.8v2.8h-2.8zM41.8 24.9h2.8v2.8h-2.8zM34.3 27.4h2.8v2.8h-2.8zM24.3 29.9h2.8v2.8h-2.8zM16.8 32.4h2.8v2.8h-2.8zM11.8 37.4h2.8v2.8h-2.8zM9.3 42.4h2.8v2.8h-2.8zM-0.7 44.9h2.8v2.8h-2.8zM6.8 47.4h2.8v2.8h-2.8zM1.8 49.9h2.8v2.8h-2.8zM4.3 49.9h2.8v2.8h-2.8zM6.8 84.9h2.8v2.8h-2.8zM19.3 84.9h2.8v2.8h-2.8zM24.3 94.9h2.8v2.8h-2.8zM19.3 97.4h2.8v2.8h-2.8zM16.8 99.9h2.8v2.8h-2.8zM14.3 107.4h2.8v2.8h-2.8zM14.3 109.9h2.8v2.8h-2.8zM11.8 122.4h2.8v2.8h-2.8zM9.3 132.4h2.8v2.8h-2.8zM6.8 137.4h2.8v2.8h-2.8z"/><path fill="#8ac0d8" d="M39.3 19.9h2.8v2.8h-2.8zM29.3 24.9h2.8v2.8h-2.8zM16.8 89.9h2.8v2.8h-2.8zM4.3 92.4h2.8v2.8h-2.8zM11.8 104.9h2.8v2.8h-2.8zM6.8 132.4h2.8v2.8h-2.8z"/><path fill="#b4d8ea" d="M51.8 19.9h2.8v2.8h-2.8zM49.3 22.4h2.8v2.8h-2.8zM46.8 24.9h2.8v2.8h-2.8zM39.3 27.4h2.8v2.8h-2.8zM29.3 29.9h2.8v2.8h-2.8zM31.8 29.9h2.8v2.8h-2.8zM11.8 39.9h2.8v2.8h-2.8zM9.3 47.4h2.8v2.8h-2.8zM-0.7 49.9h2.8v2.8h-2.8zM9.3 49.9h2.8v2.8h-2.8zM1.8 54.9h2.8v2.8h-2.8zM4.3 54.9h2.8v2.8h-2.8zM6.8 54.9h2.8v2.8h-2.8zM6.8 82.4h2.8v2.8h-2.8zM14.3 82.4h2.8v2.8h-2.8zM16.8 82.4h2.8v2.8h-2.8zM24.3 84.9h2.8v2.8h-2.8zM29.3 87.4h2.8v2.8h-2.8zM26.8 94.9h2.8v2.8h-2.8zM21.8 97.4h2.8v2.8h-2.8zM14.3 114.9h2.8v2.8h-2.8zM11.8 124.9h2.8v2.8h-2.8zM9.3 134.9h2.8v2.8h-2.8z"/><path fill="#fcccba" d="M111.8 19.9h2.8v2.8h-2.8zM111.8 22.4h2.8v2.8h-2.8z"/><path fill="#f6c0a8" d="M119.3 19.9h2.8v2.8h-2.8zM119.3 22.4h2.8v2.8h-2.8zM116.8 24.9h2.8v2.8h-2.8zM114.3 29.9h2.8v2.8h-2.8zM111.8 37.4h2.8v2.8h-2.8zM109.3 52.4h2.8v2.8h-2.8zM109.3 54.9h2.8v2.8h-2.8zM106.8 67.4h2.8v2.8h-2.8zM104.3 74.9h2.8v2.8h-2.8zM101.8 79.9h2.8v2.8h-2.8zM99.3 84.9h2.8v2.8h-2.8zM54.3 92.4h2.8v2.8h-2.8zM71.8 92.4h2.8v2.8h-2.8zM96.8 92.4h2.8v2.8h-2.8zM61.8 94.9h2.8v2.8h-2.8zM64.3 94.9h2.8v2.8h-2.8zM96.8 94.9h2.8v2.8h-2.8zM96.8 97.4h2.8v2.8h-2.8zM96.8 104.9h2.8v2.8h-2.8zM96.8 107.4h2.8v2.8h-2.8zM99.3 114.9h2.8v2.8h-2.8zM101.8 119.9h2.8v2.8h-2.8zM104.3 124.9h2.8v2.8h-2.8zM106.8 129.9h2.8v2.8h-2.8zM109.3 134.9h2.8v2.8h-2.8z"/><path fill="#7eb4d8" d="M31.8 22.4h2.8v2.8h-2.8zM-0.7 34.9h2.8v2.8h-2.8z"/><path fill="#c6def0" d="M56.8 22.4h2.8v2.8h-2.8zM49.3 27.4h2.8v2.8h-2.8zM41.8 29.9h2.8v2.8h-2.8zM21.8 34.9h2.8v2.8h-2.8zM14.3 42.4h2.8v2.8h-2.8zM-0.7 59.9h2.8v2.8h-2.8zM11.8 59.9h2.8v2.8h-2.8zM11.8 62.4h2.8v2.8h-2.8zM11.8 64.9h2.8v2.8h-2.8zM4.3 67.4h2.8v2.8h-2.8zM11.8 67.4h2.8v2.8h-2.8zM4.3 69.9h2.8v2.8h-2.8zM11.8 69.9h2.8v2.8h-2.8zM4.3 72.4h2.8v2.8h-2.8zM11.8 72.4h2.8v2.8h-2.8zM4.3 74.9h2.8v2.8h-2.8zM14.3 74.9h2.8v2.8h-2.8zM19.3 79.9h2.8v2.8h-2.8zM-0.7 82.4h2.8v2.8h-2.8zM24.3 82.4h2.8v2.8h-2.8zM29.3 84.9h2.8v2.8h-2.8zM11.8 132.4h2.8v2.8h-2.8z"/><path fill="#fcf0e4" d="M96.8 22.4h2.8v2.8h-2.8zM96.8 27.4h2.8v2.8h-2.8zM91.8 37.4h2.8v2.8h-2.8zM86.8 44.9h2.8v2.8h-2.8zM81.8 54.9h2.8v2.8h-2.8zM79.3 59.9h2.8v2.8h-2.8zM79.3 62.4h2.8v2.8h-2.8zM76.8 107.4h2.8v2.8h-2.8zM76.8 109.9h2.8v2.8h-2.8zM79.3 122.4h2.8v2.8h-2.8zM81.8 129.9h2.8v2.8h-2.8zM84.3 134.9h2.8v2.8h-2.8z"/><path fill="#307eb4" d="M-0.7 24.9h2.8v2.8h-2.8z"/><path fill="#60a2cc" d="M16.8 24.9h2.8v2.8h-2.8zM6.8 124.9h2.8v2.8h-2.8zM1.8 134.9h2.8v2.8h-2.8z"/><path fill="#f6c0a2" d="M119.3 24.9h2.8v2.8h-2.8zM116.8 27.4h2.8v2.8h-2.8zM114.3 32.4h2.8v2.8h-2.8zM111.8 39.9h2.8v2.8h-2.8zM111.8 42.4h2.8v2.8h-2.8zM111.8 44.9h2.8v2.8h-2.8zM109.3 57.4h2.8v2.8h-2.8zM109.3 59.9h2.8v2.8h-2.8zM109.3 62.4h2.8v2.8h-2.8zM56.8 64.9h2.8v2.8h-2.8zM69.3 64.9h2.8v2.8h-2.8zM106.8 69.9h2.8v2.8h-2.8zM106.8 72.4h2.8v2.8h-2.8zM104.3 77.4h2.8v2.8h-2.8zM101.8 82.4h2.8v2.8h-2.8zM101.8 84.9h2.8v2.8h-2.8zM99.3 87.4h2.8v2.8h-2.8zM51.8 89.9h2.8v2.8h-2.8zM74.3 89.9h2.8v2.8h-2.8zM99.3 89.9h2.8v2.8h-2.8zM96.8 99.9h2.8v2.8h-2.8zM96.8 102.4h2.8v2.8h-2.8zM99.3 112.4h2.8v2.8h-2.8z"/><path fill="#c0d8ea" d="M44.3 27.4h2.8v2.8h-2.8zM11.8 44.9h2.8v2.8h-2.8zM4.3 59.9h2.8v2.8h-2.8zM26.8 84.9h2.8v2.8h-2.8zM14.3 117.4h2.8v2.8h-2.8z"/><path fill="#f6ba9c" d="M119.3 27.4h2.8v2.8h-2.8zM116.8 29.9h2.8v2.8h-2.8zM119.3 29.9h2.8v2.8h-2.8zM116.8 32.4h2.8v2.8h-2.8zM114.3 37.4h2.8v2.8h-2.8zM114.3 39.9h2.8v2.8h-2.8zM111.8 49.9h2.8v2.8h-2.8zM111.8 52.4h2.8v2.8h-2.8zM111.8 54.9h2.8v2.8h-2.8zM111.8 57.4h2.8v2.8h-2.8zM111.8 59.9h2.8v2.8h-2.8zM109.3 67.4h2.8v2.8h-2.8zM109.3 69.9h2.8v2.8h-2.8zM49.3 72.4h2.8v2.8h-2.8zM76.8 72.4h2.8v2.8h-2.8zM109.3 72.4h2.8v2.8h-2.8zM106.8 77.4h2.8v2.8h-2.8zM104.3 82.4h2.8v2.8h-2.8zM49.3 84.9h2.8v2.8h-2.8zM76.8 84.9h2.8v2.8h-2.8zM104.3 84.9h2.8v2.8h-2.8zM101.8 87.4h2.8v2.8h-2.8zM101.8 89.9h2.8v2.8h-2.8zM99.3 94.9h2.8v2.8h-2.8zM99.3 97.4h2.8v2.8h-2.8zM99.3 99.9h2.8v2.8h-2.8zM99.3 102.4h2.8v2.8h-2.8zM99.3 104.9h2.8v2.8h-2.8zM99.3 107.4h2.8v2.8h-2.8zM101.8 114.9h2.8v2.8h-2.8zM104.3 122.4h2.8v2.8h-2.8zM106.8 127.4h2.8v2.8h-2.8zM111.8 137.4h2.8v2.8h-2.8z"/><path fill="#66a8d2" d="M9.3 29.9h2.8v2.8h-2.8zM-0.7 32.4h2.8v2.8h-2.8z"/><path fill="#f6b496" d="M119.3 32.4h2.8v2.8h-2.8zM116.8 34.9h2.8v2.8h-2.8zM119.3 34.9h2.8v2.8h-2.8zM116.8 37.4h2.8v2.8h-2.8zM114.3 42.4h2.8v2.8h-2.8zM114.3 44.9h2.8v2.8h-2.8zM114.3 47.4h2.8v2.8h-2.8zM114.3 49.9h2.8v2.8h-2.8zM111.8 62.4h2.8v2.8h-2.8zM59.3 64.9h2.8v2.8h-2.8zM66.8 64.9h2.8v2.8h-2.8zM111.8 64.9h2.8v2.8h-2.8zM54.3 67.4h2.8v2.8h-2.8zM71.8 67.4h2.8v2.8h-2.8zM111.8 67.4h2.8v2.8h-2.8zM51.8 69.9h2.8v2.8h-2.8zM74.3 69.9h2.8v2.8h-2.8zM111.8 69.9h2.8v2.8h-2.8zM109.3 74.9h2.8v2.8h-2.8zM109.3 77.4h2.8v2.8h-2.8zM106.8 79.9h2.8v2.8h-2.8zM106.8 82.4h2.8v2.8h-2.8zM104.3 87.4h2.8v2.8h-2.8zM56.8 92.4h2.8v2.8h-2.8zM69.3 92.4h2.8v2.8h-2.8zM101.8 92.4h2.8v2.8h-2.8zM101.8 94.9h2.8v2.8h-2.8zM101.8 97.4h2.8v2.8h-2.8zM101.8 107.4h2.8v2.8h-2.8zM101.8 109.9h2.8v2.8h-2.8zM101.8 112.4h2.8v2.8h-2.8zM104.3 119.9h2.8v2.8h-2.8zM109.3 132.4h2.8v2.8h-2.8z"/><path fill="#f6baa2" d="M114.3 34.9h2.8v2.8h-2.8zM111.8 47.4h2.8v2.8h-2.8zM109.3 64.9h2.8v2.8h-2.8zM106.8 74.9h2.8v2.8h-2.8zM104.3 79.9h2.8v2.8h-2.8zM99.3 92.4h2.8v2.8h-2.8zM99.3 109.9h2.8v2.8h-2.8zM101.8 117.4h2.8v2.8h-2.8z"/><path fill="#e4eaf0" d="M34.3 37.4h2.8v2.8h-2.8zM24.3 62.4h2.8v2.8h-2.8zM34.3 82.4h2.8v2.8h-2.8zM39.3 87.4h2.8v2.8h-2.8zM24.3 104.9h2.8v2.8h-2.8zM16.8 127.4h2.8v2.8h-2.8z"/><path fill="#f6ae90" d="M119.3 37.4h2.8v2.8h-2.8zM119.3 39.9h2.8v2.8h-2.8zM116.8 42.4h2.8v2.8h-2.8zM116.8 44.9h2.8v2.8h-2.8zM114.3 57.4h2.8v2.8h-2.8zM114.3 59.9h2.8v2.8h-2.8zM114.3 62.4h2.8v2.8h-2.8zM61.8 64.9h2.8v2.8h-2.8zM64.3 64.9h2.8v2.8h-2.8zM114.3 64.9h2.8v2.8h-2.8zM114.3 67.4h2.8v2.8h-2.8zM111.8 74.9h2.8v2.8h-2.8zM109.3 79.9h2.8v2.8h-2.8zM49.3 82.4h2.8v2.8h-2.8zM76.8 82.4h2.8v2.8h-2.8zM106.8 84.9h2.8v2.8h-2.8zM106.8 87.4h2.8v2.8h-2.8zM104.3 92.4h2.8v2.8h-2.8zM104.3 114.9h2.8v2.8h-2.8z"/><path fill="#f6b490" d="M116.8 39.9h2.8v2.8h-2.8zM114.3 52.4h2.8v2.8h-2.8zM114.3 54.9h2.8v2.8h-2.8zM111.8 72.4h2.8v2.8h-2.8zM49.3 74.9h2.8v2.8h-2.8zM76.8 74.9h2.8v2.8h-2.8zM104.3 89.9h2.8v2.8h-2.8zM101.8 99.9h2.8v2.8h-2.8zM101.8 102.4h2.8v2.8h-2.8zM101.8 104.9h2.8v2.8h-2.8zM104.3 117.4h2.8v2.8h-2.8zM106.8 124.9h2.8v2.8h-2.8z"/><path fill="#f6ae8a" d="M119.3 42.4h2.8v2.8h-2.8zM116.8 47.4h2.8v2.8h-2.8zM116.8 49.9h2.8v2.8h-2.8zM116.8 52.4h2.8v2.8h-2.8zM116.8 54.9h2.8v2.8h-2.8zM116.8 57.4h2.8v2.8h-2.8zM114.3 69.9h2.8v2.8h-2.8zM49.3 77.4h2.8v2.8h-2.8zM76.8 77.4h2.8v2.8h-2.8zM111.8 77.4h2.8v2.8h-2.8zM109.3 82.4h2.8v2.8h-2.8zM51.8 87.4h2.8v2.8h-2.8zM74.3 87.4h2.8v2.8h-2.8zM54.3 89.9h2.8v2.8h-2.8zM71.8 89.9h2.8v2.8h-2.8zM59.3 92.4h2.8v2.8h-2.8zM66.8 92.4h2.8v2.8h-2.8zM104.3 94.9h2.8v2.8h-2.8zM104.3 97.4h2.8v2.8h-2.8zM109.3 129.9h2.8v2.8h-2.8zM111.8 134.9h2.8v2.8h-2.8z"/><path fill="#f6a88a" d="M119.3 44.9h2.8v2.8h-2.8zM119.3 47.4h2.8v2.8h-2.8zM116.8 59.9h2.8v2.8h-2.8zM116.8 62.4h2.8v2.8h-2.8zM116.8 64.9h2.8v2.8h-2.8zM114.3 72.4h2.8v2.8h-2.8zM49.3 79.9h2.8v2.8h-2.8zM76.8 79.9h2.8v2.8h-2.8zM106.8 89.9h2.8v2.8h-2.8zM104.3 99.9h2.8v2.8h-2.8zM104.3 112.4h2.8v2.8h-2.8zM106.8 122.4h2.8v2.8h-2.8z"/><path fill="#f6a884" d="M119.3 49.9h2.8v2.8h-2.8zM119.3 52.4h2.8v2.8h-2.8zM119.3 54.9h2.8v2.8h-2.8zM119.3 57.4h2.8v2.8h-2.8zM119.3 59.9h2.8v2.8h-2.8zM119.3 62.4h2.8v2.8h-2.8zM119.3 64.9h2.8v2.8h-2.8zM116.8 67.4h2.8v2.8h-2.8zM119.3 67.4h2.8v2.8h-2.8zM116.8 69.9h2.8v2.8h-2.8zM116.8 72.4h2.8v2.8h-2.8zM114.3 74.9h2.8v2.8h-2.8zM111.8 79.9h2.8v2.8h-2.8zM109.3 84.9h2.8v2.8h-2.8zM61.8 92.4h2.8v2.8h-2.8zM64.3 92.4h2.8v2.8h-2.8zM106.8 92.4h2.8v2.8h-2.8zM104.3 102.4h2.8v2.8h-2.8zM104.3 104.9h2.8v2.8h-2.8zM104.3 107.4h2.8v2.8h-2.8zM104.3 109.9h2.8v2.8h-2.8zM114.3 137.4h2.8v2.8h-2.8z"/><path fill="#f6a284" d="M56.8 67.4h2.8v2.8h-2.8zM69.3 67.4h2.8v2.8h-2.8zM119.3 69.9h2.8v2.8h-2.8zM114.3 77.4h2.8v2.8h-2.8zM111.8 82.4h2.8v2.8h-2.8zM109.3 87.4h2.8v2.8h-2.8zM106.8 119.9h2.8v2.8h-2.8z"/><path fill="#f09678" d="M59.3 67.4h2.8v2.8h-2.8zM66.8 67.4h2.8v2.8h-2.8zM116.8 79.9h2.8v2.8h-2.8zM114.3 82.4h2.8v2.8h-2.8zM111.8 87.4h2.8v2.8h-2.8zM109.3 92.4h2.8v2.8h-2.8zM106.8 102.4h2.8v2.8h-2.8zM106.8 104.9h2.8v2.8h-2.8zM106.8 112.4h2.8v2.8h-2.8zM109.3 124.9h2.8v2.8h-2.8z"/><path fill="#ea9072" d="M61.8 67.4h2.8v2.8h-2.8zM64.3 67.4h2.8v2.8h-2.8zM51.8 74.9h2.8v2.8h-2.8zM74.3 74.9h2.8v2.8h-2.8zM51.8 82.4h2.8v2.8h-2.8zM74.3 82.4h2.8v2.8h-2.8zM116.8 82.4h2.8v2.8h-2.8zM114.3 84.9h2.8v2.8h-2.8zM111.8 89.9h2.8v2.8h-2.8zM109.3 94.9h2.8v2.8h-2.8zM114.3 134.9h2.8v2.8h-2.8z"/><path fill="#f09c7e" d="M54.3 69.9h2.8v2.8h-2.8zM71.8 69.9h2.8v2.8h-2.8zM116.8 77.4h2.8v2.8h-2.8zM51.8 84.9h2.8v2.8h-2.8zM74.3 84.9h2.8v2.8h-2.8zM111.8 84.9h2.8v2.8h-2.8zM109.3 89.9h2.8v2.8h-2.8zM106.8 97.4h2.8v2.8h-2.8zM106.8 117.4h2.8v2.8h-2.8zM111.8 132.4h2.8v2.8h-2.8z"/><path fill="#e48466" d="M56.8 69.9h2.8v2.8h-2.8zM69.3 69.9h2.8v2.8h-2.8zM54.3 72.4h2.8v2.8h-2.8zM71.8 72.4h2.8v2.8h-2.8zM119.3 84.9h2.8v2.8h-2.8zM61.8 89.9h2.8v2.8h-2.8zM64.3 89.9h2.8v2.8h-2.8zM111.8 92.4h2.8v2.8h-2.8zM109.3 99.9h2.8v2.8h-2.8zM109.3 119.9h2.8v2.8h-2.8z"/><path fill="#de725a" d="M59.3 69.9h2.8v2.8h-2.8zM66.8 69.9h2.8v2.8h-2.8zM54.3 74.9h2.8v2.8h-2.8zM71.8 74.9h2.8v2.8h-2.8zM114.3 92.4h2.8v2.8h-2.8zM111.8 97.4h2.8v2.8h-2.8zM109.3 109.9h2.8v2.8h-2.8zM109.3 112.4h2.8v2.8h-2.8zM119.3 134.9h2.8v2.8h-2.8z"/><path fill="#d86654" d="M61.8 69.9h2.8v2.8h-2.8zM64.3 69.9h2.8v2.8h-2.8zM56.8 72.4h2.8v2.8h-2.8zM69.3 72.4h2.8v2.8h-2.8zM59.3 87.4h2.8v2.8h-2.8zM66.8 87.4h2.8v2.8h-2.8zM111.8 99.9h2.8v2.8h-2.8zM114.3 129.9h2.8v2.8h-2.8z"/><path fill="#f0a27e" d="M51.8 72.4h2.8v2.8h-2.8zM74.3 72.4h2.8v2.8h-2.8zM119.3 72.4h2.8v2.8h-2.8zM116.8 74.9h2.8v2.8h-2.8zM119.3 74.9h2.8v2.8h-2.8zM114.3 79.9h2.8v2.8h-2.8zM106.8 94.9h2.8v2.8h-2.8zM109.3 127.4h2.8v2.8h-2.8z"/><path fill="#d25448" d="M59.3 72.4h2.8v2.8h-2.8zM66.8 72.4h2.8v2.8h-2.8zM114.3 97.4h2.8v2.8h-2.8zM111.8 104.9h2.8v2.8h-2.8zM111.8 119.9h2.8v2.8h-2.8zM114.3 127.4h2.8v2.8h-2.8z"/><path fill="#cc4842" d="M61.8 72.4h2.8v2.8h-2.8zM64.3 72.4h2.8v2.8h-2.8zM56.8 82.4h2.8v2.8h-2.8zM69.3 82.4h2.8v2.8h-2.8zM59.3 84.9h2.8v2.8h-2.8zM66.8 84.9h2.8v2.8h-2.8zM119.3 94.9h2.8v2.8h-2.8zM111.8 109.9h2.8v2.8h-2.8zM111.8 112.4h2.8v2.8h-2.8zM111.8 114.9h2.8v2.8h-2.8zM116.8 129.9h2.8v2.8h-2.8z"/><path fill="#cc4e48" d="M56.8 74.9h2.8v2.8h-2.8zM69.3 74.9h2.8v2.8h-2.8zM116.8 94.9h2.8v2.8h-2.8z"/><path fill="#c0363c" d="M59.3 74.9h2.8v2.8h-2.8zM66.8 74.9h2.8v2.8h-2.8zM119.3 97.4h2.8v2.8h-2.8zM114.3 102.4h2.8v2.8h-2.8z"/><path fill="#ba2a36" d="M61.8 74.9h2.8v2.8h-2.8zM64.3 74.9h2.8v2.8h-2.8zM59.3 77.4h2.8v2.8h-2.8zM66.8 77.4h2.8v2.8h-2.8zM116.8 99.9h2.8v2.8h-2.8zM114.3 104.9h2.8v2.8h-2.8z"/><path fill="#ea8a6c" d="M51.8 77.4h2.8v2.8h-2.8zM74.3 77.4h2.8v2.8h-2.8zM51.8 79.9h2.8v2.8h-2.8zM74.3 79.9h2.8v2.8h-2.8zM59.3 89.9h2.8v2.8h-2.8zM66.8 89.9h2.8v2.8h-2.8zM109.3 97.4h2.8v2.8h-2.8zM109.3 122.4h2.8v2.8h-2.8z"/><path fill="#d8664e" d="M54.3 77.4h2.8v2.8h-2.8zM71.8 77.4h2.8v2.8h-2.8zM116.8 132.4h2.8v2.8h-2.8z"/><path fill="#c64242" d="M56.8 77.4h2.8v2.8h-2.8zM69.3 77.4h2.8v2.8h-2.8z"/><path fill="#b41e30" d="M61.8 77.4h2.8v2.8h-2.8zM64.3 77.4h2.8v2.8h-2.8zM116.8 102.4h2.8v2.8h-2.8zM114.3 117.4h2.8v2.8h-2.8zM116.8 124.9h2.8v2.8h-2.8z"/><path fill="#f09c78" d="M119.3 77.4h2.8v2.8h-2.8zM56.8 89.9h2.8v2.8h-2.8zM69.3 89.9h2.8v2.8h-2.8zM106.8 99.9h2.8v2.8h-2.8zM106.8 114.9h2.8v2.8h-2.8z"/><path fill="#d8604e" d="M54.3 79.9h2.8v2.8h-2.8zM71.8 79.9h2.8v2.8h-2.8zM56.8 84.9h2.8v2.8h-2.8zM69.3 84.9h2.8v2.8h-2.8zM116.8 92.4h2.8v2.8h-2.8zM114.3 94.9h2.8v2.8h-2.8zM111.8 122.4h2.8v2.8h-2.8z"/><path fill="#c6423c" d="M56.8 79.9h2.8v2.8h-2.8zM69.3 79.9h2.8v2.8h-2.8zM114.3 124.9h2.8v2.8h-2.8zM119.3 129.9h2.8v2.8h-2.8z"/><path fill="#ba2a30" d="M59.3 79.9h2.8v2.8h-2.8zM66.8 79.9h2.8v2.8h-2.8zM119.3 127.4h2.8v2.8h-2.8z"/><path fill="#b4182a" d="M61.8 79.9h2.8v2.8h-2.8zM64.3 79.9h2.8v2.8h-2.8zM114.3 112.4h2.8v2.8h-2.8zM114.3 114.9h2.8v2.8h-2.8z"/><path fill="#ea9678" d="M119.3 79.9h2.8v2.8h-2.8zM106.8 109.9h2.8v2.8h-2.8z"/><path fill="#b4d2e4" d="M9.3 82.4h2.8v2.8h-2.8z"/><path fill="#d86c54" d="M54.3 82.4h2.8v2.8h-2.8zM71.8 82.4h2.8v2.8h-2.8zM119.3 89.9h2.8v2.8h-2.8z"/><path fill="#c03036" d="M59.3 82.4h2.8v2.8h-2.8zM66.8 82.4h2.8v2.8h-2.8zM114.3 122.4h2.8v2.8h-2.8z"/><path fill="#ba2430" d="M61.8 82.4h2.8v2.8h-2.8zM64.3 82.4h2.8v2.8h-2.8zM119.3 99.9h2.8v2.8h-2.8zM114.3 107.4h2.8v2.8h-2.8zM114.3 119.9h2.8v2.8h-2.8z"/><path fill="#ea8a72" d="M119.3 82.4h2.8v2.8h-2.8zM111.8 129.9h2.8v2.8h-2.8zM119.3 137.4h2.8v2.8h-2.8z"/><path fill="#e47e60" d="M54.3 84.9h2.8v2.8h-2.8zM71.8 84.9h2.8v2.8h-2.8zM116.8 87.4h2.8v2.8h-2.8zM114.3 89.9h2.8v2.8h-2.8zM109.3 117.4h2.8v2.8h-2.8zM111.8 127.4h2.8v2.8h-2.8zM116.8 134.9h2.8v2.8h-2.8z"/><path fill="#c63c3c" d="M61.8 84.9h2.8v2.8h-2.8zM64.3 84.9h2.8v2.8h-2.8zM116.8 97.4h2.8v2.8h-2.8z"/><path fill="#e4846c" d="M116.8 84.9h2.8v2.8h-2.8zM114.3 87.4h2.8v2.8h-2.8z"/><path fill="#ea9672" d="M54.3 87.4h2.8v2.8h-2.8zM71.8 87.4h2.8v2.8h-2.8zM106.8 107.4h2.8v2.8h-2.8zM116.8 137.4h2.8v2.8h-2.8z"/><path fill="#e47860" d="M56.8 87.4h2.8v2.8h-2.8zM69.3 87.4h2.8v2.8h-2.8zM111.8 94.9h2.8v2.8h-2.8z"/><path fill="#d2604e" d="M61.8 87.4h2.8v2.8h-2.8zM64.3 87.4h2.8v2.8h-2.8z"/><path fill="#de7860" d="M119.3 87.4h2.8v2.8h-2.8zM109.3 104.9h2.8v2.8h-2.8zM109.3 107.4h2.8v2.8h-2.8zM109.3 114.9h2.8v2.8h-2.8z"/><path fill="#de6c5a" d="M116.8 89.9h2.8v2.8h-2.8zM111.8 124.9h2.8v2.8h-2.8z"/><path fill="#d25a48" d="M119.3 92.4h2.8v2.8h-2.8zM119.3 132.4h2.8v2.8h-2.8z"/><path fill="#c64842" d="M114.3 99.9h2.8v2.8h-2.8z"/><path fill="#e47e66" d="M109.3 102.4h2.8v2.8h-2.8zM114.3 132.4h2.8v2.8h-2.8z"/><path fill="#d25a4e" d="M111.8 102.4h2.8v2.8h-2.8z"/><path fill="#ae182a" d="M119.3 102.4h2.8v2.8h-2.8zM119.3 124.9h2.8v2.8h-2.8z"/><path fill="#a8122a" d="M116.8 104.9h2.8v2.8h-2.8zM116.8 122.4h2.8v2.8h-2.8z"/><path fill="#9c122a" d="M119.3 104.9h2.8v2.8h-2.8zM116.8 107.4h2.8v2.8h-2.8z"/><path fill="#cc4e42" d="M111.8 107.4h2.8v2.8h-2.8zM111.8 117.4h2.8v2.8h-2.8z"/><path fill="#900c24" d="M119.3 107.4h2.8v2.8h-2.8zM116.8 109.9h2.8v2.8h-2.8zM116.8 117.4h2.8v2.8h-2.8z"/><path fill="#b41e2a" d="M114.3 109.9h2.8v2.8h-2.8z"/><path fill="#840c24" d="M119.3 109.9h2.8v2.8h-2.8z"/><path fill="#8a0c24" d="M116.8 112.4h2.8v2.8h-2.8zM116.8 114.9h2.8v2.8h-2.8zM119.3 119.9h2.8v2.8h-2.8z"/><path fill="#7e0624" d="M119.3 112.4h2.8v2.8h-2.8zM119.3 114.9h2.8v2.8h-2.8zM119.3 117.4h2.8v2.8h-2.8z"/><path fill="#2a78b4" d="M1.8 117.4h2.8v2.8h-2.8zM1.8 122.4h2.8v2.8h-2.8z"/><path fill="#961224" d="M116.8 119.9h2.8v2.8h-2.8zM119.3 122.4h2.8v2.8h-2.8z"/><path fill="#c03636" d="M116.8 127.4h2.8v2.8h-2.8z"/></g></g><use href="#arr"/><circle cx="64.3" cy="80.3" r="18.6" fill="none" stroke="#111" stroke-width="1.7"/><circle cx="64.3" cy="80.3" r="15.5" fill="none" stroke="#111" stroke-width="1.2" stroke-dasharray="3 2.2"/><circle cx="64" cy="80.6" r="2.4" fill="none" stroke="#111" stroke-width="1.2"/><rect x="0.25" y="0.25" width="119.5" height="139.9" fill="none" stroke="#c4c4c4" stroke-width="0.7"/><path d="M24.1 0v1.8M24.1 140.4v-1.8M48.2 0v1.8M48.2 140.4v-1.8M72.3 0v1.8M72.3 140.4v-1.8M96.4 0v1.8M96.4 140.4v-1.8M0 38.3h1.8M120.0 38.3h-1.8M0 73.7h1.8M120.0 73.7h-1.8M0 108.5h1.8M120.0 108.5h-1.8" stroke="#999" stroke-width="0.6" fill="none"/></g><rect x="323.8" y="7" width="7.2" height="140" fill="url(#cb)"/><g transform="translate(379.4,6.6)"><rect x="0" y="0" width="120" height="140.4" fill="#fff"/><g clip-path="url(#dc)"><g filter="url(#bl)"><path fill="#fce4d8" d="M-0.7 2.4h2.8v2.8h-2.8zM56.8 2.4h2.8v2.8h-2.8zM56.8 7.4h2.8v2.8h-2.8zM54.3 9.9h2.8v2.8h-2.8zM1.8 12.4h2.8v2.8h-2.8zM4.3 12.4h2.8v2.8h-2.8zM41.8 12.4h2.8v2.8h-2.8zM44.3 12.4h2.8v2.8h-2.8zM46.8 12.4h2.8v2.8h-2.8zM86.8 47.4h2.8v2.8h-2.8zM89.3 47.4h2.8v2.8h-2.8zM91.8 47.4h2.8v2.8h-2.8zM94.3 47.4h2.8v2.8h-2.8zM49.3 49.9h2.8v2.8h-2.8zM51.8 49.9h2.8v2.8h-2.8zM54.3 49.9h2.8v2.8h-2.8zM56.8 49.9h2.8v2.8h-2.8zM59.3 49.9h2.8v2.8h-2.8zM61.8 49.9h2.8v2.8h-2.8zM64.3 49.9h2.8v2.8h-2.8zM81.8 49.9h2.8v2.8h-2.8zM84.3 49.9h2.8v2.8h-2.8zM29.3 52.4h2.8v2.8h-2.8zM31.8 52.4h2.8v2.8h-2.8zM34.3 52.4h2.8v2.8h-2.8zM36.8 52.4h2.8v2.8h-2.8zM39.3 52.4h2.8v2.8h-2.8zM41.8 52.4h2.8v2.8h-2.8zM44.3 52.4h2.8v2.8h-2.8zM66.8 52.4h2.8v2.8h-2.8zM79.3 52.4h2.8v2.8h-2.8zM81.8 52.4h2.8v2.8h-2.8zM96.8 52.4h2.8v2.8h-2.8zM24.3 54.9h2.8v2.8h-2.8zM66.8 54.9h2.8v2.8h-2.8zM69.3 54.9h2.8v2.8h-2.8zM79.3 54.9h2.8v2.8h-2.8zM19.3 57.4h2.8v2.8h-2.8zM61.8 57.4h2.8v2.8h-2.8zM64.3 57.4h2.8v2.8h-2.8zM79.3 57.4h2.8v2.8h-2.8zM99.3 57.4h2.8v2.8h-2.8zM54.3 59.9h2.8v2.8h-2.8zM56.8 59.9h2.8v2.8h-2.8zM79.3 59.9h2.8v2.8h-2.8zM99.3 59.9h2.8v2.8h-2.8zM16.8 62.4h2.8v2.8h-2.8zM51.8 62.4h2.8v2.8h-2.8zM79.3 62.4h2.8v2.8h-2.8zM49.3 64.9h2.8v2.8h-2.8zM79.3 64.9h2.8v2.8h-2.8zM79.3 67.4h2.8v2.8h-2.8zM16.8 69.9h2.8v2.8h-2.8zM101.8 69.9h2.8v2.8h-2.8zM101.8 72.4h2.8v2.8h-2.8zM19.3 74.9h2.8v2.8h-2.8zM101.8 74.9h2.8v2.8h-2.8zM21.8 77.4h2.8v2.8h-2.8zM101.8 77.4h2.8v2.8h-2.8zM41.8 79.9h2.8v2.8h-2.8zM101.8 79.9h2.8v2.8h-2.8zM29.3 82.4h2.8v2.8h-2.8zM31.8 82.4h2.8v2.8h-2.8zM36.8 82.4h2.8v2.8h-2.8zM39.3 82.4h2.8v2.8h-2.8zM101.8 82.4h2.8v2.8h-2.8zM99.3 87.4h2.8v2.8h-2.8zM99.3 89.9h2.8v2.8h-2.8zM99.3 92.4h2.8v2.8h-2.8zM111.8 92.4h2.8v2.8h-2.8zM114.3 92.4h2.8v2.8h-2.8zM99.3 94.9h2.8v2.8h-2.8zM109.3 94.9h2.8v2.8h-2.8zM116.8 94.9h2.8v2.8h-2.8zM99.3 97.4h2.8v2.8h-2.8zM109.3 97.4h2.8v2.8h-2.8zM116.8 97.4h2.8v2.8h-2.8zM64.3 99.9h2.8v2.8h-2.8zM99.3 99.9h2.8v2.8h-2.8zM109.3 99.9h2.8v2.8h-2.8zM116.8 99.9h2.8v2.8h-2.8zM61.8 102.4h2.8v2.8h-2.8zM101.8 102.4h2.8v2.8h-2.8zM109.3 102.4h2.8v2.8h-2.8zM116.8 102.4h2.8v2.8h-2.8zM101.8 104.9h2.8v2.8h-2.8zM109.3 104.9h2.8v2.8h-2.8zM116.8 104.9h2.8v2.8h-2.8zM59.3 107.4h2.8v2.8h-2.8zM99.3 107.4h2.8v2.8h-2.8zM111.8 107.4h2.8v2.8h-2.8zM114.3 107.4h2.8v2.8h-2.8zM59.3 109.9h2.8v2.8h-2.8zM99.3 109.9h2.8v2.8h-2.8zM61.8 112.4h2.8v2.8h-2.8zM96.8 112.4h2.8v2.8h-2.8zM64.3 114.9h2.8v2.8h-2.8zM91.8 114.9h2.8v2.8h-2.8zM94.3 114.9h2.8v2.8h-2.8zM69.3 117.4h2.8v2.8h-2.8zM71.8 117.4h2.8v2.8h-2.8zM74.3 117.4h2.8v2.8h-2.8zM76.8 117.4h2.8v2.8h-2.8zM79.3 117.4h2.8v2.8h-2.8zM81.8 117.4h2.8v2.8h-2.8zM4.3 122.4h2.8v2.8h-2.8zM6.8 122.4h2.8v2.8h-2.8zM9.3 122.4h2.8v2.8h-2.8zM11.8 122.4h2.8v2.8h-2.8zM14.3 122.4h2.8v2.8h-2.8zM16.8 122.4h2.8v2.8h-2.8zM19.3 122.4h2.8v2.8h-2.8zM104.3 122.4h2.8v2.8h-2.8zM-0.7 124.9h2.8v2.8h-2.8zM21.8 124.9h2.8v2.8h-2.8zM116.8 124.9h2.8v2.8h-2.8zM-0.7 127.4h2.8v2.8h-2.8zM24.3 127.4h2.8v2.8h-2.8zM-0.7 129.9h2.8v2.8h-2.8zM21.8 129.9h2.8v2.8h-2.8zM1.8 132.4h2.8v2.8h-2.8zM4.3 132.4h2.8v2.8h-2.8zM19.3 132.4h2.8v2.8h-2.8zM96.8 132.4h2.8v2.8h-2.8zM116.8 132.4h2.8v2.8h-2.8zM99.3 134.9h2.8v2.8h-2.8zM114.3 134.9h2.8v2.8h-2.8z"/><path fill="#fce4d2" d="M1.8 2.4h2.8v2.8h-2.8zM54.3 2.4h2.8v2.8h-2.8zM56.8 4.9h2.8v2.8h-2.8zM-0.7 9.9h2.8v2.8h-2.8zM51.8 9.9h2.8v2.8h-2.8zM6.8 12.4h2.8v2.8h-2.8zM36.8 12.4h2.8v2.8h-2.8zM39.3 12.4h2.8v2.8h-2.8zM86.8 49.9h2.8v2.8h-2.8zM94.3 49.9h2.8v2.8h-2.8zM46.8 52.4h2.8v2.8h-2.8zM49.3 52.4h2.8v2.8h-2.8zM61.8 52.4h2.8v2.8h-2.8zM64.3 52.4h2.8v2.8h-2.8zM26.8 54.9h2.8v2.8h-2.8zM64.3 54.9h2.8v2.8h-2.8zM81.8 54.9h2.8v2.8h-2.8zM96.8 54.9h2.8v2.8h-2.8zM21.8 57.4h2.8v2.8h-2.8zM56.8 57.4h2.8v2.8h-2.8zM59.3 57.4h2.8v2.8h-2.8zM19.3 59.9h2.8v2.8h-2.8zM49.3 59.9h2.8v2.8h-2.8zM51.8 59.9h2.8v2.8h-2.8zM49.3 62.4h2.8v2.8h-2.8zM99.3 62.4h2.8v2.8h-2.8zM16.8 64.9h2.8v2.8h-2.8zM16.8 67.4h2.8v2.8h-2.8zM26.8 79.9h2.8v2.8h-2.8zM34.3 82.4h2.8v2.8h-2.8zM81.8 84.9h2.8v2.8h-2.8zM99.3 84.9h2.8v2.8h-2.8zM81.8 87.4h2.8v2.8h-2.8zM81.8 89.9h2.8v2.8h-2.8zM79.3 92.4h2.8v2.8h-2.8zM111.8 94.9h2.8v2.8h-2.8zM114.3 94.9h2.8v2.8h-2.8zM99.3 102.4h2.8v2.8h-2.8zM61.8 104.9h2.8v2.8h-2.8zM99.3 104.9h2.8v2.8h-2.8zM111.8 104.9h2.8v2.8h-2.8zM114.3 104.9h2.8v2.8h-2.8zM61.8 107.4h2.8v2.8h-2.8zM61.8 109.9h2.8v2.8h-2.8zM96.8 109.9h2.8v2.8h-2.8zM64.3 112.4h2.8v2.8h-2.8zM94.3 112.4h2.8v2.8h-2.8zM66.8 114.9h2.8v2.8h-2.8zM89.3 114.9h2.8v2.8h-2.8zM111.8 122.4h2.8v2.8h-2.8zM1.8 124.9h2.8v2.8h-2.8zM19.3 124.9h2.8v2.8h-2.8zM99.3 124.9h2.8v2.8h-2.8zM21.8 127.4h2.8v2.8h-2.8zM96.8 127.4h2.8v2.8h-2.8zM1.8 129.9h2.8v2.8h-2.8zM19.3 129.9h2.8v2.8h-2.8zM6.8 132.4h2.8v2.8h-2.8zM14.3 132.4h2.8v2.8h-2.8zM16.8 132.4h2.8v2.8h-2.8z"/><path fill="#fcded2" d="M4.3 2.4h2.8v2.8h-2.8zM9.3 12.4h2.8v2.8h-2.8zM34.3 12.4h2.8v2.8h-2.8zM89.3 49.9h2.8v2.8h-2.8zM91.8 49.9h2.8v2.8h-2.8zM51.8 52.4h2.8v2.8h-2.8zM54.3 52.4h2.8v2.8h-2.8zM56.8 52.4h2.8v2.8h-2.8zM59.3 52.4h2.8v2.8h-2.8zM84.3 52.4h2.8v2.8h-2.8zM29.3 54.9h2.8v2.8h-2.8zM31.8 54.9h2.8v2.8h-2.8zM34.3 54.9h2.8v2.8h-2.8zM36.8 54.9h2.8v2.8h-2.8zM39.3 54.9h2.8v2.8h-2.8zM41.8 54.9h2.8v2.8h-2.8zM44.3 54.9h2.8v2.8h-2.8zM46.8 54.9h2.8v2.8h-2.8zM61.8 54.9h2.8v2.8h-2.8zM51.8 57.4h2.8v2.8h-2.8zM54.3 57.4h2.8v2.8h-2.8zM81.8 57.4h2.8v2.8h-2.8zM46.8 64.9h2.8v2.8h-2.8zM46.8 67.4h2.8v2.8h-2.8zM19.3 72.4h2.8v2.8h-2.8zM39.3 79.9h2.8v2.8h-2.8zM99.3 82.4h2.8v2.8h-2.8zM96.8 89.9h2.8v2.8h-2.8zM96.8 92.4h2.8v2.8h-2.8zM76.8 94.9h2.8v2.8h-2.8zM96.8 94.9h2.8v2.8h-2.8zM71.8 97.4h2.8v2.8h-2.8zM96.8 97.4h2.8v2.8h-2.8zM111.8 97.4h2.8v2.8h-2.8zM66.8 99.9h2.8v2.8h-2.8zM64.3 102.4h2.8v2.8h-2.8zM111.8 102.4h2.8v2.8h-2.8zM114.3 102.4h2.8v2.8h-2.8zM69.3 114.9h2.8v2.8h-2.8zM106.8 122.4h2.8v2.8h-2.8zM109.3 122.4h2.8v2.8h-2.8zM1.8 127.4h2.8v2.8h-2.8zM116.8 127.4h2.8v2.8h-2.8zM96.8 129.9h2.8v2.8h-2.8zM116.8 129.9h2.8v2.8h-2.8zM9.3 132.4h2.8v2.8h-2.8zM11.8 132.4h2.8v2.8h-2.8zM111.8 134.9h2.8v2.8h-2.8z"/><path fill="#fcdecc" d="M6.8 2.4h2.8v2.8h-2.8zM51.8 2.4h2.8v2.8h-2.8zM-0.7 4.9h2.8v2.8h-2.8zM1.8 4.9h2.8v2.8h-2.8zM54.3 4.9h2.8v2.8h-2.8zM-0.7 7.4h2.8v2.8h-2.8zM54.3 7.4h2.8v2.8h-2.8zM1.8 9.9h2.8v2.8h-2.8zM4.3 9.9h2.8v2.8h-2.8zM49.3 9.9h2.8v2.8h-2.8zM11.8 12.4h2.8v2.8h-2.8zM14.3 12.4h2.8v2.8h-2.8zM16.8 12.4h2.8v2.8h-2.8zM19.3 12.4h2.8v2.8h-2.8zM21.8 12.4h2.8v2.8h-2.8zM24.3 12.4h2.8v2.8h-2.8zM26.8 12.4h2.8v2.8h-2.8zM29.3 12.4h2.8v2.8h-2.8zM31.8 12.4h2.8v2.8h-2.8zM86.8 52.4h2.8v2.8h-2.8zM89.3 52.4h2.8v2.8h-2.8zM91.8 52.4h2.8v2.8h-2.8zM94.3 52.4h2.8v2.8h-2.8zM49.3 54.9h2.8v2.8h-2.8zM51.8 54.9h2.8v2.8h-2.8zM54.3 54.9h2.8v2.8h-2.8zM56.8 54.9h2.8v2.8h-2.8zM59.3 54.9h2.8v2.8h-2.8zM84.3 54.9h2.8v2.8h-2.8zM24.3 57.4h2.8v2.8h-2.8zM41.8 57.4h2.8v2.8h-2.8zM44.3 57.4h2.8v2.8h-2.8zM46.8 57.4h2.8v2.8h-2.8zM49.3 57.4h2.8v2.8h-2.8zM96.8 57.4h2.8v2.8h-2.8zM21.8 59.9h2.8v2.8h-2.8zM44.3 59.9h2.8v2.8h-2.8zM46.8 59.9h2.8v2.8h-2.8zM81.8 59.9h2.8v2.8h-2.8zM19.3 62.4h2.8v2.8h-2.8zM46.8 62.4h2.8v2.8h-2.8zM81.8 62.4h2.8v2.8h-2.8zM81.8 64.9h2.8v2.8h-2.8zM99.3 64.9h2.8v2.8h-2.8zM81.8 67.4h2.8v2.8h-2.8zM99.3 67.4h2.8v2.8h-2.8zM19.3 69.9h2.8v2.8h-2.8zM81.8 69.9h2.8v2.8h-2.8zM99.3 69.9h2.8v2.8h-2.8zM44.3 72.4h2.8v2.8h-2.8zM81.8 72.4h2.8v2.8h-2.8zM99.3 72.4h2.8v2.8h-2.8zM21.8 74.9h2.8v2.8h-2.8zM99.3 74.9h2.8v2.8h-2.8zM24.3 77.4h2.8v2.8h-2.8zM41.8 77.4h2.8v2.8h-2.8zM99.3 77.4h2.8v2.8h-2.8zM29.3 79.9h2.8v2.8h-2.8zM31.8 79.9h2.8v2.8h-2.8zM34.3 79.9h2.8v2.8h-2.8zM36.8 79.9h2.8v2.8h-2.8zM99.3 79.9h2.8v2.8h-2.8zM84.3 84.9h2.8v2.8h-2.8zM96.8 84.9h2.8v2.8h-2.8zM84.3 87.4h2.8v2.8h-2.8zM96.8 87.4h2.8v2.8h-2.8zM84.3 89.9h2.8v2.8h-2.8zM81.8 92.4h2.8v2.8h-2.8zM94.3 92.4h2.8v2.8h-2.8zM79.3 94.9h2.8v2.8h-2.8zM94.3 94.9h2.8v2.8h-2.8zM74.3 97.4h2.8v2.8h-2.8zM114.3 97.4h2.8v2.8h-2.8zM69.3 99.9h2.8v2.8h-2.8zM96.8 99.9h2.8v2.8h-2.8zM111.8 99.9h2.8v2.8h-2.8zM114.3 99.9h2.8v2.8h-2.8zM66.8 102.4h2.8v2.8h-2.8zM96.8 102.4h2.8v2.8h-2.8zM64.3 104.9h2.8v2.8h-2.8zM96.8 104.9h2.8v2.8h-2.8zM64.3 107.4h2.8v2.8h-2.8zM96.8 107.4h2.8v2.8h-2.8zM64.3 109.9h2.8v2.8h-2.8zM94.3 109.9h2.8v2.8h-2.8zM66.8 112.4h2.8v2.8h-2.8zM91.8 112.4h2.8v2.8h-2.8zM71.8 114.9h2.8v2.8h-2.8zM74.3 114.9h2.8v2.8h-2.8zM76.8 114.9h2.8v2.8h-2.8zM81.8 114.9h2.8v2.8h-2.8zM84.3 114.9h2.8v2.8h-2.8zM86.8 114.9h2.8v2.8h-2.8zM4.3 124.9h2.8v2.8h-2.8zM6.8 124.9h2.8v2.8h-2.8zM9.3 124.9h2.8v2.8h-2.8zM11.8 124.9h2.8v2.8h-2.8zM14.3 124.9h2.8v2.8h-2.8zM16.8 124.9h2.8v2.8h-2.8zM114.3 124.9h2.8v2.8h-2.8zM4.3 127.4h2.8v2.8h-2.8zM16.8 127.4h2.8v2.8h-2.8zM19.3 127.4h2.8v2.8h-2.8zM4.3 129.9h2.8v2.8h-2.8zM6.8 129.9h2.8v2.8h-2.8zM14.3 129.9h2.8v2.8h-2.8zM16.8 129.9h2.8v2.8h-2.8zM101.8 134.9h2.8v2.8h-2.8z"/><path fill="#fcdec6" d="M9.3 2.4h2.8v2.8h-2.8zM1.8 7.4h2.8v2.8h-2.8zM51.8 7.4h2.8v2.8h-2.8zM46.8 9.9h2.8v2.8h-2.8zM94.3 54.9h2.8v2.8h-2.8zM26.8 57.4h2.8v2.8h-2.8zM39.3 57.4h2.8v2.8h-2.8zM84.3 57.4h2.8v2.8h-2.8zM96.8 59.9h2.8v2.8h-2.8zM44.3 62.4h2.8v2.8h-2.8zM19.3 64.9h2.8v2.8h-2.8zM44.3 64.9h2.8v2.8h-2.8zM19.3 67.4h2.8v2.8h-2.8zM44.3 69.9h2.8v2.8h-2.8zM39.3 77.4h2.8v2.8h-2.8zM94.3 89.9h2.8v2.8h-2.8zM84.3 92.4h2.8v2.8h-2.8zM81.8 94.9h2.8v2.8h-2.8zM76.8 97.4h2.8v2.8h-2.8zM94.3 97.4h2.8v2.8h-2.8zM66.8 109.9h2.8v2.8h-2.8zM69.3 112.4h2.8v2.8h-2.8zM79.3 114.9h2.8v2.8h-2.8zM9.3 129.9h2.8v2.8h-2.8zM11.8 129.9h2.8v2.8h-2.8zM114.3 132.4h2.8v2.8h-2.8z"/><path fill="#fcd8c6" d="M11.8 2.4h2.8v2.8h-2.8zM14.3 2.4h2.8v2.8h-2.8zM49.3 2.4h2.8v2.8h-2.8zM4.3 4.9h2.8v2.8h-2.8zM6.8 9.9h2.8v2.8h-2.8zM44.3 9.9h2.8v2.8h-2.8zM86.8 54.9h2.8v2.8h-2.8zM29.3 57.4h2.8v2.8h-2.8zM31.8 57.4h2.8v2.8h-2.8zM34.3 57.4h2.8v2.8h-2.8zM36.8 57.4h2.8v2.8h-2.8zM41.8 59.9h2.8v2.8h-2.8zM84.3 59.9h2.8v2.8h-2.8zM44.3 67.4h2.8v2.8h-2.8zM41.8 74.9h2.8v2.8h-2.8zM26.8 77.4h2.8v2.8h-2.8zM84.3 82.4h2.8v2.8h-2.8zM96.8 82.4h2.8v2.8h-2.8zM86.8 87.4h2.8v2.8h-2.8zM94.3 87.4h2.8v2.8h-2.8zM86.8 89.9h2.8v2.8h-2.8zM91.8 89.9h2.8v2.8h-2.8zM86.8 92.4h2.8v2.8h-2.8zM91.8 92.4h2.8v2.8h-2.8zM84.3 94.9h2.8v2.8h-2.8zM91.8 94.9h2.8v2.8h-2.8zM71.8 99.9h2.8v2.8h-2.8zM94.3 99.9h2.8v2.8h-2.8zM94.3 102.4h2.8v2.8h-2.8zM66.8 104.9h2.8v2.8h-2.8zM94.3 104.9h2.8v2.8h-2.8zM66.8 107.4h2.8v2.8h-2.8zM94.3 107.4h2.8v2.8h-2.8zM89.3 112.4h2.8v2.8h-2.8zM6.8 127.4h2.8v2.8h-2.8zM9.3 127.4h2.8v2.8h-2.8zM11.8 127.4h2.8v2.8h-2.8zM14.3 127.4h2.8v2.8h-2.8zM99.3 132.4h2.8v2.8h-2.8zM104.3 134.9h2.8v2.8h-2.8zM109.3 134.9h2.8v2.8h-2.8z"/><path fill="#fcd8c0" d="M16.8 2.4h2.8v2.8h-2.8zM19.3 2.4h2.8v2.8h-2.8zM26.8 2.4h2.8v2.8h-2.8zM29.3 2.4h2.8v2.8h-2.8zM31.8 2.4h2.8v2.8h-2.8zM46.8 2.4h2.8v2.8h-2.8zM51.8 4.9h2.8v2.8h-2.8zM4.3 7.4h2.8v2.8h-2.8zM9.3 9.9h2.8v2.8h-2.8zM39.3 9.9h2.8v2.8h-2.8zM41.8 9.9h2.8v2.8h-2.8zM89.3 54.9h2.8v2.8h-2.8zM91.8 54.9h2.8v2.8h-2.8zM94.3 57.4h2.8v2.8h-2.8zM24.3 59.9h2.8v2.8h-2.8zM39.3 59.9h2.8v2.8h-2.8zM21.8 62.4h2.8v2.8h-2.8zM41.8 62.4h2.8v2.8h-2.8zM96.8 62.4h2.8v2.8h-2.8zM21.8 72.4h2.8v2.8h-2.8zM24.3 74.9h2.8v2.8h-2.8zM36.8 77.4h2.8v2.8h-2.8zM84.3 79.9h2.8v2.8h-2.8zM96.8 79.9h2.8v2.8h-2.8zM86.8 84.9h2.8v2.8h-2.8zM94.3 84.9h2.8v2.8h-2.8zM91.8 87.4h2.8v2.8h-2.8zM89.3 89.9h2.8v2.8h-2.8zM89.3 92.4h2.8v2.8h-2.8zM86.8 94.9h2.8v2.8h-2.8zM89.3 94.9h2.8v2.8h-2.8zM79.3 97.4h2.8v2.8h-2.8zM91.8 97.4h2.8v2.8h-2.8zM74.3 99.9h2.8v2.8h-2.8zM69.3 102.4h2.8v2.8h-2.8zM91.8 109.9h2.8v2.8h-2.8zM71.8 112.4h2.8v2.8h-2.8zM86.8 112.4h2.8v2.8h-2.8zM101.8 124.9h2.8v2.8h-2.8zM106.8 134.9h2.8v2.8h-2.8z"/><path fill="#fcd2c0" d="M21.8 2.4h2.8v2.8h-2.8zM24.3 2.4h2.8v2.8h-2.8zM34.3 2.4h2.8v2.8h-2.8zM36.8 2.4h2.8v2.8h-2.8zM39.3 2.4h2.8v2.8h-2.8zM41.8 2.4h2.8v2.8h-2.8zM44.3 2.4h2.8v2.8h-2.8zM6.8 4.9h2.8v2.8h-2.8zM49.3 7.4h2.8v2.8h-2.8zM11.8 9.9h2.8v2.8h-2.8zM36.8 9.9h2.8v2.8h-2.8zM86.8 57.4h2.8v2.8h-2.8zM84.3 62.4h2.8v2.8h-2.8zM96.8 64.9h2.8v2.8h-2.8zM41.8 72.4h2.8v2.8h-2.8zM29.3 77.4h2.8v2.8h-2.8zM84.3 77.4h2.8v2.8h-2.8zM89.3 87.4h2.8v2.8h-2.8zM81.8 97.4h2.8v2.8h-2.8zM69.3 109.9h2.8v2.8h-2.8z"/><path fill="#fceae4" d="M59.3 2.4h2.8v2.8h-2.8zM54.3 12.4h2.8v2.8h-2.8zM1.8 14.9h2.8v2.8h-2.8zM4.3 14.9h2.8v2.8h-2.8zM6.8 14.9h2.8v2.8h-2.8zM31.8 14.9h2.8v2.8h-2.8zM34.3 14.9h2.8v2.8h-2.8zM36.8 14.9h2.8v2.8h-2.8zM39.3 14.9h2.8v2.8h-2.8zM89.3 39.9h2.8v2.8h-2.8zM91.8 39.9h2.8v2.8h-2.8zM84.3 42.4h2.8v2.8h-2.8zM86.8 42.4h2.8v2.8h-2.8zM89.3 42.4h2.8v2.8h-2.8zM91.8 42.4h2.8v2.8h-2.8zM94.3 42.4h2.8v2.8h-2.8zM81.8 44.9h2.8v2.8h-2.8zM84.3 44.9h2.8v2.8h-2.8zM96.8 44.9h2.8v2.8h-2.8zM44.3 47.4h2.8v2.8h-2.8zM46.8 47.4h2.8v2.8h-2.8zM49.3 47.4h2.8v2.8h-2.8zM51.8 47.4h2.8v2.8h-2.8zM61.8 47.4h2.8v2.8h-2.8zM64.3 47.4h2.8v2.8h-2.8zM66.8 47.4h2.8v2.8h-2.8zM79.3 47.4h2.8v2.8h-2.8zM26.8 49.9h2.8v2.8h-2.8zM29.3 49.9h2.8v2.8h-2.8zM31.8 49.9h2.8v2.8h-2.8zM34.3 49.9h2.8v2.8h-2.8zM71.8 49.9h2.8v2.8h-2.8zM74.3 49.9h2.8v2.8h-2.8zM76.8 49.9h2.8v2.8h-2.8zM99.3 49.9h2.8v2.8h-2.8zM21.8 52.4h2.8v2.8h-2.8zM99.3 52.4h2.8v2.8h-2.8zM19.3 54.9h2.8v2.8h-2.8zM16.8 57.4h2.8v2.8h-2.8zM69.3 59.9h2.8v2.8h-2.8zM71.8 59.9h2.8v2.8h-2.8zM74.3 59.9h2.8v2.8h-2.8zM14.3 62.4h2.8v2.8h-2.8zM74.3 62.4h2.8v2.8h-2.8zM101.8 62.4h2.8v2.8h-2.8zM14.3 69.9h2.8v2.8h-2.8zM104.3 74.9h2.8v2.8h-2.8zM104.3 77.4h2.8v2.8h-2.8zM104.3 79.9h2.8v2.8h-2.8zM104.3 82.4h2.8v2.8h-2.8zM29.3 84.9h2.8v2.8h-2.8zM39.3 84.9h2.8v2.8h-2.8zM41.8 84.9h2.8v2.8h-2.8zM104.3 84.9h2.8v2.8h-2.8zM104.3 87.4h2.8v2.8h-2.8zM106.8 87.4h2.8v2.8h-2.8zM109.3 87.4h2.8v2.8h-2.8zM111.8 87.4h2.8v2.8h-2.8zM114.3 87.4h2.8v2.8h-2.8zM104.3 89.9h2.8v2.8h-2.8zM106.8 89.9h2.8v2.8h-2.8zM116.8 89.9h2.8v2.8h-2.8zM104.3 92.4h2.8v2.8h-2.8zM119.3 92.4h2.8v2.8h-2.8zM119.3 94.9h2.8v2.8h-2.8zM119.3 97.4h2.8v2.8h-2.8zM59.3 99.9h2.8v2.8h-2.8zM119.3 99.9h2.8v2.8h-2.8zM56.8 102.4h2.8v2.8h-2.8zM119.3 102.4h2.8v2.8h-2.8zM56.8 104.9h2.8v2.8h-2.8zM119.3 104.9h2.8v2.8h-2.8zM104.3 109.9h2.8v2.8h-2.8zM106.8 109.9h2.8v2.8h-2.8zM116.8 109.9h2.8v2.8h-2.8zM56.8 112.4h2.8v2.8h-2.8zM101.8 112.4h2.8v2.8h-2.8zM104.3 112.4h2.8v2.8h-2.8zM109.3 112.4h2.8v2.8h-2.8zM111.8 112.4h2.8v2.8h-2.8zM114.3 112.4h2.8v2.8h-2.8zM56.8 114.9h2.8v2.8h-2.8zM99.3 114.9h2.8v2.8h-2.8zM56.8 117.4h2.8v2.8h-2.8zM59.3 117.4h2.8v2.8h-2.8zM61.8 117.4h2.8v2.8h-2.8zM89.3 117.4h2.8v2.8h-2.8zM54.3 119.9h2.8v2.8h-2.8zM56.8 119.9h2.8v2.8h-2.8zM59.3 119.9h2.8v2.8h-2.8zM61.8 119.9h2.8v2.8h-2.8zM64.3 119.9h2.8v2.8h-2.8zM66.8 119.9h2.8v2.8h-2.8zM69.3 119.9h2.8v2.8h-2.8zM71.8 119.9h2.8v2.8h-2.8zM74.3 119.9h2.8v2.8h-2.8zM76.8 119.9h2.8v2.8h-2.8zM106.8 119.9h2.8v2.8h-2.8zM109.3 119.9h2.8v2.8h-2.8zM111.8 119.9h2.8v2.8h-2.8zM24.3 122.4h2.8v2.8h-2.8zM26.8 122.4h2.8v2.8h-2.8zM49.3 122.4h2.8v2.8h-2.8zM51.8 122.4h2.8v2.8h-2.8zM101.8 122.4h2.8v2.8h-2.8zM116.8 122.4h2.8v2.8h-2.8zM26.8 124.9h2.8v2.8h-2.8zM29.3 124.9h2.8v2.8h-2.8zM96.8 124.9h2.8v2.8h-2.8zM29.3 127.4h2.8v2.8h-2.8zM94.3 127.4h2.8v2.8h-2.8zM119.3 127.4h2.8v2.8h-2.8zM26.8 129.9h2.8v2.8h-2.8zM119.3 129.9h2.8v2.8h-2.8zM24.3 132.4h2.8v2.8h-2.8zM94.3 132.4h2.8v2.8h-2.8zM-0.7 134.9h2.8v2.8h-2.8zM1.8 134.9h2.8v2.8h-2.8zM19.3 134.9h2.8v2.8h-2.8zM21.8 134.9h2.8v2.8h-2.8zM96.8 134.9h2.8v2.8h-2.8zM116.8 134.9h2.8v2.8h-2.8zM101.8 137.4h2.8v2.8h-2.8zM111.8 137.4h2.8v2.8h-2.8z"/><path fill="#f6f0ea" d="M61.8 2.4h2.8v2.8h-2.8zM61.8 4.9h2.8v2.8h-2.8zM61.8 7.4h2.8v2.8h-2.8zM59.3 9.9h2.8v2.8h-2.8zM56.8 12.4h2.8v2.8h-2.8zM44.3 14.9h2.8v2.8h-2.8zM46.8 14.9h2.8v2.8h-2.8zM49.3 14.9h2.8v2.8h-2.8zM51.8 14.9h2.8v2.8h-2.8zM54.3 14.9h2.8v2.8h-2.8zM9.3 17.4h2.8v2.8h-2.8zM11.8 17.4h2.8v2.8h-2.8zM14.3 17.4h2.8v2.8h-2.8zM16.8 17.4h2.8v2.8h-2.8zM19.3 17.4h2.8v2.8h-2.8zM21.8 17.4h2.8v2.8h-2.8zM24.3 17.4h2.8v2.8h-2.8zM26.8 17.4h2.8v2.8h-2.8zM64.3 22.4h2.8v2.8h-2.8zM66.8 22.4h2.8v2.8h-2.8zM69.3 22.4h2.8v2.8h-2.8zM71.8 22.4h2.8v2.8h-2.8zM74.3 22.4h2.8v2.8h-2.8zM76.8 22.4h2.8v2.8h-2.8zM79.3 22.4h2.8v2.8h-2.8zM61.8 24.9h2.8v2.8h-2.8zM64.3 24.9h2.8v2.8h-2.8zM66.8 24.9h2.8v2.8h-2.8zM69.3 24.9h2.8v2.8h-2.8zM71.8 24.9h2.8v2.8h-2.8zM74.3 24.9h2.8v2.8h-2.8zM76.8 24.9h2.8v2.8h-2.8zM79.3 24.9h2.8v2.8h-2.8zM81.8 24.9h2.8v2.8h-2.8zM84.3 24.9h2.8v2.8h-2.8zM86.8 24.9h2.8v2.8h-2.8zM64.3 27.4h2.8v2.8h-2.8zM66.8 27.4h2.8v2.8h-2.8zM69.3 27.4h2.8v2.8h-2.8zM71.8 27.4h2.8v2.8h-2.8zM74.3 27.4h2.8v2.8h-2.8zM76.8 27.4h2.8v2.8h-2.8zM79.3 27.4h2.8v2.8h-2.8zM81.8 27.4h2.8v2.8h-2.8zM84.3 27.4h2.8v2.8h-2.8zM86.8 27.4h2.8v2.8h-2.8zM89.3 27.4h2.8v2.8h-2.8zM74.3 29.9h2.8v2.8h-2.8zM76.8 29.9h2.8v2.8h-2.8zM79.3 29.9h2.8v2.8h-2.8zM81.8 29.9h2.8v2.8h-2.8zM84.3 29.9h2.8v2.8h-2.8zM86.8 29.9h2.8v2.8h-2.8zM89.3 29.9h2.8v2.8h-2.8zM84.3 32.4h2.8v2.8h-2.8zM86.8 32.4h2.8v2.8h-2.8zM89.3 32.4h2.8v2.8h-2.8zM91.8 32.4h2.8v2.8h-2.8zM84.3 34.9h2.8v2.8h-2.8zM86.8 34.9h2.8v2.8h-2.8zM89.3 34.9h2.8v2.8h-2.8zM91.8 34.9h2.8v2.8h-2.8zM94.3 34.9h2.8v2.8h-2.8zM84.3 37.4h2.8v2.8h-2.8zM86.8 37.4h2.8v2.8h-2.8zM89.3 37.4h2.8v2.8h-2.8zM91.8 37.4h2.8v2.8h-2.8zM94.3 37.4h2.8v2.8h-2.8zM81.8 39.9h2.8v2.8h-2.8zM84.3 39.9h2.8v2.8h-2.8zM94.3 39.9h2.8v2.8h-2.8zM96.8 39.9h2.8v2.8h-2.8zM79.3 42.4h2.8v2.8h-2.8zM81.8 42.4h2.8v2.8h-2.8zM96.8 42.4h2.8v2.8h-2.8zM41.8 44.9h2.8v2.8h-2.8zM44.3 44.9h2.8v2.8h-2.8zM46.8 44.9h2.8v2.8h-2.8zM49.3 44.9h2.8v2.8h-2.8zM51.8 44.9h2.8v2.8h-2.8zM54.3 44.9h2.8v2.8h-2.8zM56.8 44.9h2.8v2.8h-2.8zM59.3 44.9h2.8v2.8h-2.8zM61.8 44.9h2.8v2.8h-2.8zM64.3 44.9h2.8v2.8h-2.8zM66.8 44.9h2.8v2.8h-2.8zM69.3 44.9h2.8v2.8h-2.8zM74.3 44.9h2.8v2.8h-2.8zM76.8 44.9h2.8v2.8h-2.8zM79.3 44.9h2.8v2.8h-2.8zM99.3 44.9h2.8v2.8h-2.8zM26.8 47.4h2.8v2.8h-2.8zM29.3 47.4h2.8v2.8h-2.8zM31.8 47.4h2.8v2.8h-2.8zM34.3 47.4h2.8v2.8h-2.8zM36.8 47.4h2.8v2.8h-2.8zM39.3 47.4h2.8v2.8h-2.8zM71.8 47.4h2.8v2.8h-2.8zM74.3 47.4h2.8v2.8h-2.8zM99.3 47.4h2.8v2.8h-2.8zM21.8 49.9h2.8v2.8h-2.8zM19.3 52.4h2.8v2.8h-2.8zM16.8 54.9h2.8v2.8h-2.8zM101.8 57.4h2.8v2.8h-2.8zM14.3 59.9h2.8v2.8h-2.8zM101.8 59.9h2.8v2.8h-2.8zM11.8 64.9h2.8v2.8h-2.8zM11.8 67.4h2.8v2.8h-2.8zM104.3 69.9h2.8v2.8h-2.8zM14.3 72.4h2.8v2.8h-2.8zM106.8 77.4h2.8v2.8h-2.8zM21.8 79.9h2.8v2.8h-2.8zM106.8 79.9h2.8v2.8h-2.8zM24.3 82.4h2.8v2.8h-2.8zM106.8 82.4h2.8v2.8h-2.8zM109.3 82.4h2.8v2.8h-2.8zM111.8 82.4h2.8v2.8h-2.8zM26.8 84.9h2.8v2.8h-2.8zM106.8 84.9h2.8v2.8h-2.8zM109.3 84.9h2.8v2.8h-2.8zM111.8 84.9h2.8v2.8h-2.8zM114.3 84.9h2.8v2.8h-2.8zM116.8 84.9h2.8v2.8h-2.8zM31.8 87.4h2.8v2.8h-2.8zM34.3 87.4h2.8v2.8h-2.8zM36.8 87.4h2.8v2.8h-2.8zM39.3 87.4h2.8v2.8h-2.8zM41.8 87.4h2.8v2.8h-2.8zM44.3 87.4h2.8v2.8h-2.8zM119.3 87.4h2.8v2.8h-2.8zM119.3 89.9h2.8v2.8h-2.8zM54.3 99.9h2.8v2.8h-2.8zM54.3 102.4h2.8v2.8h-2.8zM54.3 104.9h2.8v2.8h-2.8zM51.8 107.4h2.8v2.8h-2.8zM119.3 107.4h2.8v2.8h-2.8zM51.8 109.9h2.8v2.8h-2.8zM119.3 109.9h2.8v2.8h-2.8zM51.8 112.4h2.8v2.8h-2.8zM116.8 112.4h2.8v2.8h-2.8zM49.3 114.9h2.8v2.8h-2.8zM51.8 114.9h2.8v2.8h-2.8zM104.3 114.9h2.8v2.8h-2.8zM106.8 114.9h2.8v2.8h-2.8zM109.3 114.9h2.8v2.8h-2.8zM111.8 114.9h2.8v2.8h-2.8zM114.3 114.9h2.8v2.8h-2.8zM116.8 114.9h2.8v2.8h-2.8zM44.3 117.4h2.8v2.8h-2.8zM46.8 117.4h2.8v2.8h-2.8zM49.3 117.4h2.8v2.8h-2.8zM51.8 117.4h2.8v2.8h-2.8zM91.8 117.4h2.8v2.8h-2.8zM94.3 117.4h2.8v2.8h-2.8zM96.8 117.4h2.8v2.8h-2.8zM99.3 117.4h2.8v2.8h-2.8zM101.8 117.4h2.8v2.8h-2.8zM104.3 117.4h2.8v2.8h-2.8zM106.8 117.4h2.8v2.8h-2.8zM109.3 117.4h2.8v2.8h-2.8zM111.8 117.4h2.8v2.8h-2.8zM114.3 117.4h2.8v2.8h-2.8zM-0.7 119.9h2.8v2.8h-2.8zM1.8 119.9h2.8v2.8h-2.8zM19.3 119.9h2.8v2.8h-2.8zM21.8 119.9h2.8v2.8h-2.8zM24.3 119.9h2.8v2.8h-2.8zM26.8 119.9h2.8v2.8h-2.8zM29.3 119.9h2.8v2.8h-2.8zM39.3 119.9h2.8v2.8h-2.8zM41.8 119.9h2.8v2.8h-2.8zM44.3 119.9h2.8v2.8h-2.8zM46.8 119.9h2.8v2.8h-2.8zM79.3 119.9h2.8v2.8h-2.8zM81.8 119.9h2.8v2.8h-2.8zM104.3 119.9h2.8v2.8h-2.8zM114.3 119.9h2.8v2.8h-2.8zM116.8 119.9h2.8v2.8h-2.8zM29.3 122.4h2.8v2.8h-2.8zM31.8 122.4h2.8v2.8h-2.8zM34.3 122.4h2.8v2.8h-2.8zM36.8 122.4h2.8v2.8h-2.8zM39.3 122.4h2.8v2.8h-2.8zM41.8 122.4h2.8v2.8h-2.8zM44.3 122.4h2.8v2.8h-2.8zM59.3 122.4h2.8v2.8h-2.8zM61.8 122.4h2.8v2.8h-2.8zM64.3 122.4h2.8v2.8h-2.8zM66.8 122.4h2.8v2.8h-2.8zM69.3 122.4h2.8v2.8h-2.8zM71.8 122.4h2.8v2.8h-2.8zM74.3 122.4h2.8v2.8h-2.8zM119.3 122.4h2.8v2.8h-2.8zM31.8 124.9h2.8v2.8h-2.8zM34.3 124.9h2.8v2.8h-2.8zM36.8 124.9h2.8v2.8h-2.8zM39.3 124.9h2.8v2.8h-2.8zM41.8 124.9h2.8v2.8h-2.8zM44.3 124.9h2.8v2.8h-2.8zM54.3 124.9h2.8v2.8h-2.8zM56.8 124.9h2.8v2.8h-2.8zM59.3 124.9h2.8v2.8h-2.8zM61.8 124.9h2.8v2.8h-2.8zM31.8 127.4h2.8v2.8h-2.8zM34.3 127.4h2.8v2.8h-2.8zM36.8 127.4h2.8v2.8h-2.8zM39.3 127.4h2.8v2.8h-2.8zM41.8 127.4h2.8v2.8h-2.8zM44.3 127.4h2.8v2.8h-2.8zM46.8 127.4h2.8v2.8h-2.8zM49.3 127.4h2.8v2.8h-2.8zM51.8 127.4h2.8v2.8h-2.8zM54.3 127.4h2.8v2.8h-2.8zM56.8 127.4h2.8v2.8h-2.8zM31.8 129.9h2.8v2.8h-2.8zM34.3 129.9h2.8v2.8h-2.8zM91.8 129.9h2.8v2.8h-2.8zM29.3 132.4h2.8v2.8h-2.8zM24.3 134.9h2.8v2.8h-2.8zM26.8 134.9h2.8v2.8h-2.8zM94.3 134.9h2.8v2.8h-2.8zM119.3 134.9h2.8v2.8h-2.8zM-0.7 137.4h2.8v2.8h-2.8zM1.8 137.4h2.8v2.8h-2.8zM4.3 137.4h2.8v2.8h-2.8zM16.8 137.4h2.8v2.8h-2.8zM19.3 137.4h2.8v2.8h-2.8zM21.8 137.4h2.8v2.8h-2.8zM99.3 137.4h2.8v2.8h-2.8zM114.3 137.4h2.8v2.8h-2.8z"/><path fill="#f6f6f0" d="M64.3 2.4h2.8v2.8h-2.8zM64.3 4.9h2.8v2.8h-2.8zM64.3 7.4h2.8v2.8h-2.8zM61.8 12.4h2.8v2.8h-2.8zM59.3 14.9h2.8v2.8h-2.8zM31.8 17.4h2.8v2.8h-2.8zM49.3 17.4h2.8v2.8h-2.8zM51.8 17.4h2.8v2.8h-2.8zM54.3 17.4h2.8v2.8h-2.8zM56.8 17.4h2.8v2.8h-2.8zM59.3 17.4h2.8v2.8h-2.8zM61.8 17.4h2.8v2.8h-2.8zM14.3 19.9h2.8v2.8h-2.8zM16.8 19.9h2.8v2.8h-2.8zM19.3 19.9h2.8v2.8h-2.8zM21.8 19.9h2.8v2.8h-2.8zM56.8 19.9h2.8v2.8h-2.8zM59.3 19.9h2.8v2.8h-2.8zM71.8 19.9h2.8v2.8h-2.8zM74.3 19.9h2.8v2.8h-2.8zM76.8 19.9h2.8v2.8h-2.8zM56.8 22.4h2.8v2.8h-2.8zM86.8 22.4h2.8v2.8h-2.8zM89.3 22.4h2.8v2.8h-2.8zM91.8 22.4h2.8v2.8h-2.8zM56.8 24.9h2.8v2.8h-2.8zM94.3 24.9h2.8v2.8h-2.8zM96.8 24.9h2.8v2.8h-2.8zM56.8 27.4h2.8v2.8h-2.8zM96.8 27.4h2.8v2.8h-2.8zM99.3 27.4h2.8v2.8h-2.8zM59.3 29.9h2.8v2.8h-2.8zM61.8 29.9h2.8v2.8h-2.8zM96.8 29.9h2.8v2.8h-2.8zM99.3 29.9h2.8v2.8h-2.8zM64.3 32.4h2.8v2.8h-2.8zM66.8 32.4h2.8v2.8h-2.8zM69.3 32.4h2.8v2.8h-2.8zM71.8 32.4h2.8v2.8h-2.8zM99.3 32.4h2.8v2.8h-2.8zM71.8 34.9h2.8v2.8h-2.8zM74.3 34.9h2.8v2.8h-2.8zM76.8 34.9h2.8v2.8h-2.8zM99.3 34.9h2.8v2.8h-2.8zM74.3 37.4h2.8v2.8h-2.8zM76.8 37.4h2.8v2.8h-2.8zM99.3 37.4h2.8v2.8h-2.8zM74.3 39.9h2.8v2.8h-2.8zM76.8 39.9h2.8v2.8h-2.8zM34.3 42.4h2.8v2.8h-2.8zM36.8 42.4h2.8v2.8h-2.8zM39.3 42.4h2.8v2.8h-2.8zM41.8 42.4h2.8v2.8h-2.8zM44.3 42.4h2.8v2.8h-2.8zM46.8 42.4h2.8v2.8h-2.8zM49.3 42.4h2.8v2.8h-2.8zM51.8 42.4h2.8v2.8h-2.8zM54.3 42.4h2.8v2.8h-2.8zM59.3 42.4h2.8v2.8h-2.8zM61.8 42.4h2.8v2.8h-2.8zM64.3 42.4h2.8v2.8h-2.8zM66.8 42.4h2.8v2.8h-2.8zM69.3 42.4h2.8v2.8h-2.8zM71.8 42.4h2.8v2.8h-2.8zM26.8 44.9h2.8v2.8h-2.8zM16.8 52.4h2.8v2.8h-2.8zM101.8 52.4h2.8v2.8h-2.8zM14.3 57.4h2.8v2.8h-2.8zM11.8 62.4h2.8v2.8h-2.8zM104.3 64.9h2.8v2.8h-2.8zM11.8 72.4h2.8v2.8h-2.8zM106.8 72.4h2.8v2.8h-2.8zM14.3 74.9h2.8v2.8h-2.8zM109.3 77.4h2.8v2.8h-2.8zM111.8 79.9h2.8v2.8h-2.8zM114.3 79.9h2.8v2.8h-2.8zM119.3 82.4h2.8v2.8h-2.8zM31.8 89.9h2.8v2.8h-2.8zM41.8 92.4h2.8v2.8h-2.8zM44.3 92.4h2.8v2.8h-2.8zM46.8 92.4h2.8v2.8h-2.8zM51.8 97.4h2.8v2.8h-2.8zM51.8 99.9h2.8v2.8h-2.8zM49.3 107.4h2.8v2.8h-2.8zM46.8 109.9h2.8v2.8h-2.8zM44.3 112.4h2.8v2.8h-2.8zM39.3 114.9h2.8v2.8h-2.8zM41.8 114.9h2.8v2.8h-2.8zM24.3 117.4h2.8v2.8h-2.8zM26.8 117.4h2.8v2.8h-2.8zM29.3 117.4h2.8v2.8h-2.8zM31.8 117.4h2.8v2.8h-2.8zM34.3 117.4h2.8v2.8h-2.8zM36.8 117.4h2.8v2.8h-2.8zM119.3 117.4h2.8v2.8h-2.8zM84.3 119.9h2.8v2.8h-2.8zM119.3 119.9h2.8v2.8h-2.8zM79.3 122.4h2.8v2.8h-2.8zM74.3 124.9h2.8v2.8h-2.8zM76.8 124.9h2.8v2.8h-2.8zM94.3 124.9h2.8v2.8h-2.8zM66.8 127.4h2.8v2.8h-2.8zM69.3 127.4h2.8v2.8h-2.8zM71.8 127.4h2.8v2.8h-2.8zM74.3 127.4h2.8v2.8h-2.8zM76.8 127.4h2.8v2.8h-2.8zM89.3 127.4h2.8v2.8h-2.8zM59.3 129.9h2.8v2.8h-2.8zM61.8 129.9h2.8v2.8h-2.8zM64.3 129.9h2.8v2.8h-2.8zM89.3 129.9h2.8v2.8h-2.8zM36.8 132.4h2.8v2.8h-2.8zM39.3 132.4h2.8v2.8h-2.8zM41.8 132.4h2.8v2.8h-2.8zM44.3 132.4h2.8v2.8h-2.8zM46.8 132.4h2.8v2.8h-2.8zM49.3 132.4h2.8v2.8h-2.8zM51.8 132.4h2.8v2.8h-2.8zM54.3 132.4h2.8v2.8h-2.8zM56.8 132.4h2.8v2.8h-2.8zM89.3 132.4h2.8v2.8h-2.8zM31.8 134.9h2.8v2.8h-2.8zM34.3 134.9h2.8v2.8h-2.8zM36.8 134.9h2.8v2.8h-2.8zM91.8 134.9h2.8v2.8h-2.8zM29.3 137.4h2.8v2.8h-2.8zM31.8 137.4h2.8v2.8h-2.8zM94.3 137.4h2.8v2.8h-2.8zM119.3 137.4h2.8v2.8h-2.8z"/><path fill="#f6f6f6" d="M66.8 2.4h2.8v2.8h-2.8zM116.8 2.4h2.8v2.8h-2.8zM119.3 2.4h2.8v2.8h-2.8zM66.8 4.9h2.8v2.8h-2.8zM119.3 4.9h2.8v2.8h-2.8zM66.8 7.4h2.8v2.8h-2.8zM119.3 7.4h2.8v2.8h-2.8zM64.3 9.9h2.8v2.8h-2.8zM119.3 9.9h2.8v2.8h-2.8zM64.3 12.4h2.8v2.8h-2.8zM119.3 12.4h2.8v2.8h-2.8zM61.8 14.9h2.8v2.8h-2.8zM64.3 14.9h2.8v2.8h-2.8zM66.8 14.9h2.8v2.8h-2.8zM116.8 14.9h2.8v2.8h-2.8zM119.3 14.9h2.8v2.8h-2.8zM34.3 17.4h2.8v2.8h-2.8zM36.8 17.4h2.8v2.8h-2.8zM39.3 17.4h2.8v2.8h-2.8zM41.8 17.4h2.8v2.8h-2.8zM44.3 17.4h2.8v2.8h-2.8zM46.8 17.4h2.8v2.8h-2.8zM64.3 17.4h2.8v2.8h-2.8zM66.8 17.4h2.8v2.8h-2.8zM69.3 17.4h2.8v2.8h-2.8zM71.8 17.4h2.8v2.8h-2.8zM74.3 17.4h2.8v2.8h-2.8zM76.8 17.4h2.8v2.8h-2.8zM114.3 17.4h2.8v2.8h-2.8zM116.8 17.4h2.8v2.8h-2.8zM119.3 17.4h2.8v2.8h-2.8zM-0.7 19.9h2.8v2.8h-2.8zM1.8 19.9h2.8v2.8h-2.8zM4.3 19.9h2.8v2.8h-2.8zM6.8 19.9h2.8v2.8h-2.8zM9.3 19.9h2.8v2.8h-2.8zM11.8 19.9h2.8v2.8h-2.8zM24.3 19.9h2.8v2.8h-2.8zM26.8 19.9h2.8v2.8h-2.8zM29.3 19.9h2.8v2.8h-2.8zM49.3 19.9h2.8v2.8h-2.8zM51.8 19.9h2.8v2.8h-2.8zM54.3 19.9h2.8v2.8h-2.8zM79.3 19.9h2.8v2.8h-2.8zM81.8 19.9h2.8v2.8h-2.8zM84.3 19.9h2.8v2.8h-2.8zM86.8 19.9h2.8v2.8h-2.8zM89.3 19.9h2.8v2.8h-2.8zM91.8 19.9h2.8v2.8h-2.8zM94.3 19.9h2.8v2.8h-2.8zM96.8 19.9h2.8v2.8h-2.8zM99.3 19.9h2.8v2.8h-2.8zM101.8 19.9h2.8v2.8h-2.8zM104.3 19.9h2.8v2.8h-2.8zM106.8 19.9h2.8v2.8h-2.8zM109.3 19.9h2.8v2.8h-2.8zM111.8 19.9h2.8v2.8h-2.8zM114.3 19.9h2.8v2.8h-2.8zM116.8 19.9h2.8v2.8h-2.8zM119.3 19.9h2.8v2.8h-2.8zM-0.7 22.4h2.8v2.8h-2.8zM1.8 22.4h2.8v2.8h-2.8zM6.8 22.4h2.8v2.8h-2.8zM9.3 22.4h2.8v2.8h-2.8zM11.8 22.4h2.8v2.8h-2.8zM14.3 22.4h2.8v2.8h-2.8zM16.8 22.4h2.8v2.8h-2.8zM19.3 22.4h2.8v2.8h-2.8zM21.8 22.4h2.8v2.8h-2.8zM24.3 22.4h2.8v2.8h-2.8zM51.8 22.4h2.8v2.8h-2.8zM54.3 22.4h2.8v2.8h-2.8zM94.3 22.4h2.8v2.8h-2.8zM96.8 22.4h2.8v2.8h-2.8zM99.3 22.4h2.8v2.8h-2.8zM101.8 22.4h2.8v2.8h-2.8zM104.3 22.4h2.8v2.8h-2.8zM106.8 22.4h2.8v2.8h-2.8zM109.3 22.4h2.8v2.8h-2.8zM111.8 22.4h2.8v2.8h-2.8zM114.3 22.4h2.8v2.8h-2.8zM116.8 22.4h2.8v2.8h-2.8zM119.3 22.4h2.8v2.8h-2.8zM11.8 24.9h2.8v2.8h-2.8zM14.3 24.9h2.8v2.8h-2.8zM16.8 24.9h2.8v2.8h-2.8zM19.3 24.9h2.8v2.8h-2.8zM21.8 24.9h2.8v2.8h-2.8zM51.8 24.9h2.8v2.8h-2.8zM54.3 24.9h2.8v2.8h-2.8zM99.3 24.9h2.8v2.8h-2.8zM101.8 24.9h2.8v2.8h-2.8zM104.3 24.9h2.8v2.8h-2.8zM106.8 24.9h2.8v2.8h-2.8zM109.3 24.9h2.8v2.8h-2.8zM111.8 24.9h2.8v2.8h-2.8zM114.3 24.9h2.8v2.8h-2.8zM116.8 24.9h2.8v2.8h-2.8zM119.3 24.9h2.8v2.8h-2.8zM16.8 27.4h2.8v2.8h-2.8zM19.3 27.4h2.8v2.8h-2.8zM21.8 27.4h2.8v2.8h-2.8zM51.8 27.4h2.8v2.8h-2.8zM54.3 27.4h2.8v2.8h-2.8zM101.8 27.4h2.8v2.8h-2.8zM104.3 27.4h2.8v2.8h-2.8zM106.8 27.4h2.8v2.8h-2.8zM109.3 27.4h2.8v2.8h-2.8zM111.8 27.4h2.8v2.8h-2.8zM114.3 27.4h2.8v2.8h-2.8zM116.8 27.4h2.8v2.8h-2.8zM119.3 27.4h2.8v2.8h-2.8zM19.3 29.9h2.8v2.8h-2.8zM21.8 29.9h2.8v2.8h-2.8zM24.3 29.9h2.8v2.8h-2.8zM51.8 29.9h2.8v2.8h-2.8zM54.3 29.9h2.8v2.8h-2.8zM56.8 29.9h2.8v2.8h-2.8zM101.8 29.9h2.8v2.8h-2.8zM104.3 29.9h2.8v2.8h-2.8zM106.8 29.9h2.8v2.8h-2.8zM116.8 29.9h2.8v2.8h-2.8zM119.3 29.9h2.8v2.8h-2.8zM24.3 32.4h2.8v2.8h-2.8zM26.8 32.4h2.8v2.8h-2.8zM46.8 32.4h2.8v2.8h-2.8zM49.3 32.4h2.8v2.8h-2.8zM51.8 32.4h2.8v2.8h-2.8zM54.3 32.4h2.8v2.8h-2.8zM56.8 32.4h2.8v2.8h-2.8zM59.3 32.4h2.8v2.8h-2.8zM61.8 32.4h2.8v2.8h-2.8zM101.8 32.4h2.8v2.8h-2.8zM104.3 32.4h2.8v2.8h-2.8zM119.3 32.4h2.8v2.8h-2.8zM26.8 34.9h2.8v2.8h-2.8zM29.3 34.9h2.8v2.8h-2.8zM31.8 34.9h2.8v2.8h-2.8zM34.3 34.9h2.8v2.8h-2.8zM36.8 34.9h2.8v2.8h-2.8zM39.3 34.9h2.8v2.8h-2.8zM41.8 34.9h2.8v2.8h-2.8zM44.3 34.9h2.8v2.8h-2.8zM46.8 34.9h2.8v2.8h-2.8zM49.3 34.9h2.8v2.8h-2.8zM51.8 34.9h2.8v2.8h-2.8zM54.3 34.9h2.8v2.8h-2.8zM56.8 34.9h2.8v2.8h-2.8zM59.3 34.9h2.8v2.8h-2.8zM61.8 34.9h2.8v2.8h-2.8zM64.3 34.9h2.8v2.8h-2.8zM66.8 34.9h2.8v2.8h-2.8zM69.3 34.9h2.8v2.8h-2.8zM101.8 34.9h2.8v2.8h-2.8zM104.3 34.9h2.8v2.8h-2.8zM119.3 34.9h2.8v2.8h-2.8zM29.3 37.4h2.8v2.8h-2.8zM31.8 37.4h2.8v2.8h-2.8zM34.3 37.4h2.8v2.8h-2.8zM36.8 37.4h2.8v2.8h-2.8zM39.3 37.4h2.8v2.8h-2.8zM41.8 37.4h2.8v2.8h-2.8zM44.3 37.4h2.8v2.8h-2.8zM46.8 37.4h2.8v2.8h-2.8zM49.3 37.4h2.8v2.8h-2.8zM51.8 37.4h2.8v2.8h-2.8zM54.3 37.4h2.8v2.8h-2.8zM56.8 37.4h2.8v2.8h-2.8zM59.3 37.4h2.8v2.8h-2.8zM61.8 37.4h2.8v2.8h-2.8zM64.3 37.4h2.8v2.8h-2.8zM66.8 37.4h2.8v2.8h-2.8zM69.3 37.4h2.8v2.8h-2.8zM71.8 37.4h2.8v2.8h-2.8zM101.8 37.4h2.8v2.8h-2.8zM26.8 39.9h2.8v2.8h-2.8zM29.3 39.9h2.8v2.8h-2.8zM31.8 39.9h2.8v2.8h-2.8zM34.3 39.9h2.8v2.8h-2.8zM36.8 39.9h2.8v2.8h-2.8zM39.3 39.9h2.8v2.8h-2.8zM41.8 39.9h2.8v2.8h-2.8zM44.3 39.9h2.8v2.8h-2.8zM46.8 39.9h2.8v2.8h-2.8zM49.3 39.9h2.8v2.8h-2.8zM51.8 39.9h2.8v2.8h-2.8zM54.3 39.9h2.8v2.8h-2.8zM56.8 39.9h2.8v2.8h-2.8zM59.3 39.9h2.8v2.8h-2.8zM61.8 39.9h2.8v2.8h-2.8zM64.3 39.9h2.8v2.8h-2.8zM66.8 39.9h2.8v2.8h-2.8zM69.3 39.9h2.8v2.8h-2.8zM71.8 39.9h2.8v2.8h-2.8zM101.8 39.9h2.8v2.8h-2.8zM24.3 42.4h2.8v2.8h-2.8zM26.8 42.4h2.8v2.8h-2.8zM29.3 42.4h2.8v2.8h-2.8zM31.8 42.4h2.8v2.8h-2.8zM101.8 42.4h2.8v2.8h-2.8zM21.8 44.9h2.8v2.8h-2.8zM24.3 44.9h2.8v2.8h-2.8zM101.8 44.9h2.8v2.8h-2.8zM19.3 47.4h2.8v2.8h-2.8zM101.8 47.4h2.8v2.8h-2.8zM16.8 49.9h2.8v2.8h-2.8zM101.8 49.9h2.8v2.8h-2.8zM14.3 54.9h2.8v2.8h-2.8zM11.8 59.9h2.8v2.8h-2.8zM104.3 59.9h2.8v2.8h-2.8zM104.3 62.4h2.8v2.8h-2.8zM9.3 64.9h2.8v2.8h-2.8zM9.3 67.4h2.8v2.8h-2.8zM106.8 67.4h2.8v2.8h-2.8zM9.3 69.9h2.8v2.8h-2.8zM106.8 69.9h2.8v2.8h-2.8zM9.3 72.4h2.8v2.8h-2.8zM109.3 72.4h2.8v2.8h-2.8zM119.3 72.4h2.8v2.8h-2.8zM109.3 74.9h2.8v2.8h-2.8zM111.8 74.9h2.8v2.8h-2.8zM114.3 74.9h2.8v2.8h-2.8zM116.8 74.9h2.8v2.8h-2.8zM119.3 74.9h2.8v2.8h-2.8zM16.8 77.4h2.8v2.8h-2.8zM111.8 77.4h2.8v2.8h-2.8zM114.3 77.4h2.8v2.8h-2.8zM116.8 77.4h2.8v2.8h-2.8zM119.3 77.4h2.8v2.8h-2.8zM19.3 79.9h2.8v2.8h-2.8zM116.8 79.9h2.8v2.8h-2.8zM119.3 79.9h2.8v2.8h-2.8zM21.8 82.4h2.8v2.8h-2.8zM24.3 84.9h2.8v2.8h-2.8zM26.8 87.4h2.8v2.8h-2.8zM29.3 89.9h2.8v2.8h-2.8zM31.8 92.4h2.8v2.8h-2.8zM34.3 92.4h2.8v2.8h-2.8zM36.8 92.4h2.8v2.8h-2.8zM39.3 92.4h2.8v2.8h-2.8zM36.8 94.9h2.8v2.8h-2.8zM39.3 94.9h2.8v2.8h-2.8zM41.8 94.9h2.8v2.8h-2.8zM44.3 94.9h2.8v2.8h-2.8zM46.8 94.9h2.8v2.8h-2.8zM49.3 94.9h2.8v2.8h-2.8zM44.3 97.4h2.8v2.8h-2.8zM46.8 97.4h2.8v2.8h-2.8zM49.3 97.4h2.8v2.8h-2.8zM46.8 99.9h2.8v2.8h-2.8zM49.3 99.9h2.8v2.8h-2.8zM46.8 102.4h2.8v2.8h-2.8zM49.3 102.4h2.8v2.8h-2.8zM46.8 104.9h2.8v2.8h-2.8zM49.3 104.9h2.8v2.8h-2.8zM44.3 107.4h2.8v2.8h-2.8zM46.8 107.4h2.8v2.8h-2.8zM41.8 109.9h2.8v2.8h-2.8zM44.3 109.9h2.8v2.8h-2.8zM34.3 112.4h2.8v2.8h-2.8zM36.8 112.4h2.8v2.8h-2.8zM39.3 112.4h2.8v2.8h-2.8zM41.8 112.4h2.8v2.8h-2.8zM24.3 114.9h2.8v2.8h-2.8zM26.8 114.9h2.8v2.8h-2.8zM29.3 114.9h2.8v2.8h-2.8zM31.8 114.9h2.8v2.8h-2.8zM34.3 114.9h2.8v2.8h-2.8zM36.8 114.9h2.8v2.8h-2.8zM-0.7 117.4h2.8v2.8h-2.8zM1.8 117.4h2.8v2.8h-2.8zM4.3 117.4h2.8v2.8h-2.8zM6.8 117.4h2.8v2.8h-2.8zM9.3 117.4h2.8v2.8h-2.8zM11.8 117.4h2.8v2.8h-2.8zM14.3 117.4h2.8v2.8h-2.8zM16.8 117.4h2.8v2.8h-2.8zM19.3 117.4h2.8v2.8h-2.8zM21.8 117.4h2.8v2.8h-2.8zM86.8 119.9h2.8v2.8h-2.8zM89.3 119.9h2.8v2.8h-2.8zM96.8 119.9h2.8v2.8h-2.8zM99.3 119.9h2.8v2.8h-2.8zM81.8 122.4h2.8v2.8h-2.8zM84.3 122.4h2.8v2.8h-2.8zM96.8 122.4h2.8v2.8h-2.8zM79.3 124.9h2.8v2.8h-2.8zM81.8 124.9h2.8v2.8h-2.8zM84.3 124.9h2.8v2.8h-2.8zM86.8 124.9h2.8v2.8h-2.8zM91.8 124.9h2.8v2.8h-2.8zM79.3 127.4h2.8v2.8h-2.8zM81.8 127.4h2.8v2.8h-2.8zM84.3 127.4h2.8v2.8h-2.8zM86.8 127.4h2.8v2.8h-2.8zM66.8 129.9h2.8v2.8h-2.8zM69.3 129.9h2.8v2.8h-2.8zM71.8 129.9h2.8v2.8h-2.8zM74.3 129.9h2.8v2.8h-2.8zM76.8 129.9h2.8v2.8h-2.8zM79.3 129.9h2.8v2.8h-2.8zM81.8 129.9h2.8v2.8h-2.8zM84.3 129.9h2.8v2.8h-2.8zM86.8 129.9h2.8v2.8h-2.8zM59.3 132.4h2.8v2.8h-2.8zM61.8 132.4h2.8v2.8h-2.8zM64.3 132.4h2.8v2.8h-2.8zM66.8 132.4h2.8v2.8h-2.8zM69.3 132.4h2.8v2.8h-2.8zM71.8 132.4h2.8v2.8h-2.8zM74.3 132.4h2.8v2.8h-2.8zM76.8 132.4h2.8v2.8h-2.8zM79.3 132.4h2.8v2.8h-2.8zM81.8 132.4h2.8v2.8h-2.8zM84.3 132.4h2.8v2.8h-2.8zM86.8 132.4h2.8v2.8h-2.8zM39.3 134.9h2.8v2.8h-2.8zM41.8 134.9h2.8v2.8h-2.8zM44.3 134.9h2.8v2.8h-2.8zM46.8 134.9h2.8v2.8h-2.8zM49.3 134.9h2.8v2.8h-2.8zM51.8 134.9h2.8v2.8h-2.8zM54.3 134.9h2.8v2.8h-2.8zM56.8 134.9h2.8v2.8h-2.8zM59.3 134.9h2.8v2.8h-2.8zM61.8 134.9h2.8v2.8h-2.8zM64.3 134.9h2.8v2.8h-2.8zM66.8 134.9h2.8v2.8h-2.8zM69.3 134.9h2.8v2.8h-2.8zM71.8 134.9h2.8v2.8h-2.8zM74.3 134.9h2.8v2.8h-2.8zM76.8 134.9h2.8v2.8h-2.8zM79.3 134.9h2.8v2.8h-2.8zM81.8 134.9h2.8v2.8h-2.8zM84.3 134.9h2.8v2.8h-2.8zM86.8 134.9h2.8v2.8h-2.8zM89.3 134.9h2.8v2.8h-2.8zM34.3 137.4h2.8v2.8h-2.8zM36.8 137.4h2.8v2.8h-2.8zM39.3 137.4h2.8v2.8h-2.8zM41.8 137.4h2.8v2.8h-2.8zM44.3 137.4h2.8v2.8h-2.8zM46.8 137.4h2.8v2.8h-2.8zM49.3 137.4h2.8v2.8h-2.8zM51.8 137.4h2.8v2.8h-2.8zM54.3 137.4h2.8v2.8h-2.8zM56.8 137.4h2.8v2.8h-2.8zM59.3 137.4h2.8v2.8h-2.8zM61.8 137.4h2.8v2.8h-2.8zM64.3 137.4h2.8v2.8h-2.8zM66.8 137.4h2.8v2.8h-2.8zM69.3 137.4h2.8v2.8h-2.8zM71.8 137.4h2.8v2.8h-2.8zM74.3 137.4h2.8v2.8h-2.8zM76.8 137.4h2.8v2.8h-2.8zM79.3 137.4h2.8v2.8h-2.8zM81.8 137.4h2.8v2.8h-2.8zM84.3 137.4h2.8v2.8h-2.8zM86.8 137.4h2.8v2.8h-2.8zM89.3 137.4h2.8v2.8h-2.8zM91.8 137.4h2.8v2.8h-2.8z"/><path fill="#f0f6f6" d="M69.3 2.4h2.8v2.8h-2.8zM71.8 2.4h2.8v2.8h-2.8zM109.3 2.4h2.8v2.8h-2.8zM111.8 2.4h2.8v2.8h-2.8zM114.3 2.4h2.8v2.8h-2.8zM69.3 4.9h2.8v2.8h-2.8zM111.8 4.9h2.8v2.8h-2.8zM114.3 4.9h2.8v2.8h-2.8zM116.8 4.9h2.8v2.8h-2.8zM69.3 7.4h2.8v2.8h-2.8zM111.8 7.4h2.8v2.8h-2.8zM114.3 7.4h2.8v2.8h-2.8zM116.8 7.4h2.8v2.8h-2.8zM66.8 9.9h2.8v2.8h-2.8zM114.3 9.9h2.8v2.8h-2.8zM116.8 9.9h2.8v2.8h-2.8zM66.8 12.4h2.8v2.8h-2.8zM69.3 12.4h2.8v2.8h-2.8zM111.8 12.4h2.8v2.8h-2.8zM114.3 12.4h2.8v2.8h-2.8zM116.8 12.4h2.8v2.8h-2.8zM69.3 14.9h2.8v2.8h-2.8zM71.8 14.9h2.8v2.8h-2.8zM109.3 14.9h2.8v2.8h-2.8zM111.8 14.9h2.8v2.8h-2.8zM114.3 14.9h2.8v2.8h-2.8zM79.3 17.4h2.8v2.8h-2.8zM81.8 17.4h2.8v2.8h-2.8zM84.3 17.4h2.8v2.8h-2.8zM86.8 17.4h2.8v2.8h-2.8zM96.8 17.4h2.8v2.8h-2.8zM99.3 17.4h2.8v2.8h-2.8zM101.8 17.4h2.8v2.8h-2.8zM104.3 17.4h2.8v2.8h-2.8zM106.8 17.4h2.8v2.8h-2.8zM109.3 17.4h2.8v2.8h-2.8zM111.8 17.4h2.8v2.8h-2.8zM31.8 19.9h2.8v2.8h-2.8zM44.3 19.9h2.8v2.8h-2.8zM46.8 19.9h2.8v2.8h-2.8zM4.3 22.4h2.8v2.8h-2.8zM26.8 22.4h2.8v2.8h-2.8zM49.3 22.4h2.8v2.8h-2.8zM-0.7 24.9h2.8v2.8h-2.8zM1.8 24.9h2.8v2.8h-2.8zM4.3 24.9h2.8v2.8h-2.8zM6.8 24.9h2.8v2.8h-2.8zM9.3 24.9h2.8v2.8h-2.8zM24.3 24.9h2.8v2.8h-2.8zM26.8 24.9h2.8v2.8h-2.8zM49.3 24.9h2.8v2.8h-2.8zM11.8 27.4h2.8v2.8h-2.8zM14.3 27.4h2.8v2.8h-2.8zM24.3 27.4h2.8v2.8h-2.8zM26.8 27.4h2.8v2.8h-2.8zM49.3 27.4h2.8v2.8h-2.8zM14.3 29.9h2.8v2.8h-2.8zM16.8 29.9h2.8v2.8h-2.8zM26.8 29.9h2.8v2.8h-2.8zM29.3 29.9h2.8v2.8h-2.8zM46.8 29.9h2.8v2.8h-2.8zM49.3 29.9h2.8v2.8h-2.8zM109.3 29.9h2.8v2.8h-2.8zM111.8 29.9h2.8v2.8h-2.8zM114.3 29.9h2.8v2.8h-2.8zM19.3 32.4h2.8v2.8h-2.8zM21.8 32.4h2.8v2.8h-2.8zM29.3 32.4h2.8v2.8h-2.8zM31.8 32.4h2.8v2.8h-2.8zM34.3 32.4h2.8v2.8h-2.8zM36.8 32.4h2.8v2.8h-2.8zM39.3 32.4h2.8v2.8h-2.8zM41.8 32.4h2.8v2.8h-2.8zM44.3 32.4h2.8v2.8h-2.8zM106.8 32.4h2.8v2.8h-2.8zM109.3 32.4h2.8v2.8h-2.8zM111.8 32.4h2.8v2.8h-2.8zM114.3 32.4h2.8v2.8h-2.8zM116.8 32.4h2.8v2.8h-2.8zM24.3 34.9h2.8v2.8h-2.8zM106.8 34.9h2.8v2.8h-2.8zM116.8 34.9h2.8v2.8h-2.8zM24.3 37.4h2.8v2.8h-2.8zM26.8 37.4h2.8v2.8h-2.8zM104.3 37.4h2.8v2.8h-2.8zM119.3 37.4h2.8v2.8h-2.8zM24.3 39.9h2.8v2.8h-2.8zM104.3 39.9h2.8v2.8h-2.8zM119.3 39.9h2.8v2.8h-2.8zM21.8 42.4h2.8v2.8h-2.8zM104.3 42.4h2.8v2.8h-2.8zM19.3 44.9h2.8v2.8h-2.8zM16.8 47.4h2.8v2.8h-2.8zM14.3 52.4h2.8v2.8h-2.8zM104.3 54.9h2.8v2.8h-2.8zM11.8 57.4h2.8v2.8h-2.8zM104.3 57.4h2.8v2.8h-2.8zM9.3 62.4h2.8v2.8h-2.8zM6.8 64.9h2.8v2.8h-2.8zM106.8 64.9h2.8v2.8h-2.8zM119.3 64.9h2.8v2.8h-2.8zM-0.7 67.4h2.8v2.8h-2.8zM4.3 67.4h2.8v2.8h-2.8zM6.8 67.4h2.8v2.8h-2.8zM119.3 67.4h2.8v2.8h-2.8zM-0.7 69.9h2.8v2.8h-2.8zM1.8 69.9h2.8v2.8h-2.8zM4.3 69.9h2.8v2.8h-2.8zM6.8 69.9h2.8v2.8h-2.8zM109.3 69.9h2.8v2.8h-2.8zM116.8 69.9h2.8v2.8h-2.8zM119.3 69.9h2.8v2.8h-2.8zM-0.7 72.4h2.8v2.8h-2.8zM1.8 72.4h2.8v2.8h-2.8zM6.8 72.4h2.8v2.8h-2.8zM111.8 72.4h2.8v2.8h-2.8zM114.3 72.4h2.8v2.8h-2.8zM116.8 72.4h2.8v2.8h-2.8zM-0.7 74.9h2.8v2.8h-2.8zM11.8 74.9h2.8v2.8h-2.8zM14.3 77.4h2.8v2.8h-2.8zM24.3 87.4h2.8v2.8h-2.8zM26.8 89.9h2.8v2.8h-2.8zM29.3 92.4h2.8v2.8h-2.8zM31.8 94.9h2.8v2.8h-2.8zM34.3 94.9h2.8v2.8h-2.8zM39.3 97.4h2.8v2.8h-2.8zM41.8 97.4h2.8v2.8h-2.8zM44.3 99.9h2.8v2.8h-2.8zM44.3 102.4h2.8v2.8h-2.8zM44.3 104.9h2.8v2.8h-2.8zM41.8 107.4h2.8v2.8h-2.8zM34.3 109.9h2.8v2.8h-2.8zM36.8 109.9h2.8v2.8h-2.8zM39.3 109.9h2.8v2.8h-2.8zM26.8 112.4h2.8v2.8h-2.8zM29.3 112.4h2.8v2.8h-2.8zM31.8 112.4h2.8v2.8h-2.8zM-0.7 114.9h2.8v2.8h-2.8zM1.8 114.9h2.8v2.8h-2.8zM21.8 114.9h2.8v2.8h-2.8zM91.8 119.9h2.8v2.8h-2.8zM94.3 119.9h2.8v2.8h-2.8zM86.8 122.4h2.8v2.8h-2.8zM89.3 124.9h2.8v2.8h-2.8z"/><path fill="#eaf0f6" d="M74.3 2.4h2.8v2.8h-2.8zM76.8 2.4h2.8v2.8h-2.8zM79.3 2.4h2.8v2.8h-2.8zM96.8 2.4h2.8v2.8h-2.8zM99.3 2.4h2.8v2.8h-2.8zM101.8 2.4h2.8v2.8h-2.8zM104.3 2.4h2.8v2.8h-2.8zM71.8 4.9h2.8v2.8h-2.8zM74.3 4.9h2.8v2.8h-2.8zM104.3 4.9h2.8v2.8h-2.8zM106.8 4.9h2.8v2.8h-2.8zM71.8 7.4h2.8v2.8h-2.8zM104.3 7.4h2.8v2.8h-2.8zM106.8 7.4h2.8v2.8h-2.8zM109.3 7.4h2.8v2.8h-2.8zM71.8 9.9h2.8v2.8h-2.8zM104.3 9.9h2.8v2.8h-2.8zM106.8 9.9h2.8v2.8h-2.8zM109.3 9.9h2.8v2.8h-2.8zM71.8 12.4h2.8v2.8h-2.8zM74.3 12.4h2.8v2.8h-2.8zM101.8 12.4h2.8v2.8h-2.8zM104.3 12.4h2.8v2.8h-2.8zM106.8 12.4h2.8v2.8h-2.8zM76.8 14.9h2.8v2.8h-2.8zM79.3 14.9h2.8v2.8h-2.8zM81.8 14.9h2.8v2.8h-2.8zM84.3 14.9h2.8v2.8h-2.8zM94.3 14.9h2.8v2.8h-2.8zM96.8 14.9h2.8v2.8h-2.8zM99.3 14.9h2.8v2.8h-2.8zM101.8 14.9h2.8v2.8h-2.8zM104.3 14.9h2.8v2.8h-2.8zM36.8 19.9h2.8v2.8h-2.8zM39.3 19.9h2.8v2.8h-2.8zM41.8 19.9h2.8v2.8h-2.8zM31.8 22.4h2.8v2.8h-2.8zM44.3 22.4h2.8v2.8h-2.8zM46.8 22.4h2.8v2.8h-2.8zM29.3 24.9h2.8v2.8h-2.8zM46.8 24.9h2.8v2.8h-2.8zM1.8 27.4h2.8v2.8h-2.8zM4.3 27.4h2.8v2.8h-2.8zM6.8 27.4h2.8v2.8h-2.8zM9.3 27.4h2.8v2.8h-2.8zM29.3 27.4h2.8v2.8h-2.8zM31.8 27.4h2.8v2.8h-2.8zM44.3 27.4h2.8v2.8h-2.8zM46.8 27.4h2.8v2.8h-2.8zM-0.7 29.9h2.8v2.8h-2.8zM11.8 29.9h2.8v2.8h-2.8zM34.3 29.9h2.8v2.8h-2.8zM36.8 29.9h2.8v2.8h-2.8zM39.3 29.9h2.8v2.8h-2.8zM41.8 29.9h2.8v2.8h-2.8zM44.3 29.9h2.8v2.8h-2.8zM14.3 32.4h2.8v2.8h-2.8zM19.3 34.9h2.8v2.8h-2.8zM111.8 34.9h2.8v2.8h-2.8zM21.8 37.4h2.8v2.8h-2.8zM109.3 37.4h2.8v2.8h-2.8zM111.8 37.4h2.8v2.8h-2.8zM114.3 37.4h2.8v2.8h-2.8zM21.8 39.9h2.8v2.8h-2.8zM106.8 39.9h2.8v2.8h-2.8zM114.3 39.9h2.8v2.8h-2.8zM116.8 39.9h2.8v2.8h-2.8zM19.3 42.4h2.8v2.8h-2.8zM106.8 42.4h2.8v2.8h-2.8zM116.8 42.4h2.8v2.8h-2.8zM16.8 44.9h2.8v2.8h-2.8zM119.3 44.9h2.8v2.8h-2.8zM14.3 47.4h2.8v2.8h-2.8zM104.3 47.4h2.8v2.8h-2.8zM119.3 47.4h2.8v2.8h-2.8zM14.3 49.9h2.8v2.8h-2.8zM104.3 49.9h2.8v2.8h-2.8zM119.3 49.9h2.8v2.8h-2.8zM119.3 52.4h2.8v2.8h-2.8zM11.8 54.9h2.8v2.8h-2.8zM119.3 54.9h2.8v2.8h-2.8zM119.3 57.4h2.8v2.8h-2.8zM9.3 59.9h2.8v2.8h-2.8zM119.3 59.9h2.8v2.8h-2.8zM-0.7 62.4h2.8v2.8h-2.8zM6.8 62.4h2.8v2.8h-2.8zM106.8 62.4h2.8v2.8h-2.8zM119.3 62.4h2.8v2.8h-2.8zM1.8 64.9h2.8v2.8h-2.8zM4.3 64.9h2.8v2.8h-2.8zM116.8 64.9h2.8v2.8h-2.8zM109.3 67.4h2.8v2.8h-2.8zM111.8 67.4h2.8v2.8h-2.8zM114.3 67.4h2.8v2.8h-2.8zM116.8 67.4h2.8v2.8h-2.8zM111.8 69.9h2.8v2.8h-2.8zM114.3 69.9h2.8v2.8h-2.8zM1.8 74.9h2.8v2.8h-2.8zM4.3 74.9h2.8v2.8h-2.8zM6.8 74.9h2.8v2.8h-2.8zM-0.7 77.4h2.8v2.8h-2.8zM1.8 77.4h2.8v2.8h-2.8zM11.8 77.4h2.8v2.8h-2.8zM-0.7 79.9h2.8v2.8h-2.8zM24.3 89.9h2.8v2.8h-2.8zM26.8 92.4h2.8v2.8h-2.8zM29.3 94.9h2.8v2.8h-2.8zM34.3 97.4h2.8v2.8h-2.8zM39.3 99.9h2.8v2.8h-2.8zM39.3 102.4h2.8v2.8h-2.8zM41.8 102.4h2.8v2.8h-2.8zM39.3 104.9h2.8v2.8h-2.8zM34.3 107.4h2.8v2.8h-2.8zM36.8 107.4h2.8v2.8h-2.8zM29.3 109.9h2.8v2.8h-2.8zM31.8 109.9h2.8v2.8h-2.8zM-0.7 112.4h2.8v2.8h-2.8zM24.3 112.4h2.8v2.8h-2.8zM4.3 114.9h2.8v2.8h-2.8zM6.8 114.9h2.8v2.8h-2.8zM14.3 114.9h2.8v2.8h-2.8zM16.8 114.9h2.8v2.8h-2.8zM89.3 122.4h2.8v2.8h-2.8zM91.8 122.4h2.8v2.8h-2.8z"/><path fill="#e4f0f6" d="M81.8 2.4h2.8v2.8h-2.8zM84.3 2.4h2.8v2.8h-2.8zM86.8 2.4h2.8v2.8h-2.8zM89.3 2.4h2.8v2.8h-2.8zM91.8 2.4h2.8v2.8h-2.8zM94.3 2.4h2.8v2.8h-2.8zM76.8 4.9h2.8v2.8h-2.8zM79.3 4.9h2.8v2.8h-2.8zM96.8 4.9h2.8v2.8h-2.8zM99.3 4.9h2.8v2.8h-2.8zM101.8 4.9h2.8v2.8h-2.8zM74.3 7.4h2.8v2.8h-2.8zM76.8 7.4h2.8v2.8h-2.8zM99.3 7.4h2.8v2.8h-2.8zM101.8 7.4h2.8v2.8h-2.8zM74.3 9.9h2.8v2.8h-2.8zM76.8 9.9h2.8v2.8h-2.8zM99.3 9.9h2.8v2.8h-2.8zM101.8 9.9h2.8v2.8h-2.8zM76.8 12.4h2.8v2.8h-2.8zM79.3 12.4h2.8v2.8h-2.8zM96.8 12.4h2.8v2.8h-2.8zM99.3 12.4h2.8v2.8h-2.8zM86.8 14.9h2.8v2.8h-2.8zM89.3 14.9h2.8v2.8h-2.8zM91.8 14.9h2.8v2.8h-2.8zM34.3 22.4h2.8v2.8h-2.8zM36.8 22.4h2.8v2.8h-2.8zM39.3 22.4h2.8v2.8h-2.8zM41.8 22.4h2.8v2.8h-2.8zM31.8 24.9h2.8v2.8h-2.8zM34.3 24.9h2.8v2.8h-2.8zM44.3 24.9h2.8v2.8h-2.8zM34.3 27.4h2.8v2.8h-2.8zM36.8 27.4h2.8v2.8h-2.8zM39.3 27.4h2.8v2.8h-2.8zM41.8 27.4h2.8v2.8h-2.8zM1.8 29.9h2.8v2.8h-2.8zM4.3 29.9h2.8v2.8h-2.8zM6.8 29.9h2.8v2.8h-2.8zM9.3 29.9h2.8v2.8h-2.8zM-0.7 32.4h2.8v2.8h-2.8zM11.8 32.4h2.8v2.8h-2.8zM16.8 34.9h2.8v2.8h-2.8zM19.3 37.4h2.8v2.8h-2.8zM19.3 39.9h2.8v2.8h-2.8zM109.3 39.9h2.8v2.8h-2.8zM111.8 39.9h2.8v2.8h-2.8zM16.8 42.4h2.8v2.8h-2.8zM114.3 42.4h2.8v2.8h-2.8zM106.8 44.9h2.8v2.8h-2.8zM116.8 44.9h2.8v2.8h-2.8zM116.8 47.4h2.8v2.8h-2.8zM116.8 49.9h2.8v2.8h-2.8zM11.8 52.4h2.8v2.8h-2.8zM9.3 57.4h2.8v2.8h-2.8zM106.8 57.4h2.8v2.8h-2.8zM116.8 57.4h2.8v2.8h-2.8zM-0.7 59.9h2.8v2.8h-2.8zM59.3 59.9h2.8v2.8h-2.8zM106.8 59.9h2.8v2.8h-2.8zM116.8 59.9h2.8v2.8h-2.8zM1.8 62.4h2.8v2.8h-2.8zM4.3 62.4h2.8v2.8h-2.8zM54.3 62.4h2.8v2.8h-2.8zM116.8 62.4h2.8v2.8h-2.8zM109.3 64.9h2.8v2.8h-2.8zM111.8 64.9h2.8v2.8h-2.8zM114.3 64.9h2.8v2.8h-2.8zM46.8 69.9h2.8v2.8h-2.8zM44.3 74.9h2.8v2.8h-2.8zM4.3 77.4h2.8v2.8h-2.8zM6.8 77.4h2.8v2.8h-2.8zM9.3 77.4h2.8v2.8h-2.8zM44.3 77.4h2.8v2.8h-2.8zM1.8 79.9h2.8v2.8h-2.8zM14.3 79.9h2.8v2.8h-2.8zM44.3 79.9h2.8v2.8h-2.8zM-0.7 82.4h2.8v2.8h-2.8zM16.8 82.4h2.8v2.8h-2.8zM44.3 82.4h2.8v2.8h-2.8zM19.3 84.9h2.8v2.8h-2.8zM46.8 84.9h2.8v2.8h-2.8zM21.8 87.4h2.8v2.8h-2.8zM46.8 87.4h2.8v2.8h-2.8zM46.8 89.9h2.8v2.8h-2.8zM49.3 89.9h2.8v2.8h-2.8zM79.3 89.9h2.8v2.8h-2.8zM49.3 92.4h2.8v2.8h-2.8zM51.8 92.4h2.8v2.8h-2.8zM76.8 92.4h2.8v2.8h-2.8zM26.8 94.9h2.8v2.8h-2.8zM51.8 94.9h2.8v2.8h-2.8zM54.3 94.9h2.8v2.8h-2.8zM71.8 94.9h2.8v2.8h-2.8zM74.3 94.9h2.8v2.8h-2.8zM31.8 97.4h2.8v2.8h-2.8zM56.8 97.4h2.8v2.8h-2.8zM59.3 97.4h2.8v2.8h-2.8zM61.8 97.4h2.8v2.8h-2.8zM64.3 97.4h2.8v2.8h-2.8zM66.8 97.4h2.8v2.8h-2.8zM69.3 97.4h2.8v2.8h-2.8zM34.3 99.9h2.8v2.8h-2.8zM36.8 99.9h2.8v2.8h-2.8zM36.8 102.4h2.8v2.8h-2.8zM36.8 104.9h2.8v2.8h-2.8zM31.8 107.4h2.8v2.8h-2.8zM-0.7 109.9h2.8v2.8h-2.8zM24.3 109.9h2.8v2.8h-2.8zM26.8 109.9h2.8v2.8h-2.8zM1.8 112.4h2.8v2.8h-2.8zM19.3 112.4h2.8v2.8h-2.8zM21.8 112.4h2.8v2.8h-2.8zM9.3 114.9h2.8v2.8h-2.8zM11.8 114.9h2.8v2.8h-2.8z"/><path fill="#f0f0f6" d="M106.8 2.4h2.8v2.8h-2.8zM109.3 4.9h2.8v2.8h-2.8zM69.3 9.9h2.8v2.8h-2.8zM111.8 9.9h2.8v2.8h-2.8zM109.3 12.4h2.8v2.8h-2.8zM74.3 14.9h2.8v2.8h-2.8zM106.8 14.9h2.8v2.8h-2.8zM89.3 17.4h2.8v2.8h-2.8zM91.8 17.4h2.8v2.8h-2.8zM94.3 17.4h2.8v2.8h-2.8zM34.3 19.9h2.8v2.8h-2.8zM29.3 22.4h2.8v2.8h-2.8zM-0.7 27.4h2.8v2.8h-2.8zM31.8 29.9h2.8v2.8h-2.8zM16.8 32.4h2.8v2.8h-2.8zM21.8 34.9h2.8v2.8h-2.8zM109.3 34.9h2.8v2.8h-2.8zM114.3 34.9h2.8v2.8h-2.8zM106.8 37.4h2.8v2.8h-2.8zM116.8 37.4h2.8v2.8h-2.8zM119.3 42.4h2.8v2.8h-2.8zM104.3 44.9h2.8v2.8h-2.8zM104.3 52.4h2.8v2.8h-2.8zM-0.7 64.9h2.8v2.8h-2.8zM1.8 67.4h2.8v2.8h-2.8zM4.3 72.4h2.8v2.8h-2.8zM9.3 74.9h2.8v2.8h-2.8zM16.8 79.9h2.8v2.8h-2.8zM19.3 82.4h2.8v2.8h-2.8zM21.8 84.9h2.8v2.8h-2.8zM36.8 97.4h2.8v2.8h-2.8zM41.8 99.9h2.8v2.8h-2.8zM41.8 104.9h2.8v2.8h-2.8zM39.3 107.4h2.8v2.8h-2.8zM19.3 114.9h2.8v2.8h-2.8zM94.3 122.4h2.8v2.8h-2.8z"/><path fill="#fcd2ba" d="M9.3 4.9h2.8v2.8h-2.8zM49.3 4.9h2.8v2.8h-2.8zM6.8 7.4h2.8v2.8h-2.8zM14.3 9.9h2.8v2.8h-2.8zM29.3 9.9h2.8v2.8h-2.8zM31.8 9.9h2.8v2.8h-2.8zM34.3 9.9h2.8v2.8h-2.8zM89.3 57.4h2.8v2.8h-2.8zM91.8 57.4h2.8v2.8h-2.8zM26.8 59.9h2.8v2.8h-2.8zM36.8 59.9h2.8v2.8h-2.8zM86.8 59.9h2.8v2.8h-2.8zM94.3 59.9h2.8v2.8h-2.8zM21.8 64.9h2.8v2.8h-2.8zM41.8 64.9h2.8v2.8h-2.8zM84.3 64.9h2.8v2.8h-2.8zM41.8 67.4h2.8v2.8h-2.8zM84.3 67.4h2.8v2.8h-2.8zM96.8 67.4h2.8v2.8h-2.8zM21.8 69.9h2.8v2.8h-2.8zM41.8 69.9h2.8v2.8h-2.8zM84.3 69.9h2.8v2.8h-2.8zM96.8 69.9h2.8v2.8h-2.8zM84.3 72.4h2.8v2.8h-2.8zM96.8 72.4h2.8v2.8h-2.8zM39.3 74.9h2.8v2.8h-2.8zM84.3 74.9h2.8v2.8h-2.8zM96.8 74.9h2.8v2.8h-2.8zM31.8 77.4h2.8v2.8h-2.8zM34.3 77.4h2.8v2.8h-2.8zM96.8 77.4h2.8v2.8h-2.8zM86.8 82.4h2.8v2.8h-2.8zM94.3 82.4h2.8v2.8h-2.8zM89.3 84.9h2.8v2.8h-2.8zM91.8 84.9h2.8v2.8h-2.8zM84.3 97.4h2.8v2.8h-2.8zM86.8 97.4h2.8v2.8h-2.8zM89.3 97.4h2.8v2.8h-2.8zM76.8 99.9h2.8v2.8h-2.8zM91.8 99.9h2.8v2.8h-2.8zM71.8 102.4h2.8v2.8h-2.8zM91.8 102.4h2.8v2.8h-2.8zM69.3 104.9h2.8v2.8h-2.8zM91.8 104.9h2.8v2.8h-2.8zM69.3 107.4h2.8v2.8h-2.8zM91.8 107.4h2.8v2.8h-2.8zM89.3 109.9h2.8v2.8h-2.8zM74.3 112.4h2.8v2.8h-2.8zM76.8 112.4h2.8v2.8h-2.8zM79.3 112.4h2.8v2.8h-2.8zM81.8 112.4h2.8v2.8h-2.8zM84.3 112.4h2.8v2.8h-2.8zM99.3 127.4h2.8v2.8h-2.8z"/><path fill="#fcccb4" d="M11.8 4.9h2.8v2.8h-2.8zM14.3 4.9h2.8v2.8h-2.8zM46.8 4.9h2.8v2.8h-2.8zM9.3 7.4h2.8v2.8h-2.8zM11.8 7.4h2.8v2.8h-2.8zM44.3 7.4h2.8v2.8h-2.8zM19.3 9.9h2.8v2.8h-2.8zM21.8 9.9h2.8v2.8h-2.8zM24.3 9.9h2.8v2.8h-2.8zM29.3 59.9h2.8v2.8h-2.8zM31.8 59.9h2.8v2.8h-2.8zM34.3 59.9h2.8v2.8h-2.8zM89.3 59.9h2.8v2.8h-2.8zM91.8 59.9h2.8v2.8h-2.8zM24.3 62.4h2.8v2.8h-2.8zM86.8 62.4h2.8v2.8h-2.8zM94.3 62.4h2.8v2.8h-2.8zM39.3 64.9h2.8v2.8h-2.8zM24.3 72.4h2.8v2.8h-2.8zM39.3 72.4h2.8v2.8h-2.8zM26.8 74.9h2.8v2.8h-2.8zM36.8 74.9h2.8v2.8h-2.8zM86.8 79.9h2.8v2.8h-2.8zM94.3 79.9h2.8v2.8h-2.8zM89.3 82.4h2.8v2.8h-2.8zM91.8 82.4h2.8v2.8h-2.8zM79.3 99.9h2.8v2.8h-2.8zM81.8 99.9h2.8v2.8h-2.8zM86.8 99.9h2.8v2.8h-2.8zM89.3 99.9h2.8v2.8h-2.8zM74.3 102.4h2.8v2.8h-2.8zM71.8 104.9h2.8v2.8h-2.8zM71.8 107.4h2.8v2.8h-2.8zM89.3 107.4h2.8v2.8h-2.8zM74.3 109.9h2.8v2.8h-2.8zM86.8 109.9h2.8v2.8h-2.8zM111.8 124.9h2.8v2.8h-2.8zM114.3 127.4h2.8v2.8h-2.8zM99.3 129.9h2.8v2.8h-2.8zM114.3 129.9h2.8v2.8h-2.8z"/><path fill="#fcc6ae" d="M16.8 4.9h2.8v2.8h-2.8zM19.3 4.9h2.8v2.8h-2.8zM21.8 4.9h2.8v2.8h-2.8zM24.3 4.9h2.8v2.8h-2.8zM26.8 4.9h2.8v2.8h-2.8zM29.3 4.9h2.8v2.8h-2.8zM31.8 4.9h2.8v2.8h-2.8zM34.3 4.9h2.8v2.8h-2.8zM36.8 4.9h2.8v2.8h-2.8zM39.3 4.9h2.8v2.8h-2.8zM41.8 4.9h2.8v2.8h-2.8zM44.3 4.9h2.8v2.8h-2.8zM14.3 7.4h2.8v2.8h-2.8zM16.8 7.4h2.8v2.8h-2.8zM29.3 7.4h2.8v2.8h-2.8zM31.8 7.4h2.8v2.8h-2.8zM34.3 7.4h2.8v2.8h-2.8zM36.8 7.4h2.8v2.8h-2.8zM39.3 7.4h2.8v2.8h-2.8zM26.8 62.4h2.8v2.8h-2.8zM36.8 62.4h2.8v2.8h-2.8zM89.3 62.4h2.8v2.8h-2.8zM91.8 62.4h2.8v2.8h-2.8zM24.3 64.9h2.8v2.8h-2.8zM86.8 64.9h2.8v2.8h-2.8zM94.3 64.9h2.8v2.8h-2.8zM39.3 67.4h2.8v2.8h-2.8zM86.8 67.4h2.8v2.8h-2.8zM24.3 69.9h2.8v2.8h-2.8zM39.3 69.9h2.8v2.8h-2.8zM29.3 74.9h2.8v2.8h-2.8zM31.8 74.9h2.8v2.8h-2.8zM34.3 74.9h2.8v2.8h-2.8zM86.8 74.9h2.8v2.8h-2.8zM94.3 74.9h2.8v2.8h-2.8zM94.3 77.4h2.8v2.8h-2.8zM89.3 79.9h2.8v2.8h-2.8zM91.8 79.9h2.8v2.8h-2.8zM76.8 102.4h2.8v2.8h-2.8zM86.8 102.4h2.8v2.8h-2.8zM74.3 104.9h2.8v2.8h-2.8zM89.3 104.9h2.8v2.8h-2.8zM74.3 107.4h2.8v2.8h-2.8zM76.8 109.9h2.8v2.8h-2.8zM84.3 109.9h2.8v2.8h-2.8zM101.8 132.4h2.8v2.8h-2.8zM111.8 132.4h2.8v2.8h-2.8z"/><path fill="#fceade" d="M59.3 4.9h2.8v2.8h-2.8zM59.3 7.4h2.8v2.8h-2.8zM56.8 9.9h2.8v2.8h-2.8zM-0.7 12.4h2.8v2.8h-2.8zM49.3 12.4h2.8v2.8h-2.8zM51.8 12.4h2.8v2.8h-2.8zM9.3 14.9h2.8v2.8h-2.8zM11.8 14.9h2.8v2.8h-2.8zM14.3 14.9h2.8v2.8h-2.8zM16.8 14.9h2.8v2.8h-2.8zM19.3 14.9h2.8v2.8h-2.8zM21.8 14.9h2.8v2.8h-2.8zM24.3 14.9h2.8v2.8h-2.8zM26.8 14.9h2.8v2.8h-2.8zM29.3 14.9h2.8v2.8h-2.8zM86.8 44.9h2.8v2.8h-2.8zM89.3 44.9h2.8v2.8h-2.8zM91.8 44.9h2.8v2.8h-2.8zM94.3 44.9h2.8v2.8h-2.8zM54.3 47.4h2.8v2.8h-2.8zM56.8 47.4h2.8v2.8h-2.8zM59.3 47.4h2.8v2.8h-2.8zM81.8 47.4h2.8v2.8h-2.8zM84.3 47.4h2.8v2.8h-2.8zM96.8 47.4h2.8v2.8h-2.8zM36.8 49.9h2.8v2.8h-2.8zM39.3 49.9h2.8v2.8h-2.8zM41.8 49.9h2.8v2.8h-2.8zM44.3 49.9h2.8v2.8h-2.8zM46.8 49.9h2.8v2.8h-2.8zM66.8 49.9h2.8v2.8h-2.8zM69.3 49.9h2.8v2.8h-2.8zM79.3 49.9h2.8v2.8h-2.8zM24.3 52.4h2.8v2.8h-2.8zM26.8 52.4h2.8v2.8h-2.8zM71.8 52.4h2.8v2.8h-2.8zM74.3 52.4h2.8v2.8h-2.8zM76.8 52.4h2.8v2.8h-2.8zM71.8 54.9h2.8v2.8h-2.8zM74.3 54.9h2.8v2.8h-2.8zM76.8 54.9h2.8v2.8h-2.8zM99.3 54.9h2.8v2.8h-2.8zM69.3 57.4h2.8v2.8h-2.8zM71.8 57.4h2.8v2.8h-2.8zM74.3 57.4h2.8v2.8h-2.8zM76.8 57.4h2.8v2.8h-2.8zM16.8 59.9h2.8v2.8h-2.8zM76.8 59.9h2.8v2.8h-2.8zM76.8 62.4h2.8v2.8h-2.8zM14.3 64.9h2.8v2.8h-2.8zM76.8 64.9h2.8v2.8h-2.8zM101.8 64.9h2.8v2.8h-2.8zM14.3 67.4h2.8v2.8h-2.8zM101.8 67.4h2.8v2.8h-2.8zM16.8 72.4h2.8v2.8h-2.8zM26.8 82.4h2.8v2.8h-2.8zM41.8 82.4h2.8v2.8h-2.8zM31.8 84.9h2.8v2.8h-2.8zM34.3 84.9h2.8v2.8h-2.8zM36.8 84.9h2.8v2.8h-2.8zM101.8 84.9h2.8v2.8h-2.8zM101.8 87.4h2.8v2.8h-2.8zM101.8 89.9h2.8v2.8h-2.8zM109.3 89.9h2.8v2.8h-2.8zM111.8 89.9h2.8v2.8h-2.8zM114.3 89.9h2.8v2.8h-2.8zM101.8 92.4h2.8v2.8h-2.8zM106.8 92.4h2.8v2.8h-2.8zM109.3 92.4h2.8v2.8h-2.8zM116.8 92.4h2.8v2.8h-2.8zM101.8 94.9h2.8v2.8h-2.8zM104.3 94.9h2.8v2.8h-2.8zM106.8 94.9h2.8v2.8h-2.8zM101.8 97.4h2.8v2.8h-2.8zM104.3 97.4h2.8v2.8h-2.8zM106.8 97.4h2.8v2.8h-2.8zM61.8 99.9h2.8v2.8h-2.8zM101.8 99.9h2.8v2.8h-2.8zM104.3 99.9h2.8v2.8h-2.8zM106.8 99.9h2.8v2.8h-2.8zM59.3 102.4h2.8v2.8h-2.8zM104.3 102.4h2.8v2.8h-2.8zM106.8 102.4h2.8v2.8h-2.8zM104.3 104.9h2.8v2.8h-2.8zM106.8 104.9h2.8v2.8h-2.8zM56.8 107.4h2.8v2.8h-2.8zM101.8 107.4h2.8v2.8h-2.8zM104.3 107.4h2.8v2.8h-2.8zM106.8 107.4h2.8v2.8h-2.8zM109.3 107.4h2.8v2.8h-2.8zM116.8 107.4h2.8v2.8h-2.8zM56.8 109.9h2.8v2.8h-2.8zM101.8 109.9h2.8v2.8h-2.8zM109.3 109.9h2.8v2.8h-2.8zM111.8 109.9h2.8v2.8h-2.8zM114.3 109.9h2.8v2.8h-2.8zM59.3 112.4h2.8v2.8h-2.8zM99.3 112.4h2.8v2.8h-2.8zM59.3 114.9h2.8v2.8h-2.8zM61.8 114.9h2.8v2.8h-2.8zM96.8 114.9h2.8v2.8h-2.8zM64.3 117.4h2.8v2.8h-2.8zM66.8 117.4h2.8v2.8h-2.8zM84.3 117.4h2.8v2.8h-2.8zM86.8 117.4h2.8v2.8h-2.8zM-0.7 122.4h2.8v2.8h-2.8zM21.8 122.4h2.8v2.8h-2.8zM114.3 122.4h2.8v2.8h-2.8zM24.3 124.9h2.8v2.8h-2.8zM26.8 127.4h2.8v2.8h-2.8zM24.3 129.9h2.8v2.8h-2.8zM94.3 129.9h2.8v2.8h-2.8zM-0.7 132.4h2.8v2.8h-2.8zM21.8 132.4h2.8v2.8h-2.8zM4.3 134.9h2.8v2.8h-2.8zM6.8 134.9h2.8v2.8h-2.8zM9.3 134.9h2.8v2.8h-2.8zM11.8 134.9h2.8v2.8h-2.8zM14.3 134.9h2.8v2.8h-2.8zM16.8 134.9h2.8v2.8h-2.8zM104.3 137.4h2.8v2.8h-2.8zM106.8 137.4h2.8v2.8h-2.8zM109.3 137.4h2.8v2.8h-2.8z"/><path fill="#deeaf0" d="M81.8 4.9h2.8v2.8h-2.8zM84.3 4.9h2.8v2.8h-2.8zM86.8 4.9h2.8v2.8h-2.8zM89.3 4.9h2.8v2.8h-2.8zM91.8 4.9h2.8v2.8h-2.8zM94.3 4.9h2.8v2.8h-2.8zM79.3 7.4h2.8v2.8h-2.8zM81.8 7.4h2.8v2.8h-2.8zM84.3 7.4h2.8v2.8h-2.8zM86.8 7.4h2.8v2.8h-2.8zM89.3 7.4h2.8v2.8h-2.8zM91.8 7.4h2.8v2.8h-2.8zM94.3 7.4h2.8v2.8h-2.8zM96.8 7.4h2.8v2.8h-2.8zM79.3 9.9h2.8v2.8h-2.8zM81.8 9.9h2.8v2.8h-2.8zM84.3 9.9h2.8v2.8h-2.8zM86.8 9.9h2.8v2.8h-2.8zM89.3 9.9h2.8v2.8h-2.8zM91.8 9.9h2.8v2.8h-2.8zM94.3 9.9h2.8v2.8h-2.8zM96.8 9.9h2.8v2.8h-2.8zM84.3 12.4h2.8v2.8h-2.8zM86.8 12.4h2.8v2.8h-2.8zM89.3 12.4h2.8v2.8h-2.8zM91.8 12.4h2.8v2.8h-2.8zM36.8 24.9h2.8v2.8h-2.8zM39.3 24.9h2.8v2.8h-2.8zM1.8 32.4h2.8v2.8h-2.8zM9.3 32.4h2.8v2.8h-2.8zM-0.7 34.9h2.8v2.8h-2.8zM14.3 34.9h2.8v2.8h-2.8zM16.8 37.4h2.8v2.8h-2.8zM16.8 39.9h2.8v2.8h-2.8zM111.8 42.4h2.8v2.8h-2.8zM14.3 44.9h2.8v2.8h-2.8zM109.3 44.9h2.8v2.8h-2.8zM111.8 44.9h2.8v2.8h-2.8zM114.3 44.9h2.8v2.8h-2.8zM114.3 47.4h2.8v2.8h-2.8zM11.8 49.9h2.8v2.8h-2.8zM106.8 49.9h2.8v2.8h-2.8zM106.8 52.4h2.8v2.8h-2.8zM-0.7 57.4h2.8v2.8h-2.8zM1.8 59.9h2.8v2.8h-2.8zM4.3 59.9h2.8v2.8h-2.8zM6.8 59.9h2.8v2.8h-2.8zM109.3 59.9h2.8v2.8h-2.8zM114.3 59.9h2.8v2.8h-2.8zM56.8 62.4h2.8v2.8h-2.8zM59.3 62.4h2.8v2.8h-2.8zM61.8 62.4h2.8v2.8h-2.8zM64.3 62.4h2.8v2.8h-2.8zM66.8 62.4h2.8v2.8h-2.8zM69.3 62.4h2.8v2.8h-2.8zM71.8 62.4h2.8v2.8h-2.8zM111.8 62.4h2.8v2.8h-2.8zM114.3 62.4h2.8v2.8h-2.8zM54.3 64.9h2.8v2.8h-2.8zM56.8 64.9h2.8v2.8h-2.8zM71.8 64.9h2.8v2.8h-2.8zM74.3 64.9h2.8v2.8h-2.8zM51.8 67.4h2.8v2.8h-2.8zM76.8 67.4h2.8v2.8h-2.8zM49.3 69.9h2.8v2.8h-2.8zM76.8 69.9h2.8v2.8h-2.8zM79.3 69.9h2.8v2.8h-2.8zM49.3 72.4h2.8v2.8h-2.8zM79.3 72.4h2.8v2.8h-2.8zM46.8 74.9h2.8v2.8h-2.8zM49.3 74.9h2.8v2.8h-2.8zM79.3 74.9h2.8v2.8h-2.8zM46.8 77.4h2.8v2.8h-2.8zM79.3 77.4h2.8v2.8h-2.8zM4.3 79.9h2.8v2.8h-2.8zM6.8 79.9h2.8v2.8h-2.8zM9.3 79.9h2.8v2.8h-2.8zM11.8 79.9h2.8v2.8h-2.8zM46.8 79.9h2.8v2.8h-2.8zM49.3 79.9h2.8v2.8h-2.8zM79.3 79.9h2.8v2.8h-2.8zM1.8 82.4h2.8v2.8h-2.8zM49.3 82.4h2.8v2.8h-2.8zM79.3 82.4h2.8v2.8h-2.8zM-0.7 84.9h2.8v2.8h-2.8zM49.3 84.9h2.8v2.8h-2.8zM79.3 84.9h2.8v2.8h-2.8zM49.3 87.4h2.8v2.8h-2.8zM51.8 87.4h2.8v2.8h-2.8zM76.8 87.4h2.8v2.8h-2.8zM21.8 89.9h2.8v2.8h-2.8zM51.8 89.9h2.8v2.8h-2.8zM54.3 89.9h2.8v2.8h-2.8zM74.3 89.9h2.8v2.8h-2.8zM76.8 89.9h2.8v2.8h-2.8zM54.3 92.4h2.8v2.8h-2.8zM56.8 92.4h2.8v2.8h-2.8zM59.3 92.4h2.8v2.8h-2.8zM69.3 92.4h2.8v2.8h-2.8zM71.8 92.4h2.8v2.8h-2.8zM59.3 94.9h2.8v2.8h-2.8zM61.8 94.9h2.8v2.8h-2.8zM64.3 94.9h2.8v2.8h-2.8zM66.8 94.9h2.8v2.8h-2.8zM26.8 97.4h2.8v2.8h-2.8zM31.8 99.9h2.8v2.8h-2.8zM31.8 102.4h2.8v2.8h-2.8zM34.3 102.4h2.8v2.8h-2.8zM31.8 104.9h2.8v2.8h-2.8zM-0.7 107.4h2.8v2.8h-2.8zM26.8 107.4h2.8v2.8h-2.8zM1.8 109.9h2.8v2.8h-2.8zM21.8 109.9h2.8v2.8h-2.8zM4.3 112.4h2.8v2.8h-2.8zM6.8 112.4h2.8v2.8h-2.8zM16.8 112.4h2.8v2.8h-2.8z"/><path fill="#fcc6a8" d="M19.3 7.4h2.8v2.8h-2.8zM21.8 7.4h2.8v2.8h-2.8zM24.3 7.4h2.8v2.8h-2.8zM26.8 7.4h2.8v2.8h-2.8zM29.3 62.4h2.8v2.8h-2.8zM31.8 62.4h2.8v2.8h-2.8zM34.3 62.4h2.8v2.8h-2.8zM24.3 67.4h2.8v2.8h-2.8zM94.3 67.4h2.8v2.8h-2.8zM86.8 69.9h2.8v2.8h-2.8zM94.3 69.9h2.8v2.8h-2.8zM26.8 72.4h2.8v2.8h-2.8zM36.8 72.4h2.8v2.8h-2.8zM86.8 72.4h2.8v2.8h-2.8zM94.3 72.4h2.8v2.8h-2.8zM89.3 77.4h2.8v2.8h-2.8zM79.3 102.4h2.8v2.8h-2.8zM86.8 107.4h2.8v2.8h-2.8zM79.3 109.9h2.8v2.8h-2.8zM81.8 109.9h2.8v2.8h-2.8zM104.3 124.9h2.8v2.8h-2.8z"/><path fill="#fcccae" d="M41.8 7.4h2.8v2.8h-2.8zM86.8 77.4h2.8v2.8h-2.8zM84.3 99.9h2.8v2.8h-2.8zM89.3 102.4h2.8v2.8h-2.8z"/><path fill="#fcccba" d="M46.8 7.4h2.8v2.8h-2.8zM16.8 9.9h2.8v2.8h-2.8zM26.8 9.9h2.8v2.8h-2.8zM39.3 62.4h2.8v2.8h-2.8zM21.8 67.4h2.8v2.8h-2.8zM71.8 109.9h2.8v2.8h-2.8z"/><path fill="#f6f0f0" d="M61.8 9.9h2.8v2.8h-2.8zM59.3 12.4h2.8v2.8h-2.8zM56.8 14.9h2.8v2.8h-2.8zM-0.7 17.4h2.8v2.8h-2.8zM1.8 17.4h2.8v2.8h-2.8zM4.3 17.4h2.8v2.8h-2.8zM6.8 17.4h2.8v2.8h-2.8zM29.3 17.4h2.8v2.8h-2.8zM61.8 19.9h2.8v2.8h-2.8zM64.3 19.9h2.8v2.8h-2.8zM66.8 19.9h2.8v2.8h-2.8zM69.3 19.9h2.8v2.8h-2.8zM59.3 22.4h2.8v2.8h-2.8zM61.8 22.4h2.8v2.8h-2.8zM81.8 22.4h2.8v2.8h-2.8zM84.3 22.4h2.8v2.8h-2.8zM59.3 24.9h2.8v2.8h-2.8zM89.3 24.9h2.8v2.8h-2.8zM91.8 24.9h2.8v2.8h-2.8zM59.3 27.4h2.8v2.8h-2.8zM61.8 27.4h2.8v2.8h-2.8zM91.8 27.4h2.8v2.8h-2.8zM94.3 27.4h2.8v2.8h-2.8zM64.3 29.9h2.8v2.8h-2.8zM66.8 29.9h2.8v2.8h-2.8zM69.3 29.9h2.8v2.8h-2.8zM71.8 29.9h2.8v2.8h-2.8zM91.8 29.9h2.8v2.8h-2.8zM94.3 29.9h2.8v2.8h-2.8zM74.3 32.4h2.8v2.8h-2.8zM76.8 32.4h2.8v2.8h-2.8zM79.3 32.4h2.8v2.8h-2.8zM81.8 32.4h2.8v2.8h-2.8zM94.3 32.4h2.8v2.8h-2.8zM96.8 32.4h2.8v2.8h-2.8zM79.3 34.9h2.8v2.8h-2.8zM81.8 34.9h2.8v2.8h-2.8zM96.8 34.9h2.8v2.8h-2.8zM79.3 37.4h2.8v2.8h-2.8zM81.8 37.4h2.8v2.8h-2.8zM96.8 37.4h2.8v2.8h-2.8zM79.3 39.9h2.8v2.8h-2.8zM99.3 39.9h2.8v2.8h-2.8zM56.8 42.4h2.8v2.8h-2.8zM74.3 42.4h2.8v2.8h-2.8zM76.8 42.4h2.8v2.8h-2.8zM99.3 42.4h2.8v2.8h-2.8zM29.3 44.9h2.8v2.8h-2.8zM31.8 44.9h2.8v2.8h-2.8zM34.3 44.9h2.8v2.8h-2.8zM36.8 44.9h2.8v2.8h-2.8zM39.3 44.9h2.8v2.8h-2.8zM71.8 44.9h2.8v2.8h-2.8zM21.8 47.4h2.8v2.8h-2.8zM24.3 47.4h2.8v2.8h-2.8zM19.3 49.9h2.8v2.8h-2.8zM101.8 54.9h2.8v2.8h-2.8zM104.3 67.4h2.8v2.8h-2.8zM11.8 69.9h2.8v2.8h-2.8zM106.8 74.9h2.8v2.8h-2.8zM109.3 79.9h2.8v2.8h-2.8zM114.3 82.4h2.8v2.8h-2.8zM116.8 82.4h2.8v2.8h-2.8zM119.3 84.9h2.8v2.8h-2.8zM29.3 87.4h2.8v2.8h-2.8zM34.3 89.9h2.8v2.8h-2.8zM36.8 89.9h2.8v2.8h-2.8zM39.3 89.9h2.8v2.8h-2.8zM41.8 89.9h2.8v2.8h-2.8zM44.3 89.9h2.8v2.8h-2.8zM54.3 97.4h2.8v2.8h-2.8zM51.8 102.4h2.8v2.8h-2.8zM51.8 104.9h2.8v2.8h-2.8zM49.3 109.9h2.8v2.8h-2.8zM46.8 112.4h2.8v2.8h-2.8zM49.3 112.4h2.8v2.8h-2.8zM119.3 112.4h2.8v2.8h-2.8zM44.3 114.9h2.8v2.8h-2.8zM46.8 114.9h2.8v2.8h-2.8zM119.3 114.9h2.8v2.8h-2.8zM39.3 117.4h2.8v2.8h-2.8zM41.8 117.4h2.8v2.8h-2.8zM116.8 117.4h2.8v2.8h-2.8zM31.8 119.9h2.8v2.8h-2.8zM34.3 119.9h2.8v2.8h-2.8zM36.8 119.9h2.8v2.8h-2.8zM101.8 119.9h2.8v2.8h-2.8zM76.8 122.4h2.8v2.8h-2.8zM99.3 122.4h2.8v2.8h-2.8zM64.3 124.9h2.8v2.8h-2.8zM66.8 124.9h2.8v2.8h-2.8zM69.3 124.9h2.8v2.8h-2.8zM71.8 124.9h2.8v2.8h-2.8zM59.3 127.4h2.8v2.8h-2.8zM61.8 127.4h2.8v2.8h-2.8zM64.3 127.4h2.8v2.8h-2.8zM91.8 127.4h2.8v2.8h-2.8zM36.8 129.9h2.8v2.8h-2.8zM39.3 129.9h2.8v2.8h-2.8zM41.8 129.9h2.8v2.8h-2.8zM44.3 129.9h2.8v2.8h-2.8zM46.8 129.9h2.8v2.8h-2.8zM49.3 129.9h2.8v2.8h-2.8zM51.8 129.9h2.8v2.8h-2.8zM54.3 129.9h2.8v2.8h-2.8zM56.8 129.9h2.8v2.8h-2.8zM31.8 132.4h2.8v2.8h-2.8zM34.3 132.4h2.8v2.8h-2.8zM91.8 132.4h2.8v2.8h-2.8zM29.3 134.9h2.8v2.8h-2.8zM24.3 137.4h2.8v2.8h-2.8zM26.8 137.4h2.8v2.8h-2.8zM96.8 137.4h2.8v2.8h-2.8zM116.8 137.4h2.8v2.8h-2.8z"/><path fill="#e4eaf6" d="M81.8 12.4h2.8v2.8h-2.8zM94.3 12.4h2.8v2.8h-2.8zM109.3 42.4h2.8v2.8h-2.8zM106.8 47.4h2.8v2.8h-2.8zM61.8 59.9h2.8v2.8h-2.8zM64.3 59.9h2.8v2.8h-2.8zM66.8 59.9h2.8v2.8h-2.8zM51.8 64.9h2.8v2.8h-2.8zM49.3 67.4h2.8v2.8h-2.8zM46.8 72.4h2.8v2.8h-2.8zM81.8 74.9h2.8v2.8h-2.8zM81.8 79.9h2.8v2.8h-2.8zM81.8 82.4h2.8v2.8h-2.8zM79.3 87.4h2.8v2.8h-2.8zM56.8 94.9h2.8v2.8h-2.8zM29.3 97.4h2.8v2.8h-2.8zM34.3 104.9h2.8v2.8h-2.8z"/><path fill="#fcf0e4" d="M-0.7 14.9h2.8v2.8h-2.8zM41.8 14.9h2.8v2.8h-2.8zM86.8 39.9h2.8v2.8h-2.8zM41.8 47.4h2.8v2.8h-2.8zM69.3 47.4h2.8v2.8h-2.8zM76.8 47.4h2.8v2.8h-2.8zM24.3 49.9h2.8v2.8h-2.8zM104.3 72.4h2.8v2.8h-2.8zM16.8 74.9h2.8v2.8h-2.8zM19.3 77.4h2.8v2.8h-2.8zM44.3 84.9h2.8v2.8h-2.8zM116.8 87.4h2.8v2.8h-2.8zM56.8 99.9h2.8v2.8h-2.8zM54.3 107.4h2.8v2.8h-2.8zM54.3 109.9h2.8v2.8h-2.8zM54.3 112.4h2.8v2.8h-2.8zM106.8 112.4h2.8v2.8h-2.8zM54.3 114.9h2.8v2.8h-2.8zM101.8 114.9h2.8v2.8h-2.8zM54.3 117.4h2.8v2.8h-2.8zM4.3 119.9h2.8v2.8h-2.8zM6.8 119.9h2.8v2.8h-2.8zM9.3 119.9h2.8v2.8h-2.8zM11.8 119.9h2.8v2.8h-2.8zM14.3 119.9h2.8v2.8h-2.8zM16.8 119.9h2.8v2.8h-2.8zM49.3 119.9h2.8v2.8h-2.8zM51.8 119.9h2.8v2.8h-2.8zM46.8 122.4h2.8v2.8h-2.8zM54.3 122.4h2.8v2.8h-2.8zM56.8 122.4h2.8v2.8h-2.8zM46.8 124.9h2.8v2.8h-2.8zM49.3 124.9h2.8v2.8h-2.8zM51.8 124.9h2.8v2.8h-2.8zM119.3 124.9h2.8v2.8h-2.8zM29.3 129.9h2.8v2.8h-2.8zM26.8 132.4h2.8v2.8h-2.8zM119.3 132.4h2.8v2.8h-2.8zM6.8 137.4h2.8v2.8h-2.8zM9.3 137.4h2.8v2.8h-2.8zM11.8 137.4h2.8v2.8h-2.8zM14.3 137.4h2.8v2.8h-2.8z"/><path fill="#e4eaf0" d="M41.8 24.9h2.8v2.8h-2.8zM116.8 52.4h2.8v2.8h-2.8zM106.8 54.9h2.8v2.8h-2.8zM116.8 54.9h2.8v2.8h-2.8zM109.3 62.4h2.8v2.8h-2.8zM81.8 77.4h2.8v2.8h-2.8zM46.8 82.4h2.8v2.8h-2.8zM24.3 92.4h2.8v2.8h-2.8zM74.3 92.4h2.8v2.8h-2.8zM69.3 94.9h2.8v2.8h-2.8zM29.3 107.4h2.8v2.8h-2.8z"/><path fill="#d8eaf0" d="M4.3 32.4h2.8v2.8h-2.8zM6.8 32.4h2.8v2.8h-2.8zM11.8 34.9h2.8v2.8h-2.8zM14.3 42.4h2.8v2.8h-2.8zM11.8 47.4h2.8v2.8h-2.8zM109.3 47.4h2.8v2.8h-2.8zM111.8 47.4h2.8v2.8h-2.8zM109.3 49.9h2.8v2.8h-2.8zM111.8 49.9h2.8v2.8h-2.8zM114.3 49.9h2.8v2.8h-2.8zM109.3 52.4h2.8v2.8h-2.8zM114.3 52.4h2.8v2.8h-2.8zM-0.7 54.9h2.8v2.8h-2.8zM9.3 54.9h2.8v2.8h-2.8zM109.3 54.9h2.8v2.8h-2.8zM114.3 54.9h2.8v2.8h-2.8zM1.8 57.4h2.8v2.8h-2.8zM6.8 57.4h2.8v2.8h-2.8zM109.3 57.4h2.8v2.8h-2.8zM111.8 57.4h2.8v2.8h-2.8zM114.3 57.4h2.8v2.8h-2.8zM111.8 59.9h2.8v2.8h-2.8zM59.3 64.9h2.8v2.8h-2.8zM66.8 64.9h2.8v2.8h-2.8zM69.3 64.9h2.8v2.8h-2.8zM54.3 67.4h2.8v2.8h-2.8zM74.3 67.4h2.8v2.8h-2.8zM51.8 69.9h2.8v2.8h-2.8zM51.8 72.4h2.8v2.8h-2.8zM76.8 72.4h2.8v2.8h-2.8zM49.3 77.4h2.8v2.8h-2.8zM4.3 82.4h2.8v2.8h-2.8zM14.3 82.4h2.8v2.8h-2.8zM76.8 82.4h2.8v2.8h-2.8zM1.8 84.9h2.8v2.8h-2.8zM16.8 84.9h2.8v2.8h-2.8zM51.8 84.9h2.8v2.8h-2.8zM76.8 84.9h2.8v2.8h-2.8zM-0.7 87.4h2.8v2.8h-2.8zM19.3 87.4h2.8v2.8h-2.8zM54.3 87.4h2.8v2.8h-2.8zM74.3 87.4h2.8v2.8h-2.8zM-0.7 89.9h2.8v2.8h-2.8zM56.8 89.9h2.8v2.8h-2.8zM71.8 89.9h2.8v2.8h-2.8zM21.8 92.4h2.8v2.8h-2.8zM61.8 92.4h2.8v2.8h-2.8zM64.3 92.4h2.8v2.8h-2.8zM66.8 92.4h2.8v2.8h-2.8zM24.3 94.9h2.8v2.8h-2.8zM29.3 99.9h2.8v2.8h-2.8zM-0.7 102.4h2.8v2.8h-2.8zM29.3 102.4h2.8v2.8h-2.8zM-0.7 104.9h2.8v2.8h-2.8zM29.3 104.9h2.8v2.8h-2.8zM1.8 107.4h2.8v2.8h-2.8zM24.3 107.4h2.8v2.8h-2.8zM4.3 109.9h2.8v2.8h-2.8zM19.3 109.9h2.8v2.8h-2.8zM9.3 112.4h2.8v2.8h-2.8zM11.8 112.4h2.8v2.8h-2.8zM14.3 112.4h2.8v2.8h-2.8z"/><path fill="#d2e4f0" d="M1.8 34.9h2.8v2.8h-2.8zM-0.7 37.4h2.8v2.8h-2.8zM14.3 37.4h2.8v2.8h-2.8zM14.3 39.9h2.8v2.8h-2.8zM11.8 44.9h2.8v2.8h-2.8zM-0.7 52.4h2.8v2.8h-2.8zM9.3 52.4h2.8v2.8h-2.8zM111.8 52.4h2.8v2.8h-2.8zM111.8 54.9h2.8v2.8h-2.8zM4.3 57.4h2.8v2.8h-2.8zM61.8 64.9h2.8v2.8h-2.8zM64.3 64.9h2.8v2.8h-2.8zM56.8 67.4h2.8v2.8h-2.8zM71.8 67.4h2.8v2.8h-2.8zM54.3 69.9h2.8v2.8h-2.8zM74.3 69.9h2.8v2.8h-2.8zM51.8 74.9h2.8v2.8h-2.8zM76.8 74.9h2.8v2.8h-2.8zM76.8 77.4h2.8v2.8h-2.8zM76.8 79.9h2.8v2.8h-2.8zM6.8 82.4h2.8v2.8h-2.8zM9.3 82.4h2.8v2.8h-2.8zM11.8 82.4h2.8v2.8h-2.8zM51.8 82.4h2.8v2.8h-2.8zM1.8 87.4h2.8v2.8h-2.8zM59.3 89.9h2.8v2.8h-2.8zM69.3 89.9h2.8v2.8h-2.8zM-0.7 92.4h2.8v2.8h-2.8zM-0.7 94.9h2.8v2.8h-2.8zM-0.7 97.4h2.8v2.8h-2.8zM24.3 97.4h2.8v2.8h-2.8zM-0.7 99.9h2.8v2.8h-2.8zM26.8 99.9h2.8v2.8h-2.8zM26.8 102.4h2.8v2.8h-2.8zM26.8 104.9h2.8v2.8h-2.8zM21.8 107.4h2.8v2.8h-2.8zM16.8 109.9h2.8v2.8h-2.8z"/><path fill="#c6def0" d="M4.3 34.9h2.8v2.8h-2.8zM11.8 42.4h2.8v2.8h-2.8zM4.3 54.9h2.8v2.8h-2.8zM69.3 67.4h2.8v2.8h-2.8zM74.3 72.4h2.8v2.8h-2.8zM16.8 87.4h2.8v2.8h-2.8zM56.8 87.4h2.8v2.8h-2.8zM1.8 89.9h2.8v2.8h-2.8zM64.3 89.9h2.8v2.8h-2.8zM24.3 99.9h2.8v2.8h-2.8zM9.3 109.9h2.8v2.8h-2.8z"/><path fill="#c6deea" d="M6.8 34.9h2.8v2.8h-2.8zM11.8 37.4h2.8v2.8h-2.8zM59.3 67.4h2.8v2.8h-2.8zM1.8 102.4h2.8v2.8h-2.8zM24.3 102.4h2.8v2.8h-2.8zM19.3 107.4h2.8v2.8h-2.8zM11.8 109.9h2.8v2.8h-2.8z"/><path fill="#cce4f0" d="M9.3 34.9h2.8v2.8h-2.8zM-0.7 39.9h2.8v2.8h-2.8zM-0.7 42.4h2.8v2.8h-2.8zM-0.7 44.9h2.8v2.8h-2.8zM-0.7 47.4h2.8v2.8h-2.8zM-0.7 49.9h2.8v2.8h-2.8zM9.3 49.9h2.8v2.8h-2.8zM1.8 54.9h2.8v2.8h-2.8zM6.8 54.9h2.8v2.8h-2.8zM51.8 77.4h2.8v2.8h-2.8zM51.8 79.9h2.8v2.8h-2.8zM4.3 84.9h2.8v2.8h-2.8zM14.3 84.9h2.8v2.8h-2.8zM54.3 84.9h2.8v2.8h-2.8zM74.3 84.9h2.8v2.8h-2.8zM71.8 87.4h2.8v2.8h-2.8zM19.3 89.9h2.8v2.8h-2.8zM61.8 89.9h2.8v2.8h-2.8zM66.8 89.9h2.8v2.8h-2.8zM21.8 94.9h2.8v2.8h-2.8zM1.8 104.9h2.8v2.8h-2.8zM24.3 104.9h2.8v2.8h-2.8zM4.3 107.4h2.8v2.8h-2.8zM6.8 109.9h2.8v2.8h-2.8zM14.3 109.9h2.8v2.8h-2.8z"/><path fill="#c0deea" d="M1.8 37.4h2.8v2.8h-2.8zM11.8 39.9h2.8v2.8h-2.8zM9.3 47.4h2.8v2.8h-2.8zM1.8 52.4h2.8v2.8h-2.8zM6.8 52.4h2.8v2.8h-2.8zM66.8 67.4h2.8v2.8h-2.8zM71.8 69.9h2.8v2.8h-2.8zM54.3 72.4h2.8v2.8h-2.8zM74.3 82.4h2.8v2.8h-2.8zM6.8 84.9h2.8v2.8h-2.8zM9.3 84.9h2.8v2.8h-2.8zM11.8 84.9h2.8v2.8h-2.8zM4.3 87.4h2.8v2.8h-2.8zM1.8 92.4h2.8v2.8h-2.8zM19.3 92.4h2.8v2.8h-2.8zM1.8 94.9h2.8v2.8h-2.8zM1.8 97.4h2.8v2.8h-2.8zM21.8 97.4h2.8v2.8h-2.8zM1.8 99.9h2.8v2.8h-2.8zM21.8 104.9h2.8v2.8h-2.8z"/><path fill="#b4d8ea" d="M4.3 37.4h2.8v2.8h-2.8zM9.3 37.4h2.8v2.8h-2.8zM1.8 39.9h2.8v2.8h-2.8zM1.8 47.4h2.8v2.8h-2.8zM6.8 49.9h2.8v2.8h-2.8zM54.3 74.9h2.8v2.8h-2.8zM74.3 77.4h2.8v2.8h-2.8zM74.3 79.9h2.8v2.8h-2.8zM71.8 84.9h2.8v2.8h-2.8zM6.8 87.4h2.8v2.8h-2.8zM59.3 87.4h2.8v2.8h-2.8zM4.3 89.9h2.8v2.8h-2.8zM4.3 102.4h2.8v2.8h-2.8zM19.3 104.9h2.8v2.8h-2.8zM9.3 107.4h2.8v2.8h-2.8zM14.3 107.4h2.8v2.8h-2.8z"/><path fill="#aed2e4" d="M6.8 37.4h2.8v2.8h-2.8zM9.3 39.9h2.8v2.8h-2.8zM1.8 42.4h2.8v2.8h-2.8zM9.3 42.4h2.8v2.8h-2.8zM1.8 44.9h2.8v2.8h-2.8zM6.8 47.4h2.8v2.8h-2.8zM4.3 49.9h2.8v2.8h-2.8zM54.3 79.9h2.8v2.8h-2.8zM56.8 84.9h2.8v2.8h-2.8zM9.3 87.4h2.8v2.8h-2.8zM11.8 87.4h2.8v2.8h-2.8zM4.3 92.4h2.8v2.8h-2.8zM16.8 92.4h2.8v2.8h-2.8zM19.3 97.4h2.8v2.8h-2.8zM4.3 99.9h2.8v2.8h-2.8zM6.8 104.9h2.8v2.8h-2.8zM11.8 107.4h2.8v2.8h-2.8z"/><path fill="#a2cce4" d="M4.3 39.9h2.8v2.8h-2.8zM6.8 39.9h2.8v2.8h-2.8zM4.3 42.4h2.8v2.8h-2.8zM6.8 42.4h2.8v2.8h-2.8zM4.3 44.9h2.8v2.8h-2.8zM59.3 69.9h2.8v2.8h-2.8zM56.8 72.4h2.8v2.8h-2.8zM64.3 87.4h2.8v2.8h-2.8zM11.8 89.9h2.8v2.8h-2.8zM16.8 94.9h2.8v2.8h-2.8zM6.8 102.4h2.8v2.8h-2.8zM9.3 104.9h2.8v2.8h-2.8zM14.3 104.9h2.8v2.8h-2.8z"/><path fill="#a8d2e4" d="M6.8 44.9h2.8v2.8h-2.8zM4.3 47.4h2.8v2.8h-2.8zM69.3 69.9h2.8v2.8h-2.8zM71.8 72.4h2.8v2.8h-2.8zM54.3 77.4h2.8v2.8h-2.8zM61.8 87.4h2.8v2.8h-2.8zM66.8 87.4h2.8v2.8h-2.8zM6.8 89.9h2.8v2.8h-2.8zM14.3 89.9h2.8v2.8h-2.8zM4.3 94.9h2.8v2.8h-2.8zM4.3 97.4h2.8v2.8h-2.8zM19.3 99.9h2.8v2.8h-2.8zM19.3 102.4h2.8v2.8h-2.8zM16.8 104.9h2.8v2.8h-2.8z"/><path fill="#bad8ea" d="M9.3 44.9h2.8v2.8h-2.8zM1.8 49.9h2.8v2.8h-2.8zM4.3 52.4h2.8v2.8h-2.8zM61.8 67.4h2.8v2.8h-2.8zM64.3 67.4h2.8v2.8h-2.8zM56.8 69.9h2.8v2.8h-2.8zM74.3 74.9h2.8v2.8h-2.8zM54.3 82.4h2.8v2.8h-2.8zM14.3 87.4h2.8v2.8h-2.8zM69.3 87.4h2.8v2.8h-2.8zM16.8 89.9h2.8v2.8h-2.8zM19.3 94.9h2.8v2.8h-2.8zM21.8 99.9h2.8v2.8h-2.8zM21.8 102.4h2.8v2.8h-2.8zM4.3 104.9h2.8v2.8h-2.8zM6.8 107.4h2.8v2.8h-2.8zM16.8 107.4h2.8v2.8h-2.8z"/><path fill="#fce4de" d="M96.8 49.9h2.8v2.8h-2.8zM69.3 52.4h2.8v2.8h-2.8zM21.8 54.9h2.8v2.8h-2.8zM66.8 57.4h2.8v2.8h-2.8zM24.3 79.9h2.8v2.8h-2.8zM59.3 104.9h2.8v2.8h-2.8zM1.8 122.4h2.8v2.8h-2.8z"/><path fill="#f6c0a2" d="M26.8 64.9h2.8v2.8h-2.8zM34.3 64.9h2.8v2.8h-2.8zM36.8 67.4h2.8v2.8h-2.8zM89.3 67.4h2.8v2.8h-2.8zM91.8 67.4h2.8v2.8h-2.8zM26.8 69.9h2.8v2.8h-2.8zM36.8 69.9h2.8v2.8h-2.8zM89.3 69.9h2.8v2.8h-2.8zM91.8 69.9h2.8v2.8h-2.8zM29.3 72.4h2.8v2.8h-2.8zM34.3 72.4h2.8v2.8h-2.8zM89.3 72.4h2.8v2.8h-2.8zM91.8 72.4h2.8v2.8h-2.8zM89.3 74.9h2.8v2.8h-2.8zM91.8 74.9h2.8v2.8h-2.8zM79.3 104.9h2.8v2.8h-2.8zM81.8 104.9h2.8v2.8h-2.8zM84.3 104.9h2.8v2.8h-2.8zM79.3 107.4h2.8v2.8h-2.8zM81.8 107.4h2.8v2.8h-2.8zM109.3 124.9h2.8v2.8h-2.8z"/><path fill="#f6baa2" d="M29.3 64.9h2.8v2.8h-2.8zM26.8 67.4h2.8v2.8h-2.8zM31.8 72.4h2.8v2.8h-2.8zM106.8 124.9h2.8v2.8h-2.8z"/><path fill="#f6ba9c" d="M31.8 64.9h2.8v2.8h-2.8zM29.3 67.4h2.8v2.8h-2.8zM31.8 67.4h2.8v2.8h-2.8zM34.3 67.4h2.8v2.8h-2.8zM29.3 69.9h2.8v2.8h-2.8zM31.8 69.9h2.8v2.8h-2.8zM34.3 69.9h2.8v2.8h-2.8zM101.8 127.4h2.8v2.8h-2.8zM104.3 132.4h2.8v2.8h-2.8zM109.3 132.4h2.8v2.8h-2.8z"/><path fill="#f6c0a8" d="M36.8 64.9h2.8v2.8h-2.8zM89.3 64.9h2.8v2.8h-2.8zM91.8 64.9h2.8v2.8h-2.8zM91.8 77.4h2.8v2.8h-2.8zM81.8 102.4h2.8v2.8h-2.8zM84.3 102.4h2.8v2.8h-2.8zM76.8 104.9h2.8v2.8h-2.8zM86.8 104.9h2.8v2.8h-2.8zM76.8 107.4h2.8v2.8h-2.8zM84.3 107.4h2.8v2.8h-2.8z"/><path fill="#90c6de" d="M61.8 69.9h2.8v2.8h-2.8zM71.8 74.9h2.8v2.8h-2.8zM56.8 82.4h2.8v2.8h-2.8zM59.3 84.9h2.8v2.8h-2.8zM14.3 102.4h2.8v2.8h-2.8z"/><path fill="#8ac0de" d="M64.3 69.9h2.8v2.8h-2.8zM9.3 94.9h2.8v2.8h-2.8zM11.8 94.9h2.8v2.8h-2.8zM14.3 97.4h2.8v2.8h-2.8zM9.3 99.9h2.8v2.8h-2.8zM14.3 99.9h2.8v2.8h-2.8z"/><path fill="#96c6de" d="M66.8 69.9h2.8v2.8h-2.8zM69.3 84.9h2.8v2.8h-2.8zM9.3 92.4h2.8v2.8h-2.8zM11.8 92.4h2.8v2.8h-2.8zM6.8 94.9h2.8v2.8h-2.8zM14.3 94.9h2.8v2.8h-2.8zM6.8 97.4h2.8v2.8h-2.8zM6.8 99.9h2.8v2.8h-2.8zM16.8 99.9h2.8v2.8h-2.8zM9.3 102.4h2.8v2.8h-2.8z"/><path fill="#78b4d2" d="M59.3 72.4h2.8v2.8h-2.8zM66.8 84.9h2.8v2.8h-2.8z"/><path fill="#549cc6" d="M61.8 72.4h2.8v2.8h-2.8z"/><path fill="#4896c6" d="M64.3 72.4h2.8v2.8h-2.8zM59.3 74.9h2.8v2.8h-2.8zM69.3 79.9h2.8v2.8h-2.8z"/><path fill="#5aa2cc" d="M66.8 72.4h2.8v2.8h-2.8z"/><path fill="#7ebad8" d="M69.3 72.4h2.8v2.8h-2.8z"/><path fill="#84bad8" d="M56.8 74.9h2.8v2.8h-2.8zM71.8 77.4h2.8v2.8h-2.8zM11.8 97.4h2.8v2.8h-2.8zM11.8 99.9h2.8v2.8h-2.8z"/><path fill="#307eba" d="M61.8 74.9h2.8v2.8h-2.8z"/><path fill="#2a72b4" d="M64.3 74.9h2.8v2.8h-2.8zM66.8 77.4h2.8v2.8h-2.8zM61.8 79.9h2.8v2.8h-2.8z"/><path fill="#367eba" d="M66.8 74.9h2.8v2.8h-2.8z"/><path fill="#549ccc" d="M69.3 74.9h2.8v2.8h-2.8z"/><path fill="#72b4d2" d="M56.8 77.4h2.8v2.8h-2.8zM61.8 84.9h2.8v2.8h-2.8z"/><path fill="#3c8ac0" d="M59.3 77.4h2.8v2.8h-2.8zM61.8 82.4h2.8v2.8h-2.8z"/><path fill="#246cae" d="M61.8 77.4h2.8v2.8h-2.8z"/><path fill="#1e60a8" d="M64.3 77.4h2.8v2.8h-2.8z"/><path fill="#4290c0" d="M69.3 77.4h2.8v2.8h-2.8zM59.3 79.9h2.8v2.8h-2.8zM66.8 82.4h2.8v2.8h-2.8z"/><path fill="#78b4d8" d="M56.8 79.9h2.8v2.8h-2.8z"/><path fill="#2466ae" d="M64.3 79.9h2.8v2.8h-2.8z"/><path fill="#3078b4" d="M66.8 79.9h2.8v2.8h-2.8z"/><path fill="#84c0d8" d="M71.8 79.9h2.8v2.8h-2.8z"/><path fill="#60a2cc" d="M59.3 82.4h2.8v2.8h-2.8z"/><path fill="#3684ba" d="M64.3 82.4h2.8v2.8h-2.8z"/><path fill="#66a8d2" d="M69.3 82.4h2.8v2.8h-2.8z"/><path fill="#9cccde" d="M71.8 82.4h2.8v2.8h-2.8zM16.8 97.4h2.8v2.8h-2.8zM16.8 102.4h2.8v2.8h-2.8z"/><path fill="#6caed2" d="M64.3 84.9h2.8v2.8h-2.8z"/><path fill="#9ccce4" d="M9.3 89.9h2.8v2.8h-2.8zM6.8 92.4h2.8v2.8h-2.8zM14.3 92.4h2.8v2.8h-2.8zM11.8 104.9h2.8v2.8h-2.8z"/><path fill="#8ac0d8" d="M9.3 97.4h2.8v2.8h-2.8z"/><path fill="#90c0de" d="M11.8 102.4h2.8v2.8h-2.8z"/><path fill="#f6a27e" d="M104.3 127.4h2.8v2.8h-2.8z"/><path fill="#f09c78" d="M106.8 127.4h2.8v2.8h-2.8z"/><path fill="#f0a27e" d="M109.3 127.4h2.8v2.8h-2.8zM109.3 129.9h2.8v2.8h-2.8z"/><path fill="#f6b496" d="M111.8 127.4h2.8v2.8h-2.8zM101.8 129.9h2.8v2.8h-2.8zM111.8 129.9h2.8v2.8h-2.8zM106.8 132.4h2.8v2.8h-2.8z"/><path fill="#f09c7e" d="M104.3 129.9h2.8v2.8h-2.8z"/><path fill="#f09678" d="M106.8 129.9h2.8v2.8h-2.8z"/></g></g><use href="#arr"/><circle cx="64.3" cy="80.3" r="18.6" fill="none" stroke="#111" stroke-width="1.7"/><rect x="0.25" y="0.25" width="119.5" height="139.9" fill="none" stroke="#c4c4c4" stroke-width="0.7"/><path d="M24.1 0v1.8M24.1 140.4v-1.8M48.2 0v1.8M48.2 140.4v-1.8M72.3 0v1.8M72.3 140.4v-1.8M96.4 0v1.8M96.4 140.4v-1.8M0 38.3h1.8M120.0 38.3h-1.8M0 73.7h1.8M120.0 73.7h-1.8M0 108.5h1.8M120.0 108.5h-1.8" stroke="#999" stroke-width="0.6" fill="none"/></g><rect x="503.2" y="7" width="7.2" height="140" fill="url(#cb)"/><text x="33.3" y="27" font-size="12.8" fill="#111" text-anchor="start">a</text><text x="212.3" y="27" font-size="12.8" fill="#111" text-anchor="start">b</text><text x="391.9" y="27" font-size="12.8" fill="#111" text-anchor="start">c</text><text x="18.9" y="10.2" font-size="7.45" fill="#1e1e1e" text-anchor="end" stroke="#1e1e1e" stroke-width="0.18">72<tspan font-size="5" dy="-1.6">°</tspan><tspan dy="1.6">N</tspan></text><text x="18.9" y="47.5" font-size="7.45" fill="#1e1e1e" text-anchor="end" stroke="#1e1e1e" stroke-width="0.18">71<tspan font-size="5" dy="-1.6">°</tspan><tspan dy="1.6">N</tspan></text><text x="18.9" y="82.9" font-size="7.45" fill="#1e1e1e" text-anchor="end" stroke="#1e1e1e" stroke-width="0.18">70<tspan font-size="5" dy="-1.6">°</tspan><tspan dy="1.6">N</tspan></text><text x="18.9" y="117.7" font-size="7.45" fill="#1e1e1e" text-anchor="end" stroke="#1e1e1e" stroke-width="0.18">69<tspan font-size="5" dy="-1.6">°</tspan><tspan dy="1.6">N</tspan></text><text x="18.9" y="150.4" font-size="7.45" fill="#1e1e1e" text-anchor="end" stroke="#1e1e1e" stroke-width="0.18">68<tspan font-size="5" dy="-1.6">°</tspan><tspan dy="1.6">N</tspan></text><text x="22.7" y="154.5" font-size="7.2" fill="#1e1e1e" text-anchor="middle" stroke="#1e1e1e" stroke-width="0.18">2<tspan font-size="5" dy="-1.6">°</tspan><tspan dy="1.6">W</tspan></text><text x="45" y="154.5" font-size="7.2" fill="#1e1e1e" text-anchor="middle" stroke="#1e1e1e" stroke-width="0.18">0<tspan font-size="5" dy="-1.6">°</tspan><tspan dy="1.6"></tspan></text><text x="70.1" y="154.5" font-size="7.2" fill="#1e1e1e" text-anchor="middle" stroke="#1e1e1e" stroke-width="0.18">2<tspan font-size="5" dy="-1.6">°</tspan><tspan dy="1.6">E</tspan></text><text x="94.7" y="154.5" font-size="7.2" fill="#1e1e1e" text-anchor="middle" stroke="#1e1e1e" stroke-width="0.18">4<tspan font-size="5" dy="-1.6">°</tspan><tspan dy="1.6">E</tspan></text><text x="118.6" y="154.5" font-size="7.2" fill="#1e1e1e" text-anchor="middle" stroke="#1e1e1e" stroke-width="0.18">6<tspan font-size="5" dy="-1.6">°</tspan><tspan dy="1.6">E</tspan></text><text x="142.2" y="154.5" font-size="7.2" fill="#1e1e1e" text-anchor="middle" stroke="#1e1e1e" stroke-width="0.18">8<tspan font-size="5" dy="-1.6">°</tspan><tspan dy="1.6">E</tspan></text><text x="80.8" y="162.8" font-size="8.75" fill="#2a2a2a" text-anchor="middle" stroke="#2a2a2a" stroke-width="0.06">LONGITUDE</text><text x="202.3" y="154.5" font-size="7.2" fill="#1e1e1e" text-anchor="middle" stroke="#1e1e1e" stroke-width="0.18">2<tspan font-size="5" dy="-1.6">°</tspan><tspan dy="1.6">W</tspan></text><text x="224.6" y="154.5" font-size="7.2" fill="#1e1e1e" text-anchor="middle" stroke="#1e1e1e" stroke-width="0.18">0<tspan font-size="5" dy="-1.6">°</tspan><tspan dy="1.6"></tspan></text><text x="249.7" y="154.5" font-size="7.2" fill="#1e1e1e" text-anchor="middle" stroke="#1e1e1e" stroke-width="0.18">2<tspan font-size="5" dy="-1.6">°</tspan><tspan dy="1.6">E</tspan></text><text x="274.3" y="154.5" font-size="7.2" fill="#1e1e1e" text-anchor="middle" stroke="#1e1e1e" stroke-width="0.18">4<tspan font-size="5" dy="-1.6">°</tspan><tspan dy="1.6">E</tspan></text><text x="298.2" y="154.5" font-size="7.2" fill="#1e1e1e" text-anchor="middle" stroke="#1e1e1e" stroke-width="0.18">6<tspan font-size="5" dy="-1.6">°</tspan><tspan dy="1.6">E</tspan></text><text x="321.8" y="154.5" font-size="7.2" fill="#1e1e1e" text-anchor="middle" stroke="#1e1e1e" stroke-width="0.18">8<tspan font-size="5" dy="-1.6">°</tspan><tspan dy="1.6">E</tspan></text><text x="260.4" y="162.8" font-size="8.75" fill="#2a2a2a" text-anchor="middle" stroke="#2a2a2a" stroke-width="0.06">LONGITUDE</text><text x="381.7" y="154.5" font-size="7.2" fill="#1e1e1e" text-anchor="middle" stroke="#1e1e1e" stroke-width="0.18">2<tspan font-size="5" dy="-1.6">°</tspan><tspan dy="1.6">W</tspan></text><text x="404" y="154.5" font-size="7.2" fill="#1e1e1e" text-anchor="middle" stroke="#1e1e1e" stroke-width="0.18">0<tspan font-size="5" dy="-1.6">°</tspan><tspan dy="1.6"></tspan></text><text x="429.1" y="154.5" font-size="7.2" fill="#1e1e1e" text-anchor="middle" stroke="#1e1e1e" stroke-width="0.18">2<tspan font-size="5" dy="-1.6">°</tspan><tspan dy="1.6">E</tspan></text><text x="453.7" y="154.5" font-size="7.2" fill="#1e1e1e" text-anchor="middle" stroke="#1e1e1e" stroke-width="0.18">4<tspan font-size="5" dy="-1.6">°</tspan><tspan dy="1.6">E</tspan></text><text x="477.6" y="154.5" font-size="7.2" fill="#1e1e1e" text-anchor="middle" stroke="#1e1e1e" stroke-width="0.18">6<tspan font-size="5" dy="-1.6">°</tspan><tspan dy="1.6">E</tspan></text><text x="501.2" y="154.5" font-size="7.2" fill="#1e1e1e" text-anchor="middle" stroke="#1e1e1e" stroke-width="0.18">8<tspan font-size="5" dy="-1.6">°</tspan><tspan dy="1.6">E</tspan></text><text x="439.8" y="162.8" font-size="8.75" fill="#2a2a2a" text-anchor="middle" stroke="#2a2a2a" stroke-width="0.06">LONGITUDE</text><text x="153.2" y="9.3" font-size="6.5" fill="#333" text-anchor="start" stroke="#333" stroke-width="0.15">350</text><text x="153.2" y="29.3" font-size="6.5" fill="#333" text-anchor="start" stroke="#333" stroke-width="0.15">300</text><text x="153.2" y="49.3" font-size="6.5" fill="#333" text-anchor="start" stroke="#333" stroke-width="0.15">250</text><text x="153.2" y="69.3" font-size="6.5" fill="#333" text-anchor="start" stroke="#333" stroke-width="0.15">200</text><text x="153.2" y="89.3" font-size="6.5" fill="#333" text-anchor="start" stroke="#333" stroke-width="0.15">150</text><text x="153.2" y="109.3" font-size="6.5" fill="#333" text-anchor="start" stroke="#333" stroke-width="0.15">100</text><text x="153.2" y="129.3" font-size="6.5" fill="#333" text-anchor="start" stroke="#333" stroke-width="0.15">50</text><text x="153.2" y="149.3" font-size="6.5" fill="#333" text-anchor="start" stroke="#333" stroke-width="0.15">0</text><text x="333" y="9.3" font-size="6.5" fill="#333" text-anchor="start" stroke="#333" stroke-width="0.15">−20</text><text x="333" y="37.3" font-size="6.5" fill="#333" text-anchor="start" stroke="#333" stroke-width="0.15">−25</text><text x="333" y="65.3" font-size="6.5" fill="#333" text-anchor="start" stroke="#333" stroke-width="0.15">−30</text><text x="333" y="93.3" font-size="6.5" fill="#333" text-anchor="start" stroke="#333" stroke-width="0.15">−35</text><text x="333" y="121.3" font-size="6.5" fill="#333" text-anchor="start" stroke="#333" stroke-width="0.15">−40</text><text x="333" y="149.3" font-size="6.5" fill="#333" text-anchor="start" stroke="#333" stroke-width="0.15">−45</text><text x="512.8" y="9.3" font-size="6.3" fill="#333" text-anchor="start" stroke="#333" stroke-width="0.15">1</text><text x="512.8" y="23.3" font-size="6.3" fill="#333" text-anchor="start" stroke="#333" stroke-width="0.15">0.8</text><text x="512.8" y="37.3" font-size="6.3" fill="#333" text-anchor="start" stroke="#333" stroke-width="0.15">0.6</text><text x="512.8" y="51.3" font-size="6.3" fill="#333" text-anchor="start" stroke="#333" stroke-width="0.15">0.4</text><text x="512.8" y="65.3" font-size="6.3" fill="#333" text-anchor="start" stroke="#333" stroke-width="0.15">0.2</text><text x="512.8" y="79.3" font-size="6.3" fill="#333" text-anchor="start" stroke="#333" stroke-width="0.15">0</text><text x="512.8" y="93.3" font-size="6.3" fill="#333" text-anchor="start" stroke="#333" stroke-width="0.15">−0.2</text><text x="512.8" y="107.3" font-size="6.3" fill="#333" text-anchor="start" stroke="#333" stroke-width="0.15">−0.4</text><text x="512.8" y="121.3" font-size="6.3" fill="#333" text-anchor="start" stroke="#333" stroke-width="0.15">−0.6</text><text x="512.8" y="135.3" font-size="6.3" fill="#333" text-anchor="start" stroke="#333" stroke-width="0.15">−0.8</text><text x="512.8" y="149.3" font-size="6.3" fill="#333" text-anchor="start" stroke="#333" stroke-width="0.15">−1</text><text transform="translate(179.0,76.5) rotate(-90)" font-size="11.2" fill="#222" stroke="#222" stroke-width="0.12" text-anchor="middle">KE (cm<tspan dy="-3.7" font-size="7.4">2</tspan><tspan dy="3.7"> s</tspan><tspan dy="-3.7" font-size="7.4">-2</tspan><tspan dy="3.7">)</tspan></text><text transform="translate(355.2,76.9) rotate(-90)" font-size="10.6" fill="#222" stroke="#222" stroke-width="0.12" text-anchor="middle">ADT (cm)</text><text transform="translate(541.3,77.6) rotate(-90)" font-size="11.5" fill="#222" stroke="#222" stroke-width="0.12" text-anchor="middle" xml:space="preserve">Vorticity   (×10<tspan dy="-3.8" font-size="7.6">-5</tspan><tspan dy="3.8"> s</tspan><tspan dy="-3.8" font-size="7.6">-1</tspan><tspan dy="3.8">)</tspan></text><text x="391.5" y="128.6" font-size="8.2" fill="#111" text-anchor="start" stroke="#111" stroke-width="0.3">20 cm s</text><text x="421" y="124.6" font-size="5.9" fill="#111" text-anchor="start" stroke="#111" stroke-width="0.2">-1</text><line x1="390.9" y1="131.1" x2="404" y2="131.1" stroke="#111" stroke-width="1.1"/><line x1="131.3" y1="182.3" x2="131.3" y2="305.5" stroke="#ececec" stroke-width="0.6"/><line x1="156.6" y1="182.3" x2="156.6" y2="305.5" stroke="#ececec" stroke-width="0.6"/><line x1="179.4" y1="182.3" x2="179.4" y2="305.5" stroke="#ececec" stroke-width="0.6"/><line x1="204.7" y1="182.3" x2="204.7" y2="305.5" stroke="#ececec" stroke-width="0.6"/><line x1="229.2" y1="182.3" x2="229.2" y2="305.5" stroke="#ececec" stroke-width="0.6"/><line x1="254.4" y1="182.3" x2="254.4" y2="305.5" stroke="#ececec" stroke-width="0.6"/><line x1="278.9" y1="182.3" x2="278.9" y2="305.5" stroke="#ececec" stroke-width="0.6"/><line x1="304.2" y1="182.3" x2="304.2" y2="305.5" stroke="#ececec" stroke-width="0.6"/><line x1="329.4" y1="182.3" x2="329.4" y2="305.5" stroke="#ececec" stroke-width="0.6"/><line x1="353.9" y1="182.3" x2="353.9" y2="305.5" stroke="#ececec" stroke-width="0.6"/><line x1="379.2" y1="182.3" x2="379.2" y2="305.5" stroke="#ececec" stroke-width="0.6"/><line x1="403.6" y1="182.3" x2="403.6" y2="305.5" stroke="#ececec" stroke-width="0.6"/><line x1="114.5" y1="182.3" x2="440.6" y2="182.3" stroke="#f4ecef" stroke-width="0.6"/><line x1="114.5" y1="206.94" x2="440.6" y2="206.94" stroke="#f4ecef" stroke-width="0.6"/><line x1="114.5" y1="231.58" x2="440.6" y2="231.58" stroke="#f4ecef" stroke-width="0.6"/><line x1="114.5" y1="256.22" x2="440.6" y2="256.22" stroke="#f4ecef" stroke-width="0.6"/><line x1="114.5" y1="280.86" x2="440.6" y2="280.86" stroke="#f4ecef" stroke-width="0.6"/><line x1="114.5" y1="305.5" x2="440.6" y2="305.5" stroke="#f4ecef" stroke-width="0.6"/><line x1="48.9" y1="182.3" x2="48.9" y2="305.5" stroke="#cfcbe6" stroke-width="0.8"/><line x1="114.5" y1="182.3" x2="114.5" y2="305.5" stroke="#f6cbd5" stroke-width="0.8"/><line x1="440.6" y1="182.3" x2="440.6" y2="305.5" stroke="#b9e0f0" stroke-width="0.8"/><line x1="506.2" y1="182.3" x2="506.2" y2="305.5" stroke="#d3ecdc" stroke-width="0.8"/><line x1="48.9" y1="305.5" x2="440.6" y2="305.5" stroke="#b8b8b8" stroke-width="0.8"/><line x1="440.6" y1="305.5" x2="506.2" y2="305.5" stroke="#e3f1ea" stroke-width="0.8"/><line x1="48.9" y1="182.3" x2="52.2" y2="182.3" stroke="#cfcbe6" stroke-width="0.8"/><text x="46.3" y="185.6" font-size="9" fill="#8179b5" text-anchor="end" stroke="#8179b5" stroke-width="0.2">−18</text><line x1="48.9" y1="223.367" x2="52.2" y2="223.367" stroke="#cfcbe6" stroke-width="0.8"/><text x="46.3" y="226.667" font-size="9" fill="#8179b5" text-anchor="end" stroke="#8179b5" stroke-width="0.2">−24</text><line x1="48.9" y1="264.433" x2="52.2" y2="264.433" stroke="#cfcbe6" stroke-width="0.8"/><text x="46.3" y="267.733" font-size="9" fill="#8179b5" text-anchor="end" stroke="#8179b5" stroke-width="0.2">−30</text><line x1="48.9" y1="305.5" x2="52.2" y2="305.5" stroke="#cfcbe6" stroke-width="0.8"/><text x="46.3" y="308.8" font-size="9" fill="#8179b5" text-anchor="end" stroke="#8179b5" stroke-width="0.2">−36</text><line x1="114.5" y1="182.3" x2="117.8" y2="182.3" stroke="#f6cbd5" stroke-width="0.8"/><text x="111.3" y="185.6" font-size="9" fill="#f095ad" text-anchor="end" stroke="#f095ad" stroke-width="0.2">14</text><line x1="114.5" y1="206.94" x2="117.8" y2="206.94" stroke="#f6cbd5" stroke-width="0.8"/><text x="111.3" y="210.24" font-size="9" fill="#f095ad" text-anchor="end" stroke="#f095ad" stroke-width="0.2">13</text><line x1="114.5" y1="231.58" x2="117.8" y2="231.58" stroke="#f6cbd5" stroke-width="0.8"/><text x="111.3" y="234.88" font-size="9" fill="#f095ad" text-anchor="end" stroke="#f095ad" stroke-width="0.2">12</text><line x1="114.5" y1="256.22" x2="117.8" y2="256.22" stroke="#f6cbd5" stroke-width="0.8"/><text x="111.3" y="259.52" font-size="9" fill="#f095ad" text-anchor="end" stroke="#f095ad" stroke-width="0.2">11</text><line x1="114.5" y1="280.86" x2="117.8" y2="280.86" stroke="#f6cbd5" stroke-width="0.8"/><text x="111.3" y="284.16" font-size="9" fill="#f095ad" text-anchor="end" stroke="#f095ad" stroke-width="0.2">10</text><line x1="114.5" y1="305.5" x2="117.8" y2="305.5" stroke="#f6cbd5" stroke-width="0.8"/><text x="111.3" y="308.8" font-size="9" fill="#f095ad" text-anchor="end" stroke="#f095ad" stroke-width="0.2">9</text><line x1="437.3" y1="182.3" x2="440.6" y2="182.3" stroke="#b9e0f0" stroke-width="0.8"/><text x="443.3" y="185.6" font-size="9" fill="#3aa3d4" text-anchor="start" stroke="#3aa3d4" stroke-width="0.2">350</text><line x1="437.3" y1="213.1" x2="440.6" y2="213.1" stroke="#b9e0f0" stroke-width="0.8"/><text x="443.3" y="216.4" font-size="9" fill="#3aa3d4" text-anchor="start" stroke="#3aa3d4" stroke-width="0.2">300</text><line x1="437.3" y1="243.9" x2="440.6" y2="243.9" stroke="#b9e0f0" stroke-width="0.8"/><text x="443.3" y="247.2" font-size="9" fill="#3aa3d4" text-anchor="start" stroke="#3aa3d4" stroke-width="0.2">250</text><line x1="437.3" y1="274.7" x2="440.6" y2="274.7" stroke="#b9e0f0" stroke-width="0.8"/><text x="443.3" y="278" font-size="9" fill="#3aa3d4" text-anchor="start" stroke="#3aa3d4" stroke-width="0.2">200</text><line x1="437.3" y1="305.5" x2="440.6" y2="305.5" stroke="#b9e0f0" stroke-width="0.8"/><text x="443.3" y="308.8" font-size="9" fill="#3aa3d4" text-anchor="start" stroke="#3aa3d4" stroke-width="0.2">150</text><line x1="502.9" y1="182.3" x2="506.2" y2="182.3" stroke="#d3ecdc" stroke-width="0.8"/><text x="508.3" y="185.6" font-size="9" fill="#a0d3b1" text-anchor="start" stroke="#a0d3b1" stroke-width="0.2">−0.25</text><line x1="502.9" y1="223.367" x2="506.2" y2="223.367" stroke="#d3ecdc" stroke-width="0.8"/><text x="508.3" y="226.667" font-size="9" fill="#a0d3b1" text-anchor="start" stroke="#a0d3b1" stroke-width="0.2">−0.3</text><line x1="502.9" y1="264.433" x2="506.2" y2="264.433" stroke="#d3ecdc" stroke-width="0.8"/><text x="508.3" y="267.733" font-size="9" fill="#a0d3b1" text-anchor="start" stroke="#a0d3b1" stroke-width="0.2">−0.35</text><line x1="502.9" y1="305.5" x2="506.2" y2="305.5" stroke="#d3ecdc" stroke-width="0.8"/><text x="508.3" y="308.8" font-size="9" fill="#a0d3b1" text-anchor="start" stroke="#a0d3b1" stroke-width="0.2">−0.4</text><line x1="131.3" y1="302.2" x2="131.3" y2="305.5" stroke="#b8b8b8" stroke-width="0.8"/><text x="131.3" y="317.2" font-size="8.8" fill="#111" text-anchor="middle" stroke="#111" stroke-width="0.15">Jan</text><line x1="156.6" y1="302.2" x2="156.6" y2="305.5" stroke="#b8b8b8" stroke-width="0.8"/><text x="156.6" y="317.2" font-size="8.8" fill="#111" text-anchor="middle" stroke="#111" stroke-width="0.15">Feb</text><line x1="179.4" y1="302.2" x2="179.4" y2="305.5" stroke="#b8b8b8" stroke-width="0.8"/><text x="179.4" y="317.2" font-size="8.8" fill="#111" text-anchor="middle" stroke="#111" stroke-width="0.15">Mar</text><line x1="204.7" y1="302.2" x2="204.7" y2="305.5" stroke="#b8b8b8" stroke-width="0.8"/><text x="204.7" y="317.2" font-size="8.8" fill="#111" text-anchor="middle" stroke="#111" stroke-width="0.15">Apr</text><line x1="229.2" y1="302.2" x2="229.2" y2="305.5" stroke="#b8b8b8" stroke-width="0.8"/><text x="229.2" y="317.2" font-size="8.8" fill="#111" text-anchor="middle" stroke="#111" stroke-width="0.15">May</text><line x1="254.4" y1="302.2" x2="254.4" y2="305.5" stroke="#b8b8b8" stroke-width="0.8"/><text x="254.4" y="317.2" font-size="8.8" fill="#111" text-anchor="middle" stroke="#111" stroke-width="0.15">Jun</text><line x1="278.9" y1="302.2" x2="278.9" y2="305.5" stroke="#b8b8b8" stroke-width="0.8"/><text x="278.9" y="317.2" font-size="8.8" fill="#111" text-anchor="middle" stroke="#111" stroke-width="0.15">Jul</text><line x1="304.2" y1="302.2" x2="304.2" y2="305.5" stroke="#b8b8b8" stroke-width="0.8"/><text x="304.2" y="317.2" font-size="8.8" fill="#111" text-anchor="middle" stroke="#111" stroke-width="0.15">Aug</text><line x1="329.4" y1="302.2" x2="329.4" y2="305.5" stroke="#b8b8b8" stroke-width="0.8"/><text x="329.4" y="317.2" font-size="8.8" fill="#111" text-anchor="middle" stroke="#111" stroke-width="0.15">Sep</text><line x1="353.9" y1="302.2" x2="353.9" y2="305.5" stroke="#b8b8b8" stroke-width="0.8"/><text x="353.9" y="317.2" font-size="8.8" fill="#111" text-anchor="middle" stroke="#111" stroke-width="0.15">Oct</text><line x1="379.2" y1="302.2" x2="379.2" y2="305.5" stroke="#b8b8b8" stroke-width="0.8"/><text x="379.2" y="317.2" font-size="8.8" fill="#111" text-anchor="middle" stroke="#111" stroke-width="0.15">Nov</text><line x1="403.6" y1="302.2" x2="403.6" y2="305.5" stroke="#b8b8b8" stroke-width="0.8"/><text x="403.6" y="317.2" font-size="8.8" fill="#111" text-anchor="middle" stroke="#111" stroke-width="0.15">Dec</text><text x="277.2" y="328" font-size="8.6" fill="#222" text-anchor="middle" stroke="#222" stroke-width="0.12">Time (Month)</text><text transform="translate(28.6,243.4) rotate(-90)" font-size="9.9" fill="#8179b5" stroke="#8179b5" stroke-width="0.15" text-anchor="middle">ADT (cm)</text><text transform="translate(98.0,243.4) rotate(-90)" font-size="10.0" fill="#f095ad" stroke="#f095ad" stroke-width="0.15" text-anchor="middle" xml:space="preserve">Height Difference  (cm)</text><text transform="translate(471.8,241.7) rotate(-90)" font-size="10.6" fill="#3aa3d4" stroke="#3aa3d4" stroke-width="0.15" text-anchor="middle">KE (cm<tspan dy="-3.3" font-size="6.8">2</tspan><tspan dy="3.3"> s</tspan><tspan dy="-3.3" font-size="6.8">-2</tspan><tspan dy="3.3">)</tspan></text><text transform="translate(543.7,242.1) rotate(-90)" font-size="10.7" fill="#a0d3b1" stroke="#a0d3b1" stroke-width="0.12" text-anchor="middle" xml:space="preserve">Vorticity   (×10<tspan dy="-3.3" font-size="6.8">-5</tspan><tspan dy="3.3"> s</tspan><tspan dy="-3.3" font-size="6.8">-1</tspan><tspan dy="3.3">)</tspan></text><text x="130.9" y="200" font-size="12.7" fill="#111" text-anchor="start">d</text><polyline points="131.3,216.5 156.6,194.6 179.4,214.4 204.7,250.2 229.2,300 254.4,276.8 278.9,235 304.2,233.7 329.4,225.1 353.9,235.5 379.2,201.4 403.6,194.4" fill="none" stroke="#9fd4b1" stroke-width="2.15" stroke-linejoin="round"/><polyline points="131.3,268.2 156.6,279.8 179.4,252.2 204.7,235.7 229.2,194.4 254.4,213.6 278.9,244.5 304.2,266.4 329.4,277.4 353.9,257.2 379.2,286.7 403.6,286.7" fill="none" stroke="#f0879f" stroke-width="2.15" stroke-linejoin="round"/><polyline points="131.3,264.4 156.6,250.4 179.4,235.5 204.7,203.1 229.2,202.6 254.4,217.3 278.9,245 304.2,265 329.4,279.4 353.9,276.7 379.2,284.6 403.6,278.3" fill="none" stroke="#1f9fd9" stroke-width="2.15" stroke-linejoin="round"/><polyline points="131.3,272.6 156.6,290 179.4,298 204.7,286.4 229.2,249.4 254.4,232 278.9,220 304.2,197.7 329.4,191.7 353.9,192.8 379.2,222.5 403.6,251.2" fill="none" stroke="#7d60b8" stroke-width="2.15" stroke-linejoin="round"/></svg>
</body></html>
